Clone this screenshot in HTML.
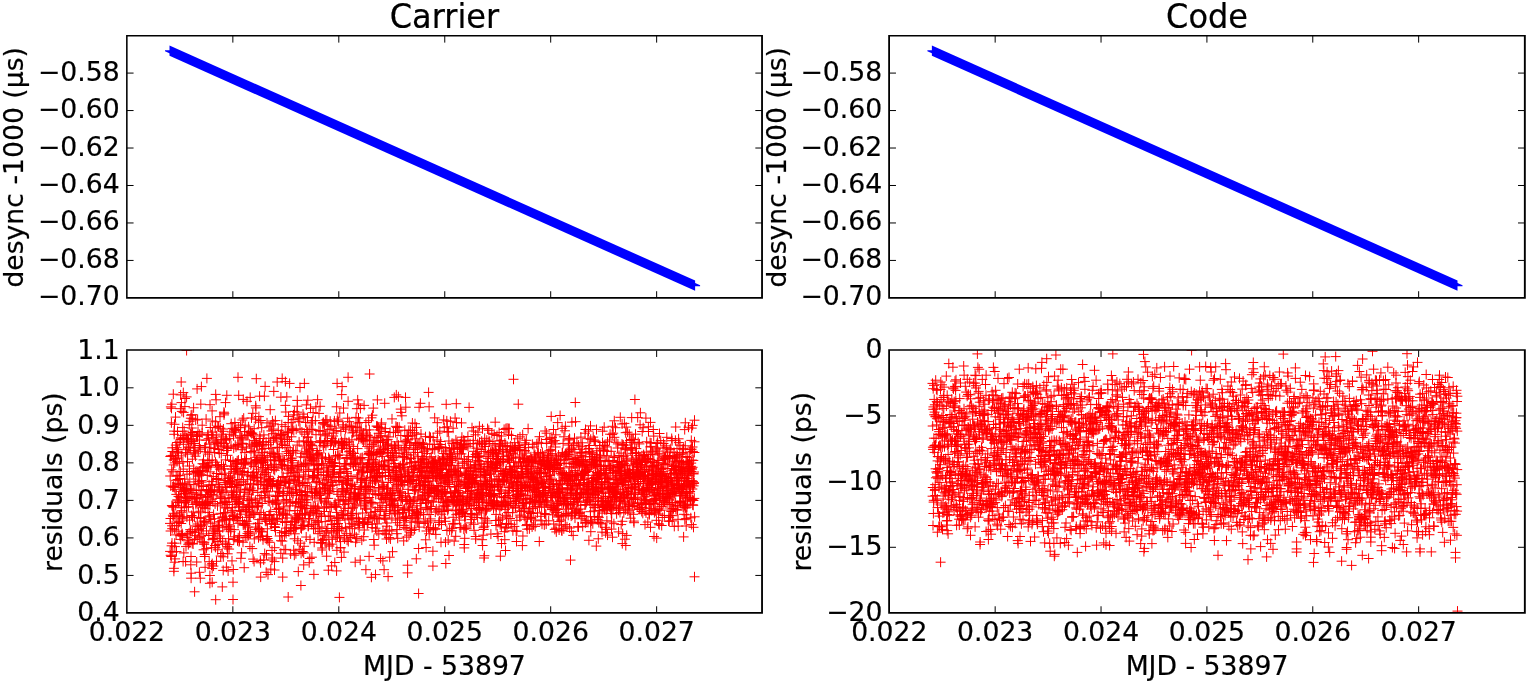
<!DOCTYPE html>
<html lang="en"><head><meta charset="utf-8"><title>Carrier / Code residuals</title>
<style>
html,body{margin:0;padding:0;background:#fff;overflow:hidden}
svg{display:block;font-family:'DejaVu Sans','Liberation Sans',sans-serif;fill:#000}
text{stroke:#000;stroke-width:0.2px;stroke-linejoin:round}
</style></head>
<body>
<svg width="1529" height="684" viewBox="0 0 1529 684">
<rect width="1529" height="684" fill="#fff"/>
<rect x="126.9" y="35.95" width="635.1" height="261.95" fill="#fff"/>
<rect x="889.3" y="35.95" width="635.4" height="261.95" fill="#fff"/>
<rect x="126.9" y="350.3" width="635.1" height="262.65" fill="#fff"/>
<rect x="889.3" y="350.3" width="635.4" height="262.65" fill="#fff"/>
<polygon points="169.5,45.6 695.1,280.55 695.1,290.75 169.5,55.8" fill="#0000ff"/>
<polygon points="165,50.2 170,50.2 170,53.44 165,51.2" fill="#0000ff"/>
<polygon points="700.1,286.15 694.6,286.15 694.6,282.69 700.1,285.15" fill="#0000ff"/>
<polygon points="931.9,45.6 1457.5,280.55 1457.5,290.75 931.9,55.8" fill="#0000ff"/>
<polygon points="927.4,50.2 932.4,50.2 932.4,53.44 927.4,51.2" fill="#0000ff"/>
<polygon points="1462.5,286.15 1457,286.15 1457,282.69 1462.5,285.15" fill="#0000ff"/>
<clipPath id="c10"><rect x="126.9" y="350.3" width="635.1" height="262.65"/></clipPath>
<path clip-path="url(#c10)" d="M165.0 523.4h10m-5 -5v10M165.1 551.4h10m-5 -5v10M165.2 476.0h10m-5 -5v10M165.3 456.4h10m-5 -5v10M165.5 518.5h10m-5 -5v10M165.6 531.0h10m-5 -5v10M165.7 555.3h10m-5 -5v10M165.8 486.0h10m-5 -5v10M165.9 406.9h10m-5 -5v10M166.0 456.1h10m-5 -5v10M166.2 456.0h10m-5 -5v10M166.3 556.5h10m-5 -5v10M166.4 422.9h10m-5 -5v10M166.5 408.3h10m-5 -5v10M166.6 545.8h10m-5 -5v10M166.7 469.9h10m-5 -5v10M166.9 505.6h10m-5 -5v10M167.0 543.1h10m-5 -5v10M167.1 525.8h10m-5 -5v10M167.2 528.7h10m-5 -5v10M167.3 447.8h10m-5 -5v10M167.4 451.5h10m-5 -5v10M167.6 506.4h10m-5 -5v10M167.7 486.9h10m-5 -5v10M167.8 552.2h10m-5 -5v10M167.9 515.2h10m-5 -5v10M168.0 471.8h10m-5 -5v10M168.1 455.4h10m-5 -5v10M168.3 516.6h10m-5 -5v10M168.4 486.5h10m-5 -5v10M168.5 507.3h10m-5 -5v10M168.6 464.9h10m-5 -5v10M168.7 486.4h10m-5 -5v10M168.8 459.9h10m-5 -5v10M169.0 513.3h10m-5 -5v10M169.1 431.1h10m-5 -5v10M169.2 434.3h10m-5 -5v10M169.3 487.4h10m-5 -5v10M169.4 529.3h10m-5 -5v10M169.5 424.3h10m-5 -5v10M169.7 543.2h10m-5 -5v10M169.8 462.9h10m-5 -5v10M169.9 546.6h10m-5 -5v10M170.0 516.6h10m-5 -5v10M170.1 558.9h10m-5 -5v10M170.2 489.3h10m-5 -5v10M170.4 458.9h10m-5 -5v10M170.5 417.1h10m-5 -5v10M170.6 458.2h10m-5 -5v10M170.7 505.5h10m-5 -5v10M170.8 445.1h10m-5 -5v10M170.9 480.3h10m-5 -5v10M171.1 534.9h10m-5 -5v10M171.2 475.9h10m-5 -5v10M171.3 494.4h10m-5 -5v10M171.4 525.6h10m-5 -5v10M171.5 551.6h10m-5 -5v10M171.6 447.7h10m-5 -5v10M171.8 515.9h10m-5 -5v10M171.9 458.1h10m-5 -5v10M172.0 461.6h10m-5 -5v10M172.1 442.5h10m-5 -5v10M172.2 500.9h10m-5 -5v10M172.3 499.8h10m-5 -5v10M172.5 431.5h10m-5 -5v10M172.6 449.4h10m-5 -5v10M172.7 479.5h10m-5 -5v10M172.8 451.2h10m-5 -5v10M172.9 475.3h10m-5 -5v10M173.0 522.8h10m-5 -5v10M173.2 531.1h10m-5 -5v10M173.3 453.0h10m-5 -5v10M173.4 452.7h10m-5 -5v10M173.5 496.4h10m-5 -5v10M173.6 483.4h10m-5 -5v10M173.7 502.4h10m-5 -5v10M173.9 502.4h10m-5 -5v10M174.0 522.2h10m-5 -5v10M174.1 521.8h10m-5 -5v10M174.2 442.1h10m-5 -5v10M174.3 475.7h10m-5 -5v10M174.4 463.3h10m-5 -5v10M174.6 515.1h10m-5 -5v10M174.7 516.8h10m-5 -5v10M174.8 497.0h10m-5 -5v10M174.9 535.7h10m-5 -5v10M175.0 478.5h10m-5 -5v10M175.1 484.5h10m-5 -5v10M175.3 471.5h10m-5 -5v10M175.4 408.7h10m-5 -5v10M175.5 485.7h10m-5 -5v10M175.6 439.5h10m-5 -5v10M175.7 539.4h10m-5 -5v10M175.8 437.9h10m-5 -5v10M176.0 497.9h10m-5 -5v10M176.1 512.2h10m-5 -5v10M176.2 523.5h10m-5 -5v10M176.3 491.4h10m-5 -5v10M176.4 455.9h10m-5 -5v10M176.5 507.8h10m-5 -5v10M176.7 510.7h10m-5 -5v10M176.8 534.4h10m-5 -5v10M176.9 411.4h10m-5 -5v10M177.0 535.5h10m-5 -5v10M177.1 487.7h10m-5 -5v10M177.2 533.6h10m-5 -5v10M177.4 483.7h10m-5 -5v10M177.5 518.3h10m-5 -5v10M177.6 536.1h10m-5 -5v10M177.7 427.6h10m-5 -5v10M177.8 435.7h10m-5 -5v10M177.9 461.9h10m-5 -5v10M178.1 561.5h10m-5 -5v10M178.2 438.5h10m-5 -5v10M178.3 469.1h10m-5 -5v10M178.4 444.3h10m-5 -5v10M178.5 490.7h10m-5 -5v10M178.6 412.4h10m-5 -5v10M178.8 552.9h10m-5 -5v10M178.9 516.9h10m-5 -5v10M179.0 502.9h10m-5 -5v10M179.1 437.9h10m-5 -5v10M179.2 431.2h10m-5 -5v10M179.3 507.0h10m-5 -5v10M179.5 491.6h10m-5 -5v10M179.6 493.6h10m-5 -5v10M179.7 479.2h10m-5 -5v10M179.8 483.1h10m-5 -5v10M179.9 406.6h10m-5 -5v10M180.0 398.5h10m-5 -5v10M180.2 489.3h10m-5 -5v10M180.3 502.3h10m-5 -5v10M180.4 493.8h10m-5 -5v10M180.5 501.8h10m-5 -5v10M180.6 452.6h10m-5 -5v10M180.7 498.0h10m-5 -5v10M180.9 435.3h10m-5 -5v10M181.0 546.6h10m-5 -5v10M181.1 497.7h10m-5 -5v10M181.2 449.7h10m-5 -5v10M181.3 500.5h10m-5 -5v10M181.4 438.3h10m-5 -5v10M181.6 488.7h10m-5 -5v10M181.7 507.3h10m-5 -5v10M181.8 490.3h10m-5 -5v10M181.9 517.1h10m-5 -5v10M182.0 474.2h10m-5 -5v10M182.1 537.6h10m-5 -5v10M182.3 534.0h10m-5 -5v10M182.4 438.8h10m-5 -5v10M182.5 461.6h10m-5 -5v10M182.6 454.1h10m-5 -5v10M182.7 498.8h10m-5 -5v10M182.8 540.8h10m-5 -5v10M183.0 484.7h10m-5 -5v10M183.1 442.1h10m-5 -5v10M183.2 439.6h10m-5 -5v10M183.3 544.7h10m-5 -5v10M183.4 506.7h10m-5 -5v10M183.5 441.1h10m-5 -5v10M183.7 543.1h10m-5 -5v10M183.8 447.0h10m-5 -5v10M183.9 447.9h10m-5 -5v10M184.0 496.5h10m-5 -5v10M184.1 533.1h10m-5 -5v10M184.2 424.7h10m-5 -5v10M184.4 466.0h10m-5 -5v10M184.5 471.5h10m-5 -5v10M184.6 520.1h10m-5 -5v10M184.7 421.3h10m-5 -5v10M184.8 481.9h10m-5 -5v10M184.9 542.9h10m-5 -5v10M185.1 492.2h10m-5 -5v10M185.2 529.7h10m-5 -5v10M185.3 447.9h10m-5 -5v10M185.4 433.9h10m-5 -5v10M185.5 489.0h10m-5 -5v10M185.6 531.5h10m-5 -5v10M185.8 564.8h10m-5 -5v10M185.9 418.2h10m-5 -5v10M186.0 556.5h10m-5 -5v10M186.1 415.2h10m-5 -5v10M186.2 438.8h10m-5 -5v10M186.3 434.7h10m-5 -5v10M186.5 440.9h10m-5 -5v10M186.6 515.5h10m-5 -5v10M186.7 490.3h10m-5 -5v10M186.8 428.0h10m-5 -5v10M186.9 499.0h10m-5 -5v10M187.0 414.7h10m-5 -5v10M187.2 543.4h10m-5 -5v10M187.3 531.4h10m-5 -5v10M187.4 459.2h10m-5 -5v10M187.5 517.6h10m-5 -5v10M187.6 432.5h10m-5 -5v10M187.7 418.9h10m-5 -5v10M187.9 504.3h10m-5 -5v10M188.0 492.8h10m-5 -5v10M188.1 544.0h10m-5 -5v10M188.2 441.4h10m-5 -5v10M188.3 512.0h10m-5 -5v10M188.4 473.9h10m-5 -5v10M188.6 407.8h10m-5 -5v10M188.7 468.7h10m-5 -5v10M188.8 450.6h10m-5 -5v10M188.9 484.4h10m-5 -5v10M189.0 452.3h10m-5 -5v10M189.1 443.4h10m-5 -5v10M189.3 443.6h10m-5 -5v10M189.4 517.2h10m-5 -5v10M189.5 539.5h10m-5 -5v10M189.6 498.7h10m-5 -5v10M189.7 453.8h10m-5 -5v10M189.8 532.6h10m-5 -5v10M190.0 497.6h10m-5 -5v10M190.1 447.6h10m-5 -5v10M190.2 472.0h10m-5 -5v10M190.3 535.7h10m-5 -5v10M190.4 479.1h10m-5 -5v10M190.5 456.2h10m-5 -5v10M190.7 420.0h10m-5 -5v10M190.8 525.9h10m-5 -5v10M190.9 504.4h10m-5 -5v10M191.0 502.9h10m-5 -5v10M191.1 470.9h10m-5 -5v10M191.2 490.0h10m-5 -5v10M191.4 501.8h10m-5 -5v10M191.5 436.3h10m-5 -5v10M191.6 494.2h10m-5 -5v10M191.7 562.0h10m-5 -5v10M191.8 498.6h10m-5 -5v10M191.9 496.9h10m-5 -5v10M192.1 472.5h10m-5 -5v10M192.2 539.0h10m-5 -5v10M192.3 524.0h10m-5 -5v10M192.4 435.7h10m-5 -5v10M192.5 436.3h10m-5 -5v10M192.6 419.3h10m-5 -5v10M192.8 471.5h10m-5 -5v10M192.9 504.3h10m-5 -5v10M193.0 431.5h10m-5 -5v10M193.1 526.6h10m-5 -5v10M193.2 451.3h10m-5 -5v10M193.3 472.8h10m-5 -5v10M193.5 512.8h10m-5 -5v10M193.6 530.8h10m-5 -5v10M193.7 483.4h10m-5 -5v10M193.8 476.0h10m-5 -5v10M193.9 529.6h10m-5 -5v10M194.0 490.5h10m-5 -5v10M194.2 481.4h10m-5 -5v10M194.3 537.7h10m-5 -5v10M194.4 440.0h10m-5 -5v10M194.5 445.5h10m-5 -5v10M194.6 502.1h10m-5 -5v10M194.7 434.3h10m-5 -5v10M194.9 471.4h10m-5 -5v10M195.0 473.1h10m-5 -5v10M195.1 471.1h10m-5 -5v10M195.2 517.6h10m-5 -5v10M195.3 449.1h10m-5 -5v10M195.4 511.2h10m-5 -5v10M195.6 525.8h10m-5 -5v10M195.7 494.6h10m-5 -5v10M195.8 404.2h10m-5 -5v10M195.9 518.4h10m-5 -5v10M196.0 536.3h10m-5 -5v10M196.1 495.4h10m-5 -5v10M196.2 485.8h10m-5 -5v10M196.4 528.3h10m-5 -5v10M196.5 474.7h10m-5 -5v10M196.6 480.6h10m-5 -5v10M196.7 482.1h10m-5 -5v10M196.8 490.3h10m-5 -5v10M196.9 505.5h10m-5 -5v10M197.1 432.9h10m-5 -5v10M197.2 425.2h10m-5 -5v10M197.3 541.8h10m-5 -5v10M197.4 503.3h10m-5 -5v10M197.5 463.7h10m-5 -5v10M197.6 467.2h10m-5 -5v10M197.8 470.6h10m-5 -5v10M197.9 507.3h10m-5 -5v10M198.0 501.8h10m-5 -5v10M198.1 533.9h10m-5 -5v10M198.2 524.9h10m-5 -5v10M198.3 486.5h10m-5 -5v10M198.5 459.9h10m-5 -5v10M198.6 549.8h10m-5 -5v10M198.7 521.1h10m-5 -5v10M198.8 464.2h10m-5 -5v10M198.9 466.8h10m-5 -5v10M199.0 543.0h10m-5 -5v10M199.2 544.3h10m-5 -5v10M199.3 542.2h10m-5 -5v10M199.4 504.6h10m-5 -5v10M199.5 522.3h10m-5 -5v10M199.6 556.5h10m-5 -5v10M199.7 447.6h10m-5 -5v10M199.9 554.4h10m-5 -5v10M200.0 465.8h10m-5 -5v10M200.1 567.3h10m-5 -5v10M200.2 508.6h10m-5 -5v10M200.3 451.9h10m-5 -5v10M200.4 447.0h10m-5 -5v10M200.6 497.4h10m-5 -5v10M200.7 504.2h10m-5 -5v10M200.8 468.1h10m-5 -5v10M200.9 521.4h10m-5 -5v10M201.0 502.8h10m-5 -5v10M201.1 419.1h10m-5 -5v10M201.3 440.2h10m-5 -5v10M201.4 548.4h10m-5 -5v10M201.5 530.9h10m-5 -5v10M201.6 490.0h10m-5 -5v10M201.7 489.5h10m-5 -5v10M201.8 466.5h10m-5 -5v10M202.0 467.1h10m-5 -5v10M202.1 496.4h10m-5 -5v10M202.2 467.0h10m-5 -5v10M202.3 475.4h10m-5 -5v10M202.4 503.4h10m-5 -5v10M202.5 496.9h10m-5 -5v10M202.7 435.2h10m-5 -5v10M202.8 454.1h10m-5 -5v10M202.9 462.9h10m-5 -5v10M203.0 512.4h10m-5 -5v10M203.1 434.4h10m-5 -5v10M203.2 502.7h10m-5 -5v10M203.4 490.2h10m-5 -5v10M203.5 467.0h10m-5 -5v10M203.6 438.7h10m-5 -5v10M203.7 491.7h10m-5 -5v10M203.8 535.5h10m-5 -5v10M203.9 516.9h10m-5 -5v10M204.1 484.8h10m-5 -5v10M204.2 561.7h10m-5 -5v10M204.3 460.5h10m-5 -5v10M204.4 452.3h10m-5 -5v10M204.5 515.9h10m-5 -5v10M204.6 444.1h10m-5 -5v10M204.8 492.6h10m-5 -5v10M204.9 505.5h10m-5 -5v10M205.0 404.7h10m-5 -5v10M205.1 471.9h10m-5 -5v10M205.2 501.2h10m-5 -5v10M205.3 427.5h10m-5 -5v10M205.5 490.7h10m-5 -5v10M205.6 489.8h10m-5 -5v10M205.7 519.6h10m-5 -5v10M205.8 523.2h10m-5 -5v10M205.9 447.8h10m-5 -5v10M206.0 465.4h10m-5 -5v10M206.2 491.9h10m-5 -5v10M206.3 485.3h10m-5 -5v10M206.4 434.7h10m-5 -5v10M206.5 565.0h10m-5 -5v10M206.6 547.8h10m-5 -5v10M206.7 481.6h10m-5 -5v10M206.9 494.4h10m-5 -5v10M207.0 499.1h10m-5 -5v10M207.1 410.9h10m-5 -5v10M207.2 459.9h10m-5 -5v10M207.3 421.0h10m-5 -5v10M207.4 539.6h10m-5 -5v10M207.6 432.1h10m-5 -5v10M207.7 484.8h10m-5 -5v10M207.8 526.4h10m-5 -5v10M207.9 501.5h10m-5 -5v10M208.0 533.3h10m-5 -5v10M208.1 437.7h10m-5 -5v10M208.3 476.6h10m-5 -5v10M208.4 566.1h10m-5 -5v10M208.5 538.4h10m-5 -5v10M208.6 514.4h10m-5 -5v10M208.7 495.2h10m-5 -5v10M208.8 529.9h10m-5 -5v10M209.0 533.7h10m-5 -5v10M209.1 448.5h10m-5 -5v10M209.2 528.2h10m-5 -5v10M209.3 448.4h10m-5 -5v10M209.4 489.9h10m-5 -5v10M209.5 518.7h10m-5 -5v10M209.7 452.5h10m-5 -5v10M209.8 538.3h10m-5 -5v10M209.9 442.2h10m-5 -5v10M210.0 545.5h10m-5 -5v10M210.1 503.9h10m-5 -5v10M210.2 427.7h10m-5 -5v10M210.4 547.4h10m-5 -5v10M210.5 462.2h10m-5 -5v10M210.6 421.8h10m-5 -5v10M210.7 394.4h10m-5 -5v10M210.8 531.8h10m-5 -5v10M210.9 442.1h10m-5 -5v10M211.1 399.8h10m-5 -5v10M211.2 479.5h10m-5 -5v10M211.3 435.9h10m-5 -5v10M211.4 440.1h10m-5 -5v10M211.5 561.3h10m-5 -5v10M211.6 473.5h10m-5 -5v10M211.8 464.8h10m-5 -5v10M211.9 478.5h10m-5 -5v10M212.0 491.7h10m-5 -5v10M212.1 525.9h10m-5 -5v10M212.2 541.5h10m-5 -5v10M212.3 465.7h10m-5 -5v10M212.5 505.9h10m-5 -5v10M212.6 443.9h10m-5 -5v10M212.7 549.8h10m-5 -5v10M212.8 426.1h10m-5 -5v10M212.9 531.1h10m-5 -5v10M213.0 443.5h10m-5 -5v10M213.2 484.4h10m-5 -5v10M213.3 449.5h10m-5 -5v10M213.4 467.2h10m-5 -5v10M213.5 525.7h10m-5 -5v10M213.6 426.5h10m-5 -5v10M213.7 479.3h10m-5 -5v10M213.9 544.6h10m-5 -5v10M214.0 487.1h10m-5 -5v10M214.1 525.1h10m-5 -5v10M214.2 521.8h10m-5 -5v10M214.3 453.2h10m-5 -5v10M214.4 490.3h10m-5 -5v10M214.6 531.0h10m-5 -5v10M214.7 536.0h10m-5 -5v10M214.8 486.9h10m-5 -5v10M214.9 469.1h10m-5 -5v10M215.0 416.7h10m-5 -5v10M215.1 498.4h10m-5 -5v10M215.3 428.2h10m-5 -5v10M215.4 513.3h10m-5 -5v10M215.5 496.8h10m-5 -5v10M215.6 538.4h10m-5 -5v10M215.7 556.0h10m-5 -5v10M215.8 503.7h10m-5 -5v10M216.0 445.8h10m-5 -5v10M216.1 442.2h10m-5 -5v10M216.2 497.9h10m-5 -5v10M216.3 453.5h10m-5 -5v10M216.4 439.6h10m-5 -5v10M216.5 464.6h10m-5 -5v10M216.7 434.2h10m-5 -5v10M216.8 474.5h10m-5 -5v10M216.9 492.6h10m-5 -5v10M217.0 489.2h10m-5 -5v10M217.1 553.5h10m-5 -5v10M217.2 520.6h10m-5 -5v10M217.4 517.0h10m-5 -5v10M217.5 517.3h10m-5 -5v10M217.6 541.2h10m-5 -5v10M217.7 527.7h10m-5 -5v10M217.8 431.3h10m-5 -5v10M217.9 502.7h10m-5 -5v10M218.1 492.0h10m-5 -5v10M218.2 437.0h10m-5 -5v10M218.3 556.8h10m-5 -5v10M218.4 429.0h10m-5 -5v10M218.5 466.3h10m-5 -5v10M218.6 513.8h10m-5 -5v10M218.8 446.8h10m-5 -5v10M218.9 412.2h10m-5 -5v10M219.0 414.9h10m-5 -5v10M219.1 443.6h10m-5 -5v10M219.2 480.4h10m-5 -5v10M219.3 413.3h10m-5 -5v10M219.5 468.8h10m-5 -5v10M219.6 519.3h10m-5 -5v10M219.7 507.8h10m-5 -5v10M219.8 498.6h10m-5 -5v10M219.9 501.4h10m-5 -5v10M220.0 482.4h10m-5 -5v10M220.2 473.2h10m-5 -5v10M220.3 438.8h10m-5 -5v10M220.4 512.6h10m-5 -5v10M220.5 484.4h10m-5 -5v10M220.6 459.9h10m-5 -5v10M220.7 543.2h10m-5 -5v10M220.9 502.5h10m-5 -5v10M221.0 518.9h10m-5 -5v10M221.1 490.9h10m-5 -5v10M221.2 439.4h10m-5 -5v10M221.3 519.8h10m-5 -5v10M221.4 440.2h10m-5 -5v10M221.6 450.5h10m-5 -5v10M221.7 526.6h10m-5 -5v10M221.8 504.5h10m-5 -5v10M221.9 487.5h10m-5 -5v10M222.0 447.2h10m-5 -5v10M222.1 546.6h10m-5 -5v10M222.3 548.0h10m-5 -5v10M222.4 448.2h10m-5 -5v10M222.5 455.3h10m-5 -5v10M222.6 508.1h10m-5 -5v10M222.7 553.8h10m-5 -5v10M222.8 480.8h10m-5 -5v10M223.0 448.0h10m-5 -5v10M223.1 571.0h10m-5 -5v10M223.2 498.2h10m-5 -5v10M223.3 529.7h10m-5 -5v10M223.4 478.5h10m-5 -5v10M223.5 538.7h10m-5 -5v10M223.7 528.1h10m-5 -5v10M223.8 475.8h10m-5 -5v10M223.9 524.8h10m-5 -5v10M224.0 544.6h10m-5 -5v10M224.1 549.1h10m-5 -5v10M224.2 501.9h10m-5 -5v10M224.4 438.6h10m-5 -5v10M224.5 520.0h10m-5 -5v10M224.6 483.3h10m-5 -5v10M224.7 526.2h10m-5 -5v10M224.8 434.3h10m-5 -5v10M224.9 518.7h10m-5 -5v10M225.1 481.7h10m-5 -5v10M225.2 481.5h10m-5 -5v10M225.3 478.2h10m-5 -5v10M225.4 477.2h10m-5 -5v10M225.5 460.4h10m-5 -5v10M225.6 531.7h10m-5 -5v10M225.8 465.9h10m-5 -5v10M225.9 529.5h10m-5 -5v10M226.0 446.0h10m-5 -5v10M226.1 512.1h10m-5 -5v10M226.2 423.7h10m-5 -5v10M226.3 486.5h10m-5 -5v10M226.5 492.2h10m-5 -5v10M226.6 469.2h10m-5 -5v10M226.7 497.6h10m-5 -5v10M226.8 481.0h10m-5 -5v10M226.9 431.9h10m-5 -5v10M227.0 560.9h10m-5 -5v10M227.1 510.3h10m-5 -5v10M227.3 495.2h10m-5 -5v10M227.4 482.9h10m-5 -5v10M227.5 516.3h10m-5 -5v10M227.6 507.6h10m-5 -5v10M227.7 480.2h10m-5 -5v10M227.8 428.4h10m-5 -5v10M228.0 461.5h10m-5 -5v10M228.1 494.3h10m-5 -5v10M228.2 515.7h10m-5 -5v10M228.3 492.2h10m-5 -5v10M228.4 519.1h10m-5 -5v10M228.5 435.8h10m-5 -5v10M228.7 448.2h10m-5 -5v10M228.8 539.5h10m-5 -5v10M228.9 471.4h10m-5 -5v10M229.0 466.7h10m-5 -5v10M229.1 496.9h10m-5 -5v10M229.2 529.7h10m-5 -5v10M229.4 536.8h10m-5 -5v10M229.5 429.8h10m-5 -5v10M229.6 516.5h10m-5 -5v10M229.7 487.3h10m-5 -5v10M229.8 473.0h10m-5 -5v10M229.9 422.5h10m-5 -5v10M230.1 504.4h10m-5 -5v10M230.2 445.1h10m-5 -5v10M230.3 429.5h10m-5 -5v10M230.4 463.0h10m-5 -5v10M230.5 432.2h10m-5 -5v10M230.6 469.3h10m-5 -5v10M230.8 499.7h10m-5 -5v10M230.9 430.4h10m-5 -5v10M231.0 446.8h10m-5 -5v10M231.1 518.3h10m-5 -5v10M231.2 464.1h10m-5 -5v10M231.3 484.5h10m-5 -5v10M231.5 468.4h10m-5 -5v10M231.6 491.1h10m-5 -5v10M231.7 501.3h10m-5 -5v10M231.8 463.2h10m-5 -5v10M231.9 497.8h10m-5 -5v10M232.0 501.6h10m-5 -5v10M232.2 460.9h10m-5 -5v10M232.3 484.4h10m-5 -5v10M232.4 517.5h10m-5 -5v10M232.5 540.8h10m-5 -5v10M232.6 474.1h10m-5 -5v10M232.7 468.5h10m-5 -5v10M232.9 444.5h10m-5 -5v10M233.0 523.3h10m-5 -5v10M233.1 445.2h10m-5 -5v10M233.2 537.8h10m-5 -5v10M233.3 427.3h10m-5 -5v10M233.4 460.1h10m-5 -5v10M233.6 506.8h10m-5 -5v10M233.7 499.0h10m-5 -5v10M233.8 485.5h10m-5 -5v10M233.9 503.4h10m-5 -5v10M234.0 541.8h10m-5 -5v10M234.1 479.5h10m-5 -5v10M234.3 502.7h10m-5 -5v10M234.4 510.7h10m-5 -5v10M234.5 540.8h10m-5 -5v10M234.6 535.6h10m-5 -5v10M234.7 496.9h10m-5 -5v10M234.8 437.9h10m-5 -5v10M235.0 520.5h10m-5 -5v10M235.1 490.0h10m-5 -5v10M235.2 470.8h10m-5 -5v10M235.3 492.1h10m-5 -5v10M235.4 427.7h10m-5 -5v10M235.5 514.2h10m-5 -5v10M235.7 425.1h10m-5 -5v10M235.8 437.9h10m-5 -5v10M235.9 558.3h10m-5 -5v10M236.0 482.8h10m-5 -5v10M236.1 511.3h10m-5 -5v10M236.2 449.7h10m-5 -5v10M236.4 462.2h10m-5 -5v10M236.5 459.6h10m-5 -5v10M236.6 552.8h10m-5 -5v10M236.7 474.7h10m-5 -5v10M236.8 436.0h10m-5 -5v10M236.9 438.0h10m-5 -5v10M237.1 443.2h10m-5 -5v10M237.2 439.9h10m-5 -5v10M237.3 420.0h10m-5 -5v10M237.4 472.9h10m-5 -5v10M237.5 520.8h10m-5 -5v10M237.6 447.1h10m-5 -5v10M237.8 504.6h10m-5 -5v10M237.9 468.2h10m-5 -5v10M238.0 542.2h10m-5 -5v10M238.1 443.7h10m-5 -5v10M238.2 524.8h10m-5 -5v10M238.3 498.8h10m-5 -5v10M238.5 481.3h10m-5 -5v10M238.6 463.9h10m-5 -5v10M238.7 418.2h10m-5 -5v10M238.8 507.2h10m-5 -5v10M238.9 464.0h10m-5 -5v10M239.0 525.0h10m-5 -5v10M239.2 471.5h10m-5 -5v10M239.3 496.2h10m-5 -5v10M239.4 492.3h10m-5 -5v10M239.5 431.6h10m-5 -5v10M239.6 461.1h10m-5 -5v10M239.7 523.7h10m-5 -5v10M239.9 452.6h10m-5 -5v10M240.0 489.1h10m-5 -5v10M240.1 535.9h10m-5 -5v10M240.2 425.2h10m-5 -5v10M240.3 462.4h10m-5 -5v10M240.4 463.7h10m-5 -5v10M240.6 525.4h10m-5 -5v10M240.7 484.5h10m-5 -5v10M240.8 511.9h10m-5 -5v10M240.9 509.3h10m-5 -5v10M241.0 537.5h10m-5 -5v10M241.1 435.4h10m-5 -5v10M241.3 458.9h10m-5 -5v10M241.4 448.0h10m-5 -5v10M241.5 458.8h10m-5 -5v10M241.6 521.3h10m-5 -5v10M241.7 511.3h10m-5 -5v10M241.8 509.8h10m-5 -5v10M242.0 401.3h10m-5 -5v10M242.1 489.5h10m-5 -5v10M242.2 500.4h10m-5 -5v10M242.3 479.7h10m-5 -5v10M242.4 475.1h10m-5 -5v10M242.5 533.4h10m-5 -5v10M242.7 527.0h10m-5 -5v10M242.8 435.6h10m-5 -5v10M242.9 535.8h10m-5 -5v10M243.0 434.9h10m-5 -5v10M243.1 472.5h10m-5 -5v10M243.2 517.4h10m-5 -5v10M243.4 507.4h10m-5 -5v10M243.5 531.4h10m-5 -5v10M243.6 426.8h10m-5 -5v10M243.7 535.3h10m-5 -5v10M243.8 505.2h10m-5 -5v10M243.9 494.2h10m-5 -5v10M244.1 523.8h10m-5 -5v10M244.2 506.7h10m-5 -5v10M244.3 444.1h10m-5 -5v10M244.4 506.3h10m-5 -5v10M244.5 490.1h10m-5 -5v10M244.6 515.3h10m-5 -5v10M244.8 500.8h10m-5 -5v10M244.9 546.6h10m-5 -5v10M245.0 431.7h10m-5 -5v10M245.1 517.1h10m-5 -5v10M245.2 532.1h10m-5 -5v10M245.3 533.8h10m-5 -5v10M245.5 483.3h10m-5 -5v10M245.6 432.4h10m-5 -5v10M245.7 476.3h10m-5 -5v10M245.8 464.9h10m-5 -5v10M245.9 488.1h10m-5 -5v10M246.0 451.5h10m-5 -5v10M246.2 446.2h10m-5 -5v10M246.3 499.6h10m-5 -5v10M246.4 498.1h10m-5 -5v10M246.5 418.0h10m-5 -5v10M246.6 463.2h10m-5 -5v10M246.7 433.6h10m-5 -5v10M246.9 512.2h10m-5 -5v10M247.0 475.8h10m-5 -5v10M247.1 503.1h10m-5 -5v10M247.2 548.6h10m-5 -5v10M247.3 433.1h10m-5 -5v10M247.4 490.3h10m-5 -5v10M247.6 507.7h10m-5 -5v10M247.7 475.4h10m-5 -5v10M247.8 413.3h10m-5 -5v10M247.9 445.1h10m-5 -5v10M248.0 490.8h10m-5 -5v10M248.1 559.1h10m-5 -5v10M248.3 472.6h10m-5 -5v10M248.4 478.1h10m-5 -5v10M248.5 434.7h10m-5 -5v10M248.6 514.5h10m-5 -5v10M248.7 484.8h10m-5 -5v10M248.8 466.4h10m-5 -5v10M249.0 452.8h10m-5 -5v10M249.1 561.5h10m-5 -5v10M249.2 428.7h10m-5 -5v10M249.3 538.9h10m-5 -5v10M249.4 450.8h10m-5 -5v10M249.5 440.4h10m-5 -5v10M249.7 477.3h10m-5 -5v10M249.8 477.1h10m-5 -5v10M249.9 513.3h10m-5 -5v10M250.0 457.3h10m-5 -5v10M250.1 461.7h10m-5 -5v10M250.2 462.7h10m-5 -5v10M250.4 500.2h10m-5 -5v10M250.5 527.1h10m-5 -5v10M250.6 419.2h10m-5 -5v10M250.7 405.8h10m-5 -5v10M250.8 442.9h10m-5 -5v10M250.9 407.9h10m-5 -5v10M251.1 529.3h10m-5 -5v10M251.2 442.2h10m-5 -5v10M251.3 480.7h10m-5 -5v10M251.4 460.4h10m-5 -5v10M251.5 471.9h10m-5 -5v10M251.6 460.7h10m-5 -5v10M251.8 443.4h10m-5 -5v10M251.9 445.0h10m-5 -5v10M252.0 446.3h10m-5 -5v10M252.1 506.6h10m-5 -5v10M252.2 502.4h10m-5 -5v10M252.3 459.5h10m-5 -5v10M252.5 506.8h10m-5 -5v10M252.6 477.4h10m-5 -5v10M252.7 484.1h10m-5 -5v10M252.8 492.4h10m-5 -5v10M252.9 523.2h10m-5 -5v10M253.0 523.7h10m-5 -5v10M253.2 484.5h10m-5 -5v10M253.3 469.2h10m-5 -5v10M253.4 505.3h10m-5 -5v10M253.5 537.7h10m-5 -5v10M253.6 422.2h10m-5 -5v10M253.7 529.7h10m-5 -5v10M253.9 416.6h10m-5 -5v10M254.0 455.2h10m-5 -5v10M254.1 442.4h10m-5 -5v10M254.2 528.5h10m-5 -5v10M254.3 519.6h10m-5 -5v10M254.4 445.1h10m-5 -5v10M254.6 396.2h10m-5 -5v10M254.7 498.8h10m-5 -5v10M254.8 530.0h10m-5 -5v10M254.9 436.0h10m-5 -5v10M255.0 514.6h10m-5 -5v10M255.1 438.5h10m-5 -5v10M255.3 536.5h10m-5 -5v10M255.4 484.5h10m-5 -5v10M255.5 478.0h10m-5 -5v10M255.6 562.8h10m-5 -5v10M255.7 463.7h10m-5 -5v10M255.8 420.5h10m-5 -5v10M256.0 458.2h10m-5 -5v10M256.1 512.4h10m-5 -5v10M256.2 495.5h10m-5 -5v10M256.3 461.9h10m-5 -5v10M256.4 449.2h10m-5 -5v10M256.5 531.3h10m-5 -5v10M256.7 427.7h10m-5 -5v10M256.8 481.9h10m-5 -5v10M256.9 474.9h10m-5 -5v10M257.0 460.4h10m-5 -5v10M257.1 531.9h10m-5 -5v10M257.2 503.5h10m-5 -5v10M257.4 535.9h10m-5 -5v10M257.5 444.3h10m-5 -5v10M257.6 452.6h10m-5 -5v10M257.7 462.2h10m-5 -5v10M257.8 471.0h10m-5 -5v10M257.9 467.6h10m-5 -5v10M258.0 539.8h10m-5 -5v10M258.2 444.8h10m-5 -5v10M258.3 441.7h10m-5 -5v10M258.4 488.8h10m-5 -5v10M258.5 462.5h10m-5 -5v10M258.6 514.5h10m-5 -5v10M258.7 559.9h10m-5 -5v10M258.9 434.9h10m-5 -5v10M259.0 484.5h10m-5 -5v10M259.1 481.9h10m-5 -5v10M259.2 455.8h10m-5 -5v10M259.3 474.4h10m-5 -5v10M259.4 457.7h10m-5 -5v10M259.6 491.7h10m-5 -5v10M259.7 553.6h10m-5 -5v10M259.8 518.0h10m-5 -5v10M259.9 448.5h10m-5 -5v10M260.0 497.2h10m-5 -5v10M260.1 497.8h10m-5 -5v10M260.3 521.2h10m-5 -5v10M260.4 468.0h10m-5 -5v10M260.5 519.4h10m-5 -5v10M260.6 460.9h10m-5 -5v10M260.7 518.0h10m-5 -5v10M260.8 472.6h10m-5 -5v10M261.0 491.1h10m-5 -5v10M261.1 442.1h10m-5 -5v10M261.2 485.0h10m-5 -5v10M261.3 539.3h10m-5 -5v10M261.4 488.2h10m-5 -5v10M261.5 554.9h10m-5 -5v10M261.7 472.7h10m-5 -5v10M261.8 521.2h10m-5 -5v10M261.9 485.2h10m-5 -5v10M262.0 422.9h10m-5 -5v10M262.1 536.5h10m-5 -5v10M262.2 455.8h10m-5 -5v10M262.4 528.8h10m-5 -5v10M262.5 465.3h10m-5 -5v10M262.6 538.5h10m-5 -5v10M262.7 484.4h10m-5 -5v10M262.8 491.8h10m-5 -5v10M262.9 485.0h10m-5 -5v10M263.1 540.8h10m-5 -5v10M263.2 501.1h10m-5 -5v10M263.3 476.3h10m-5 -5v10M263.4 469.5h10m-5 -5v10M263.5 444.8h10m-5 -5v10M263.6 479.5h10m-5 -5v10M263.8 438.3h10m-5 -5v10M263.9 480.5h10m-5 -5v10M264.0 515.5h10m-5 -5v10M264.1 426.8h10m-5 -5v10M264.2 495.2h10m-5 -5v10M264.3 514.5h10m-5 -5v10M264.5 519.7h10m-5 -5v10M264.6 542.3h10m-5 -5v10M264.7 481.4h10m-5 -5v10M264.8 501.7h10m-5 -5v10M264.9 452.1h10m-5 -5v10M265.0 481.3h10m-5 -5v10M265.2 409.7h10m-5 -5v10M265.3 478.4h10m-5 -5v10M265.4 486.3h10m-5 -5v10M265.5 459.7h10m-5 -5v10M265.6 442.2h10m-5 -5v10M265.7 511.6h10m-5 -5v10M265.9 426.0h10m-5 -5v10M266.0 464.3h10m-5 -5v10M266.1 448.2h10m-5 -5v10M266.2 524.1h10m-5 -5v10M266.3 523.6h10m-5 -5v10M266.4 430.9h10m-5 -5v10M266.6 519.4h10m-5 -5v10M266.7 467.4h10m-5 -5v10M266.8 484.2h10m-5 -5v10M266.9 560.0h10m-5 -5v10M267.0 550.4h10m-5 -5v10M267.1 453.3h10m-5 -5v10M267.3 483.2h10m-5 -5v10M267.4 421.0h10m-5 -5v10M267.5 486.4h10m-5 -5v10M267.6 519.7h10m-5 -5v10M267.7 558.0h10m-5 -5v10M267.8 502.6h10m-5 -5v10M268.0 429.1h10m-5 -5v10M268.1 433.7h10m-5 -5v10M268.2 519.8h10m-5 -5v10M268.3 453.5h10m-5 -5v10M268.4 481.4h10m-5 -5v10M268.5 440.2h10m-5 -5v10M268.7 469.3h10m-5 -5v10M268.8 423.9h10m-5 -5v10M268.9 454.3h10m-5 -5v10M269.0 466.1h10m-5 -5v10M269.1 518.1h10m-5 -5v10M269.2 457.1h10m-5 -5v10M269.4 460.6h10m-5 -5v10M269.5 526.6h10m-5 -5v10M269.6 547.7h10m-5 -5v10M269.7 470.3h10m-5 -5v10M269.8 437.3h10m-5 -5v10M269.9 460.7h10m-5 -5v10M270.1 527.5h10m-5 -5v10M270.2 500.3h10m-5 -5v10M270.3 524.3h10m-5 -5v10M270.4 420.6h10m-5 -5v10M270.5 530.5h10m-5 -5v10M270.6 496.5h10m-5 -5v10M270.8 456.8h10m-5 -5v10M270.9 437.1h10m-5 -5v10M271.0 503.3h10m-5 -5v10M271.1 504.3h10m-5 -5v10M271.2 467.3h10m-5 -5v10M271.3 438.6h10m-5 -5v10M271.5 509.6h10m-5 -5v10M271.6 484.5h10m-5 -5v10M271.7 518.5h10m-5 -5v10M271.8 500.1h10m-5 -5v10M271.9 485.6h10m-5 -5v10M272.0 491.2h10m-5 -5v10M272.2 447.6h10m-5 -5v10M272.3 447.3h10m-5 -5v10M272.4 519.8h10m-5 -5v10M272.5 496.0h10m-5 -5v10M272.6 483.7h10m-5 -5v10M272.7 485.6h10m-5 -5v10M272.9 453.9h10m-5 -5v10M273.0 456.1h10m-5 -5v10M273.1 501.9h10m-5 -5v10M273.2 496.0h10m-5 -5v10M273.3 430.4h10m-5 -5v10M273.4 480.3h10m-5 -5v10M273.6 487.9h10m-5 -5v10M273.7 508.0h10m-5 -5v10M273.8 460.1h10m-5 -5v10M273.9 508.7h10m-5 -5v10M274.0 508.7h10m-5 -5v10M274.1 491.8h10m-5 -5v10M274.3 447.7h10m-5 -5v10M274.4 514.7h10m-5 -5v10M274.5 458.1h10m-5 -5v10M274.6 536.0h10m-5 -5v10M274.7 485.5h10m-5 -5v10M274.8 492.2h10m-5 -5v10M275.0 512.1h10m-5 -5v10M275.1 460.8h10m-5 -5v10M275.2 460.2h10m-5 -5v10M275.3 435.6h10m-5 -5v10M275.4 438.9h10m-5 -5v10M275.5 481.2h10m-5 -5v10M275.7 484.2h10m-5 -5v10M275.8 553.3h10m-5 -5v10M275.9 434.3h10m-5 -5v10M276.0 540.7h10m-5 -5v10M276.1 435.7h10m-5 -5v10M276.2 464.4h10m-5 -5v10M276.4 434.0h10m-5 -5v10M276.5 441.8h10m-5 -5v10M276.6 464.6h10m-5 -5v10M276.7 532.7h10m-5 -5v10M276.8 424.7h10m-5 -5v10M276.9 468.2h10m-5 -5v10M277.1 477.6h10m-5 -5v10M277.2 515.2h10m-5 -5v10M277.3 541.1h10m-5 -5v10M277.4 444.3h10m-5 -5v10M277.5 521.4h10m-5 -5v10M277.6 466.1h10m-5 -5v10M277.8 493.6h10m-5 -5v10M277.9 513.2h10m-5 -5v10M278.0 434.5h10m-5 -5v10M278.1 459.5h10m-5 -5v10M278.2 476.6h10m-5 -5v10M278.3 509.1h10m-5 -5v10M278.5 513.8h10m-5 -5v10M278.6 491.6h10m-5 -5v10M278.7 495.5h10m-5 -5v10M278.8 506.9h10m-5 -5v10M278.9 503.1h10m-5 -5v10M279.0 549.8h10m-5 -5v10M279.2 482.4h10m-5 -5v10M279.3 439.1h10m-5 -5v10M279.4 535.5h10m-5 -5v10M279.5 461.2h10m-5 -5v10M279.6 465.6h10m-5 -5v10M279.7 531.7h10m-5 -5v10M279.9 481.5h10m-5 -5v10M280.0 445.5h10m-5 -5v10M280.1 522.5h10m-5 -5v10M280.2 426.6h10m-5 -5v10M280.3 482.0h10m-5 -5v10M280.4 405.4h10m-5 -5v10M280.6 514.2h10m-5 -5v10M280.7 549.4h10m-5 -5v10M280.8 412.0h10m-5 -5v10M280.9 531.7h10m-5 -5v10M281.0 482.7h10m-5 -5v10M281.1 533.6h10m-5 -5v10M281.3 500.9h10m-5 -5v10M281.4 499.5h10m-5 -5v10M281.5 451.7h10m-5 -5v10M281.6 528.1h10m-5 -5v10M281.7 500.0h10m-5 -5v10M281.8 518.0h10m-5 -5v10M282.0 476.6h10m-5 -5v10M282.1 515.0h10m-5 -5v10M282.2 432.4h10m-5 -5v10M282.3 437.1h10m-5 -5v10M282.4 439.4h10m-5 -5v10M282.5 432.9h10m-5 -5v10M282.7 491.2h10m-5 -5v10M282.8 465.9h10m-5 -5v10M282.9 447.7h10m-5 -5v10M283.0 473.2h10m-5 -5v10M283.1 469.2h10m-5 -5v10M283.2 422.5h10m-5 -5v10M283.4 431.8h10m-5 -5v10M283.5 416.4h10m-5 -5v10M283.6 453.5h10m-5 -5v10M283.7 483.0h10m-5 -5v10M283.8 455.6h10m-5 -5v10M283.9 531.7h10m-5 -5v10M284.1 483.3h10m-5 -5v10M284.2 488.7h10m-5 -5v10M284.3 510.8h10m-5 -5v10M284.4 441.4h10m-5 -5v10M284.5 481.2h10m-5 -5v10M284.6 495.1h10m-5 -5v10M284.8 487.3h10m-5 -5v10M284.9 480.0h10m-5 -5v10M285.0 505.8h10m-5 -5v10M285.1 502.2h10m-5 -5v10M285.2 450.6h10m-5 -5v10M285.3 470.7h10m-5 -5v10M285.5 458.1h10m-5 -5v10M285.6 553.9h10m-5 -5v10M285.7 527.9h10m-5 -5v10M285.8 524.8h10m-5 -5v10M285.9 530.5h10m-5 -5v10M286.0 467.3h10m-5 -5v10M286.2 422.7h10m-5 -5v10M286.3 460.1h10m-5 -5v10M286.4 492.6h10m-5 -5v10M286.5 436.8h10m-5 -5v10M286.6 468.4h10m-5 -5v10M286.7 458.3h10m-5 -5v10M286.9 476.2h10m-5 -5v10M287.0 521.4h10m-5 -5v10M287.1 521.2h10m-5 -5v10M287.2 428.3h10m-5 -5v10M287.3 429.5h10m-5 -5v10M287.4 462.9h10m-5 -5v10M287.6 460.5h10m-5 -5v10M287.7 452.9h10m-5 -5v10M287.8 501.8h10m-5 -5v10M287.9 465.4h10m-5 -5v10M288.0 419.6h10m-5 -5v10M288.1 493.5h10m-5 -5v10M288.3 472.3h10m-5 -5v10M288.4 450.4h10m-5 -5v10M288.5 414.9h10m-5 -5v10M288.6 529.1h10m-5 -5v10M288.7 550.2h10m-5 -5v10M288.8 430.5h10m-5 -5v10M288.9 480.7h10m-5 -5v10M289.1 472.3h10m-5 -5v10M289.2 480.0h10m-5 -5v10M289.3 555.2h10m-5 -5v10M289.4 411.4h10m-5 -5v10M289.5 522.2h10m-5 -5v10M289.6 538.8h10m-5 -5v10M289.8 533.8h10m-5 -5v10M289.9 510.6h10m-5 -5v10M290.0 516.0h10m-5 -5v10M290.1 479.2h10m-5 -5v10M290.2 476.0h10m-5 -5v10M290.3 528.3h10m-5 -5v10M290.5 489.4h10m-5 -5v10M290.6 503.6h10m-5 -5v10M290.7 519.0h10m-5 -5v10M290.8 451.0h10m-5 -5v10M290.9 553.7h10m-5 -5v10M291.0 502.4h10m-5 -5v10M291.2 429.3h10m-5 -5v10M291.3 527.4h10m-5 -5v10M291.4 486.0h10m-5 -5v10M291.5 495.7h10m-5 -5v10M291.6 518.0h10m-5 -5v10M291.7 491.2h10m-5 -5v10M291.9 470.0h10m-5 -5v10M292.0 517.8h10m-5 -5v10M292.1 412.2h10m-5 -5v10M292.2 445.1h10m-5 -5v10M292.3 406.2h10m-5 -5v10M292.4 466.3h10m-5 -5v10M292.6 513.7h10m-5 -5v10M292.7 476.3h10m-5 -5v10M292.8 540.8h10m-5 -5v10M292.9 480.9h10m-5 -5v10M293.0 519.7h10m-5 -5v10M293.1 417.9h10m-5 -5v10M293.3 482.2h10m-5 -5v10M293.4 502.3h10m-5 -5v10M293.5 518.3h10m-5 -5v10M293.6 501.4h10m-5 -5v10M293.7 465.0h10m-5 -5v10M293.8 421.3h10m-5 -5v10M294.0 472.1h10m-5 -5v10M294.1 441.9h10m-5 -5v10M294.2 549.3h10m-5 -5v10M294.3 484.8h10m-5 -5v10M294.4 477.7h10m-5 -5v10M294.5 515.3h10m-5 -5v10M294.7 495.3h10m-5 -5v10M294.8 418.8h10m-5 -5v10M294.9 490.7h10m-5 -5v10M295.0 428.9h10m-5 -5v10M295.1 466.6h10m-5 -5v10M295.2 513.3h10m-5 -5v10M295.4 506.5h10m-5 -5v10M295.5 543.2h10m-5 -5v10M295.6 456.9h10m-5 -5v10M295.7 504.8h10m-5 -5v10M295.8 527.9h10m-5 -5v10M295.9 499.1h10m-5 -5v10M296.1 553.3h10m-5 -5v10M296.2 492.5h10m-5 -5v10M296.3 507.7h10m-5 -5v10M296.4 466.5h10m-5 -5v10M296.5 528.7h10m-5 -5v10M296.6 494.7h10m-5 -5v10M296.8 453.3h10m-5 -5v10M296.9 432.0h10m-5 -5v10M297.0 520.1h10m-5 -5v10M297.1 507.9h10m-5 -5v10M297.2 494.5h10m-5 -5v10M297.3 525.7h10m-5 -5v10M297.5 514.1h10m-5 -5v10M297.6 551.5h10m-5 -5v10M297.7 482.5h10m-5 -5v10M297.8 500.1h10m-5 -5v10M297.9 483.5h10m-5 -5v10M298.0 414.1h10m-5 -5v10M298.2 521.9h10m-5 -5v10M298.3 525.5h10m-5 -5v10M298.4 440.9h10m-5 -5v10M298.5 475.0h10m-5 -5v10M298.6 464.7h10m-5 -5v10M298.7 552.9h10m-5 -5v10M298.9 416.7h10m-5 -5v10M299.0 457.2h10m-5 -5v10M299.1 546.3h10m-5 -5v10M299.2 525.1h10m-5 -5v10M299.3 505.4h10m-5 -5v10M299.4 446.1h10m-5 -5v10M299.6 514.1h10m-5 -5v10M299.7 434.2h10m-5 -5v10M299.8 499.7h10m-5 -5v10M299.9 485.5h10m-5 -5v10M300.0 495.3h10m-5 -5v10M300.1 476.8h10m-5 -5v10M300.3 463.6h10m-5 -5v10M300.4 513.9h10m-5 -5v10M300.5 491.7h10m-5 -5v10M300.6 422.5h10m-5 -5v10M300.7 463.0h10m-5 -5v10M300.8 469.8h10m-5 -5v10M301.0 508.5h10m-5 -5v10M301.1 451.8h10m-5 -5v10M301.2 537.0h10m-5 -5v10M301.3 441.3h10m-5 -5v10M301.4 502.4h10m-5 -5v10M301.5 448.0h10m-5 -5v10M301.7 496.9h10m-5 -5v10M301.8 429.5h10m-5 -5v10M301.9 454.1h10m-5 -5v10M302.0 508.8h10m-5 -5v10M302.1 465.8h10m-5 -5v10M302.2 482.8h10m-5 -5v10M302.4 431.8h10m-5 -5v10M302.5 417.5h10m-5 -5v10M302.6 491.5h10m-5 -5v10M302.7 454.0h10m-5 -5v10M302.8 499.8h10m-5 -5v10M302.9 437.3h10m-5 -5v10M303.1 437.0h10m-5 -5v10M303.2 525.9h10m-5 -5v10M303.3 526.4h10m-5 -5v10M303.4 518.5h10m-5 -5v10M303.5 442.5h10m-5 -5v10M303.6 471.5h10m-5 -5v10M303.8 478.9h10m-5 -5v10M303.9 464.0h10m-5 -5v10M304.0 452.1h10m-5 -5v10M304.1 449.7h10m-5 -5v10M304.2 429.6h10m-5 -5v10M304.3 450.8h10m-5 -5v10M304.5 457.0h10m-5 -5v10M304.6 518.9h10m-5 -5v10M304.7 515.1h10m-5 -5v10M304.8 558.5h10m-5 -5v10M304.9 486.9h10m-5 -5v10M305.0 539.4h10m-5 -5v10M305.2 459.9h10m-5 -5v10M305.3 443.2h10m-5 -5v10M305.4 444.6h10m-5 -5v10M305.5 408.3h10m-5 -5v10M305.6 512.4h10m-5 -5v10M305.7 455.9h10m-5 -5v10M305.9 508.2h10m-5 -5v10M306.0 441.7h10m-5 -5v10M306.1 457.3h10m-5 -5v10M306.2 429.2h10m-5 -5v10M306.3 423.0h10m-5 -5v10M306.4 489.0h10m-5 -5v10M306.6 460.7h10m-5 -5v10M306.7 524.4h10m-5 -5v10M306.8 445.3h10m-5 -5v10M306.9 492.8h10m-5 -5v10M307.0 445.8h10m-5 -5v10M307.1 511.1h10m-5 -5v10M307.3 448.4h10m-5 -5v10M307.4 420.8h10m-5 -5v10M307.5 476.2h10m-5 -5v10M307.6 495.8h10m-5 -5v10M307.7 458.4h10m-5 -5v10M307.8 429.7h10m-5 -5v10M308.0 476.9h10m-5 -5v10M308.1 412.6h10m-5 -5v10M308.2 506.0h10m-5 -5v10M308.3 513.0h10m-5 -5v10M308.4 459.9h10m-5 -5v10M308.5 528.8h10m-5 -5v10M308.7 475.4h10m-5 -5v10M308.8 477.5h10m-5 -5v10M308.9 463.9h10m-5 -5v10M309.0 524.3h10m-5 -5v10M309.1 469.3h10m-5 -5v10M309.2 542.3h10m-5 -5v10M309.4 475.5h10m-5 -5v10M309.5 470.8h10m-5 -5v10M309.6 493.1h10m-5 -5v10M309.7 492.9h10m-5 -5v10M309.8 461.0h10m-5 -5v10M309.9 498.0h10m-5 -5v10M310.1 510.7h10m-5 -5v10M310.2 506.2h10m-5 -5v10M310.3 528.5h10m-5 -5v10M310.4 420.6h10m-5 -5v10M310.5 491.1h10m-5 -5v10M310.6 508.0h10m-5 -5v10M310.8 520.4h10m-5 -5v10M310.9 406.9h10m-5 -5v10M311.0 434.7h10m-5 -5v10M311.1 481.4h10m-5 -5v10M311.2 464.6h10m-5 -5v10M311.3 454.7h10m-5 -5v10M311.5 513.8h10m-5 -5v10M311.6 488.9h10m-5 -5v10M311.7 492.5h10m-5 -5v10M311.8 454.9h10m-5 -5v10M311.9 482.7h10m-5 -5v10M312.0 450.6h10m-5 -5v10M312.2 465.6h10m-5 -5v10M312.3 522.3h10m-5 -5v10M312.4 474.8h10m-5 -5v10M312.5 472.2h10m-5 -5v10M312.6 453.4h10m-5 -5v10M312.7 508.3h10m-5 -5v10M312.9 493.1h10m-5 -5v10M313.0 533.7h10m-5 -5v10M313.1 507.0h10m-5 -5v10M313.2 468.7h10m-5 -5v10M313.3 455.1h10m-5 -5v10M313.4 469.7h10m-5 -5v10M313.6 521.8h10m-5 -5v10M313.7 478.1h10m-5 -5v10M313.8 464.2h10m-5 -5v10M313.9 430.5h10m-5 -5v10M314.0 413.4h10m-5 -5v10M314.1 513.7h10m-5 -5v10M314.3 528.2h10m-5 -5v10M314.4 493.7h10m-5 -5v10M314.5 482.9h10m-5 -5v10M314.6 495.5h10m-5 -5v10M314.7 441.7h10m-5 -5v10M314.8 452.9h10m-5 -5v10M315.0 531.3h10m-5 -5v10M315.1 442.6h10m-5 -5v10M315.2 431.2h10m-5 -5v10M315.3 491.3h10m-5 -5v10M315.4 498.9h10m-5 -5v10M315.5 494.8h10m-5 -5v10M315.7 440.7h10m-5 -5v10M315.8 542.5h10m-5 -5v10M315.9 542.9h10m-5 -5v10M316.0 472.3h10m-5 -5v10M316.1 515.1h10m-5 -5v10M316.2 543.0h10m-5 -5v10M316.4 501.0h10m-5 -5v10M316.5 516.5h10m-5 -5v10M316.6 463.7h10m-5 -5v10M316.7 456.9h10m-5 -5v10M316.8 463.9h10m-5 -5v10M316.9 527.0h10m-5 -5v10M317.1 550.0h10m-5 -5v10M317.2 548.0h10m-5 -5v10M317.3 540.1h10m-5 -5v10M317.4 484.7h10m-5 -5v10M317.5 539.9h10m-5 -5v10M317.6 458.7h10m-5 -5v10M317.8 487.9h10m-5 -5v10M317.9 423.7h10m-5 -5v10M318.0 431.0h10m-5 -5v10M318.1 422.6h10m-5 -5v10M318.2 445.4h10m-5 -5v10M318.3 539.3h10m-5 -5v10M318.5 474.8h10m-5 -5v10M318.6 422.5h10m-5 -5v10M318.7 446.9h10m-5 -5v10M318.8 465.3h10m-5 -5v10M318.9 508.0h10m-5 -5v10M319.0 483.8h10m-5 -5v10M319.2 489.9h10m-5 -5v10M319.3 535.7h10m-5 -5v10M319.4 443.0h10m-5 -5v10M319.5 511.5h10m-5 -5v10M319.6 424.8h10m-5 -5v10M319.7 488.3h10m-5 -5v10M319.8 502.8h10m-5 -5v10M320.0 434.3h10m-5 -5v10M320.1 480.1h10m-5 -5v10M320.2 521.6h10m-5 -5v10M320.3 435.8h10m-5 -5v10M320.4 488.0h10m-5 -5v10M320.5 457.8h10m-5 -5v10M320.7 420.0h10m-5 -5v10M320.8 533.0h10m-5 -5v10M320.9 445.6h10m-5 -5v10M321.0 498.4h10m-5 -5v10M321.1 543.0h10m-5 -5v10M321.2 501.2h10m-5 -5v10M321.4 475.6h10m-5 -5v10M321.5 506.8h10m-5 -5v10M321.6 530.7h10m-5 -5v10M321.7 468.0h10m-5 -5v10M321.8 479.3h10m-5 -5v10M321.9 419.8h10m-5 -5v10M322.1 433.2h10m-5 -5v10M322.2 441.5h10m-5 -5v10M322.3 485.4h10m-5 -5v10M322.4 440.5h10m-5 -5v10M322.5 471.7h10m-5 -5v10M322.6 493.6h10m-5 -5v10M322.8 528.5h10m-5 -5v10M322.9 425.2h10m-5 -5v10M323.0 467.1h10m-5 -5v10M323.1 504.1h10m-5 -5v10M323.2 498.4h10m-5 -5v10M323.3 516.5h10m-5 -5v10M323.5 477.7h10m-5 -5v10M323.6 470.1h10m-5 -5v10M323.7 457.7h10m-5 -5v10M323.8 490.6h10m-5 -5v10M323.9 537.1h10m-5 -5v10M324.0 544.9h10m-5 -5v10M324.2 429.4h10m-5 -5v10M324.3 546.1h10m-5 -5v10M324.4 459.4h10m-5 -5v10M324.5 459.8h10m-5 -5v10M324.6 492.9h10m-5 -5v10M324.7 491.2h10m-5 -5v10M324.9 507.3h10m-5 -5v10M325.0 516.1h10m-5 -5v10M325.1 486.2h10m-5 -5v10M325.2 421.2h10m-5 -5v10M325.3 461.4h10m-5 -5v10M325.4 516.1h10m-5 -5v10M325.6 443.9h10m-5 -5v10M325.7 488.9h10m-5 -5v10M325.8 426.4h10m-5 -5v10M325.9 476.6h10m-5 -5v10M326.0 482.2h10m-5 -5v10M326.1 520.6h10m-5 -5v10M326.3 506.9h10m-5 -5v10M326.4 531.2h10m-5 -5v10M326.5 441.8h10m-5 -5v10M326.6 463.2h10m-5 -5v10M326.7 524.5h10m-5 -5v10M326.8 438.4h10m-5 -5v10M327.0 482.3h10m-5 -5v10M327.1 524.2h10m-5 -5v10M327.2 544.1h10m-5 -5v10M327.3 539.3h10m-5 -5v10M327.4 462.8h10m-5 -5v10M327.5 485.3h10m-5 -5v10M327.7 440.8h10m-5 -5v10M327.8 473.1h10m-5 -5v10M327.9 474.6h10m-5 -5v10M328.0 485.0h10m-5 -5v10M328.1 436.0h10m-5 -5v10M328.2 466.4h10m-5 -5v10M328.4 472.0h10m-5 -5v10M328.5 449.5h10m-5 -5v10M328.6 433.1h10m-5 -5v10M328.7 465.5h10m-5 -5v10M328.8 532.9h10m-5 -5v10M328.9 528.4h10m-5 -5v10M329.1 504.9h10m-5 -5v10M329.2 477.1h10m-5 -5v10M329.3 524.4h10m-5 -5v10M329.4 420.9h10m-5 -5v10M329.5 469.6h10m-5 -5v10M329.6 463.4h10m-5 -5v10M329.8 442.3h10m-5 -5v10M329.9 428.1h10m-5 -5v10M330.0 502.9h10m-5 -5v10M330.1 505.0h10m-5 -5v10M330.2 462.9h10m-5 -5v10M330.3 442.3h10m-5 -5v10M330.5 456.2h10m-5 -5v10M330.6 455.8h10m-5 -5v10M330.7 506.4h10m-5 -5v10M330.8 441.3h10m-5 -5v10M330.9 538.0h10m-5 -5v10M331.0 480.5h10m-5 -5v10M331.2 430.6h10m-5 -5v10M331.3 530.7h10m-5 -5v10M331.4 518.4h10m-5 -5v10M331.5 512.4h10m-5 -5v10M331.6 507.2h10m-5 -5v10M331.7 506.9h10m-5 -5v10M331.9 550.3h10m-5 -5v10M332.0 491.5h10m-5 -5v10M332.1 530.3h10m-5 -5v10M332.2 420.9h10m-5 -5v10M332.3 517.2h10m-5 -5v10M332.4 536.0h10m-5 -5v10M332.6 526.5h10m-5 -5v10M332.7 455.4h10m-5 -5v10M332.8 419.1h10m-5 -5v10M332.9 494.3h10m-5 -5v10M333.0 523.5h10m-5 -5v10M333.1 455.3h10m-5 -5v10M333.3 517.9h10m-5 -5v10M333.4 421.7h10m-5 -5v10M333.5 476.6h10m-5 -5v10M333.6 443.9h10m-5 -5v10M333.7 500.8h10m-5 -5v10M333.8 443.1h10m-5 -5v10M334.0 530.8h10m-5 -5v10M334.1 481.2h10m-5 -5v10M334.2 457.9h10m-5 -5v10M334.3 472.7h10m-5 -5v10M334.4 528.9h10m-5 -5v10M334.5 537.4h10m-5 -5v10M334.7 466.6h10m-5 -5v10M334.8 413.0h10m-5 -5v10M334.9 520.2h10m-5 -5v10M335.0 455.0h10m-5 -5v10M335.1 499.8h10m-5 -5v10M335.2 477.4h10m-5 -5v10M335.4 547.8h10m-5 -5v10M335.5 541.6h10m-5 -5v10M335.6 547.7h10m-5 -5v10M335.7 471.9h10m-5 -5v10M335.8 473.2h10m-5 -5v10M335.9 431.4h10m-5 -5v10M336.1 496.4h10m-5 -5v10M336.2 442.6h10m-5 -5v10M336.3 514.1h10m-5 -5v10M336.4 557.4h10m-5 -5v10M336.5 441.5h10m-5 -5v10M336.6 448.1h10m-5 -5v10M336.8 528.6h10m-5 -5v10M336.9 481.9h10m-5 -5v10M337.0 489.9h10m-5 -5v10M337.1 484.3h10m-5 -5v10M337.2 445.8h10m-5 -5v10M337.3 442.8h10m-5 -5v10M337.5 448.4h10m-5 -5v10M337.6 515.4h10m-5 -5v10M337.7 492.0h10m-5 -5v10M337.8 424.9h10m-5 -5v10M337.9 501.1h10m-5 -5v10M338.0 488.6h10m-5 -5v10M338.2 482.3h10m-5 -5v10M338.3 445.0h10m-5 -5v10M338.4 427.0h10m-5 -5v10M338.5 514.3h10m-5 -5v10M338.6 499.8h10m-5 -5v10M338.7 510.7h10m-5 -5v10M338.9 491.2h10m-5 -5v10M339.0 469.7h10m-5 -5v10M339.1 442.8h10m-5 -5v10M339.2 535.6h10m-5 -5v10M339.3 463.8h10m-5 -5v10M339.4 444.9h10m-5 -5v10M339.6 538.9h10m-5 -5v10M339.7 504.6h10m-5 -5v10M339.8 463.5h10m-5 -5v10M339.9 438.9h10m-5 -5v10M340.0 518.3h10m-5 -5v10M340.1 508.3h10m-5 -5v10M340.3 480.5h10m-5 -5v10M340.4 429.2h10m-5 -5v10M340.5 494.2h10m-5 -5v10M340.6 527.6h10m-5 -5v10M340.7 465.1h10m-5 -5v10M340.8 500.2h10m-5 -5v10M341.0 427.8h10m-5 -5v10M341.1 468.7h10m-5 -5v10M341.2 458.6h10m-5 -5v10M341.3 442.7h10m-5 -5v10M341.4 490.3h10m-5 -5v10M341.5 483.7h10m-5 -5v10M341.7 533.7h10m-5 -5v10M341.8 471.6h10m-5 -5v10M341.9 448.4h10m-5 -5v10M342.0 473.4h10m-5 -5v10M342.1 540.1h10m-5 -5v10M342.2 457.5h10m-5 -5v10M342.4 480.5h10m-5 -5v10M342.5 488.3h10m-5 -5v10M342.6 418.2h10m-5 -5v10M342.7 515.4h10m-5 -5v10M342.8 476.0h10m-5 -5v10M342.9 478.4h10m-5 -5v10M343.1 480.5h10m-5 -5v10M343.2 508.4h10m-5 -5v10M343.3 541.5h10m-5 -5v10M343.4 479.9h10m-5 -5v10M343.5 501.8h10m-5 -5v10M343.6 503.4h10m-5 -5v10M343.8 519.8h10m-5 -5v10M343.9 492.2h10m-5 -5v10M344.0 441.8h10m-5 -5v10M344.1 451.8h10m-5 -5v10M344.2 421.7h10m-5 -5v10M344.3 497.2h10m-5 -5v10M344.5 451.1h10m-5 -5v10M344.6 444.9h10m-5 -5v10M344.7 526.4h10m-5 -5v10M344.8 425.2h10m-5 -5v10M344.9 535.5h10m-5 -5v10M345.0 485.6h10m-5 -5v10M345.2 515.6h10m-5 -5v10M345.3 455.4h10m-5 -5v10M345.4 494.1h10m-5 -5v10M345.5 451.3h10m-5 -5v10M345.6 464.5h10m-5 -5v10M345.7 537.5h10m-5 -5v10M345.9 499.2h10m-5 -5v10M346.0 476.4h10m-5 -5v10M346.1 484.9h10m-5 -5v10M346.2 513.4h10m-5 -5v10M346.3 523.7h10m-5 -5v10M346.4 426.5h10m-5 -5v10M346.6 488.4h10m-5 -5v10M346.7 459.0h10m-5 -5v10M346.8 513.4h10m-5 -5v10M346.9 439.9h10m-5 -5v10M347.0 518.0h10m-5 -5v10M347.1 463.3h10m-5 -5v10M347.3 528.7h10m-5 -5v10M347.4 432.9h10m-5 -5v10M347.5 453.4h10m-5 -5v10M347.6 508.2h10m-5 -5v10M347.7 484.2h10m-5 -5v10M347.8 430.8h10m-5 -5v10M348.0 518.8h10m-5 -5v10M348.1 507.3h10m-5 -5v10M348.2 463.6h10m-5 -5v10M348.3 446.4h10m-5 -5v10M348.4 453.2h10m-5 -5v10M348.5 466.2h10m-5 -5v10M348.7 432.3h10m-5 -5v10M348.8 498.8h10m-5 -5v10M348.9 453.5h10m-5 -5v10M349.0 495.0h10m-5 -5v10M349.1 458.9h10m-5 -5v10M349.2 492.9h10m-5 -5v10M349.4 506.0h10m-5 -5v10M349.5 534.2h10m-5 -5v10M349.6 486.6h10m-5 -5v10M349.7 462.1h10m-5 -5v10M349.8 500.2h10m-5 -5v10M349.9 524.7h10m-5 -5v10M350.1 493.1h10m-5 -5v10M350.2 488.9h10m-5 -5v10M350.3 496.7h10m-5 -5v10M350.4 457.0h10m-5 -5v10M350.5 463.8h10m-5 -5v10M350.6 542.2h10m-5 -5v10M350.7 427.3h10m-5 -5v10M350.9 504.1h10m-5 -5v10M351.0 417.4h10m-5 -5v10M351.1 464.5h10m-5 -5v10M351.2 536.9h10m-5 -5v10M351.3 513.9h10m-5 -5v10M351.4 498.3h10m-5 -5v10M351.6 517.9h10m-5 -5v10M351.7 435.9h10m-5 -5v10M351.8 538.6h10m-5 -5v10M351.9 408.7h10m-5 -5v10M352.0 477.0h10m-5 -5v10M352.1 427.2h10m-5 -5v10M352.3 460.0h10m-5 -5v10M352.4 478.3h10m-5 -5v10M352.5 499.0h10m-5 -5v10M352.6 448.6h10m-5 -5v10M352.7 475.0h10m-5 -5v10M352.8 423.1h10m-5 -5v10M353.0 493.5h10m-5 -5v10M353.1 525.2h10m-5 -5v10M353.2 469.9h10m-5 -5v10M353.3 521.7h10m-5 -5v10M353.4 518.7h10m-5 -5v10M353.5 418.0h10m-5 -5v10M353.7 439.1h10m-5 -5v10M353.8 494.8h10m-5 -5v10M353.9 495.8h10m-5 -5v10M354.0 470.1h10m-5 -5v10M354.1 527.7h10m-5 -5v10M354.2 489.3h10m-5 -5v10M354.4 498.3h10m-5 -5v10M354.5 523.7h10m-5 -5v10M354.6 521.7h10m-5 -5v10M354.7 422.5h10m-5 -5v10M354.8 435.0h10m-5 -5v10M354.9 430.8h10m-5 -5v10M355.1 458.4h10m-5 -5v10M355.2 560.2h10m-5 -5v10M355.3 464.0h10m-5 -5v10M355.4 408.4h10m-5 -5v10M355.5 482.3h10m-5 -5v10M355.6 488.9h10m-5 -5v10M355.8 505.1h10m-5 -5v10M355.9 498.1h10m-5 -5v10M356.0 438.5h10m-5 -5v10M356.1 457.8h10m-5 -5v10M356.2 429.0h10m-5 -5v10M356.3 473.0h10m-5 -5v10M356.5 487.2h10m-5 -5v10M356.6 437.8h10m-5 -5v10M356.7 480.0h10m-5 -5v10M356.8 540.1h10m-5 -5v10M356.9 479.9h10m-5 -5v10M357.0 462.9h10m-5 -5v10M357.2 471.8h10m-5 -5v10M357.3 439.8h10m-5 -5v10M357.4 435.9h10m-5 -5v10M357.5 470.1h10m-5 -5v10M357.6 513.0h10m-5 -5v10M357.7 457.6h10m-5 -5v10M357.9 523.2h10m-5 -5v10M358.0 522.4h10m-5 -5v10M358.1 478.5h10m-5 -5v10M358.2 523.4h10m-5 -5v10M358.3 467.2h10m-5 -5v10M358.4 433.1h10m-5 -5v10M358.6 441.2h10m-5 -5v10M358.7 536.7h10m-5 -5v10M358.8 493.9h10m-5 -5v10M358.9 471.9h10m-5 -5v10M359.0 440.0h10m-5 -5v10M359.1 503.1h10m-5 -5v10M359.3 530.0h10m-5 -5v10M359.4 522.8h10m-5 -5v10M359.5 506.0h10m-5 -5v10M359.6 500.8h10m-5 -5v10M359.7 498.3h10m-5 -5v10M359.8 480.7h10m-5 -5v10M360.0 485.9h10m-5 -5v10M360.1 519.2h10m-5 -5v10M360.2 487.5h10m-5 -5v10M360.3 500.8h10m-5 -5v10M360.4 493.1h10m-5 -5v10M360.5 508.2h10m-5 -5v10M360.7 487.1h10m-5 -5v10M360.8 440.8h10m-5 -5v10M360.9 422.5h10m-5 -5v10M361.0 430.1h10m-5 -5v10M361.1 486.4h10m-5 -5v10M361.2 491.2h10m-5 -5v10M361.4 480.0h10m-5 -5v10M361.5 467.0h10m-5 -5v10M361.6 435.1h10m-5 -5v10M361.7 509.2h10m-5 -5v10M361.8 468.1h10m-5 -5v10M361.9 500.6h10m-5 -5v10M362.1 446.4h10m-5 -5v10M362.2 466.8h10m-5 -5v10M362.3 524.5h10m-5 -5v10M362.4 522.7h10m-5 -5v10M362.5 472.5h10m-5 -5v10M362.6 464.4h10m-5 -5v10M362.8 435.4h10m-5 -5v10M362.9 489.5h10m-5 -5v10M363.0 521.9h10m-5 -5v10M363.1 463.7h10m-5 -5v10M363.2 459.9h10m-5 -5v10M363.3 486.4h10m-5 -5v10M363.5 454.7h10m-5 -5v10M363.6 517.8h10m-5 -5v10M363.7 420.7h10m-5 -5v10M363.8 465.1h10m-5 -5v10M363.9 451.8h10m-5 -5v10M364.0 453.5h10m-5 -5v10M364.2 497.5h10m-5 -5v10M364.3 448.1h10m-5 -5v10M364.4 429.9h10m-5 -5v10M364.5 440.2h10m-5 -5v10M364.6 462.8h10m-5 -5v10M364.7 452.9h10m-5 -5v10M364.9 486.5h10m-5 -5v10M365.0 517.6h10m-5 -5v10M365.1 478.0h10m-5 -5v10M365.2 436.9h10m-5 -5v10M365.3 471.4h10m-5 -5v10M365.4 477.8h10m-5 -5v10M365.6 487.8h10m-5 -5v10M365.7 502.1h10m-5 -5v10M365.8 454.7h10m-5 -5v10M365.9 512.3h10m-5 -5v10M366.0 515.2h10m-5 -5v10M366.1 502.6h10m-5 -5v10M366.3 455.4h10m-5 -5v10M366.4 470.3h10m-5 -5v10M366.5 417.8h10m-5 -5v10M366.6 451.8h10m-5 -5v10M366.7 454.1h10m-5 -5v10M366.8 502.7h10m-5 -5v10M367.0 444.4h10m-5 -5v10M367.1 527.6h10m-5 -5v10M367.2 524.1h10m-5 -5v10M367.3 469.4h10m-5 -5v10M367.4 415.2h10m-5 -5v10M367.5 483.0h10m-5 -5v10M367.7 493.7h10m-5 -5v10M367.8 466.7h10m-5 -5v10M367.9 503.9h10m-5 -5v10M368.0 459.6h10m-5 -5v10M368.1 477.2h10m-5 -5v10M368.2 516.3h10m-5 -5v10M368.4 464.2h10m-5 -5v10M368.5 454.5h10m-5 -5v10M368.6 466.6h10m-5 -5v10M368.7 443.0h10m-5 -5v10M368.8 539.5h10m-5 -5v10M368.9 446.2h10m-5 -5v10M369.1 491.0h10m-5 -5v10M369.2 545.2h10m-5 -5v10M369.3 470.7h10m-5 -5v10M369.4 480.2h10m-5 -5v10M369.5 476.5h10m-5 -5v10M369.6 518.5h10m-5 -5v10M369.8 437.8h10m-5 -5v10M369.9 475.7h10m-5 -5v10M370.0 511.4h10m-5 -5v10M370.1 461.1h10m-5 -5v10M370.2 511.5h10m-5 -5v10M370.3 481.2h10m-5 -5v10M370.5 528.2h10m-5 -5v10M370.6 462.8h10m-5 -5v10M370.7 494.5h10m-5 -5v10M370.8 480.7h10m-5 -5v10M370.9 477.7h10m-5 -5v10M371.0 442.1h10m-5 -5v10M371.2 469.1h10m-5 -5v10M371.3 517.8h10m-5 -5v10M371.4 453.8h10m-5 -5v10M371.5 475.6h10m-5 -5v10M371.6 426.1h10m-5 -5v10M371.7 466.5h10m-5 -5v10M371.9 531.1h10m-5 -5v10M372.0 437.6h10m-5 -5v10M372.1 523.9h10m-5 -5v10M372.2 476.8h10m-5 -5v10M372.3 452.5h10m-5 -5v10M372.4 476.6h10m-5 -5v10M372.6 426.3h10m-5 -5v10M372.7 472.9h10m-5 -5v10M372.8 507.6h10m-5 -5v10M372.9 476.8h10m-5 -5v10M373.0 518.7h10m-5 -5v10M373.1 441.0h10m-5 -5v10M373.3 427.5h10m-5 -5v10M373.4 467.1h10m-5 -5v10M373.5 487.5h10m-5 -5v10M373.6 494.2h10m-5 -5v10M373.7 433.3h10m-5 -5v10M373.8 533.9h10m-5 -5v10M374.0 449.9h10m-5 -5v10M374.1 453.2h10m-5 -5v10M374.2 464.1h10m-5 -5v10M374.3 518.8h10m-5 -5v10M374.4 469.2h10m-5 -5v10M374.5 473.6h10m-5 -5v10M374.7 429.9h10m-5 -5v10M374.8 488.9h10m-5 -5v10M374.9 509.4h10m-5 -5v10M375.0 502.8h10m-5 -5v10M375.1 477.0h10m-5 -5v10M375.2 451.4h10m-5 -5v10M375.4 440.6h10m-5 -5v10M375.5 442.4h10m-5 -5v10M375.6 511.1h10m-5 -5v10M375.7 435.7h10m-5 -5v10M375.8 451.9h10m-5 -5v10M375.9 495.8h10m-5 -5v10M376.1 436.2h10m-5 -5v10M376.2 424.2h10m-5 -5v10M376.3 427.9h10m-5 -5v10M376.4 498.2h10m-5 -5v10M376.5 464.8h10m-5 -5v10M376.6 422.9h10m-5 -5v10M376.8 453.9h10m-5 -5v10M376.9 482.2h10m-5 -5v10M377.0 495.5h10m-5 -5v10M377.1 505.7h10m-5 -5v10M377.2 472.5h10m-5 -5v10M377.3 493.5h10m-5 -5v10M377.5 476.2h10m-5 -5v10M377.6 441.0h10m-5 -5v10M377.7 456.4h10m-5 -5v10M377.8 485.0h10m-5 -5v10M377.9 560.9h10m-5 -5v10M378.0 530.7h10m-5 -5v10M378.2 486.6h10m-5 -5v10M378.3 499.5h10m-5 -5v10M378.4 450.0h10m-5 -5v10M378.5 465.6h10m-5 -5v10M378.6 447.9h10m-5 -5v10M378.7 442.5h10m-5 -5v10M378.9 487.2h10m-5 -5v10M379.0 515.4h10m-5 -5v10M379.1 449.5h10m-5 -5v10M379.2 489.1h10m-5 -5v10M379.3 515.7h10m-5 -5v10M379.4 461.8h10m-5 -5v10M379.6 465.8h10m-5 -5v10M379.7 518.0h10m-5 -5v10M379.8 497.9h10m-5 -5v10M379.9 533.3h10m-5 -5v10M380.0 466.5h10m-5 -5v10M380.1 431.5h10m-5 -5v10M380.3 428.6h10m-5 -5v10M380.4 475.4h10m-5 -5v10M380.5 497.6h10m-5 -5v10M380.6 446.2h10m-5 -5v10M380.7 519.2h10m-5 -5v10M380.8 511.4h10m-5 -5v10M381.0 530.9h10m-5 -5v10M381.1 534.2h10m-5 -5v10M381.2 499.0h10m-5 -5v10M381.3 439.9h10m-5 -5v10M381.4 507.3h10m-5 -5v10M381.5 539.0h10m-5 -5v10M381.6 488.8h10m-5 -5v10M381.8 523.0h10m-5 -5v10M381.9 526.2h10m-5 -5v10M382.0 493.2h10m-5 -5v10M382.1 448.4h10m-5 -5v10M382.2 466.8h10m-5 -5v10M382.3 443.9h10m-5 -5v10M382.5 488.2h10m-5 -5v10M382.6 493.8h10m-5 -5v10M382.7 439.4h10m-5 -5v10M382.8 452.9h10m-5 -5v10M382.9 452.7h10m-5 -5v10M383.0 452.7h10m-5 -5v10M383.2 482.5h10m-5 -5v10M383.3 460.4h10m-5 -5v10M383.4 444.9h10m-5 -5v10M383.5 470.0h10m-5 -5v10M383.6 476.3h10m-5 -5v10M383.7 436.9h10m-5 -5v10M383.9 537.6h10m-5 -5v10M384.0 495.6h10m-5 -5v10M384.1 459.9h10m-5 -5v10M384.2 469.2h10m-5 -5v10M384.3 530.0h10m-5 -5v10M384.4 472.5h10m-5 -5v10M384.6 502.9h10m-5 -5v10M384.7 513.6h10m-5 -5v10M384.8 505.6h10m-5 -5v10M384.9 494.3h10m-5 -5v10M385.0 432.4h10m-5 -5v10M385.1 509.9h10m-5 -5v10M385.3 492.2h10m-5 -5v10M385.4 539.0h10m-5 -5v10M385.5 478.7h10m-5 -5v10M385.6 455.4h10m-5 -5v10M385.7 493.5h10m-5 -5v10M385.8 493.2h10m-5 -5v10M386.0 476.1h10m-5 -5v10M386.1 504.3h10m-5 -5v10M386.2 460.5h10m-5 -5v10M386.3 445.3h10m-5 -5v10M386.4 501.3h10m-5 -5v10M386.5 500.0h10m-5 -5v10M386.7 499.1h10m-5 -5v10M386.8 531.0h10m-5 -5v10M386.9 518.1h10m-5 -5v10M387.0 418.9h10m-5 -5v10M387.1 499.6h10m-5 -5v10M387.2 450.7h10m-5 -5v10M387.4 490.3h10m-5 -5v10M387.5 505.4h10m-5 -5v10M387.6 452.9h10m-5 -5v10M387.7 495.5h10m-5 -5v10M387.8 457.9h10m-5 -5v10M387.9 472.7h10m-5 -5v10M388.1 503.9h10m-5 -5v10M388.2 480.8h10m-5 -5v10M388.3 470.5h10m-5 -5v10M388.4 432.4h10m-5 -5v10M388.5 460.1h10m-5 -5v10M388.6 457.4h10m-5 -5v10M388.8 466.7h10m-5 -5v10M388.9 488.2h10m-5 -5v10M389.0 500.4h10m-5 -5v10M389.1 448.6h10m-5 -5v10M389.2 510.6h10m-5 -5v10M389.3 506.8h10m-5 -5v10M389.5 446.0h10m-5 -5v10M389.6 512.1h10m-5 -5v10M389.7 463.5h10m-5 -5v10M389.8 478.2h10m-5 -5v10M389.9 498.3h10m-5 -5v10M390.0 452.9h10m-5 -5v10M390.2 466.8h10m-5 -5v10M390.3 510.8h10m-5 -5v10M390.4 476.4h10m-5 -5v10M390.5 432.6h10m-5 -5v10M390.6 447.3h10m-5 -5v10M390.7 520.0h10m-5 -5v10M390.9 426.3h10m-5 -5v10M391.0 477.0h10m-5 -5v10M391.1 484.7h10m-5 -5v10M391.2 468.0h10m-5 -5v10M391.3 456.0h10m-5 -5v10M391.4 471.9h10m-5 -5v10M391.6 486.1h10m-5 -5v10M391.7 479.7h10m-5 -5v10M391.8 533.7h10m-5 -5v10M391.9 427.3h10m-5 -5v10M392.0 529.6h10m-5 -5v10M392.1 441.8h10m-5 -5v10M392.3 505.5h10m-5 -5v10M392.4 427.1h10m-5 -5v10M392.5 522.7h10m-5 -5v10M392.6 513.9h10m-5 -5v10M392.7 538.3h10m-5 -5v10M392.8 490.3h10m-5 -5v10M393.0 474.6h10m-5 -5v10M393.1 430.9h10m-5 -5v10M393.2 507.4h10m-5 -5v10M393.3 479.1h10m-5 -5v10M393.4 481.0h10m-5 -5v10M393.5 445.2h10m-5 -5v10M393.7 484.0h10m-5 -5v10M393.8 467.4h10m-5 -5v10M393.9 492.9h10m-5 -5v10M394.0 453.4h10m-5 -5v10M394.1 513.8h10m-5 -5v10M394.2 427.1h10m-5 -5v10M394.4 495.5h10m-5 -5v10M394.5 495.2h10m-5 -5v10M394.6 467.8h10m-5 -5v10M394.7 525.2h10m-5 -5v10M394.8 492.9h10m-5 -5v10M394.9 518.8h10m-5 -5v10M395.1 476.8h10m-5 -5v10M395.2 477.0h10m-5 -5v10M395.3 465.8h10m-5 -5v10M395.4 491.7h10m-5 -5v10M395.5 480.6h10m-5 -5v10M395.6 468.1h10m-5 -5v10M395.8 435.6h10m-5 -5v10M395.9 500.9h10m-5 -5v10M396.0 481.4h10m-5 -5v10M396.1 412.4h10m-5 -5v10M396.2 450.1h10m-5 -5v10M396.3 474.2h10m-5 -5v10M396.5 481.9h10m-5 -5v10M396.6 476.1h10m-5 -5v10M396.7 477.6h10m-5 -5v10M396.8 497.8h10m-5 -5v10M396.9 415.8h10m-5 -5v10M397.0 497.3h10m-5 -5v10M397.2 480.2h10m-5 -5v10M397.3 485.0h10m-5 -5v10M397.4 464.9h10m-5 -5v10M397.5 499.6h10m-5 -5v10M397.6 512.5h10m-5 -5v10M397.7 456.3h10m-5 -5v10M397.9 464.4h10m-5 -5v10M398.0 510.2h10m-5 -5v10M398.1 484.8h10m-5 -5v10M398.2 456.6h10m-5 -5v10M398.3 517.3h10m-5 -5v10M398.4 467.3h10m-5 -5v10M398.6 463.9h10m-5 -5v10M398.7 540.9h10m-5 -5v10M398.8 525.6h10m-5 -5v10M398.9 509.7h10m-5 -5v10M399.0 469.2h10m-5 -5v10M399.1 447.9h10m-5 -5v10M399.3 520.4h10m-5 -5v10M399.4 508.7h10m-5 -5v10M399.5 457.6h10m-5 -5v10M399.6 449.1h10m-5 -5v10M399.7 482.5h10m-5 -5v10M399.8 430.2h10m-5 -5v10M400.0 470.9h10m-5 -5v10M400.1 527.6h10m-5 -5v10M400.2 475.2h10m-5 -5v10M400.3 441.6h10m-5 -5v10M400.4 440.8h10m-5 -5v10M400.5 496.1h10m-5 -5v10M400.7 516.8h10m-5 -5v10M400.8 407.2h10m-5 -5v10M400.9 447.6h10m-5 -5v10M401.0 500.0h10m-5 -5v10M401.1 518.5h10m-5 -5v10M401.2 501.4h10m-5 -5v10M401.4 517.0h10m-5 -5v10M401.5 454.2h10m-5 -5v10M401.6 442.9h10m-5 -5v10M401.7 537.1h10m-5 -5v10M401.8 528.9h10m-5 -5v10M401.9 459.2h10m-5 -5v10M402.1 435.5h10m-5 -5v10M402.2 436.3h10m-5 -5v10M402.3 499.7h10m-5 -5v10M402.4 473.2h10m-5 -5v10M402.5 480.4h10m-5 -5v10M402.6 439.3h10m-5 -5v10M402.8 481.2h10m-5 -5v10M402.9 476.5h10m-5 -5v10M403.0 489.3h10m-5 -5v10M403.1 452.3h10m-5 -5v10M403.2 507.1h10m-5 -5v10M403.3 493.4h10m-5 -5v10M403.5 436.3h10m-5 -5v10M403.6 471.9h10m-5 -5v10M403.7 510.0h10m-5 -5v10M403.8 430.5h10m-5 -5v10M403.9 475.7h10m-5 -5v10M404.0 535.1h10m-5 -5v10M404.2 482.0h10m-5 -5v10M404.3 478.9h10m-5 -5v10M404.4 510.8h10m-5 -5v10M404.5 499.4h10m-5 -5v10M404.6 445.4h10m-5 -5v10M404.7 463.0h10m-5 -5v10M404.9 501.0h10m-5 -5v10M405.0 501.2h10m-5 -5v10M405.1 522.2h10m-5 -5v10M405.2 503.7h10m-5 -5v10M405.3 458.1h10m-5 -5v10M405.4 430.2h10m-5 -5v10M405.6 532.8h10m-5 -5v10M405.7 481.5h10m-5 -5v10M405.8 501.7h10m-5 -5v10M405.9 442.6h10m-5 -5v10M406.0 480.3h10m-5 -5v10M406.1 462.7h10m-5 -5v10M406.3 458.6h10m-5 -5v10M406.4 467.0h10m-5 -5v10M406.5 530.5h10m-5 -5v10M406.6 528.0h10m-5 -5v10M406.7 518.2h10m-5 -5v10M406.8 466.6h10m-5 -5v10M407.0 479.4h10m-5 -5v10M407.1 507.2h10m-5 -5v10M407.2 435.7h10m-5 -5v10M407.3 509.9h10m-5 -5v10M407.4 423.0h10m-5 -5v10M407.5 430.3h10m-5 -5v10M407.7 515.5h10m-5 -5v10M407.8 472.5h10m-5 -5v10M407.9 487.0h10m-5 -5v10M408.0 483.9h10m-5 -5v10M408.1 501.0h10m-5 -5v10M408.2 475.1h10m-5 -5v10M408.4 447.9h10m-5 -5v10M408.5 455.0h10m-5 -5v10M408.6 469.1h10m-5 -5v10M408.7 477.3h10m-5 -5v10M408.8 500.8h10m-5 -5v10M408.9 449.2h10m-5 -5v10M409.1 513.2h10m-5 -5v10M409.2 490.3h10m-5 -5v10M409.3 432.7h10m-5 -5v10M409.4 529.6h10m-5 -5v10M409.5 490.1h10m-5 -5v10M409.6 469.3h10m-5 -5v10M409.8 498.0h10m-5 -5v10M409.9 461.4h10m-5 -5v10M410.0 423.7h10m-5 -5v10M410.1 438.9h10m-5 -5v10M410.2 517.2h10m-5 -5v10M410.3 449.6h10m-5 -5v10M410.5 444.9h10m-5 -5v10M410.6 489.6h10m-5 -5v10M410.7 466.0h10m-5 -5v10M410.8 465.7h10m-5 -5v10M410.9 443.3h10m-5 -5v10M411.0 521.2h10m-5 -5v10M411.2 483.4h10m-5 -5v10M411.3 511.4h10m-5 -5v10M411.4 483.3h10m-5 -5v10M411.5 427.4h10m-5 -5v10M411.6 434.0h10m-5 -5v10M411.7 513.3h10m-5 -5v10M411.9 505.8h10m-5 -5v10M412.0 512.4h10m-5 -5v10M412.1 445.3h10m-5 -5v10M412.2 509.8h10m-5 -5v10M412.3 476.1h10m-5 -5v10M412.4 514.9h10m-5 -5v10M412.5 452.5h10m-5 -5v10M412.7 522.1h10m-5 -5v10M412.8 496.9h10m-5 -5v10M412.9 518.8h10m-5 -5v10M413.0 456.8h10m-5 -5v10M413.1 443.4h10m-5 -5v10M413.2 467.7h10m-5 -5v10M413.4 480.1h10m-5 -5v10M413.5 514.9h10m-5 -5v10M413.6 462.3h10m-5 -5v10M413.7 480.6h10m-5 -5v10M413.8 491.8h10m-5 -5v10M413.9 523.0h10m-5 -5v10M414.1 407.3h10m-5 -5v10M414.2 527.1h10m-5 -5v10M414.3 485.6h10m-5 -5v10M414.4 476.8h10m-5 -5v10M414.5 470.8h10m-5 -5v10M414.6 485.4h10m-5 -5v10M414.8 468.5h10m-5 -5v10M414.9 442.4h10m-5 -5v10M415.0 475.0h10m-5 -5v10M415.1 499.2h10m-5 -5v10M415.2 503.5h10m-5 -5v10M415.3 512.8h10m-5 -5v10M415.5 462.3h10m-5 -5v10M415.6 485.9h10m-5 -5v10M415.7 472.6h10m-5 -5v10M415.8 485.4h10m-5 -5v10M415.9 508.8h10m-5 -5v10M416.0 434.1h10m-5 -5v10M416.2 499.9h10m-5 -5v10M416.3 447.0h10m-5 -5v10M416.4 464.2h10m-5 -5v10M416.5 476.1h10m-5 -5v10M416.6 468.9h10m-5 -5v10M416.7 447.0h10m-5 -5v10M416.9 447.9h10m-5 -5v10M417.0 460.1h10m-5 -5v10M417.1 458.7h10m-5 -5v10M417.2 456.4h10m-5 -5v10M417.3 442.9h10m-5 -5v10M417.4 495.7h10m-5 -5v10M417.6 485.8h10m-5 -5v10M417.7 498.0h10m-5 -5v10M417.8 471.6h10m-5 -5v10M417.9 470.6h10m-5 -5v10M418.0 499.2h10m-5 -5v10M418.1 462.9h10m-5 -5v10M418.3 459.8h10m-5 -5v10M418.4 444.6h10m-5 -5v10M418.5 514.8h10m-5 -5v10M418.6 443.8h10m-5 -5v10M418.7 485.8h10m-5 -5v10M418.8 481.2h10m-5 -5v10M419.0 523.4h10m-5 -5v10M419.1 448.6h10m-5 -5v10M419.2 451.2h10m-5 -5v10M419.3 459.3h10m-5 -5v10M419.4 494.8h10m-5 -5v10M419.5 489.3h10m-5 -5v10M419.7 482.3h10m-5 -5v10M419.8 466.5h10m-5 -5v10M419.9 492.6h10m-5 -5v10M420.0 476.1h10m-5 -5v10M420.1 478.5h10m-5 -5v10M420.2 521.2h10m-5 -5v10M420.4 484.4h10m-5 -5v10M420.5 436.7h10m-5 -5v10M420.6 500.6h10m-5 -5v10M420.7 539.8h10m-5 -5v10M420.8 477.0h10m-5 -5v10M420.9 507.4h10m-5 -5v10M421.1 547.6h10m-5 -5v10M421.2 502.8h10m-5 -5v10M421.3 453.4h10m-5 -5v10M421.4 467.5h10m-5 -5v10M421.5 531.0h10m-5 -5v10M421.6 464.9h10m-5 -5v10M421.8 503.0h10m-5 -5v10M421.9 462.1h10m-5 -5v10M422.0 477.7h10m-5 -5v10M422.1 478.3h10m-5 -5v10M422.2 509.6h10m-5 -5v10M422.3 466.4h10m-5 -5v10M422.5 449.9h10m-5 -5v10M422.6 522.8h10m-5 -5v10M422.7 490.3h10m-5 -5v10M422.8 496.0h10m-5 -5v10M422.9 493.3h10m-5 -5v10M423.0 487.8h10m-5 -5v10M423.2 475.5h10m-5 -5v10M423.3 481.6h10m-5 -5v10M423.4 500.4h10m-5 -5v10M423.5 463.8h10m-5 -5v10M423.6 527.8h10m-5 -5v10M423.7 492.6h10m-5 -5v10M423.9 491.8h10m-5 -5v10M424.0 473.0h10m-5 -5v10M424.1 514.5h10m-5 -5v10M424.2 533.8h10m-5 -5v10M424.3 493.3h10m-5 -5v10M424.4 436.4h10m-5 -5v10M424.6 486.0h10m-5 -5v10M424.7 444.2h10m-5 -5v10M424.8 471.6h10m-5 -5v10M424.9 458.0h10m-5 -5v10M425.0 478.3h10m-5 -5v10M425.1 529.2h10m-5 -5v10M425.3 492.2h10m-5 -5v10M425.4 468.1h10m-5 -5v10M425.5 437.4h10m-5 -5v10M425.6 520.9h10m-5 -5v10M425.7 518.9h10m-5 -5v10M425.8 506.4h10m-5 -5v10M426.0 485.7h10m-5 -5v10M426.1 508.6h10m-5 -5v10M426.2 508.6h10m-5 -5v10M426.3 456.7h10m-5 -5v10M426.4 489.8h10m-5 -5v10M426.5 487.5h10m-5 -5v10M426.7 472.1h10m-5 -5v10M426.8 488.5h10m-5 -5v10M426.9 468.0h10m-5 -5v10M427.0 501.8h10m-5 -5v10M427.1 467.2h10m-5 -5v10M427.2 470.2h10m-5 -5v10M427.4 448.7h10m-5 -5v10M427.5 472.0h10m-5 -5v10M427.6 463.3h10m-5 -5v10M427.7 462.0h10m-5 -5v10M427.8 449.1h10m-5 -5v10M427.9 480.9h10m-5 -5v10M428.1 529.9h10m-5 -5v10M428.2 437.6h10m-5 -5v10M428.3 475.7h10m-5 -5v10M428.4 502.0h10m-5 -5v10M428.5 527.7h10m-5 -5v10M428.6 463.0h10m-5 -5v10M428.8 488.5h10m-5 -5v10M428.9 470.9h10m-5 -5v10M429.0 466.9h10m-5 -5v10M429.1 461.2h10m-5 -5v10M429.2 489.9h10m-5 -5v10M429.3 444.3h10m-5 -5v10M429.5 464.9h10m-5 -5v10M429.6 495.9h10m-5 -5v10M429.7 417.9h10m-5 -5v10M429.8 449.7h10m-5 -5v10M429.9 462.4h10m-5 -5v10M430.0 490.0h10m-5 -5v10M430.2 473.7h10m-5 -5v10M430.3 512.1h10m-5 -5v10M430.4 529.2h10m-5 -5v10M430.5 528.7h10m-5 -5v10M430.6 477.3h10m-5 -5v10M430.7 460.4h10m-5 -5v10M430.9 534.4h10m-5 -5v10M431.0 464.8h10m-5 -5v10M431.1 496.7h10m-5 -5v10M431.2 490.6h10m-5 -5v10M431.3 509.0h10m-5 -5v10M431.4 493.7h10m-5 -5v10M431.6 479.0h10m-5 -5v10M431.7 466.6h10m-5 -5v10M431.8 468.7h10m-5 -5v10M431.9 491.0h10m-5 -5v10M432.0 486.0h10m-5 -5v10M432.1 440.0h10m-5 -5v10M432.3 422.7h10m-5 -5v10M432.4 466.7h10m-5 -5v10M432.5 433.1h10m-5 -5v10M432.6 470.0h10m-5 -5v10M432.7 491.1h10m-5 -5v10M432.8 476.5h10m-5 -5v10M433.0 510.9h10m-5 -5v10M433.1 448.3h10m-5 -5v10M433.2 459.9h10m-5 -5v10M433.3 485.5h10m-5 -5v10M433.4 491.5h10m-5 -5v10M433.5 498.3h10m-5 -5v10M433.7 494.9h10m-5 -5v10M433.8 522.4h10m-5 -5v10M433.9 447.5h10m-5 -5v10M434.0 470.4h10m-5 -5v10M434.1 509.1h10m-5 -5v10M434.2 472.3h10m-5 -5v10M434.4 520.8h10m-5 -5v10M434.5 461.0h10m-5 -5v10M434.6 475.7h10m-5 -5v10M434.7 446.7h10m-5 -5v10M434.8 431.2h10m-5 -5v10M434.9 478.3h10m-5 -5v10M435.1 486.8h10m-5 -5v10M435.2 498.9h10m-5 -5v10M435.3 444.5h10m-5 -5v10M435.4 472.9h10m-5 -5v10M435.5 462.9h10m-5 -5v10M435.6 441.5h10m-5 -5v10M435.8 469.2h10m-5 -5v10M435.9 478.4h10m-5 -5v10M436.0 542.3h10m-5 -5v10M436.1 483.7h10m-5 -5v10M436.2 514.2h10m-5 -5v10M436.3 467.0h10m-5 -5v10M436.5 524.6h10m-5 -5v10M436.6 496.7h10m-5 -5v10M436.7 492.8h10m-5 -5v10M436.8 448.1h10m-5 -5v10M436.9 474.3h10m-5 -5v10M437.0 511.5h10m-5 -5v10M437.2 475.3h10m-5 -5v10M437.3 457.9h10m-5 -5v10M437.4 468.6h10m-5 -5v10M437.5 458.7h10m-5 -5v10M437.6 494.1h10m-5 -5v10M437.7 489.7h10m-5 -5v10M437.9 459.1h10m-5 -5v10M438.0 502.5h10m-5 -5v10M438.1 492.2h10m-5 -5v10M438.2 459.7h10m-5 -5v10M438.3 502.0h10m-5 -5v10M438.4 453.6h10m-5 -5v10M438.6 506.8h10m-5 -5v10M438.7 480.0h10m-5 -5v10M438.8 464.0h10m-5 -5v10M438.9 464.0h10m-5 -5v10M439.0 456.8h10m-5 -5v10M439.1 511.7h10m-5 -5v10M439.3 427.7h10m-5 -5v10M439.4 491.7h10m-5 -5v10M439.5 492.1h10m-5 -5v10M439.6 518.2h10m-5 -5v10M439.7 505.3h10m-5 -5v10M439.8 482.3h10m-5 -5v10M440.0 477.3h10m-5 -5v10M440.1 462.7h10m-5 -5v10M440.2 477.2h10m-5 -5v10M440.3 491.8h10m-5 -5v10M440.4 447.5h10m-5 -5v10M440.5 521.3h10m-5 -5v10M440.7 499.9h10m-5 -5v10M440.8 465.7h10m-5 -5v10M440.9 481.8h10m-5 -5v10M441.0 451.1h10m-5 -5v10M441.1 493.7h10m-5 -5v10M441.2 502.9h10m-5 -5v10M441.4 506.3h10m-5 -5v10M441.5 464.9h10m-5 -5v10M441.6 469.5h10m-5 -5v10M441.7 476.3h10m-5 -5v10M441.8 420.9h10m-5 -5v10M441.9 530.5h10m-5 -5v10M442.1 480.7h10m-5 -5v10M442.2 432.1h10m-5 -5v10M442.3 501.2h10m-5 -5v10M442.4 486.5h10m-5 -5v10M442.5 474.7h10m-5 -5v10M442.6 458.2h10m-5 -5v10M442.7 510.5h10m-5 -5v10M442.9 459.8h10m-5 -5v10M443.0 500.7h10m-5 -5v10M443.1 509.2h10m-5 -5v10M443.2 540.0h10m-5 -5v10M443.3 475.8h10m-5 -5v10M443.4 469.4h10m-5 -5v10M443.6 431.6h10m-5 -5v10M443.7 474.9h10m-5 -5v10M443.8 482.7h10m-5 -5v10M443.9 441.0h10m-5 -5v10M444.0 501.6h10m-5 -5v10M444.1 484.3h10m-5 -5v10M444.3 465.9h10m-5 -5v10M444.4 450.0h10m-5 -5v10M444.5 458.6h10m-5 -5v10M444.6 530.1h10m-5 -5v10M444.7 484.4h10m-5 -5v10M444.8 474.9h10m-5 -5v10M445.0 472.8h10m-5 -5v10M445.1 454.4h10m-5 -5v10M445.2 453.2h10m-5 -5v10M445.3 462.7h10m-5 -5v10M445.4 421.3h10m-5 -5v10M445.5 492.4h10m-5 -5v10M445.7 456.2h10m-5 -5v10M445.8 493.1h10m-5 -5v10M445.9 471.7h10m-5 -5v10M446.0 458.8h10m-5 -5v10M446.1 499.8h10m-5 -5v10M446.2 456.3h10m-5 -5v10M446.4 497.8h10m-5 -5v10M446.5 465.4h10m-5 -5v10M446.6 448.4h10m-5 -5v10M446.7 530.8h10m-5 -5v10M446.8 474.4h10m-5 -5v10M446.9 477.7h10m-5 -5v10M447.1 443.2h10m-5 -5v10M447.2 528.3h10m-5 -5v10M447.3 496.6h10m-5 -5v10M447.4 479.1h10m-5 -5v10M447.5 460.6h10m-5 -5v10M447.6 457.1h10m-5 -5v10M447.8 523.9h10m-5 -5v10M447.9 500.0h10m-5 -5v10M448.0 504.9h10m-5 -5v10M448.1 428.2h10m-5 -5v10M448.2 517.3h10m-5 -5v10M448.3 502.6h10m-5 -5v10M448.5 496.4h10m-5 -5v10M448.6 523.9h10m-5 -5v10M448.7 448.0h10m-5 -5v10M448.8 471.4h10m-5 -5v10M448.9 443.7h10m-5 -5v10M449.0 469.3h10m-5 -5v10M449.2 449.4h10m-5 -5v10M449.3 496.7h10m-5 -5v10M449.4 501.8h10m-5 -5v10M449.5 490.9h10m-5 -5v10M449.6 486.5h10m-5 -5v10M449.7 491.1h10m-5 -5v10M449.9 523.4h10m-5 -5v10M450.0 492.3h10m-5 -5v10M450.1 475.1h10m-5 -5v10M450.2 471.5h10m-5 -5v10M450.3 470.3h10m-5 -5v10M450.4 492.6h10m-5 -5v10M450.6 510.9h10m-5 -5v10M450.7 536.3h10m-5 -5v10M450.8 458.3h10m-5 -5v10M450.9 440.1h10m-5 -5v10M451.0 487.1h10m-5 -5v10M451.1 501.3h10m-5 -5v10M451.3 514.7h10m-5 -5v10M451.4 503.3h10m-5 -5v10M451.5 486.7h10m-5 -5v10M451.6 501.6h10m-5 -5v10M451.7 474.3h10m-5 -5v10M451.8 510.3h10m-5 -5v10M452.0 442.5h10m-5 -5v10M452.1 502.1h10m-5 -5v10M452.2 468.1h10m-5 -5v10M452.3 445.9h10m-5 -5v10M452.4 493.2h10m-5 -5v10M452.5 451.9h10m-5 -5v10M452.7 500.6h10m-5 -5v10M452.8 481.1h10m-5 -5v10M452.9 459.1h10m-5 -5v10M453.0 476.1h10m-5 -5v10M453.1 495.3h10m-5 -5v10M453.2 481.5h10m-5 -5v10M453.4 490.6h10m-5 -5v10M453.5 473.3h10m-5 -5v10M453.6 485.7h10m-5 -5v10M453.7 465.8h10m-5 -5v10M453.8 514.0h10m-5 -5v10M453.9 505.6h10m-5 -5v10M454.1 502.5h10m-5 -5v10M454.2 496.8h10m-5 -5v10M454.3 480.0h10m-5 -5v10M454.4 520.1h10m-5 -5v10M454.5 509.8h10m-5 -5v10M454.6 447.1h10m-5 -5v10M454.8 453.7h10m-5 -5v10M454.9 492.7h10m-5 -5v10M455.0 527.6h10m-5 -5v10M455.1 504.5h10m-5 -5v10M455.2 447.7h10m-5 -5v10M455.3 448.0h10m-5 -5v10M455.5 472.2h10m-5 -5v10M455.6 496.4h10m-5 -5v10M455.7 444.0h10m-5 -5v10M455.8 527.7h10m-5 -5v10M455.9 484.4h10m-5 -5v10M456.0 513.8h10m-5 -5v10M456.2 475.9h10m-5 -5v10M456.3 440.9h10m-5 -5v10M456.4 453.9h10m-5 -5v10M456.5 509.2h10m-5 -5v10M456.6 444.7h10m-5 -5v10M456.7 447.7h10m-5 -5v10M456.9 437.2h10m-5 -5v10M457.0 501.0h10m-5 -5v10M457.1 498.9h10m-5 -5v10M457.2 512.6h10m-5 -5v10M457.3 513.0h10m-5 -5v10M457.4 463.3h10m-5 -5v10M457.6 449.7h10m-5 -5v10M457.7 499.6h10m-5 -5v10M457.8 509.7h10m-5 -5v10M457.9 495.9h10m-5 -5v10M458.0 510.8h10m-5 -5v10M458.1 511.7h10m-5 -5v10M458.3 448.1h10m-5 -5v10M458.4 447.7h10m-5 -5v10M458.5 501.8h10m-5 -5v10M458.6 502.8h10m-5 -5v10M458.7 440.2h10m-5 -5v10M458.8 529.2h10m-5 -5v10M459.0 483.8h10m-5 -5v10M459.1 467.9h10m-5 -5v10M459.2 459.0h10m-5 -5v10M459.3 444.3h10m-5 -5v10M459.4 462.0h10m-5 -5v10M459.5 516.6h10m-5 -5v10M459.7 440.9h10m-5 -5v10M459.8 482.4h10m-5 -5v10M459.9 481.7h10m-5 -5v10M460.0 526.0h10m-5 -5v10M460.1 475.1h10m-5 -5v10M460.2 527.9h10m-5 -5v10M460.4 473.9h10m-5 -5v10M460.5 488.5h10m-5 -5v10M460.6 516.2h10m-5 -5v10M460.7 475.4h10m-5 -5v10M460.8 486.2h10m-5 -5v10M460.9 501.7h10m-5 -5v10M461.1 445.0h10m-5 -5v10M461.2 484.9h10m-5 -5v10M461.3 505.2h10m-5 -5v10M461.4 474.6h10m-5 -5v10M461.5 473.7h10m-5 -5v10M461.6 528.7h10m-5 -5v10M461.8 461.5h10m-5 -5v10M461.9 503.5h10m-5 -5v10M462.0 499.7h10m-5 -5v10M462.1 477.7h10m-5 -5v10M462.2 468.2h10m-5 -5v10M462.3 487.6h10m-5 -5v10M462.5 498.0h10m-5 -5v10M462.6 484.3h10m-5 -5v10M462.7 491.7h10m-5 -5v10M462.8 493.3h10m-5 -5v10M462.9 436.5h10m-5 -5v10M463.0 446.3h10m-5 -5v10M463.2 459.7h10m-5 -5v10M463.3 486.3h10m-5 -5v10M463.4 468.1h10m-5 -5v10M463.5 456.6h10m-5 -5v10M463.6 478.8h10m-5 -5v10M463.7 483.0h10m-5 -5v10M463.9 506.1h10m-5 -5v10M464.0 504.1h10m-5 -5v10M464.1 476.4h10m-5 -5v10M464.2 497.7h10m-5 -5v10M464.3 478.2h10m-5 -5v10M464.4 501.0h10m-5 -5v10M464.6 483.5h10m-5 -5v10M464.7 503.9h10m-5 -5v10M464.8 479.5h10m-5 -5v10M464.9 491.6h10m-5 -5v10M465.0 471.7h10m-5 -5v10M465.1 443.7h10m-5 -5v10M465.3 465.0h10m-5 -5v10M465.4 467.9h10m-5 -5v10M465.5 496.8h10m-5 -5v10M465.6 471.4h10m-5 -5v10M465.7 513.5h10m-5 -5v10M465.8 522.9h10m-5 -5v10M466.0 513.9h10m-5 -5v10M466.1 470.4h10m-5 -5v10M466.2 490.5h10m-5 -5v10M466.3 508.5h10m-5 -5v10M466.4 495.1h10m-5 -5v10M466.5 519.6h10m-5 -5v10M466.7 487.4h10m-5 -5v10M466.8 481.3h10m-5 -5v10M466.9 484.7h10m-5 -5v10M467.0 497.8h10m-5 -5v10M467.1 514.7h10m-5 -5v10M467.2 477.6h10m-5 -5v10M467.4 482.4h10m-5 -5v10M467.5 481.4h10m-5 -5v10M467.6 456.9h10m-5 -5v10M467.7 478.7h10m-5 -5v10M467.8 480.4h10m-5 -5v10M467.9 474.4h10m-5 -5v10M468.1 471.5h10m-5 -5v10M468.2 443.6h10m-5 -5v10M468.3 440.4h10m-5 -5v10M468.4 475.6h10m-5 -5v10M468.5 431.0h10m-5 -5v10M468.6 524.3h10m-5 -5v10M468.8 451.3h10m-5 -5v10M468.9 505.5h10m-5 -5v10M469.0 466.8h10m-5 -5v10M469.1 530.3h10m-5 -5v10M469.2 517.4h10m-5 -5v10M469.3 502.1h10m-5 -5v10M469.5 483.6h10m-5 -5v10M469.6 482.7h10m-5 -5v10M469.7 468.1h10m-5 -5v10M469.8 497.9h10m-5 -5v10M469.9 499.7h10m-5 -5v10M470.0 477.6h10m-5 -5v10M470.2 464.7h10m-5 -5v10M470.3 465.7h10m-5 -5v10M470.4 462.1h10m-5 -5v10M470.5 434.8h10m-5 -5v10M470.6 454.4h10m-5 -5v10M470.7 536.5h10m-5 -5v10M470.9 475.0h10m-5 -5v10M471.0 493.3h10m-5 -5v10M471.1 480.4h10m-5 -5v10M471.2 499.9h10m-5 -5v10M471.3 514.9h10m-5 -5v10M471.4 448.2h10m-5 -5v10M471.6 508.3h10m-5 -5v10M471.7 497.6h10m-5 -5v10M471.8 494.3h10m-5 -5v10M471.9 471.8h10m-5 -5v10M472.0 499.3h10m-5 -5v10M472.1 456.1h10m-5 -5v10M472.3 457.7h10m-5 -5v10M472.4 453.4h10m-5 -5v10M472.5 492.6h10m-5 -5v10M472.6 517.5h10m-5 -5v10M472.7 443.6h10m-5 -5v10M472.8 485.1h10m-5 -5v10M473.0 432.2h10m-5 -5v10M473.1 489.9h10m-5 -5v10M473.2 509.3h10m-5 -5v10M473.3 460.6h10m-5 -5v10M473.4 486.7h10m-5 -5v10M473.5 502.3h10m-5 -5v10M473.6 456.6h10m-5 -5v10M473.8 471.2h10m-5 -5v10M473.9 456.9h10m-5 -5v10M474.0 494.1h10m-5 -5v10M474.1 499.1h10m-5 -5v10M474.2 510.3h10m-5 -5v10M474.3 496.0h10m-5 -5v10M474.5 442.2h10m-5 -5v10M474.6 507.5h10m-5 -5v10M474.7 461.3h10m-5 -5v10M474.8 455.9h10m-5 -5v10M474.9 489.4h10m-5 -5v10M475.0 464.0h10m-5 -5v10M475.2 468.4h10m-5 -5v10M475.3 476.7h10m-5 -5v10M475.4 495.1h10m-5 -5v10M475.5 469.7h10m-5 -5v10M475.6 472.0h10m-5 -5v10M475.7 483.3h10m-5 -5v10M475.9 509.2h10m-5 -5v10M476.0 469.2h10m-5 -5v10M476.1 484.4h10m-5 -5v10M476.2 464.3h10m-5 -5v10M476.3 449.5h10m-5 -5v10M476.4 489.4h10m-5 -5v10M476.6 512.9h10m-5 -5v10M476.7 441.2h10m-5 -5v10M476.8 497.7h10m-5 -5v10M476.9 523.1h10m-5 -5v10M477.0 501.2h10m-5 -5v10M477.1 494.0h10m-5 -5v10M477.3 496.1h10m-5 -5v10M477.4 444.7h10m-5 -5v10M477.5 428.8h10m-5 -5v10M477.6 502.5h10m-5 -5v10M477.7 488.0h10m-5 -5v10M477.8 499.2h10m-5 -5v10M478.0 492.4h10m-5 -5v10M478.1 481.3h10m-5 -5v10M478.2 535.2h10m-5 -5v10M478.3 471.7h10m-5 -5v10M478.4 485.9h10m-5 -5v10M478.5 527.7h10m-5 -5v10M478.7 529.5h10m-5 -5v10M478.8 495.4h10m-5 -5v10M478.9 502.6h10m-5 -5v10M479.0 451.4h10m-5 -5v10M479.1 518.1h10m-5 -5v10M479.2 466.2h10m-5 -5v10M479.4 526.2h10m-5 -5v10M479.5 443.6h10m-5 -5v10M479.6 474.1h10m-5 -5v10M479.7 438.3h10m-5 -5v10M479.8 483.4h10m-5 -5v10M479.9 481.4h10m-5 -5v10M480.1 474.5h10m-5 -5v10M480.2 518.8h10m-5 -5v10M480.3 475.5h10m-5 -5v10M480.4 446.5h10m-5 -5v10M480.5 477.7h10m-5 -5v10M480.6 509.7h10m-5 -5v10M480.8 511.2h10m-5 -5v10M480.9 489.0h10m-5 -5v10M481.0 456.4h10m-5 -5v10M481.1 484.5h10m-5 -5v10M481.2 481.4h10m-5 -5v10M481.3 510.1h10m-5 -5v10M481.5 492.6h10m-5 -5v10M481.6 502.8h10m-5 -5v10M481.7 484.4h10m-5 -5v10M481.8 440.2h10m-5 -5v10M481.9 472.3h10m-5 -5v10M482.0 508.5h10m-5 -5v10M482.2 467.2h10m-5 -5v10M482.3 520.9h10m-5 -5v10M482.4 523.1h10m-5 -5v10M482.5 483.1h10m-5 -5v10M482.6 486.1h10m-5 -5v10M482.7 463.2h10m-5 -5v10M482.9 458.3h10m-5 -5v10M483.0 466.6h10m-5 -5v10M483.1 470.4h10m-5 -5v10M483.2 461.5h10m-5 -5v10M483.3 505.7h10m-5 -5v10M483.4 452.2h10m-5 -5v10M483.6 495.2h10m-5 -5v10M483.7 454.0h10m-5 -5v10M483.8 430.3h10m-5 -5v10M483.9 441.4h10m-5 -5v10M484.0 500.8h10m-5 -5v10M484.1 493.8h10m-5 -5v10M484.3 493.6h10m-5 -5v10M484.4 486.8h10m-5 -5v10M484.5 485.0h10m-5 -5v10M484.6 480.8h10m-5 -5v10M484.7 441.4h10m-5 -5v10M484.8 469.1h10m-5 -5v10M485.0 503.3h10m-5 -5v10M485.1 496.5h10m-5 -5v10M485.2 487.6h10m-5 -5v10M485.3 490.3h10m-5 -5v10M485.4 452.3h10m-5 -5v10M485.5 462.7h10m-5 -5v10M485.7 473.8h10m-5 -5v10M485.8 474.2h10m-5 -5v10M485.9 534.1h10m-5 -5v10M486.0 502.1h10m-5 -5v10M486.1 496.6h10m-5 -5v10M486.2 505.7h10m-5 -5v10M486.4 464.6h10m-5 -5v10M486.5 479.8h10m-5 -5v10M486.6 494.6h10m-5 -5v10M486.7 484.3h10m-5 -5v10M486.8 433.3h10m-5 -5v10M486.9 450.4h10m-5 -5v10M487.1 505.2h10m-5 -5v10M487.2 486.5h10m-5 -5v10M487.3 466.1h10m-5 -5v10M487.4 503.9h10m-5 -5v10M487.5 452.1h10m-5 -5v10M487.6 452.7h10m-5 -5v10M487.8 490.0h10m-5 -5v10M487.9 443.5h10m-5 -5v10M488.0 458.5h10m-5 -5v10M488.1 467.9h10m-5 -5v10M488.2 456.7h10m-5 -5v10M488.3 455.0h10m-5 -5v10M488.5 508.6h10m-5 -5v10M488.6 495.5h10m-5 -5v10M488.7 452.5h10m-5 -5v10M488.8 471.8h10m-5 -5v10M488.9 500.7h10m-5 -5v10M489.0 497.1h10m-5 -5v10M489.2 434.4h10m-5 -5v10M489.3 485.7h10m-5 -5v10M489.4 503.9h10m-5 -5v10M489.5 486.6h10m-5 -5v10M489.6 494.3h10m-5 -5v10M489.7 467.4h10m-5 -5v10M489.9 481.2h10m-5 -5v10M490.0 445.0h10m-5 -5v10M490.1 505.7h10m-5 -5v10M490.2 468.5h10m-5 -5v10M490.3 449.8h10m-5 -5v10M490.4 463.7h10m-5 -5v10M490.6 468.7h10m-5 -5v10M490.7 452.7h10m-5 -5v10M490.8 520.5h10m-5 -5v10M490.9 450.2h10m-5 -5v10M491.0 525.5h10m-5 -5v10M491.1 514.4h10m-5 -5v10M491.3 506.8h10m-5 -5v10M491.4 462.9h10m-5 -5v10M491.5 453.5h10m-5 -5v10M491.6 502.0h10m-5 -5v10M491.7 465.4h10m-5 -5v10M491.8 478.9h10m-5 -5v10M492.0 435.5h10m-5 -5v10M492.1 502.2h10m-5 -5v10M492.2 533.8h10m-5 -5v10M492.3 504.7h10m-5 -5v10M492.4 459.4h10m-5 -5v10M492.5 464.8h10m-5 -5v10M492.7 486.4h10m-5 -5v10M492.8 484.6h10m-5 -5v10M492.9 461.3h10m-5 -5v10M493.0 459.2h10m-5 -5v10M493.1 459.0h10m-5 -5v10M493.2 479.3h10m-5 -5v10M493.4 487.7h10m-5 -5v10M493.5 520.4h10m-5 -5v10M493.6 454.1h10m-5 -5v10M493.7 451.0h10m-5 -5v10M493.8 505.5h10m-5 -5v10M493.9 476.3h10m-5 -5v10M494.1 432.6h10m-5 -5v10M494.2 443.8h10m-5 -5v10M494.3 481.0h10m-5 -5v10M494.4 462.9h10m-5 -5v10M494.5 446.7h10m-5 -5v10M494.6 493.5h10m-5 -5v10M494.8 509.1h10m-5 -5v10M494.9 441.0h10m-5 -5v10M495.0 449.4h10m-5 -5v10M495.1 519.2h10m-5 -5v10M495.2 524.6h10m-5 -5v10M495.3 484.5h10m-5 -5v10M495.5 461.7h10m-5 -5v10M495.6 444.0h10m-5 -5v10M495.7 489.9h10m-5 -5v10M495.8 470.6h10m-5 -5v10M495.9 506.4h10m-5 -5v10M496.0 471.5h10m-5 -5v10M496.2 440.4h10m-5 -5v10M496.3 496.7h10m-5 -5v10M496.4 526.8h10m-5 -5v10M496.5 436.0h10m-5 -5v10M496.6 491.1h10m-5 -5v10M496.7 506.0h10m-5 -5v10M496.9 503.0h10m-5 -5v10M497.0 480.7h10m-5 -5v10M497.1 459.4h10m-5 -5v10M497.2 505.1h10m-5 -5v10M497.3 482.0h10m-5 -5v10M497.4 517.9h10m-5 -5v10M497.6 445.9h10m-5 -5v10M497.7 449.3h10m-5 -5v10M497.8 474.0h10m-5 -5v10M497.9 462.0h10m-5 -5v10M498.0 451.3h10m-5 -5v10M498.1 471.4h10m-5 -5v10M498.3 473.5h10m-5 -5v10M498.4 501.2h10m-5 -5v10M498.5 456.4h10m-5 -5v10M498.6 461.4h10m-5 -5v10M498.7 479.8h10m-5 -5v10M498.8 481.5h10m-5 -5v10M499.0 502.9h10m-5 -5v10M499.1 429.4h10m-5 -5v10M499.2 473.8h10m-5 -5v10M499.3 481.8h10m-5 -5v10M499.4 531.7h10m-5 -5v10M499.5 475.0h10m-5 -5v10M499.7 497.5h10m-5 -5v10M499.8 539.7h10m-5 -5v10M499.9 443.1h10m-5 -5v10M500.0 509.4h10m-5 -5v10M500.1 473.7h10m-5 -5v10M500.2 497.2h10m-5 -5v10M500.4 504.3h10m-5 -5v10M500.5 472.0h10m-5 -5v10M500.6 527.7h10m-5 -5v10M500.7 504.9h10m-5 -5v10M500.8 445.7h10m-5 -5v10M500.9 493.3h10m-5 -5v10M501.1 515.3h10m-5 -5v10M501.2 468.8h10m-5 -5v10M501.3 480.3h10m-5 -5v10M501.4 452.7h10m-5 -5v10M501.5 523.5h10m-5 -5v10M501.6 479.8h10m-5 -5v10M501.8 516.8h10m-5 -5v10M501.9 502.8h10m-5 -5v10M502.0 527.9h10m-5 -5v10M502.1 428.2h10m-5 -5v10M502.2 449.8h10m-5 -5v10M502.3 446.3h10m-5 -5v10M502.5 477.2h10m-5 -5v10M502.6 459.4h10m-5 -5v10M502.7 475.7h10m-5 -5v10M502.8 506.9h10m-5 -5v10M502.9 495.5h10m-5 -5v10M503.0 492.8h10m-5 -5v10M503.2 512.5h10m-5 -5v10M503.3 505.5h10m-5 -5v10M503.4 523.8h10m-5 -5v10M503.5 434.3h10m-5 -5v10M503.6 459.0h10m-5 -5v10M503.7 487.4h10m-5 -5v10M503.9 455.2h10m-5 -5v10M504.0 495.7h10m-5 -5v10M504.1 490.7h10m-5 -5v10M504.2 428.6h10m-5 -5v10M504.3 462.2h10m-5 -5v10M504.4 487.4h10m-5 -5v10M504.5 460.6h10m-5 -5v10M504.7 471.5h10m-5 -5v10M504.8 486.0h10m-5 -5v10M504.9 449.8h10m-5 -5v10M505.0 518.5h10m-5 -5v10M505.1 466.7h10m-5 -5v10M505.2 478.8h10m-5 -5v10M505.4 501.4h10m-5 -5v10M505.5 451.6h10m-5 -5v10M505.6 469.5h10m-5 -5v10M505.7 445.9h10m-5 -5v10M505.8 503.2h10m-5 -5v10M505.9 474.5h10m-5 -5v10M506.1 482.2h10m-5 -5v10M506.2 524.3h10m-5 -5v10M506.3 476.0h10m-5 -5v10M506.4 472.5h10m-5 -5v10M506.5 435.5h10m-5 -5v10M506.6 458.1h10m-5 -5v10M506.8 470.7h10m-5 -5v10M506.9 477.5h10m-5 -5v10M507.0 483.3h10m-5 -5v10M507.1 471.2h10m-5 -5v10M507.2 487.0h10m-5 -5v10M507.3 447.0h10m-5 -5v10M507.5 471.5h10m-5 -5v10M507.6 512.7h10m-5 -5v10M507.7 471.8h10m-5 -5v10M507.8 453.3h10m-5 -5v10M507.9 530.8h10m-5 -5v10M508.0 508.1h10m-5 -5v10M508.2 498.5h10m-5 -5v10M508.3 490.5h10m-5 -5v10M508.4 488.6h10m-5 -5v10M508.5 462.3h10m-5 -5v10M508.6 458.1h10m-5 -5v10M508.7 484.7h10m-5 -5v10M508.9 503.7h10m-5 -5v10M509.0 450.6h10m-5 -5v10M509.1 468.0h10m-5 -5v10M509.2 448.4h10m-5 -5v10M509.3 477.5h10m-5 -5v10M509.4 526.4h10m-5 -5v10M509.6 476.8h10m-5 -5v10M509.7 442.7h10m-5 -5v10M509.8 466.5h10m-5 -5v10M509.9 466.0h10m-5 -5v10M510.0 497.9h10m-5 -5v10M510.1 450.1h10m-5 -5v10M510.3 447.6h10m-5 -5v10M510.4 507.1h10m-5 -5v10M510.5 501.5h10m-5 -5v10M510.6 507.2h10m-5 -5v10M510.7 457.1h10m-5 -5v10M510.8 474.9h10m-5 -5v10M511.0 491.3h10m-5 -5v10M511.1 486.0h10m-5 -5v10M511.2 531.3h10m-5 -5v10M511.3 481.6h10m-5 -5v10M511.4 494.6h10m-5 -5v10M511.5 500.3h10m-5 -5v10M511.7 482.6h10m-5 -5v10M511.8 466.9h10m-5 -5v10M511.9 520.3h10m-5 -5v10M512.0 496.4h10m-5 -5v10M512.1 473.0h10m-5 -5v10M512.2 449.9h10m-5 -5v10M512.4 485.1h10m-5 -5v10M512.5 494.9h10m-5 -5v10M512.6 494.7h10m-5 -5v10M512.7 438.8h10m-5 -5v10M512.8 478.3h10m-5 -5v10M512.9 477.7h10m-5 -5v10M513.1 475.3h10m-5 -5v10M513.2 445.4h10m-5 -5v10M513.3 488.6h10m-5 -5v10M513.4 490.9h10m-5 -5v10M513.5 494.4h10m-5 -5v10M513.6 463.9h10m-5 -5v10M513.8 505.4h10m-5 -5v10M513.9 477.1h10m-5 -5v10M514.0 445.8h10m-5 -5v10M514.1 478.5h10m-5 -5v10M514.2 496.4h10m-5 -5v10M514.3 447.5h10m-5 -5v10M514.5 450.1h10m-5 -5v10M514.6 457.1h10m-5 -5v10M514.7 510.9h10m-5 -5v10M514.8 515.1h10m-5 -5v10M514.9 517.1h10m-5 -5v10M515.0 436.9h10m-5 -5v10M515.2 449.3h10m-5 -5v10M515.3 494.3h10m-5 -5v10M515.4 488.8h10m-5 -5v10M515.5 461.8h10m-5 -5v10M515.6 483.0h10m-5 -5v10M515.7 490.7h10m-5 -5v10M515.9 493.3h10m-5 -5v10M516.0 472.1h10m-5 -5v10M516.1 499.8h10m-5 -5v10M516.2 477.3h10m-5 -5v10M516.3 486.0h10m-5 -5v10M516.4 466.0h10m-5 -5v10M516.6 488.5h10m-5 -5v10M516.7 511.4h10m-5 -5v10M516.8 468.6h10m-5 -5v10M516.9 474.6h10m-5 -5v10M517.0 484.6h10m-5 -5v10M517.1 455.0h10m-5 -5v10M517.3 487.8h10m-5 -5v10M517.4 474.1h10m-5 -5v10M517.5 471.5h10m-5 -5v10M517.6 503.0h10m-5 -5v10M517.7 434.7h10m-5 -5v10M517.8 458.1h10m-5 -5v10M518.0 503.0h10m-5 -5v10M518.1 495.1h10m-5 -5v10M518.2 459.2h10m-5 -5v10M518.3 476.3h10m-5 -5v10M518.4 503.2h10m-5 -5v10M518.5 462.4h10m-5 -5v10M518.7 498.7h10m-5 -5v10M518.8 502.6h10m-5 -5v10M518.9 510.0h10m-5 -5v10M519.0 482.2h10m-5 -5v10M519.1 461.5h10m-5 -5v10M519.2 516.2h10m-5 -5v10M519.4 508.5h10m-5 -5v10M519.5 458.6h10m-5 -5v10M519.6 485.6h10m-5 -5v10M519.7 450.5h10m-5 -5v10M519.8 442.8h10m-5 -5v10M519.9 451.0h10m-5 -5v10M520.1 485.4h10m-5 -5v10M520.2 519.2h10m-5 -5v10M520.3 495.7h10m-5 -5v10M520.4 466.1h10m-5 -5v10M520.5 444.3h10m-5 -5v10M520.6 502.6h10m-5 -5v10M520.8 486.3h10m-5 -5v10M520.9 476.3h10m-5 -5v10M521.0 453.1h10m-5 -5v10M521.1 487.1h10m-5 -5v10M521.2 461.2h10m-5 -5v10M521.3 440.3h10m-5 -5v10M521.5 525.6h10m-5 -5v10M521.6 503.7h10m-5 -5v10M521.7 466.2h10m-5 -5v10M521.8 469.9h10m-5 -5v10M521.9 477.0h10m-5 -5v10M522.0 498.5h10m-5 -5v10M522.2 529.2h10m-5 -5v10M522.3 469.1h10m-5 -5v10M522.4 460.3h10m-5 -5v10M522.5 487.5h10m-5 -5v10M522.6 517.4h10m-5 -5v10M522.7 491.0h10m-5 -5v10M522.9 490.7h10m-5 -5v10M523.0 473.3h10m-5 -5v10M523.1 473.6h10m-5 -5v10M523.2 478.0h10m-5 -5v10M523.3 460.3h10m-5 -5v10M523.4 447.6h10m-5 -5v10M523.6 462.0h10m-5 -5v10M523.7 511.4h10m-5 -5v10M523.8 466.8h10m-5 -5v10M523.9 474.8h10m-5 -5v10M524.0 485.1h10m-5 -5v10M524.1 460.4h10m-5 -5v10M524.3 486.7h10m-5 -5v10M524.4 528.8h10m-5 -5v10M524.5 487.6h10m-5 -5v10M524.6 502.7h10m-5 -5v10M524.7 508.1h10m-5 -5v10M524.8 460.0h10m-5 -5v10M525.0 512.7h10m-5 -5v10M525.1 497.9h10m-5 -5v10M525.2 461.7h10m-5 -5v10M525.3 485.2h10m-5 -5v10M525.4 499.6h10m-5 -5v10M525.5 517.3h10m-5 -5v10M525.7 471.4h10m-5 -5v10M525.8 476.9h10m-5 -5v10M525.9 481.9h10m-5 -5v10M526.0 456.8h10m-5 -5v10M526.1 513.5h10m-5 -5v10M526.2 518.7h10m-5 -5v10M526.4 517.8h10m-5 -5v10M526.5 468.8h10m-5 -5v10M526.6 459.7h10m-5 -5v10M526.7 472.6h10m-5 -5v10M526.8 461.8h10m-5 -5v10M526.9 476.1h10m-5 -5v10M527.1 527.0h10m-5 -5v10M527.2 480.0h10m-5 -5v10M527.3 501.3h10m-5 -5v10M527.4 444.3h10m-5 -5v10M527.5 495.9h10m-5 -5v10M527.6 508.6h10m-5 -5v10M527.8 461.8h10m-5 -5v10M527.9 478.2h10m-5 -5v10M528.0 462.0h10m-5 -5v10M528.1 466.3h10m-5 -5v10M528.2 513.6h10m-5 -5v10M528.3 488.1h10m-5 -5v10M528.5 524.9h10m-5 -5v10M528.6 479.5h10m-5 -5v10M528.7 478.1h10m-5 -5v10M528.8 504.0h10m-5 -5v10M528.9 486.2h10m-5 -5v10M529.0 447.0h10m-5 -5v10M529.2 489.4h10m-5 -5v10M529.3 489.7h10m-5 -5v10M529.4 501.5h10m-5 -5v10M529.5 456.0h10m-5 -5v10M529.6 492.7h10m-5 -5v10M529.7 473.9h10m-5 -5v10M529.9 482.2h10m-5 -5v10M530.0 454.8h10m-5 -5v10M530.1 462.8h10m-5 -5v10M530.2 520.0h10m-5 -5v10M530.3 502.3h10m-5 -5v10M530.4 506.6h10m-5 -5v10M530.6 480.1h10m-5 -5v10M530.7 458.7h10m-5 -5v10M530.8 491.2h10m-5 -5v10M530.9 457.3h10m-5 -5v10M531.0 500.4h10m-5 -5v10M531.1 491.0h10m-5 -5v10M531.3 473.8h10m-5 -5v10M531.4 488.4h10m-5 -5v10M531.5 494.4h10m-5 -5v10M531.6 496.2h10m-5 -5v10M531.7 482.2h10m-5 -5v10M531.8 443.8h10m-5 -5v10M532.0 485.1h10m-5 -5v10M532.1 484.6h10m-5 -5v10M532.2 492.6h10m-5 -5v10M532.3 477.8h10m-5 -5v10M532.4 452.8h10m-5 -5v10M532.5 512.8h10m-5 -5v10M532.7 478.2h10m-5 -5v10M532.8 467.9h10m-5 -5v10M532.9 470.7h10m-5 -5v10M533.0 502.5h10m-5 -5v10M533.1 497.7h10m-5 -5v10M533.2 442.3h10m-5 -5v10M533.4 453.1h10m-5 -5v10M533.5 484.9h10m-5 -5v10M533.6 487.2h10m-5 -5v10M533.7 492.0h10m-5 -5v10M533.8 463.6h10m-5 -5v10M533.9 502.0h10m-5 -5v10M534.1 487.9h10m-5 -5v10M534.2 472.4h10m-5 -5v10M534.3 495.1h10m-5 -5v10M534.4 507.2h10m-5 -5v10M534.5 436.7h10m-5 -5v10M534.6 473.1h10m-5 -5v10M534.8 496.5h10m-5 -5v10M534.9 461.1h10m-5 -5v10M535.0 472.1h10m-5 -5v10M535.1 459.9h10m-5 -5v10M535.2 480.1h10m-5 -5v10M535.3 468.4h10m-5 -5v10M535.4 501.6h10m-5 -5v10M535.6 454.0h10m-5 -5v10M535.7 460.8h10m-5 -5v10M535.8 494.7h10m-5 -5v10M535.9 516.3h10m-5 -5v10M536.0 520.8h10m-5 -5v10M536.1 473.6h10m-5 -5v10M536.3 473.7h10m-5 -5v10M536.4 443.1h10m-5 -5v10M536.5 464.3h10m-5 -5v10M536.6 506.9h10m-5 -5v10M536.7 482.1h10m-5 -5v10M536.8 483.4h10m-5 -5v10M537.0 524.2h10m-5 -5v10M537.1 500.8h10m-5 -5v10M537.2 461.6h10m-5 -5v10M537.3 461.9h10m-5 -5v10M537.4 452.4h10m-5 -5v10M537.5 495.0h10m-5 -5v10M537.7 483.6h10m-5 -5v10M537.8 490.5h10m-5 -5v10M537.9 493.3h10m-5 -5v10M538.0 493.3h10m-5 -5v10M538.1 481.2h10m-5 -5v10M538.2 456.0h10m-5 -5v10M538.4 495.1h10m-5 -5v10M538.5 487.5h10m-5 -5v10M538.6 457.5h10m-5 -5v10M538.7 464.0h10m-5 -5v10M538.8 473.4h10m-5 -5v10M538.9 499.2h10m-5 -5v10M539.1 459.7h10m-5 -5v10M539.2 482.9h10m-5 -5v10M539.3 524.9h10m-5 -5v10M539.4 504.2h10m-5 -5v10M539.5 513.6h10m-5 -5v10M539.6 466.0h10m-5 -5v10M539.8 492.5h10m-5 -5v10M539.9 486.8h10m-5 -5v10M540.0 472.7h10m-5 -5v10M540.1 431.0h10m-5 -5v10M540.2 513.9h10m-5 -5v10M540.3 486.3h10m-5 -5v10M540.5 468.2h10m-5 -5v10M540.6 497.1h10m-5 -5v10M540.7 487.5h10m-5 -5v10M540.8 502.0h10m-5 -5v10M540.9 514.6h10m-5 -5v10M541.0 465.6h10m-5 -5v10M541.2 524.1h10m-5 -5v10M541.3 439.5h10m-5 -5v10M541.4 502.0h10m-5 -5v10M541.5 476.5h10m-5 -5v10M541.6 433.2h10m-5 -5v10M541.7 443.5h10m-5 -5v10M541.9 460.7h10m-5 -5v10M542.0 500.7h10m-5 -5v10M542.1 495.2h10m-5 -5v10M542.2 465.1h10m-5 -5v10M542.3 466.3h10m-5 -5v10M542.4 462.9h10m-5 -5v10M542.6 458.3h10m-5 -5v10M542.7 469.0h10m-5 -5v10M542.8 469.5h10m-5 -5v10M542.9 505.2h10m-5 -5v10M543.0 455.4h10m-5 -5v10M543.1 479.7h10m-5 -5v10M543.3 457.2h10m-5 -5v10M543.4 490.7h10m-5 -5v10M543.5 454.0h10m-5 -5v10M543.6 463.0h10m-5 -5v10M543.7 520.8h10m-5 -5v10M543.8 466.0h10m-5 -5v10M544.0 451.0h10m-5 -5v10M544.1 467.2h10m-5 -5v10M544.2 488.6h10m-5 -5v10M544.3 481.1h10m-5 -5v10M544.4 475.0h10m-5 -5v10M544.5 466.1h10m-5 -5v10M544.7 486.8h10m-5 -5v10M544.8 467.8h10m-5 -5v10M544.9 438.3h10m-5 -5v10M545.0 460.7h10m-5 -5v10M545.1 475.3h10m-5 -5v10M545.2 507.6h10m-5 -5v10M545.4 450.7h10m-5 -5v10M545.5 467.9h10m-5 -5v10M545.6 495.8h10m-5 -5v10M545.7 478.1h10m-5 -5v10M545.8 486.4h10m-5 -5v10M545.9 449.4h10m-5 -5v10M546.1 459.9h10m-5 -5v10M546.2 462.4h10m-5 -5v10M546.3 506.2h10m-5 -5v10M546.4 464.1h10m-5 -5v10M546.5 442.1h10m-5 -5v10M546.6 495.6h10m-5 -5v10M546.8 479.7h10m-5 -5v10M546.9 509.4h10m-5 -5v10M547.0 437.3h10m-5 -5v10M547.1 453.7h10m-5 -5v10M547.2 484.5h10m-5 -5v10M547.3 497.6h10m-5 -5v10M547.5 469.3h10m-5 -5v10M547.6 514.8h10m-5 -5v10M547.7 497.6h10m-5 -5v10M547.8 492.7h10m-5 -5v10M547.9 493.1h10m-5 -5v10M548.0 441.9h10m-5 -5v10M548.2 471.2h10m-5 -5v10M548.3 505.1h10m-5 -5v10M548.4 484.1h10m-5 -5v10M548.5 484.2h10m-5 -5v10M548.6 509.1h10m-5 -5v10M548.7 524.0h10m-5 -5v10M548.9 460.3h10m-5 -5v10M549.0 462.1h10m-5 -5v10M549.1 467.2h10m-5 -5v10M549.2 489.7h10m-5 -5v10M549.3 507.2h10m-5 -5v10M549.4 471.6h10m-5 -5v10M549.6 462.3h10m-5 -5v10M549.7 440.6h10m-5 -5v10M549.8 529.4h10m-5 -5v10M549.9 462.6h10m-5 -5v10M550.0 494.3h10m-5 -5v10M550.1 464.1h10m-5 -5v10M550.3 510.4h10m-5 -5v10M550.4 496.2h10m-5 -5v10M550.5 443.9h10m-5 -5v10M550.6 447.0h10m-5 -5v10M550.7 455.9h10m-5 -5v10M550.8 434.8h10m-5 -5v10M551.0 528.2h10m-5 -5v10M551.1 508.7h10m-5 -5v10M551.2 469.5h10m-5 -5v10M551.3 512.5h10m-5 -5v10M551.4 483.3h10m-5 -5v10M551.5 459.0h10m-5 -5v10M551.7 493.6h10m-5 -5v10M551.8 503.6h10m-5 -5v10M551.9 484.9h10m-5 -5v10M552.0 464.5h10m-5 -5v10M552.1 489.7h10m-5 -5v10M552.2 505.6h10m-5 -5v10M552.4 465.5h10m-5 -5v10M552.5 497.4h10m-5 -5v10M552.6 492.4h10m-5 -5v10M552.7 509.4h10m-5 -5v10M552.8 491.4h10m-5 -5v10M552.9 517.0h10m-5 -5v10M553.1 460.7h10m-5 -5v10M553.2 503.0h10m-5 -5v10M553.3 516.0h10m-5 -5v10M553.4 497.0h10m-5 -5v10M553.5 489.4h10m-5 -5v10M553.6 455.0h10m-5 -5v10M553.8 467.8h10m-5 -5v10M553.9 515.2h10m-5 -5v10M554.0 481.0h10m-5 -5v10M554.1 530.0h10m-5 -5v10M554.2 501.7h10m-5 -5v10M554.3 521.6h10m-5 -5v10M554.5 492.1h10m-5 -5v10M554.6 493.0h10m-5 -5v10M554.7 489.0h10m-5 -5v10M554.8 468.8h10m-5 -5v10M554.9 484.8h10m-5 -5v10M555.0 480.6h10m-5 -5v10M555.2 492.5h10m-5 -5v10M555.3 459.2h10m-5 -5v10M555.4 468.1h10m-5 -5v10M555.5 463.6h10m-5 -5v10M555.6 497.3h10m-5 -5v10M555.7 500.3h10m-5 -5v10M555.9 483.2h10m-5 -5v10M556.0 456.9h10m-5 -5v10M556.1 520.1h10m-5 -5v10M556.2 473.4h10m-5 -5v10M556.3 516.2h10m-5 -5v10M556.4 525.1h10m-5 -5v10M556.6 530.4h10m-5 -5v10M556.7 488.9h10m-5 -5v10M556.8 475.0h10m-5 -5v10M556.9 504.8h10m-5 -5v10M557.0 530.9h10m-5 -5v10M557.1 428.3h10m-5 -5v10M557.3 453.1h10m-5 -5v10M557.4 452.7h10m-5 -5v10M557.5 491.0h10m-5 -5v10M557.6 480.8h10m-5 -5v10M557.7 474.9h10m-5 -5v10M557.8 495.0h10m-5 -5v10M558.0 472.6h10m-5 -5v10M558.1 443.4h10m-5 -5v10M558.2 473.9h10m-5 -5v10M558.3 515.4h10m-5 -5v10M558.4 498.6h10m-5 -5v10M558.5 503.9h10m-5 -5v10M558.7 501.6h10m-5 -5v10M558.8 528.8h10m-5 -5v10M558.9 436.8h10m-5 -5v10M559.0 463.1h10m-5 -5v10M559.1 456.1h10m-5 -5v10M559.2 459.9h10m-5 -5v10M559.4 477.7h10m-5 -5v10M559.5 499.0h10m-5 -5v10M559.6 479.8h10m-5 -5v10M559.7 475.0h10m-5 -5v10M559.8 474.3h10m-5 -5v10M559.9 430.8h10m-5 -5v10M560.1 492.8h10m-5 -5v10M560.2 514.8h10m-5 -5v10M560.3 524.7h10m-5 -5v10M560.4 504.3h10m-5 -5v10M560.5 456.1h10m-5 -5v10M560.6 454.2h10m-5 -5v10M560.8 478.6h10m-5 -5v10M560.9 497.5h10m-5 -5v10M561.0 453.0h10m-5 -5v10M561.1 463.6h10m-5 -5v10M561.2 513.5h10m-5 -5v10M561.3 509.2h10m-5 -5v10M561.5 475.4h10m-5 -5v10M561.6 454.6h10m-5 -5v10M561.7 503.7h10m-5 -5v10M561.8 497.4h10m-5 -5v10M561.9 480.2h10m-5 -5v10M562.0 526.8h10m-5 -5v10M562.2 487.7h10m-5 -5v10M562.3 456.3h10m-5 -5v10M562.4 484.2h10m-5 -5v10M562.5 489.2h10m-5 -5v10M562.6 503.7h10m-5 -5v10M562.7 488.4h10m-5 -5v10M562.9 499.0h10m-5 -5v10M563.0 478.0h10m-5 -5v10M563.1 483.4h10m-5 -5v10M563.2 515.3h10m-5 -5v10M563.3 445.0h10m-5 -5v10M563.4 505.8h10m-5 -5v10M563.6 454.6h10m-5 -5v10M563.7 440.0h10m-5 -5v10M563.8 472.8h10m-5 -5v10M563.9 451.4h10m-5 -5v10M564.0 480.4h10m-5 -5v10M564.1 459.3h10m-5 -5v10M564.3 476.4h10m-5 -5v10M564.4 438.4h10m-5 -5v10M564.5 450.1h10m-5 -5v10M564.6 528.0h10m-5 -5v10M564.7 439.1h10m-5 -5v10M564.8 466.7h10m-5 -5v10M565.0 481.6h10m-5 -5v10M565.1 495.1h10m-5 -5v10M565.2 475.1h10m-5 -5v10M565.3 489.4h10m-5 -5v10M565.4 504.5h10m-5 -5v10M565.5 485.5h10m-5 -5v10M565.7 493.4h10m-5 -5v10M565.8 504.7h10m-5 -5v10M565.9 475.9h10m-5 -5v10M566.0 480.4h10m-5 -5v10M566.1 459.4h10m-5 -5v10M566.2 516.1h10m-5 -5v10M566.3 448.1h10m-5 -5v10M566.5 490.8h10m-5 -5v10M566.6 512.2h10m-5 -5v10M566.7 467.9h10m-5 -5v10M566.8 492.9h10m-5 -5v10M566.9 449.4h10m-5 -5v10M567.0 495.0h10m-5 -5v10M567.2 515.2h10m-5 -5v10M567.3 474.7h10m-5 -5v10M567.4 508.2h10m-5 -5v10M567.5 476.1h10m-5 -5v10M567.6 485.3h10m-5 -5v10M567.7 485.9h10m-5 -5v10M567.9 483.4h10m-5 -5v10M568.0 458.4h10m-5 -5v10M568.1 463.9h10m-5 -5v10M568.2 463.1h10m-5 -5v10M568.3 501.5h10m-5 -5v10M568.4 445.7h10m-5 -5v10M568.6 504.1h10m-5 -5v10M568.7 498.0h10m-5 -5v10M568.8 443.1h10m-5 -5v10M568.9 493.3h10m-5 -5v10M569.0 464.1h10m-5 -5v10M569.1 485.2h10m-5 -5v10M569.3 478.1h10m-5 -5v10M569.4 502.7h10m-5 -5v10M569.5 438.2h10m-5 -5v10M569.6 513.3h10m-5 -5v10M569.7 479.8h10m-5 -5v10M569.8 452.1h10m-5 -5v10M570.0 518.1h10m-5 -5v10M570.1 470.6h10m-5 -5v10M570.2 461.7h10m-5 -5v10M570.3 512.7h10m-5 -5v10M570.4 474.2h10m-5 -5v10M570.5 495.2h10m-5 -5v10M570.7 459.5h10m-5 -5v10M570.8 463.6h10m-5 -5v10M570.9 486.9h10m-5 -5v10M571.0 511.1h10m-5 -5v10M571.1 499.6h10m-5 -5v10M571.2 483.5h10m-5 -5v10M571.4 477.0h10m-5 -5v10M571.5 493.5h10m-5 -5v10M571.6 463.4h10m-5 -5v10M571.7 498.3h10m-5 -5v10M571.8 510.9h10m-5 -5v10M571.9 443.0h10m-5 -5v10M572.1 457.6h10m-5 -5v10M572.2 474.8h10m-5 -5v10M572.3 463.4h10m-5 -5v10M572.4 501.9h10m-5 -5v10M572.5 488.8h10m-5 -5v10M572.6 498.6h10m-5 -5v10M572.8 526.8h10m-5 -5v10M572.9 472.2h10m-5 -5v10M573.0 461.2h10m-5 -5v10M573.1 509.7h10m-5 -5v10M573.2 501.1h10m-5 -5v10M573.3 480.2h10m-5 -5v10M573.5 527.0h10m-5 -5v10M573.6 445.1h10m-5 -5v10M573.7 462.6h10m-5 -5v10M573.8 485.5h10m-5 -5v10M573.9 513.8h10m-5 -5v10M574.0 461.4h10m-5 -5v10M574.2 465.1h10m-5 -5v10M574.3 513.3h10m-5 -5v10M574.4 484.7h10m-5 -5v10M574.5 497.7h10m-5 -5v10M574.6 464.6h10m-5 -5v10M574.7 463.7h10m-5 -5v10M574.9 449.3h10m-5 -5v10M575.0 494.5h10m-5 -5v10M575.1 512.3h10m-5 -5v10M575.2 453.2h10m-5 -5v10M575.3 509.0h10m-5 -5v10M575.4 493.3h10m-5 -5v10M575.6 479.9h10m-5 -5v10M575.7 483.2h10m-5 -5v10M575.8 505.3h10m-5 -5v10M575.9 437.1h10m-5 -5v10M576.0 459.5h10m-5 -5v10M576.1 518.8h10m-5 -5v10M576.3 455.4h10m-5 -5v10M576.4 475.5h10m-5 -5v10M576.5 493.1h10m-5 -5v10M576.6 452.5h10m-5 -5v10M576.7 473.6h10m-5 -5v10M576.8 475.0h10m-5 -5v10M577.0 465.5h10m-5 -5v10M577.1 515.7h10m-5 -5v10M577.2 442.8h10m-5 -5v10M577.3 446.7h10m-5 -5v10M577.4 475.4h10m-5 -5v10M577.5 473.8h10m-5 -5v10M577.7 473.5h10m-5 -5v10M577.8 466.3h10m-5 -5v10M577.9 456.8h10m-5 -5v10M578.0 460.9h10m-5 -5v10M578.1 492.3h10m-5 -5v10M578.2 492.7h10m-5 -5v10M578.4 482.7h10m-5 -5v10M578.5 475.6h10m-5 -5v10M578.6 497.3h10m-5 -5v10M578.7 479.8h10m-5 -5v10M578.8 459.9h10m-5 -5v10M578.9 484.5h10m-5 -5v10M579.1 465.6h10m-5 -5v10M579.2 516.4h10m-5 -5v10M579.3 467.2h10m-5 -5v10M579.4 479.7h10m-5 -5v10M579.5 471.5h10m-5 -5v10M579.6 475.0h10m-5 -5v10M579.8 487.9h10m-5 -5v10M579.9 504.9h10m-5 -5v10M580.0 433.2h10m-5 -5v10M580.1 472.5h10m-5 -5v10M580.2 523.1h10m-5 -5v10M580.3 494.9h10m-5 -5v10M580.5 470.7h10m-5 -5v10M580.6 461.6h10m-5 -5v10M580.7 504.6h10m-5 -5v10M580.8 522.6h10m-5 -5v10M580.9 451.9h10m-5 -5v10M581.0 471.1h10m-5 -5v10M581.2 489.7h10m-5 -5v10M581.3 520.3h10m-5 -5v10M581.4 502.4h10m-5 -5v10M581.5 489.9h10m-5 -5v10M581.6 488.8h10m-5 -5v10M581.7 464.4h10m-5 -5v10M581.9 482.5h10m-5 -5v10M582.0 491.9h10m-5 -5v10M582.1 464.7h10m-5 -5v10M582.2 497.1h10m-5 -5v10M582.3 486.5h10m-5 -5v10M582.4 494.6h10m-5 -5v10M582.6 469.4h10m-5 -5v10M582.7 499.8h10m-5 -5v10M582.8 500.8h10m-5 -5v10M582.9 438.7h10m-5 -5v10M583.0 522.4h10m-5 -5v10M583.1 478.1h10m-5 -5v10M583.3 471.4h10m-5 -5v10M583.4 494.0h10m-5 -5v10M583.5 431.1h10m-5 -5v10M583.6 490.1h10m-5 -5v10M583.7 485.8h10m-5 -5v10M583.8 448.9h10m-5 -5v10M584.0 483.2h10m-5 -5v10M584.1 464.6h10m-5 -5v10M584.2 448.5h10m-5 -5v10M584.3 445.5h10m-5 -5v10M584.4 451.6h10m-5 -5v10M584.5 453.9h10m-5 -5v10M584.7 501.4h10m-5 -5v10M584.8 456.7h10m-5 -5v10M584.9 467.9h10m-5 -5v10M585.0 494.5h10m-5 -5v10M585.1 499.9h10m-5 -5v10M585.2 492.9h10m-5 -5v10M585.4 511.7h10m-5 -5v10M585.5 516.9h10m-5 -5v10M585.6 522.3h10m-5 -5v10M585.7 439.3h10m-5 -5v10M585.8 531.7h10m-5 -5v10M585.9 504.3h10m-5 -5v10M586.1 452.7h10m-5 -5v10M586.2 465.8h10m-5 -5v10M586.3 462.8h10m-5 -5v10M586.4 484.1h10m-5 -5v10M586.5 481.3h10m-5 -5v10M586.6 521.1h10m-5 -5v10M586.8 464.9h10m-5 -5v10M586.9 489.5h10m-5 -5v10M587.0 459.4h10m-5 -5v10M587.1 493.9h10m-5 -5v10M587.2 478.5h10m-5 -5v10M587.3 454.1h10m-5 -5v10M587.5 456.8h10m-5 -5v10M587.6 493.2h10m-5 -5v10M587.7 486.9h10m-5 -5v10M587.8 484.3h10m-5 -5v10M587.9 504.4h10m-5 -5v10M588.0 462.0h10m-5 -5v10M588.2 437.1h10m-5 -5v10M588.3 497.3h10m-5 -5v10M588.4 464.3h10m-5 -5v10M588.5 486.9h10m-5 -5v10M588.6 475.3h10m-5 -5v10M588.7 480.7h10m-5 -5v10M588.9 488.9h10m-5 -5v10M589.0 510.9h10m-5 -5v10M589.1 440.0h10m-5 -5v10M589.2 459.8h10m-5 -5v10M589.3 507.5h10m-5 -5v10M589.4 463.1h10m-5 -5v10M589.6 441.0h10m-5 -5v10M589.7 516.6h10m-5 -5v10M589.8 458.9h10m-5 -5v10M589.9 477.6h10m-5 -5v10M590.0 494.5h10m-5 -5v10M590.1 466.2h10m-5 -5v10M590.3 497.9h10m-5 -5v10M590.4 441.7h10m-5 -5v10M590.5 467.9h10m-5 -5v10M590.6 505.7h10m-5 -5v10M590.7 481.6h10m-5 -5v10M590.8 495.3h10m-5 -5v10M591.0 488.4h10m-5 -5v10M591.1 464.3h10m-5 -5v10M591.2 487.5h10m-5 -5v10M591.3 479.5h10m-5 -5v10M591.4 454.4h10m-5 -5v10M591.5 460.6h10m-5 -5v10M591.7 484.8h10m-5 -5v10M591.8 475.9h10m-5 -5v10M591.9 457.3h10m-5 -5v10M592.0 450.8h10m-5 -5v10M592.1 472.5h10m-5 -5v10M592.2 464.7h10m-5 -5v10M592.4 519.4h10m-5 -5v10M592.5 473.0h10m-5 -5v10M592.6 478.2h10m-5 -5v10M592.7 492.2h10m-5 -5v10M592.8 504.3h10m-5 -5v10M592.9 516.7h10m-5 -5v10M593.1 501.5h10m-5 -5v10M593.2 479.6h10m-5 -5v10M593.3 490.4h10m-5 -5v10M593.4 474.1h10m-5 -5v10M593.5 497.9h10m-5 -5v10M593.6 491.5h10m-5 -5v10M593.8 522.5h10m-5 -5v10M593.9 517.3h10m-5 -5v10M594.0 475.6h10m-5 -5v10M594.1 482.1h10m-5 -5v10M594.2 510.7h10m-5 -5v10M594.3 510.9h10m-5 -5v10M594.5 474.8h10m-5 -5v10M594.6 448.3h10m-5 -5v10M594.7 458.1h10m-5 -5v10M594.8 461.7h10m-5 -5v10M594.9 445.5h10m-5 -5v10M595.0 457.0h10m-5 -5v10M595.2 460.4h10m-5 -5v10M595.3 473.4h10m-5 -5v10M595.4 523.2h10m-5 -5v10M595.5 455.7h10m-5 -5v10M595.6 474.3h10m-5 -5v10M595.7 466.5h10m-5 -5v10M595.9 488.6h10m-5 -5v10M596.0 500.2h10m-5 -5v10M596.1 487.1h10m-5 -5v10M596.2 465.4h10m-5 -5v10M596.3 472.8h10m-5 -5v10M596.4 482.8h10m-5 -5v10M596.6 484.1h10m-5 -5v10M596.7 500.8h10m-5 -5v10M596.8 523.9h10m-5 -5v10M596.9 484.3h10m-5 -5v10M597.0 492.9h10m-5 -5v10M597.1 513.1h10m-5 -5v10M597.2 489.3h10m-5 -5v10M597.4 503.0h10m-5 -5v10M597.5 442.5h10m-5 -5v10M597.6 431.2h10m-5 -5v10M597.7 488.0h10m-5 -5v10M597.8 505.3h10m-5 -5v10M597.9 507.5h10m-5 -5v10M598.1 450.9h10m-5 -5v10M598.2 505.0h10m-5 -5v10M598.3 506.6h10m-5 -5v10M598.4 498.3h10m-5 -5v10M598.5 449.9h10m-5 -5v10M598.6 468.8h10m-5 -5v10M598.8 493.3h10m-5 -5v10M598.9 466.6h10m-5 -5v10M599.0 450.6h10m-5 -5v10M599.1 445.4h10m-5 -5v10M599.2 427.2h10m-5 -5v10M599.3 509.3h10m-5 -5v10M599.5 485.0h10m-5 -5v10M599.6 476.1h10m-5 -5v10M599.7 509.6h10m-5 -5v10M599.8 481.6h10m-5 -5v10M599.9 445.3h10m-5 -5v10M600.0 506.6h10m-5 -5v10M600.2 460.3h10m-5 -5v10M600.3 504.5h10m-5 -5v10M600.4 527.3h10m-5 -5v10M600.5 496.6h10m-5 -5v10M600.6 477.9h10m-5 -5v10M600.7 473.0h10m-5 -5v10M600.9 504.3h10m-5 -5v10M601.0 446.9h10m-5 -5v10M601.1 470.6h10m-5 -5v10M601.2 510.1h10m-5 -5v10M601.3 470.0h10m-5 -5v10M601.4 529.4h10m-5 -5v10M601.6 506.0h10m-5 -5v10M601.7 455.8h10m-5 -5v10M601.8 478.6h10m-5 -5v10M601.9 520.8h10m-5 -5v10M602.0 509.4h10m-5 -5v10M602.1 500.4h10m-5 -5v10M602.3 451.2h10m-5 -5v10M602.4 478.3h10m-5 -5v10M602.5 441.8h10m-5 -5v10M602.6 505.4h10m-5 -5v10M602.7 507.8h10m-5 -5v10M602.8 488.1h10m-5 -5v10M603.0 482.6h10m-5 -5v10M603.1 461.6h10m-5 -5v10M603.2 501.7h10m-5 -5v10M603.3 478.2h10m-5 -5v10M603.4 501.9h10m-5 -5v10M603.5 502.0h10m-5 -5v10M603.7 496.5h10m-5 -5v10M603.8 486.7h10m-5 -5v10M603.9 488.9h10m-5 -5v10M604.0 460.7h10m-5 -5v10M604.1 490.0h10m-5 -5v10M604.2 468.3h10m-5 -5v10M604.4 506.8h10m-5 -5v10M604.5 440.0h10m-5 -5v10M604.6 491.9h10m-5 -5v10M604.7 504.8h10m-5 -5v10M604.8 465.4h10m-5 -5v10M604.9 479.7h10m-5 -5v10M605.1 434.2h10m-5 -5v10M605.2 472.7h10m-5 -5v10M605.3 488.4h10m-5 -5v10M605.4 487.5h10m-5 -5v10M605.5 467.8h10m-5 -5v10M605.6 498.8h10m-5 -5v10M605.8 509.9h10m-5 -5v10M605.9 507.7h10m-5 -5v10M606.0 504.2h10m-5 -5v10M606.1 466.0h10m-5 -5v10M606.2 451.3h10m-5 -5v10M606.3 513.4h10m-5 -5v10M606.5 529.1h10m-5 -5v10M606.6 522.0h10m-5 -5v10M606.7 513.4h10m-5 -5v10M606.8 507.4h10m-5 -5v10M606.9 489.7h10m-5 -5v10M607.0 497.5h10m-5 -5v10M607.2 434.6h10m-5 -5v10M607.3 486.6h10m-5 -5v10M607.4 496.8h10m-5 -5v10M607.5 497.2h10m-5 -5v10M607.6 487.4h10m-5 -5v10M607.7 470.5h10m-5 -5v10M607.9 460.5h10m-5 -5v10M608.0 508.2h10m-5 -5v10M608.1 473.7h10m-5 -5v10M608.2 433.2h10m-5 -5v10M608.3 505.2h10m-5 -5v10M608.4 469.1h10m-5 -5v10M608.6 493.0h10m-5 -5v10M608.7 491.4h10m-5 -5v10M608.8 483.7h10m-5 -5v10M608.9 456.8h10m-5 -5v10M609.0 479.8h10m-5 -5v10M609.1 492.4h10m-5 -5v10M609.3 492.9h10m-5 -5v10M609.4 437.3h10m-5 -5v10M609.5 496.9h10m-5 -5v10M609.6 499.1h10m-5 -5v10M609.7 457.5h10m-5 -5v10M609.8 490.8h10m-5 -5v10M610.0 484.6h10m-5 -5v10M610.1 499.8h10m-5 -5v10M610.2 491.8h10m-5 -5v10M610.3 479.1h10m-5 -5v10M610.4 494.6h10m-5 -5v10M610.5 427.7h10m-5 -5v10M610.7 472.1h10m-5 -5v10M610.8 475.8h10m-5 -5v10M610.9 494.0h10m-5 -5v10M611.0 489.0h10m-5 -5v10M611.1 442.3h10m-5 -5v10M611.2 484.2h10m-5 -5v10M611.4 506.1h10m-5 -5v10M611.5 496.4h10m-5 -5v10M611.6 513.8h10m-5 -5v10M611.7 477.2h10m-5 -5v10M611.8 493.9h10m-5 -5v10M611.9 466.4h10m-5 -5v10M612.1 483.3h10m-5 -5v10M612.2 493.3h10m-5 -5v10M612.3 461.9h10m-5 -5v10M612.4 483.0h10m-5 -5v10M612.5 462.6h10m-5 -5v10M612.6 448.0h10m-5 -5v10M612.8 471.4h10m-5 -5v10M612.9 443.9h10m-5 -5v10M613.0 486.2h10m-5 -5v10M613.1 484.1h10m-5 -5v10M613.2 467.6h10m-5 -5v10M613.3 508.6h10m-5 -5v10M613.5 510.2h10m-5 -5v10M613.6 531.9h10m-5 -5v10M613.7 471.0h10m-5 -5v10M613.8 466.4h10m-5 -5v10M613.9 483.2h10m-5 -5v10M614.0 455.5h10m-5 -5v10M614.2 464.6h10m-5 -5v10M614.3 461.5h10m-5 -5v10M614.4 475.7h10m-5 -5v10M614.5 466.0h10m-5 -5v10M614.6 501.6h10m-5 -5v10M614.7 507.3h10m-5 -5v10M614.9 467.6h10m-5 -5v10M615.0 512.5h10m-5 -5v10M615.1 501.9h10m-5 -5v10M615.2 478.2h10m-5 -5v10M615.3 498.6h10m-5 -5v10M615.4 500.6h10m-5 -5v10M615.6 470.9h10m-5 -5v10M615.7 491.9h10m-5 -5v10M615.8 472.0h10m-5 -5v10M615.9 479.6h10m-5 -5v10M616.0 471.7h10m-5 -5v10M616.1 453.1h10m-5 -5v10M616.3 462.9h10m-5 -5v10M616.4 497.5h10m-5 -5v10M616.5 468.0h10m-5 -5v10M616.6 473.5h10m-5 -5v10M616.7 478.2h10m-5 -5v10M616.8 461.7h10m-5 -5v10M617.0 444.1h10m-5 -5v10M617.1 480.0h10m-5 -5v10M617.2 464.6h10m-5 -5v10M617.3 484.4h10m-5 -5v10M617.4 521.3h10m-5 -5v10M617.5 484.4h10m-5 -5v10M617.7 489.7h10m-5 -5v10M617.8 503.9h10m-5 -5v10M617.9 480.3h10m-5 -5v10M618.0 445.1h10m-5 -5v10M618.1 444.9h10m-5 -5v10M618.2 496.9h10m-5 -5v10M618.4 497.2h10m-5 -5v10M618.5 492.8h10m-5 -5v10M618.6 456.6h10m-5 -5v10M618.7 482.0h10m-5 -5v10M618.8 512.9h10m-5 -5v10M618.9 482.3h10m-5 -5v10M619.1 495.8h10m-5 -5v10M619.2 463.7h10m-5 -5v10M619.3 481.2h10m-5 -5v10M619.4 423.4h10m-5 -5v10M619.5 471.2h10m-5 -5v10M619.6 495.8h10m-5 -5v10M619.8 501.2h10m-5 -5v10M619.9 448.2h10m-5 -5v10M620.0 503.0h10m-5 -5v10M620.1 465.6h10m-5 -5v10M620.2 474.4h10m-5 -5v10M620.3 509.9h10m-5 -5v10M620.5 449.7h10m-5 -5v10M620.6 485.1h10m-5 -5v10M620.7 432.7h10m-5 -5v10M620.8 506.8h10m-5 -5v10M620.9 475.5h10m-5 -5v10M621.0 458.2h10m-5 -5v10M621.2 427.1h10m-5 -5v10M621.3 445.1h10m-5 -5v10M621.4 494.5h10m-5 -5v10M621.5 442.4h10m-5 -5v10M621.6 492.9h10m-5 -5v10M621.7 460.2h10m-5 -5v10M621.9 488.8h10m-5 -5v10M622.0 476.8h10m-5 -5v10M622.1 455.2h10m-5 -5v10M622.2 469.8h10m-5 -5v10M622.3 497.9h10m-5 -5v10M622.4 471.1h10m-5 -5v10M622.6 432.2h10m-5 -5v10M622.7 465.9h10m-5 -5v10M622.8 510.9h10m-5 -5v10M622.9 498.0h10m-5 -5v10M623.0 509.0h10m-5 -5v10M623.1 490.8h10m-5 -5v10M623.3 481.0h10m-5 -5v10M623.4 491.5h10m-5 -5v10M623.5 504.9h10m-5 -5v10M623.6 474.4h10m-5 -5v10M623.7 487.5h10m-5 -5v10M623.8 472.7h10m-5 -5v10M624.0 472.6h10m-5 -5v10M624.1 506.3h10m-5 -5v10M624.2 473.2h10m-5 -5v10M624.3 434.2h10m-5 -5v10M624.4 504.8h10m-5 -5v10M624.5 477.7h10m-5 -5v10M624.7 472.5h10m-5 -5v10M624.8 469.9h10m-5 -5v10M624.9 512.9h10m-5 -5v10M625.0 440.4h10m-5 -5v10M625.1 498.0h10m-5 -5v10M625.2 476.3h10m-5 -5v10M625.4 477.5h10m-5 -5v10M625.5 478.5h10m-5 -5v10M625.6 473.5h10m-5 -5v10M625.7 518.2h10m-5 -5v10M625.8 450.2h10m-5 -5v10M625.9 478.7h10m-5 -5v10M626.1 493.4h10m-5 -5v10M626.2 447.4h10m-5 -5v10M626.3 439.5h10m-5 -5v10M626.4 459.9h10m-5 -5v10M626.5 488.6h10m-5 -5v10M626.6 497.9h10m-5 -5v10M626.8 448.1h10m-5 -5v10M626.9 484.9h10m-5 -5v10M627.0 448.9h10m-5 -5v10M627.1 506.5h10m-5 -5v10M627.2 439.7h10m-5 -5v10M627.3 487.3h10m-5 -5v10M627.5 474.4h10m-5 -5v10M627.6 453.3h10m-5 -5v10M627.7 473.2h10m-5 -5v10M627.8 503.3h10m-5 -5v10M627.9 469.8h10m-5 -5v10M628.0 470.1h10m-5 -5v10M628.1 461.3h10m-5 -5v10M628.3 439.4h10m-5 -5v10M628.4 514.3h10m-5 -5v10M628.5 477.3h10m-5 -5v10M628.6 499.4h10m-5 -5v10M628.7 464.9h10m-5 -5v10M628.8 521.1h10m-5 -5v10M629.0 476.7h10m-5 -5v10M629.1 475.9h10m-5 -5v10M629.2 486.3h10m-5 -5v10M629.3 505.6h10m-5 -5v10M629.4 484.3h10m-5 -5v10M629.5 494.6h10m-5 -5v10M629.7 442.3h10m-5 -5v10M629.8 479.2h10m-5 -5v10M629.9 487.2h10m-5 -5v10M630.0 463.1h10m-5 -5v10M630.1 489.3h10m-5 -5v10M630.2 492.7h10m-5 -5v10M630.4 499.4h10m-5 -5v10M630.5 434.2h10m-5 -5v10M630.6 497.3h10m-5 -5v10M630.7 483.9h10m-5 -5v10M630.8 474.1h10m-5 -5v10M630.9 453.4h10m-5 -5v10M631.1 452.4h10m-5 -5v10M631.2 477.2h10m-5 -5v10M631.3 448.6h10m-5 -5v10M631.4 464.3h10m-5 -5v10M631.5 458.0h10m-5 -5v10M631.6 467.8h10m-5 -5v10M631.8 459.2h10m-5 -5v10M631.9 474.0h10m-5 -5v10M632.0 462.0h10m-5 -5v10M632.1 463.6h10m-5 -5v10M632.2 507.0h10m-5 -5v10M632.3 466.4h10m-5 -5v10M632.5 471.4h10m-5 -5v10M632.6 503.2h10m-5 -5v10M632.7 479.5h10m-5 -5v10M632.8 498.8h10m-5 -5v10M632.9 477.4h10m-5 -5v10M633.0 483.7h10m-5 -5v10M633.2 442.4h10m-5 -5v10M633.3 472.5h10m-5 -5v10M633.4 483.6h10m-5 -5v10M633.5 473.3h10m-5 -5v10M633.6 455.6h10m-5 -5v10M633.7 490.0h10m-5 -5v10M633.9 462.4h10m-5 -5v10M634.0 474.8h10m-5 -5v10M634.1 509.0h10m-5 -5v10M634.2 473.7h10m-5 -5v10M634.3 489.2h10m-5 -5v10M634.4 443.9h10m-5 -5v10M634.6 460.4h10m-5 -5v10M634.7 509.0h10m-5 -5v10M634.8 475.0h10m-5 -5v10M634.9 509.5h10m-5 -5v10M635.0 474.1h10m-5 -5v10M635.1 424.8h10m-5 -5v10M635.3 467.2h10m-5 -5v10M635.4 465.8h10m-5 -5v10M635.5 474.7h10m-5 -5v10M635.6 481.5h10m-5 -5v10M635.7 475.5h10m-5 -5v10M635.8 472.2h10m-5 -5v10M636.0 503.1h10m-5 -5v10M636.1 462.3h10m-5 -5v10M636.2 493.1h10m-5 -5v10M636.3 490.9h10m-5 -5v10M636.4 464.6h10m-5 -5v10M636.5 503.1h10m-5 -5v10M636.7 511.5h10m-5 -5v10M636.8 504.5h10m-5 -5v10M636.9 455.8h10m-5 -5v10M637.0 472.1h10m-5 -5v10M637.1 471.9h10m-5 -5v10M637.2 431.5h10m-5 -5v10M637.4 492.1h10m-5 -5v10M637.5 460.8h10m-5 -5v10M637.6 490.4h10m-5 -5v10M637.7 507.5h10m-5 -5v10M637.8 513.3h10m-5 -5v10M637.9 476.4h10m-5 -5v10M638.1 469.3h10m-5 -5v10M638.2 488.9h10m-5 -5v10M638.3 494.3h10m-5 -5v10M638.4 478.8h10m-5 -5v10M638.5 483.1h10m-5 -5v10M638.6 454.6h10m-5 -5v10M638.8 500.9h10m-5 -5v10M638.9 455.6h10m-5 -5v10M639.0 494.3h10m-5 -5v10M639.1 490.7h10m-5 -5v10M639.2 476.5h10m-5 -5v10M639.3 471.3h10m-5 -5v10M639.5 456.9h10m-5 -5v10M639.6 497.0h10m-5 -5v10M639.7 469.5h10m-5 -5v10M639.8 478.4h10m-5 -5v10M639.9 459.1h10m-5 -5v10M640.0 511.0h10m-5 -5v10M640.2 502.7h10m-5 -5v10M640.3 462.4h10m-5 -5v10M640.4 500.4h10m-5 -5v10M640.5 475.5h10m-5 -5v10M640.6 460.2h10m-5 -5v10M640.7 503.9h10m-5 -5v10M640.9 488.3h10m-5 -5v10M641.0 513.0h10m-5 -5v10M641.1 499.4h10m-5 -5v10M641.2 503.7h10m-5 -5v10M641.3 452.1h10m-5 -5v10M641.4 489.5h10m-5 -5v10M641.6 467.1h10m-5 -5v10M641.7 441.8h10m-5 -5v10M641.8 496.2h10m-5 -5v10M641.9 491.7h10m-5 -5v10M642.0 461.5h10m-5 -5v10M642.1 480.4h10m-5 -5v10M642.3 487.5h10m-5 -5v10M642.4 477.3h10m-5 -5v10M642.5 485.1h10m-5 -5v10M642.6 475.6h10m-5 -5v10M642.7 458.6h10m-5 -5v10M642.8 522.0h10m-5 -5v10M643.0 459.1h10m-5 -5v10M643.1 483.7h10m-5 -5v10M643.2 458.3h10m-5 -5v10M643.3 479.2h10m-5 -5v10M643.4 426.8h10m-5 -5v10M643.5 431.5h10m-5 -5v10M643.7 489.9h10m-5 -5v10M643.8 475.5h10m-5 -5v10M643.9 504.5h10m-5 -5v10M644.0 470.9h10m-5 -5v10M644.1 513.6h10m-5 -5v10M644.2 469.3h10m-5 -5v10M644.4 514.6h10m-5 -5v10M644.5 513.0h10m-5 -5v10M644.6 490.8h10m-5 -5v10M644.7 482.8h10m-5 -5v10M644.8 508.4h10m-5 -5v10M644.9 504.3h10m-5 -5v10M645.1 442.7h10m-5 -5v10M645.2 481.4h10m-5 -5v10M645.3 454.5h10m-5 -5v10M645.4 459.4h10m-5 -5v10M645.5 447.0h10m-5 -5v10M645.6 446.4h10m-5 -5v10M645.8 503.4h10m-5 -5v10M645.9 484.7h10m-5 -5v10M646.0 465.9h10m-5 -5v10M646.1 443.0h10m-5 -5v10M646.2 487.5h10m-5 -5v10M646.3 474.6h10m-5 -5v10M646.5 483.5h10m-5 -5v10M646.6 484.8h10m-5 -5v10M646.7 510.4h10m-5 -5v10M646.8 466.4h10m-5 -5v10M646.9 451.1h10m-5 -5v10M647.0 501.4h10m-5 -5v10M647.2 489.6h10m-5 -5v10M647.3 452.0h10m-5 -5v10M647.4 473.6h10m-5 -5v10M647.5 482.2h10m-5 -5v10M647.6 467.9h10m-5 -5v10M647.7 462.7h10m-5 -5v10M647.9 454.1h10m-5 -5v10M648.0 470.8h10m-5 -5v10M648.1 492.0h10m-5 -5v10M648.2 481.4h10m-5 -5v10M648.3 466.1h10m-5 -5v10M648.4 475.1h10m-5 -5v10M648.6 503.0h10m-5 -5v10M648.7 436.1h10m-5 -5v10M648.8 503.6h10m-5 -5v10M648.9 461.1h10m-5 -5v10M649.0 499.1h10m-5 -5v10M649.1 493.1h10m-5 -5v10M649.3 478.3h10m-5 -5v10M649.4 512.7h10m-5 -5v10M649.5 495.6h10m-5 -5v10M649.6 492.7h10m-5 -5v10M649.7 495.0h10m-5 -5v10M649.8 465.5h10m-5 -5v10M650.0 509.7h10m-5 -5v10M650.1 511.2h10m-5 -5v10M650.2 500.6h10m-5 -5v10M650.3 498.7h10m-5 -5v10M650.4 472.2h10m-5 -5v10M650.5 484.2h10m-5 -5v10M650.7 481.4h10m-5 -5v10M650.8 479.7h10m-5 -5v10M650.9 499.0h10m-5 -5v10M651.0 449.1h10m-5 -5v10M651.1 510.9h10m-5 -5v10M651.2 448.0h10m-5 -5v10M651.4 520.3h10m-5 -5v10M651.5 476.2h10m-5 -5v10M651.6 464.9h10m-5 -5v10M651.7 473.5h10m-5 -5v10M651.8 500.1h10m-5 -5v10M651.9 494.5h10m-5 -5v10M652.1 443.5h10m-5 -5v10M652.2 471.7h10m-5 -5v10M652.3 462.4h10m-5 -5v10M652.4 490.6h10m-5 -5v10M652.5 488.9h10m-5 -5v10M652.6 442.3h10m-5 -5v10M652.8 451.1h10m-5 -5v10M652.9 509.1h10m-5 -5v10M653.0 454.9h10m-5 -5v10M653.1 477.0h10m-5 -5v10M653.2 493.2h10m-5 -5v10M653.3 483.3h10m-5 -5v10M653.5 467.0h10m-5 -5v10M653.6 514.1h10m-5 -5v10M653.7 484.3h10m-5 -5v10M653.8 460.5h10m-5 -5v10M653.9 489.0h10m-5 -5v10M654.0 476.8h10m-5 -5v10M654.2 524.8h10m-5 -5v10M654.3 453.3h10m-5 -5v10M654.4 500.5h10m-5 -5v10M654.5 433.5h10m-5 -5v10M654.6 508.9h10m-5 -5v10M654.7 473.7h10m-5 -5v10M654.9 496.1h10m-5 -5v10M655.0 510.3h10m-5 -5v10M655.1 487.0h10m-5 -5v10M655.2 480.3h10m-5 -5v10M655.3 488.3h10m-5 -5v10M655.4 474.7h10m-5 -5v10M655.6 476.0h10m-5 -5v10M655.7 440.6h10m-5 -5v10M655.8 498.2h10m-5 -5v10M655.9 482.4h10m-5 -5v10M656.0 469.1h10m-5 -5v10M656.1 469.2h10m-5 -5v10M656.3 481.6h10m-5 -5v10M656.4 479.1h10m-5 -5v10M656.5 482.1h10m-5 -5v10M656.6 506.6h10m-5 -5v10M656.7 525.5h10m-5 -5v10M656.8 468.2h10m-5 -5v10M657.0 504.5h10m-5 -5v10M657.1 475.2h10m-5 -5v10M657.2 482.4h10m-5 -5v10M657.3 517.5h10m-5 -5v10M657.4 496.1h10m-5 -5v10M657.5 493.5h10m-5 -5v10M657.7 476.2h10m-5 -5v10M657.8 463.7h10m-5 -5v10M657.9 486.9h10m-5 -5v10M658.0 497.1h10m-5 -5v10M658.1 448.1h10m-5 -5v10M658.2 468.4h10m-5 -5v10M658.4 471.3h10m-5 -5v10M658.5 443.5h10m-5 -5v10M658.6 459.2h10m-5 -5v10M658.7 502.8h10m-5 -5v10M658.8 491.9h10m-5 -5v10M658.9 500.9h10m-5 -5v10M659.0 486.8h10m-5 -5v10M659.2 481.0h10m-5 -5v10M659.3 476.0h10m-5 -5v10M659.4 515.5h10m-5 -5v10M659.5 502.0h10m-5 -5v10M659.6 458.3h10m-5 -5v10M659.7 456.8h10m-5 -5v10M659.9 445.9h10m-5 -5v10M660.0 464.6h10m-5 -5v10M660.1 458.2h10m-5 -5v10M660.2 476.4h10m-5 -5v10M660.3 456.1h10m-5 -5v10M660.4 459.3h10m-5 -5v10M660.6 498.1h10m-5 -5v10M660.7 457.3h10m-5 -5v10M660.8 487.0h10m-5 -5v10M660.9 478.4h10m-5 -5v10M661.0 504.1h10m-5 -5v10M661.1 481.9h10m-5 -5v10M661.3 488.0h10m-5 -5v10M661.4 485.9h10m-5 -5v10M661.5 478.1h10m-5 -5v10M661.6 447.7h10m-5 -5v10M661.7 498.4h10m-5 -5v10M661.8 437.3h10m-5 -5v10M662.0 497.1h10m-5 -5v10M662.1 474.0h10m-5 -5v10M662.2 463.1h10m-5 -5v10M662.3 455.5h10m-5 -5v10M662.4 486.3h10m-5 -5v10M662.5 494.5h10m-5 -5v10M662.7 482.5h10m-5 -5v10M662.8 452.1h10m-5 -5v10M662.9 504.5h10m-5 -5v10M663.0 464.8h10m-5 -5v10M663.1 496.2h10m-5 -5v10M663.2 490.5h10m-5 -5v10M663.4 482.1h10m-5 -5v10M663.5 478.4h10m-5 -5v10M663.6 521.0h10m-5 -5v10M663.7 479.8h10m-5 -5v10M663.8 492.9h10m-5 -5v10M663.9 515.9h10m-5 -5v10M664.1 517.4h10m-5 -5v10M664.2 521.3h10m-5 -5v10M664.3 493.4h10m-5 -5v10M664.4 499.9h10m-5 -5v10M664.5 458.4h10m-5 -5v10M664.6 497.0h10m-5 -5v10M664.8 504.3h10m-5 -5v10M664.9 456.7h10m-5 -5v10M665.0 449.7h10m-5 -5v10M665.1 510.1h10m-5 -5v10M665.2 473.8h10m-5 -5v10M665.3 473.4h10m-5 -5v10M665.5 515.4h10m-5 -5v10M665.6 493.7h10m-5 -5v10M665.7 480.5h10m-5 -5v10M665.8 448.7h10m-5 -5v10M665.9 494.5h10m-5 -5v10M666.0 478.1h10m-5 -5v10M666.2 477.4h10m-5 -5v10M666.3 511.5h10m-5 -5v10M666.4 485.0h10m-5 -5v10M666.5 468.5h10m-5 -5v10M666.6 483.7h10m-5 -5v10M666.7 438.5h10m-5 -5v10M666.9 502.6h10m-5 -5v10M667.0 481.9h10m-5 -5v10M667.1 440.7h10m-5 -5v10M667.2 520.9h10m-5 -5v10M667.3 502.4h10m-5 -5v10M667.4 461.1h10m-5 -5v10M667.6 492.5h10m-5 -5v10M667.7 484.1h10m-5 -5v10M667.8 515.7h10m-5 -5v10M667.9 456.4h10m-5 -5v10M668.0 508.7h10m-5 -5v10M668.1 484.8h10m-5 -5v10M668.3 470.6h10m-5 -5v10M668.4 508.5h10m-5 -5v10M668.5 465.9h10m-5 -5v10M668.6 489.0h10m-5 -5v10M668.7 466.5h10m-5 -5v10M668.8 495.8h10m-5 -5v10M669.0 452.4h10m-5 -5v10M669.1 472.8h10m-5 -5v10M669.2 465.9h10m-5 -5v10M669.3 457.7h10m-5 -5v10M669.4 469.7h10m-5 -5v10M669.5 488.7h10m-5 -5v10M669.7 493.6h10m-5 -5v10M669.8 480.7h10m-5 -5v10M669.9 458.8h10m-5 -5v10M670.0 506.0h10m-5 -5v10M670.1 456.0h10m-5 -5v10M670.2 473.4h10m-5 -5v10M670.4 440.3h10m-5 -5v10M670.5 469.3h10m-5 -5v10M670.6 502.5h10m-5 -5v10M670.7 491.6h10m-5 -5v10M670.8 461.9h10m-5 -5v10M670.9 509.4h10m-5 -5v10M671.1 466.3h10m-5 -5v10M671.2 491.1h10m-5 -5v10M671.3 475.0h10m-5 -5v10M671.4 474.0h10m-5 -5v10M671.5 480.5h10m-5 -5v10M671.6 457.1h10m-5 -5v10M671.8 485.6h10m-5 -5v10M671.9 467.4h10m-5 -5v10M672.0 448.6h10m-5 -5v10M672.1 487.2h10m-5 -5v10M672.2 510.0h10m-5 -5v10M672.3 455.8h10m-5 -5v10M672.5 477.7h10m-5 -5v10M672.6 509.9h10m-5 -5v10M672.7 505.6h10m-5 -5v10M672.8 487.3h10m-5 -5v10M672.9 478.0h10m-5 -5v10M673.0 519.3h10m-5 -5v10M673.2 526.1h10m-5 -5v10M673.3 485.4h10m-5 -5v10M673.4 488.2h10m-5 -5v10M673.5 467.3h10m-5 -5v10M673.6 438.8h10m-5 -5v10M673.7 480.0h10m-5 -5v10M673.9 442.6h10m-5 -5v10M674.0 484.1h10m-5 -5v10M674.1 478.0h10m-5 -5v10M674.2 460.6h10m-5 -5v10M674.3 466.8h10m-5 -5v10M674.4 488.1h10m-5 -5v10M674.6 501.1h10m-5 -5v10M674.7 491.7h10m-5 -5v10M674.8 454.6h10m-5 -5v10M674.9 477.6h10m-5 -5v10M675.0 445.2h10m-5 -5v10M675.1 469.6h10m-5 -5v10M675.3 502.6h10m-5 -5v10M675.4 495.8h10m-5 -5v10M675.5 470.9h10m-5 -5v10M675.6 503.1h10m-5 -5v10M675.7 473.7h10m-5 -5v10M675.8 501.5h10m-5 -5v10M676.0 493.8h10m-5 -5v10M676.1 461.5h10m-5 -5v10M676.2 489.5h10m-5 -5v10M676.3 473.9h10m-5 -5v10M676.4 483.9h10m-5 -5v10M676.5 463.8h10m-5 -5v10M676.7 491.8h10m-5 -5v10M676.8 489.2h10m-5 -5v10M676.9 467.9h10m-5 -5v10M677.0 472.8h10m-5 -5v10M677.1 462.4h10m-5 -5v10M677.2 453.8h10m-5 -5v10M677.4 488.0h10m-5 -5v10M677.5 472.0h10m-5 -5v10M677.6 471.5h10m-5 -5v10M677.7 495.3h10m-5 -5v10M677.8 449.3h10m-5 -5v10M677.9 452.6h10m-5 -5v10M678.1 504.2h10m-5 -5v10M678.2 507.2h10m-5 -5v10M678.3 486.8h10m-5 -5v10M678.4 464.2h10m-5 -5v10M678.5 448.3h10m-5 -5v10M678.6 486.4h10m-5 -5v10M678.8 485.5h10m-5 -5v10M678.9 495.8h10m-5 -5v10M679.0 514.3h10m-5 -5v10M679.1 470.3h10m-5 -5v10M679.2 477.4h10m-5 -5v10M679.3 481.0h10m-5 -5v10M679.5 505.6h10m-5 -5v10M679.6 484.1h10m-5 -5v10M679.7 429.6h10m-5 -5v10M679.8 519.7h10m-5 -5v10M679.9 478.4h10m-5 -5v10M680.0 468.9h10m-5 -5v10M680.2 492.2h10m-5 -5v10M680.3 445.8h10m-5 -5v10M680.4 498.1h10m-5 -5v10M680.5 501.1h10m-5 -5v10M680.6 507.0h10m-5 -5v10M680.7 508.0h10m-5 -5v10M680.9 478.8h10m-5 -5v10M681.0 456.5h10m-5 -5v10M681.1 467.9h10m-5 -5v10M681.2 518.6h10m-5 -5v10M681.3 485.2h10m-5 -5v10M681.4 481.1h10m-5 -5v10M681.6 493.6h10m-5 -5v10M681.7 514.8h10m-5 -5v10M681.8 462.0h10m-5 -5v10M681.9 507.1h10m-5 -5v10M682.0 478.4h10m-5 -5v10M682.1 492.0h10m-5 -5v10M682.3 461.8h10m-5 -5v10M682.4 480.7h10m-5 -5v10M682.5 497.9h10m-5 -5v10M682.6 504.2h10m-5 -5v10M682.7 474.0h10m-5 -5v10M682.8 457.6h10m-5 -5v10M683.0 475.6h10m-5 -5v10M683.1 483.0h10m-5 -5v10M683.2 467.8h10m-5 -5v10M683.3 469.8h10m-5 -5v10M683.4 464.1h10m-5 -5v10M683.5 427.2h10m-5 -5v10M683.7 471.3h10m-5 -5v10M683.8 481.8h10m-5 -5v10M683.9 473.8h10m-5 -5v10M684.0 497.4h10m-5 -5v10M684.1 486.6h10m-5 -5v10M684.2 484.8h10m-5 -5v10M684.4 468.4h10m-5 -5v10M684.5 461.0h10m-5 -5v10M684.6 493.0h10m-5 -5v10M684.7 452.0h10m-5 -5v10M684.8 468.5h10m-5 -5v10M684.9 466.4h10m-5 -5v10M685.1 491.5h10m-5 -5v10M685.2 471.4h10m-5 -5v10M685.3 501.0h10m-5 -5v10M685.4 500.0h10m-5 -5v10M685.5 487.7h10m-5 -5v10M685.6 449.6h10m-5 -5v10M685.8 517.8h10m-5 -5v10M685.9 499.2h10m-5 -5v10M686.0 471.4h10m-5 -5v10M686.1 466.3h10m-5 -5v10M686.2 463.1h10m-5 -5v10M686.3 440.4h10m-5 -5v10M686.5 468.9h10m-5 -5v10M686.6 449.2h10m-5 -5v10M686.7 524.6h10m-5 -5v10M686.8 480.7h10m-5 -5v10M686.9 460.1h10m-5 -5v10M687.0 469.0h10m-5 -5v10M687.2 484.9h10m-5 -5v10M687.3 489.0h10m-5 -5v10M687.4 499.6h10m-5 -5v10M687.5 447.0h10m-5 -5v10M687.6 467.3h10m-5 -5v10M687.7 504.8h10m-5 -5v10M687.9 451.4h10m-5 -5v10M688.0 481.4h10m-5 -5v10M688.1 473.7h10m-5 -5v10M688.2 505.3h10m-5 -5v10M688.3 460.4h10m-5 -5v10M688.4 500.5h10m-5 -5v10M688.6 485.9h10m-5 -5v10M688.7 483.0h10m-5 -5v10M688.8 473.8h10m-5 -5v10M688.9 483.4h10m-5 -5v10M689.0 472.0h10m-5 -5v10M689.1 483.0h10m-5 -5v10M689.3 498.4h10m-5 -5v10M689.4 452.5h10m-5 -5v10M689.5 441.8h10m-5 -5v10M689.6 516.8h10m-5 -5v10M181.6 350.5h10m-5 -5v10M176.2 382.0h10m-5 -5v10M201.9 378.4h10m-5 -5v10M196.4 386.6h10m-5 -5v10M192.1 388.9h10m-5 -5v10M233.0 377.3h10m-5 -5v10M251.3 378.7h10m-5 -5v10M260.1 386.4h10m-5 -5v10M277.2 378.4h10m-5 -5v10M272.2 382.0h10m-5 -5v10M280.4 381.6h10m-5 -5v10M284.6 383.4h10m-5 -5v10M268.8 391.4h10m-5 -5v10M221.8 395.3h10m-5 -5v10M233.7 395.3h10m-5 -5v10M245.2 397.4h10m-5 -5v10M259.4 396.2h10m-5 -5v10M275.9 397.2h10m-5 -5v10M281.8 396.9h10m-5 -5v10M168.3 394.2h10m-5 -5v10M178.3 392.6h10m-5 -5v10M175.6 394.9h10m-5 -5v10M181.6 396.9h10m-5 -5v10M238.3 399.4h10m-5 -5v10M220.5 402.6h10m-5 -5v10M166.9 404.2h10m-5 -5v10M176.5 402.6h10m-5 -5v10M292.3 400.4h10m-5 -5v10M299.4 383.4h10m-5 -5v10M295.0 387.5h10m-5 -5v10M343.1 377.3h10m-5 -5v10M364.6 374.0h10m-5 -5v10M332.1 383.4h10m-5 -5v10M337.1 386.6h10m-5 -5v10M336.7 394.6h10m-5 -5v10M302.8 400.2h10m-5 -5v10M312.6 399.7h10m-5 -5v10M343.1 401.3h10m-5 -5v10M352.7 399.9h10m-5 -5v10M372.4 399.9h10m-5 -5v10M379.7 403.3h10m-5 -5v10M391.3 394.9h10m-5 -5v10M393.4 396.7h10m-5 -5v10M389.3 397.4h10m-5 -5v10M400.5 397.4h10m-5 -5v10M423.6 392.4h10m-5 -5v10M415.4 403.3h10m-5 -5v10M395.7 409.1h10m-5 -5v10M424.1 406.8h10m-5 -5v10M315.1 406.3h10m-5 -5v10M301.4 404.9h10m-5 -5v10M359.1 405.4h10m-5 -5v10M353.6 404.0h10m-5 -5v10M368.3 408.1h10m-5 -5v10M338.5 408.1h10m-5 -5v10M331.6 406.8h10m-5 -5v10M508.5 379.3h10m-5 -5v10M513.3 404.2h10m-5 -5v10M441.2 404.3h10m-5 -5v10M451.3 403.7h10m-5 -5v10M464.1 407.4h10m-5 -5v10M570.3 402.5h10m-5 -5v10M546.2 416.4h10m-5 -5v10M555.1 415.5h10m-5 -5v10M490.2 422.2h10m-5 -5v10M552.7 422.6h10m-5 -5v10M566.9 422.2h10m-5 -5v10M570.5 421.7h10m-5 -5v10M450.1 418.1h10m-5 -5v10M456.5 422.9h10m-5 -5v10M451.5 422.6h10m-5 -5v10M438.7 419.9h10m-5 -5v10M500.9 428.6h10m-5 -5v10M503.7 428.6h10m-5 -5v10M523.1 428.6h10m-5 -5v10M474.4 426.3h10m-5 -5v10M560.4 426.3h10m-5 -5v10M548.5 429.5h10m-5 -5v10M467.0 427.7h10m-5 -5v10M482.6 428.6h10m-5 -5v10M442.3 426.8h10m-5 -5v10M629.9 399.5h10m-5 -5v10M635.4 412.8h10m-5 -5v10M615.3 417.3h10m-5 -5v10M626.7 417.6h10m-5 -5v10M632.7 417.6h10m-5 -5v10M640.9 418.1h10m-5 -5v10M645.5 422.4h10m-5 -5v10M609.3 420.8h10m-5 -5v10M607.5 426.3h10m-5 -5v10M585.5 425.9h10m-5 -5v10M591.5 429.5h10m-5 -5v10M638.2 427.7h10m-5 -5v10M648.3 429.5h10m-5 -5v10M689.5 420.2h10m-5 -5v10M680.3 422.8h10m-5 -5v10M687.6 425.4h10m-5 -5v10M670.7 427.0h10m-5 -5v10M686.7 428.1h10m-5 -5v10M617.1 424.0h10m-5 -5v10M580.5 429.5h10m-5 -5v10M189.6 591.8h10m-5 -5v10M210.7 599.7h10m-5 -5v10M228.0 599.5h10m-5 -5v10M217.3 586.9h10m-5 -5v10M228.0 582.2h10m-5 -5v10M283.2 597.0h10m-5 -5v10M277.7 577.1h10m-5 -5v10M255.7 577.1h10m-5 -5v10M293.3 571.6h10m-5 -5v10M168.9 571.3h10m-5 -5v10M168.9 568.3h10m-5 -5v10M186.1 578.2h10m-5 -5v10M186.1 573.2h10m-5 -5v10M195.3 578.2h10m-5 -5v10M204.9 575.5h10m-5 -5v10M207.2 582.3h10m-5 -5v10M204.9 583.3h10m-5 -5v10M239.2 567.7h10m-5 -5v10M218.2 570.4h10m-5 -5v10M228.3 569.5h10m-5 -5v10M221.4 567.2h10m-5 -5v10M263.0 574.6h10m-5 -5v10M261.2 572.3h10m-5 -5v10M269.5 570.0h10m-5 -5v10M265.8 569.1h10m-5 -5v10M207.2 563.6h10m-5 -5v10M207.2 568.6h10m-5 -5v10M194.4 572.3h10m-5 -5v10M255.3 560.4h10m-5 -5v10M269.5 561.6h10m-5 -5v10M277.7 558.1h10m-5 -5v10M169.7 562.2h10m-5 -5v10M180.6 561.7h10m-5 -5v10M295.9 585.5h10m-5 -5v10M334.4 597.4h10m-5 -5v10M413.6 593.5h10m-5 -5v10M308.9 574.4h10m-5 -5v10M323.4 570.2h10m-5 -5v10M331.6 570.9h10m-5 -5v10M329.8 562.5h10m-5 -5v10M326.6 565.9h10m-5 -5v10M350.2 562.2h10m-5 -5v10M360.9 569.7h10m-5 -5v10M366.4 577.3h10m-5 -5v10M370.5 574.6h10m-5 -5v10M379.1 569.7h10m-5 -5v10M383.1 576.6h10m-5 -5v10M402.6 565.2h10m-5 -5v10M402.6 572.9h10m-5 -5v10M411.3 558.8h10m-5 -5v10M427.9 566.1h10m-5 -5v10M427.9 551.2h10m-5 -5v10M413.6 548.5h10m-5 -5v10M375.6 558.5h10m-5 -5v10M384.7 557.2h10m-5 -5v10M387.5 551.7h10m-5 -5v10M364.1 556.4h10m-5 -5v10M304.2 562.7h10m-5 -5v10M298.7 564.9h10m-5 -5v10M339.0 552.1h10m-5 -5v10M321.6 556.2h10m-5 -5v10M306.9 557.2h10m-5 -5v10M440.8 563.5h10m-5 -5v10M444.0 555.5h10m-5 -5v10M479.4 555.7h10m-5 -5v10M479.0 558.0h10m-5 -5v10M495.4 556.2h10m-5 -5v10M500.5 550.5h10m-5 -5v10M565.5 560.1h10m-5 -5v10M459.3 547.9h10m-5 -5v10M459.3 544.5h10m-5 -5v10M477.6 545.5h10m-5 -5v10M496.5 543.5h10m-5 -5v10M517.4 545.6h10m-5 -5v10M511.5 541.5h10m-5 -5v10M534.3 541.5h10m-5 -5v10M517.9 536.0h10m-5 -5v10M493.1 536.5h10m-5 -5v10M568.2 535.4h10m-5 -5v10M566.4 531.4h10m-5 -5v10M551.3 531.9h10m-5 -5v10M440.5 542.2h10m-5 -5v10M449.2 541.1h10m-5 -5v10M459.7 538.3h10m-5 -5v10M470.7 539.0h10m-5 -5v10M477.1 539.7h10m-5 -5v10M530.2 526.4h10m-5 -5v10M522.0 524.6h10m-5 -5v10M511.9 531.0h10m-5 -5v10M689.5 576.8h10m-5 -5v10M583.9 540.3h10m-5 -5v10M591.3 546.1h10m-5 -5v10M593.3 538.8h10m-5 -5v10M607.5 537.2h10m-5 -5v10M617.3 543.6h10m-5 -5v10M620.8 545.5h10m-5 -5v10M621.7 535.4h10m-5 -5v10M617.6 533.6h10m-5 -5v10M619.9 539.2h10m-5 -5v10M649.0 536.5h10m-5 -5v10M651.7 538.1h10m-5 -5v10M678.6 536.9h10m-5 -5v10M688.5 527.3h10m-5 -5v10M597.0 532.1h10m-5 -5v10M600.6 532.8h10m-5 -5v10M602.5 535.1h10m-5 -5v10M681.2 526.0h10m-5 -5v10M669.3 526.4h10m-5 -5v10M645.5 527.3h10m-5 -5v10M577.7 526.4h10m-5 -5v10M587.8 523.7h10m-5 -5v10M629.0 522.7h10m-5 -5v10M640.0 524.6h10m-5 -5v10M653.7 523.7h10m-5 -5v10M616.2 524.6h10m-5 -5v10M608.9 523.7h10m-5 -5v10" stroke="#ff0000" stroke-width="1.0" fill="none"/>
<clipPath id="c12"><rect x="889.3" y="350.3" width="635.4" height="262.65"/></clipPath>
<path clip-path="url(#c12)" d="M927.6 496.2h10m-5 -5v10M927.7 426.0h10m-5 -5v10M927.8 487.5h10m-5 -5v10M927.9 447.2h10m-5 -5v10M928.1 449.4h10m-5 -5v10M928.2 388.7h10m-5 -5v10M928.3 409.3h10m-5 -5v10M928.4 513.5h10m-5 -5v10M928.5 406.9h10m-5 -5v10M928.6 502.1h10m-5 -5v10M928.8 500.3h10m-5 -5v10M928.9 438.2h10m-5 -5v10M929.0 385.3h10m-5 -5v10M929.1 414.8h10m-5 -5v10M929.2 399.4h10m-5 -5v10M929.3 447.1h10m-5 -5v10M929.5 445.5h10m-5 -5v10M929.6 452.4h10m-5 -5v10M929.7 412.1h10m-5 -5v10M929.8 490.4h10m-5 -5v10M929.9 404.8h10m-5 -5v10M930.0 489.4h10m-5 -5v10M930.2 484.6h10m-5 -5v10M930.3 416.7h10m-5 -5v10M930.4 495.5h10m-5 -5v10M930.5 445.0h10m-5 -5v10M930.6 468.8h10m-5 -5v10M930.7 414.9h10m-5 -5v10M930.9 477.8h10m-5 -5v10M931.0 416.7h10m-5 -5v10M931.1 438.3h10m-5 -5v10M931.2 500.4h10m-5 -5v10M931.3 472.0h10m-5 -5v10M931.4 389.3h10m-5 -5v10M931.6 424.9h10m-5 -5v10M931.7 408.9h10m-5 -5v10M931.8 401.6h10m-5 -5v10M931.9 418.7h10m-5 -5v10M932.0 473.1h10m-5 -5v10M932.1 476.8h10m-5 -5v10M932.3 499.0h10m-5 -5v10M932.4 402.7h10m-5 -5v10M932.5 507.6h10m-5 -5v10M932.6 460.9h10m-5 -5v10M932.7 471.6h10m-5 -5v10M932.8 456.5h10m-5 -5v10M933.0 456.7h10m-5 -5v10M933.1 478.7h10m-5 -5v10M933.2 469.3h10m-5 -5v10M933.3 417.1h10m-5 -5v10M933.4 513.3h10m-5 -5v10M933.5 446.5h10m-5 -5v10M933.7 429.5h10m-5 -5v10M933.8 434.5h10m-5 -5v10M933.9 487.8h10m-5 -5v10M934.0 526.5h10m-5 -5v10M934.1 526.7h10m-5 -5v10M934.2 431.7h10m-5 -5v10M934.4 468.4h10m-5 -5v10M934.5 516.1h10m-5 -5v10M934.6 445.7h10m-5 -5v10M934.7 405.1h10m-5 -5v10M934.8 526.3h10m-5 -5v10M934.9 482.4h10m-5 -5v10M935.1 421.8h10m-5 -5v10M935.2 461.9h10m-5 -5v10M935.3 434.0h10m-5 -5v10M935.4 464.7h10m-5 -5v10M935.5 389.5h10m-5 -5v10M935.6 446.4h10m-5 -5v10M935.8 447.8h10m-5 -5v10M935.9 458.8h10m-5 -5v10M936.0 475.4h10m-5 -5v10M936.1 399.6h10m-5 -5v10M936.2 505.0h10m-5 -5v10M936.3 456.9h10m-5 -5v10M936.5 526.7h10m-5 -5v10M936.6 457.0h10m-5 -5v10M936.7 487.0h10m-5 -5v10M936.8 417.5h10m-5 -5v10M936.9 435.7h10m-5 -5v10M937.0 384.8h10m-5 -5v10M937.2 406.1h10m-5 -5v10M937.3 447.0h10m-5 -5v10M937.4 428.3h10m-5 -5v10M937.5 529.4h10m-5 -5v10M937.6 436.8h10m-5 -5v10M937.7 476.0h10m-5 -5v10M937.9 513.1h10m-5 -5v10M938.0 503.0h10m-5 -5v10M938.1 415.5h10m-5 -5v10M938.2 496.0h10m-5 -5v10M938.3 421.9h10m-5 -5v10M938.4 397.5h10m-5 -5v10M938.6 459.1h10m-5 -5v10M938.7 421.2h10m-5 -5v10M938.8 408.6h10m-5 -5v10M938.9 395.7h10m-5 -5v10M939.0 512.3h10m-5 -5v10M939.1 427.4h10m-5 -5v10M939.3 488.7h10m-5 -5v10M939.4 441.0h10m-5 -5v10M939.5 446.7h10m-5 -5v10M939.6 435.1h10m-5 -5v10M939.7 492.3h10m-5 -5v10M939.8 506.9h10m-5 -5v10M940.0 433.9h10m-5 -5v10M940.1 422.0h10m-5 -5v10M940.2 489.2h10m-5 -5v10M940.3 493.9h10m-5 -5v10M940.4 460.4h10m-5 -5v10M940.5 477.8h10m-5 -5v10M940.7 458.7h10m-5 -5v10M940.8 505.9h10m-5 -5v10M940.9 491.2h10m-5 -5v10M941.0 435.0h10m-5 -5v10M941.1 437.0h10m-5 -5v10M941.2 478.6h10m-5 -5v10M941.4 406.1h10m-5 -5v10M941.5 508.0h10m-5 -5v10M941.6 520.9h10m-5 -5v10M941.7 485.8h10m-5 -5v10M941.8 419.6h10m-5 -5v10M941.9 467.4h10m-5 -5v10M942.1 514.5h10m-5 -5v10M942.2 395.3h10m-5 -5v10M942.3 520.6h10m-5 -5v10M942.4 445.1h10m-5 -5v10M942.5 470.7h10m-5 -5v10M942.6 434.1h10m-5 -5v10M942.8 401.1h10m-5 -5v10M942.9 509.3h10m-5 -5v10M943.0 463.1h10m-5 -5v10M943.1 454.5h10m-5 -5v10M943.2 495.3h10m-5 -5v10M943.3 511.8h10m-5 -5v10M943.5 491.9h10m-5 -5v10M943.6 444.2h10m-5 -5v10M943.7 499.2h10m-5 -5v10M943.8 490.1h10m-5 -5v10M943.9 402.0h10m-5 -5v10M944.0 422.0h10m-5 -5v10M944.2 421.2h10m-5 -5v10M944.3 515.3h10m-5 -5v10M944.4 490.5h10m-5 -5v10M944.5 475.5h10m-5 -5v10M944.6 478.6h10m-5 -5v10M944.7 461.2h10m-5 -5v10M944.9 472.7h10m-5 -5v10M945.0 414.5h10m-5 -5v10M945.1 423.6h10m-5 -5v10M945.2 422.8h10m-5 -5v10M945.3 486.7h10m-5 -5v10M945.4 402.9h10m-5 -5v10M945.6 438.9h10m-5 -5v10M945.7 472.6h10m-5 -5v10M945.8 471.5h10m-5 -5v10M945.9 482.8h10m-5 -5v10M946.0 505.9h10m-5 -5v10M946.1 474.1h10m-5 -5v10M946.3 427.1h10m-5 -5v10M946.4 446.3h10m-5 -5v10M946.5 499.8h10m-5 -5v10M946.6 441.2h10m-5 -5v10M946.7 417.4h10m-5 -5v10M946.8 399.1h10m-5 -5v10M947.0 414.7h10m-5 -5v10M947.1 492.2h10m-5 -5v10M947.2 485.5h10m-5 -5v10M947.3 481.8h10m-5 -5v10M947.4 440.0h10m-5 -5v10M947.5 497.2h10m-5 -5v10M947.7 461.8h10m-5 -5v10M947.8 495.1h10m-5 -5v10M947.9 403.7h10m-5 -5v10M948.0 388.0h10m-5 -5v10M948.1 423.5h10m-5 -5v10M948.2 466.3h10m-5 -5v10M948.4 489.5h10m-5 -5v10M948.5 388.9h10m-5 -5v10M948.6 407.1h10m-5 -5v10M948.7 426.8h10m-5 -5v10M948.8 506.0h10m-5 -5v10M948.9 429.4h10m-5 -5v10M949.1 510.0h10m-5 -5v10M949.2 401.7h10m-5 -5v10M949.3 464.5h10m-5 -5v10M949.4 407.7h10m-5 -5v10M949.5 440.9h10m-5 -5v10M949.6 452.9h10m-5 -5v10M949.8 386.4h10m-5 -5v10M949.9 494.1h10m-5 -5v10M950.0 416.4h10m-5 -5v10M950.1 405.9h10m-5 -5v10M950.2 451.5h10m-5 -5v10M950.3 474.3h10m-5 -5v10M950.5 441.1h10m-5 -5v10M950.6 390.4h10m-5 -5v10M950.7 386.8h10m-5 -5v10M950.8 400.7h10m-5 -5v10M950.9 438.2h10m-5 -5v10M951.0 379.8h10m-5 -5v10M951.2 507.5h10m-5 -5v10M951.3 504.4h10m-5 -5v10M951.4 418.3h10m-5 -5v10M951.5 431.3h10m-5 -5v10M951.6 525.3h10m-5 -5v10M951.7 446.5h10m-5 -5v10M951.9 444.7h10m-5 -5v10M952.0 466.6h10m-5 -5v10M952.1 507.6h10m-5 -5v10M952.2 483.6h10m-5 -5v10M952.3 453.2h10m-5 -5v10M952.4 514.8h10m-5 -5v10M952.6 433.9h10m-5 -5v10M952.7 421.2h10m-5 -5v10M952.8 441.3h10m-5 -5v10M952.9 461.8h10m-5 -5v10M953.0 462.0h10m-5 -5v10M953.1 445.1h10m-5 -5v10M953.3 478.3h10m-5 -5v10M953.4 457.8h10m-5 -5v10M953.5 430.5h10m-5 -5v10M953.6 475.3h10m-5 -5v10M953.7 492.8h10m-5 -5v10M953.8 410.9h10m-5 -5v10M954.0 434.7h10m-5 -5v10M954.1 519.2h10m-5 -5v10M954.2 421.3h10m-5 -5v10M954.3 525.0h10m-5 -5v10M954.4 466.9h10m-5 -5v10M954.5 500.6h10m-5 -5v10M954.7 398.6h10m-5 -5v10M954.8 510.1h10m-5 -5v10M954.9 410.5h10m-5 -5v10M955.0 496.4h10m-5 -5v10M955.1 511.3h10m-5 -5v10M955.2 455.2h10m-5 -5v10M955.4 516.0h10m-5 -5v10M955.5 436.6h10m-5 -5v10M955.6 486.1h10m-5 -5v10M955.7 473.3h10m-5 -5v10M955.8 480.5h10m-5 -5v10M955.9 516.2h10m-5 -5v10M956.1 488.3h10m-5 -5v10M956.2 484.6h10m-5 -5v10M956.3 450.5h10m-5 -5v10M956.4 413.3h10m-5 -5v10M956.5 475.7h10m-5 -5v10M956.6 519.9h10m-5 -5v10M956.8 412.7h10m-5 -5v10M956.9 434.3h10m-5 -5v10M957.0 425.0h10m-5 -5v10M957.1 514.6h10m-5 -5v10M957.2 485.7h10m-5 -5v10M957.3 468.7h10m-5 -5v10M957.5 474.4h10m-5 -5v10M957.6 471.6h10m-5 -5v10M957.7 508.1h10m-5 -5v10M957.8 508.0h10m-5 -5v10M957.9 418.5h10m-5 -5v10M958.0 507.0h10m-5 -5v10M958.2 497.6h10m-5 -5v10M958.3 465.1h10m-5 -5v10M958.4 519.6h10m-5 -5v10M958.5 501.4h10m-5 -5v10M958.6 499.2h10m-5 -5v10M958.7 438.3h10m-5 -5v10M958.9 473.3h10m-5 -5v10M959.0 408.8h10m-5 -5v10M959.1 480.8h10m-5 -5v10M959.2 425.5h10m-5 -5v10M959.3 417.2h10m-5 -5v10M959.4 487.3h10m-5 -5v10M959.6 490.7h10m-5 -5v10M959.7 444.1h10m-5 -5v10M959.8 420.2h10m-5 -5v10M959.9 447.6h10m-5 -5v10M960.0 519.9h10m-5 -5v10M960.1 476.4h10m-5 -5v10M960.3 386.3h10m-5 -5v10M960.4 510.3h10m-5 -5v10M960.5 474.3h10m-5 -5v10M960.6 416.3h10m-5 -5v10M960.7 448.7h10m-5 -5v10M960.8 466.5h10m-5 -5v10M961.0 429.0h10m-5 -5v10M961.1 480.6h10m-5 -5v10M961.2 392.1h10m-5 -5v10M961.3 514.1h10m-5 -5v10M961.4 457.4h10m-5 -5v10M961.5 474.3h10m-5 -5v10M961.7 489.0h10m-5 -5v10M961.8 413.9h10m-5 -5v10M961.9 444.6h10m-5 -5v10M962.0 430.7h10m-5 -5v10M962.1 453.7h10m-5 -5v10M962.2 396.2h10m-5 -5v10M962.4 497.6h10m-5 -5v10M962.5 515.0h10m-5 -5v10M962.6 457.3h10m-5 -5v10M962.7 480.0h10m-5 -5v10M962.8 468.9h10m-5 -5v10M962.9 526.9h10m-5 -5v10M963.1 427.0h10m-5 -5v10M963.2 394.4h10m-5 -5v10M963.3 394.5h10m-5 -5v10M963.4 428.1h10m-5 -5v10M963.5 444.2h10m-5 -5v10M963.6 479.0h10m-5 -5v10M963.8 435.8h10m-5 -5v10M963.9 429.2h10m-5 -5v10M964.0 513.3h10m-5 -5v10M964.1 447.9h10m-5 -5v10M964.2 485.3h10m-5 -5v10M964.3 441.3h10m-5 -5v10M964.5 451.3h10m-5 -5v10M964.6 475.5h10m-5 -5v10M964.7 382.1h10m-5 -5v10M964.8 406.7h10m-5 -5v10M964.9 498.8h10m-5 -5v10M965.0 434.2h10m-5 -5v10M965.2 475.0h10m-5 -5v10M965.3 424.9h10m-5 -5v10M965.4 394.8h10m-5 -5v10M965.5 398.8h10m-5 -5v10M965.6 517.3h10m-5 -5v10M965.7 431.9h10m-5 -5v10M965.9 512.4h10m-5 -5v10M966.0 481.1h10m-5 -5v10M966.1 485.5h10m-5 -5v10M966.2 429.6h10m-5 -5v10M966.3 497.6h10m-5 -5v10M966.4 485.9h10m-5 -5v10M966.6 405.3h10m-5 -5v10M966.7 515.2h10m-5 -5v10M966.8 481.7h10m-5 -5v10M966.9 510.3h10m-5 -5v10M967.0 498.8h10m-5 -5v10M967.1 508.2h10m-5 -5v10M967.3 486.9h10m-5 -5v10M967.4 412.2h10m-5 -5v10M967.5 504.3h10m-5 -5v10M967.6 419.2h10m-5 -5v10M967.7 470.7h10m-5 -5v10M967.8 479.9h10m-5 -5v10M968.0 489.7h10m-5 -5v10M968.1 408.3h10m-5 -5v10M968.2 493.4h10m-5 -5v10M968.3 495.5h10m-5 -5v10M968.4 383.1h10m-5 -5v10M968.5 436.7h10m-5 -5v10M968.7 456.3h10m-5 -5v10M968.8 425.1h10m-5 -5v10M968.9 411.7h10m-5 -5v10M969.0 425.8h10m-5 -5v10M969.1 502.7h10m-5 -5v10M969.2 463.9h10m-5 -5v10M969.4 484.7h10m-5 -5v10M969.5 427.1h10m-5 -5v10M969.6 460.2h10m-5 -5v10M969.7 476.2h10m-5 -5v10M969.8 439.4h10m-5 -5v10M969.9 439.5h10m-5 -5v10M970.1 383.1h10m-5 -5v10M970.2 428.9h10m-5 -5v10M970.3 478.0h10m-5 -5v10M970.4 411.7h10m-5 -5v10M970.5 441.6h10m-5 -5v10M970.6 467.2h10m-5 -5v10M970.8 451.8h10m-5 -5v10M970.9 375.6h10m-5 -5v10M971.0 388.0h10m-5 -5v10M971.1 509.3h10m-5 -5v10M971.2 411.7h10m-5 -5v10M971.3 472.8h10m-5 -5v10M971.5 438.4h10m-5 -5v10M971.6 495.7h10m-5 -5v10M971.7 437.8h10m-5 -5v10M971.8 486.7h10m-5 -5v10M971.9 490.1h10m-5 -5v10M972.0 492.0h10m-5 -5v10M972.2 453.4h10m-5 -5v10M972.3 507.4h10m-5 -5v10M972.4 480.6h10m-5 -5v10M972.5 422.0h10m-5 -5v10M972.6 482.9h10m-5 -5v10M972.7 472.2h10m-5 -5v10M972.9 423.2h10m-5 -5v10M973.0 511.3h10m-5 -5v10M973.1 464.3h10m-5 -5v10M973.2 463.8h10m-5 -5v10M973.3 398.3h10m-5 -5v10M973.4 393.2h10m-5 -5v10M973.6 517.2h10m-5 -5v10M973.7 391.4h10m-5 -5v10M973.8 431.7h10m-5 -5v10M973.9 468.8h10m-5 -5v10M974.0 406.3h10m-5 -5v10M974.1 504.3h10m-5 -5v10M974.3 450.0h10m-5 -5v10M974.4 413.5h10m-5 -5v10M974.5 434.9h10m-5 -5v10M974.6 469.7h10m-5 -5v10M974.7 450.5h10m-5 -5v10M974.8 402.2h10m-5 -5v10M975.0 500.3h10m-5 -5v10M975.1 426.2h10m-5 -5v10M975.2 415.5h10m-5 -5v10M975.3 500.7h10m-5 -5v10M975.4 397.3h10m-5 -5v10M975.5 500.8h10m-5 -5v10M975.6 512.6h10m-5 -5v10M975.8 474.2h10m-5 -5v10M975.9 498.1h10m-5 -5v10M976.0 424.0h10m-5 -5v10M976.1 459.3h10m-5 -5v10M976.2 424.5h10m-5 -5v10M976.3 493.9h10m-5 -5v10M976.5 447.4h10m-5 -5v10M976.6 509.6h10m-5 -5v10M976.7 483.9h10m-5 -5v10M976.8 425.9h10m-5 -5v10M976.9 411.8h10m-5 -5v10M977.0 429.5h10m-5 -5v10M977.2 439.2h10m-5 -5v10M977.3 379.4h10m-5 -5v10M977.4 487.6h10m-5 -5v10M977.5 482.5h10m-5 -5v10M977.6 450.9h10m-5 -5v10M977.7 504.1h10m-5 -5v10M977.9 415.2h10m-5 -5v10M978.0 483.9h10m-5 -5v10M978.1 413.9h10m-5 -5v10M978.2 420.4h10m-5 -5v10M978.3 438.0h10m-5 -5v10M978.4 400.7h10m-5 -5v10M978.6 505.6h10m-5 -5v10M978.7 490.1h10m-5 -5v10M978.8 475.1h10m-5 -5v10M978.9 484.1h10m-5 -5v10M979.0 410.0h10m-5 -5v10M979.1 415.2h10m-5 -5v10M979.3 413.2h10m-5 -5v10M979.4 429.1h10m-5 -5v10M979.5 421.5h10m-5 -5v10M979.6 466.3h10m-5 -5v10M979.7 414.1h10m-5 -5v10M979.8 404.2h10m-5 -5v10M980.0 477.2h10m-5 -5v10M980.1 427.0h10m-5 -5v10M980.2 432.6h10m-5 -5v10M980.3 457.5h10m-5 -5v10M980.4 460.7h10m-5 -5v10M980.5 384.5h10m-5 -5v10M980.7 481.9h10m-5 -5v10M980.8 481.9h10m-5 -5v10M980.9 503.8h10m-5 -5v10M981.0 395.3h10m-5 -5v10M981.1 476.9h10m-5 -5v10M981.2 508.0h10m-5 -5v10M981.4 466.7h10m-5 -5v10M981.5 431.0h10m-5 -5v10M981.6 433.3h10m-5 -5v10M981.7 500.9h10m-5 -5v10M981.8 462.8h10m-5 -5v10M981.9 430.3h10m-5 -5v10M982.1 434.0h10m-5 -5v10M982.2 479.4h10m-5 -5v10M982.3 505.8h10m-5 -5v10M982.4 429.3h10m-5 -5v10M982.5 457.6h10m-5 -5v10M982.6 504.4h10m-5 -5v10M982.8 453.9h10m-5 -5v10M982.9 414.6h10m-5 -5v10M983.0 485.9h10m-5 -5v10M983.1 520.3h10m-5 -5v10M983.2 421.6h10m-5 -5v10M983.3 531.1h10m-5 -5v10M983.5 491.6h10m-5 -5v10M983.6 518.9h10m-5 -5v10M983.7 400.1h10m-5 -5v10M983.8 467.6h10m-5 -5v10M983.9 501.7h10m-5 -5v10M984.0 521.1h10m-5 -5v10M984.2 511.2h10m-5 -5v10M984.3 494.6h10m-5 -5v10M984.4 398.9h10m-5 -5v10M984.5 506.6h10m-5 -5v10M984.6 428.7h10m-5 -5v10M984.7 466.0h10m-5 -5v10M984.9 503.8h10m-5 -5v10M985.0 506.4h10m-5 -5v10M985.1 486.1h10m-5 -5v10M985.2 482.0h10m-5 -5v10M985.3 465.3h10m-5 -5v10M985.4 439.0h10m-5 -5v10M985.6 529.4h10m-5 -5v10M985.7 500.2h10m-5 -5v10M985.8 470.1h10m-5 -5v10M985.9 507.2h10m-5 -5v10M986.0 434.0h10m-5 -5v10M986.1 448.6h10m-5 -5v10M986.3 436.4h10m-5 -5v10M986.4 410.5h10m-5 -5v10M986.5 498.3h10m-5 -5v10M986.6 493.6h10m-5 -5v10M986.7 440.3h10m-5 -5v10M986.8 504.5h10m-5 -5v10M987.0 439.8h10m-5 -5v10M987.1 391.8h10m-5 -5v10M987.2 511.1h10m-5 -5v10M987.3 433.9h10m-5 -5v10M987.4 507.2h10m-5 -5v10M987.5 402.1h10m-5 -5v10M987.7 437.0h10m-5 -5v10M987.8 515.6h10m-5 -5v10M987.9 407.2h10m-5 -5v10M988.0 486.0h10m-5 -5v10M988.1 394.9h10m-5 -5v10M988.2 460.4h10m-5 -5v10M988.4 498.3h10m-5 -5v10M988.5 424.5h10m-5 -5v10M988.6 439.8h10m-5 -5v10M988.7 502.8h10m-5 -5v10M988.8 400.5h10m-5 -5v10M988.9 465.2h10m-5 -5v10M989.1 455.7h10m-5 -5v10M989.2 455.0h10m-5 -5v10M989.3 442.9h10m-5 -5v10M989.4 465.1h10m-5 -5v10M989.5 408.3h10m-5 -5v10M989.6 443.2h10m-5 -5v10M989.8 452.8h10m-5 -5v10M989.9 519.5h10m-5 -5v10M990.0 494.3h10m-5 -5v10M990.1 502.6h10m-5 -5v10M990.2 436.0h10m-5 -5v10M990.3 416.8h10m-5 -5v10M990.5 489.2h10m-5 -5v10M990.6 390.3h10m-5 -5v10M990.7 424.4h10m-5 -5v10M990.8 427.5h10m-5 -5v10M990.9 395.7h10m-5 -5v10M991.0 463.2h10m-5 -5v10M991.2 500.0h10m-5 -5v10M991.3 407.8h10m-5 -5v10M991.4 469.8h10m-5 -5v10M991.5 441.0h10m-5 -5v10M991.6 471.6h10m-5 -5v10M991.7 483.4h10m-5 -5v10M991.9 456.3h10m-5 -5v10M992.0 524.2h10m-5 -5v10M992.1 399.9h10m-5 -5v10M992.2 456.6h10m-5 -5v10M992.3 507.7h10m-5 -5v10M992.4 452.8h10m-5 -5v10M992.6 525.8h10m-5 -5v10M992.7 450.7h10m-5 -5v10M992.8 413.3h10m-5 -5v10M992.9 447.2h10m-5 -5v10M993.0 458.2h10m-5 -5v10M993.1 408.4h10m-5 -5v10M993.3 399.9h10m-5 -5v10M993.4 483.6h10m-5 -5v10M993.5 410.3h10m-5 -5v10M993.6 493.6h10m-5 -5v10M993.7 439.8h10m-5 -5v10M993.8 514.1h10m-5 -5v10M994.0 468.5h10m-5 -5v10M994.1 417.2h10m-5 -5v10M994.2 459.8h10m-5 -5v10M994.3 423.8h10m-5 -5v10M994.4 434.0h10m-5 -5v10M994.5 518.3h10m-5 -5v10M994.7 464.0h10m-5 -5v10M994.8 494.8h10m-5 -5v10M994.9 400.1h10m-5 -5v10M995.0 429.9h10m-5 -5v10M995.1 410.9h10m-5 -5v10M995.2 429.2h10m-5 -5v10M995.4 419.3h10m-5 -5v10M995.5 403.4h10m-5 -5v10M995.6 471.1h10m-5 -5v10M995.7 440.1h10m-5 -5v10M995.8 469.0h10m-5 -5v10M995.9 454.4h10m-5 -5v10M996.1 520.3h10m-5 -5v10M996.2 436.4h10m-5 -5v10M996.3 441.9h10m-5 -5v10M996.4 492.4h10m-5 -5v10M996.5 465.3h10m-5 -5v10M996.6 398.3h10m-5 -5v10M996.8 496.6h10m-5 -5v10M996.9 448.4h10m-5 -5v10M997.0 491.8h10m-5 -5v10M997.1 495.2h10m-5 -5v10M997.2 409.8h10m-5 -5v10M997.3 463.7h10m-5 -5v10M997.5 464.0h10m-5 -5v10M997.6 475.8h10m-5 -5v10M997.7 475.9h10m-5 -5v10M997.8 517.2h10m-5 -5v10M997.9 397.9h10m-5 -5v10M998.0 442.6h10m-5 -5v10M998.2 431.6h10m-5 -5v10M998.3 450.0h10m-5 -5v10M998.4 517.2h10m-5 -5v10M998.5 422.7h10m-5 -5v10M998.6 507.6h10m-5 -5v10M998.7 414.6h10m-5 -5v10M998.9 406.8h10m-5 -5v10M999.0 383.7h10m-5 -5v10M999.1 441.3h10m-5 -5v10M999.2 422.6h10m-5 -5v10M999.3 469.7h10m-5 -5v10M999.4 406.0h10m-5 -5v10M999.6 422.1h10m-5 -5v10M999.7 491.8h10m-5 -5v10M999.8 422.5h10m-5 -5v10M999.9 482.1h10m-5 -5v10M1000.0 433.5h10m-5 -5v10M1000.1 404.3h10m-5 -5v10M1000.3 487.2h10m-5 -5v10M1000.4 505.6h10m-5 -5v10M1000.5 488.4h10m-5 -5v10M1000.6 469.6h10m-5 -5v10M1000.7 414.7h10m-5 -5v10M1000.8 465.7h10m-5 -5v10M1001.0 459.8h10m-5 -5v10M1001.1 452.5h10m-5 -5v10M1001.2 430.0h10m-5 -5v10M1001.3 414.9h10m-5 -5v10M1001.4 435.3h10m-5 -5v10M1001.5 430.6h10m-5 -5v10M1001.7 444.1h10m-5 -5v10M1001.8 485.7h10m-5 -5v10M1001.9 469.6h10m-5 -5v10M1002.0 476.6h10m-5 -5v10M1002.1 474.1h10m-5 -5v10M1002.2 436.8h10m-5 -5v10M1002.4 378.4h10m-5 -5v10M1002.5 422.7h10m-5 -5v10M1002.6 490.7h10m-5 -5v10M1002.7 411.3h10m-5 -5v10M1002.8 469.9h10m-5 -5v10M1002.9 511.1h10m-5 -5v10M1003.1 437.1h10m-5 -5v10M1003.2 417.3h10m-5 -5v10M1003.3 473.1h10m-5 -5v10M1003.4 426.9h10m-5 -5v10M1003.5 414.0h10m-5 -5v10M1003.6 408.2h10m-5 -5v10M1003.8 511.4h10m-5 -5v10M1003.9 482.9h10m-5 -5v10M1004.0 524.6h10m-5 -5v10M1004.1 401.7h10m-5 -5v10M1004.2 435.0h10m-5 -5v10M1004.3 398.0h10m-5 -5v10M1004.5 438.2h10m-5 -5v10M1004.6 459.6h10m-5 -5v10M1004.7 493.1h10m-5 -5v10M1004.8 457.0h10m-5 -5v10M1004.9 440.1h10m-5 -5v10M1005.0 424.1h10m-5 -5v10M1005.2 397.1h10m-5 -5v10M1005.3 505.3h10m-5 -5v10M1005.4 474.9h10m-5 -5v10M1005.5 405.1h10m-5 -5v10M1005.6 440.0h10m-5 -5v10M1005.7 425.4h10m-5 -5v10M1005.9 426.3h10m-5 -5v10M1006.0 446.8h10m-5 -5v10M1006.1 422.5h10m-5 -5v10M1006.2 470.4h10m-5 -5v10M1006.3 435.3h10m-5 -5v10M1006.4 482.4h10m-5 -5v10M1006.6 427.7h10m-5 -5v10M1006.7 476.9h10m-5 -5v10M1006.8 439.4h10m-5 -5v10M1006.9 398.6h10m-5 -5v10M1007.0 419.5h10m-5 -5v10M1007.1 499.9h10m-5 -5v10M1007.3 392.3h10m-5 -5v10M1007.4 527.2h10m-5 -5v10M1007.5 462.5h10m-5 -5v10M1007.6 481.1h10m-5 -5v10M1007.7 418.0h10m-5 -5v10M1007.8 449.4h10m-5 -5v10M1008.0 408.6h10m-5 -5v10M1008.1 492.8h10m-5 -5v10M1008.2 491.3h10m-5 -5v10M1008.3 433.6h10m-5 -5v10M1008.4 517.0h10m-5 -5v10M1008.5 492.1h10m-5 -5v10M1008.7 422.4h10m-5 -5v10M1008.8 468.7h10m-5 -5v10M1008.9 421.3h10m-5 -5v10M1009.0 460.1h10m-5 -5v10M1009.1 488.5h10m-5 -5v10M1009.2 450.2h10m-5 -5v10M1009.4 465.8h10m-5 -5v10M1009.5 505.0h10m-5 -5v10M1009.6 482.5h10m-5 -5v10M1009.7 398.7h10m-5 -5v10M1009.8 432.8h10m-5 -5v10M1009.9 407.9h10m-5 -5v10M1010.1 392.9h10m-5 -5v10M1010.2 523.4h10m-5 -5v10M1010.3 429.8h10m-5 -5v10M1010.4 483.0h10m-5 -5v10M1010.5 397.8h10m-5 -5v10M1010.6 454.0h10m-5 -5v10M1010.8 456.6h10m-5 -5v10M1010.9 502.3h10m-5 -5v10M1011.0 448.1h10m-5 -5v10M1011.1 436.6h10m-5 -5v10M1011.2 393.6h10m-5 -5v10M1011.3 453.0h10m-5 -5v10M1011.5 503.1h10m-5 -5v10M1011.6 509.2h10m-5 -5v10M1011.7 429.3h10m-5 -5v10M1011.8 476.9h10m-5 -5v10M1011.9 461.0h10m-5 -5v10M1012.0 471.9h10m-5 -5v10M1012.2 498.5h10m-5 -5v10M1012.3 413.7h10m-5 -5v10M1012.4 466.0h10m-5 -5v10M1012.5 478.6h10m-5 -5v10M1012.6 403.6h10m-5 -5v10M1012.7 384.0h10m-5 -5v10M1012.9 437.0h10m-5 -5v10M1013.0 471.7h10m-5 -5v10M1013.1 407.9h10m-5 -5v10M1013.2 448.7h10m-5 -5v10M1013.3 437.6h10m-5 -5v10M1013.4 408.8h10m-5 -5v10M1013.6 421.9h10m-5 -5v10M1013.7 498.9h10m-5 -5v10M1013.8 464.7h10m-5 -5v10M1013.9 433.8h10m-5 -5v10M1014.0 506.5h10m-5 -5v10M1014.1 419.5h10m-5 -5v10M1014.3 423.5h10m-5 -5v10M1014.4 497.7h10m-5 -5v10M1014.5 421.9h10m-5 -5v10M1014.6 512.4h10m-5 -5v10M1014.7 469.6h10m-5 -5v10M1014.8 505.7h10m-5 -5v10M1015.0 508.4h10m-5 -5v10M1015.1 519.2h10m-5 -5v10M1015.2 491.1h10m-5 -5v10M1015.3 415.3h10m-5 -5v10M1015.4 456.9h10m-5 -5v10M1015.5 490.7h10m-5 -5v10M1015.7 428.6h10m-5 -5v10M1015.8 470.5h10m-5 -5v10M1015.9 463.9h10m-5 -5v10M1016.0 414.2h10m-5 -5v10M1016.1 508.6h10m-5 -5v10M1016.2 452.3h10m-5 -5v10M1016.4 523.8h10m-5 -5v10M1016.5 491.3h10m-5 -5v10M1016.6 482.9h10m-5 -5v10M1016.7 482.4h10m-5 -5v10M1016.8 501.4h10m-5 -5v10M1016.9 493.1h10m-5 -5v10M1017.1 449.7h10m-5 -5v10M1017.2 446.8h10m-5 -5v10M1017.3 477.5h10m-5 -5v10M1017.4 461.7h10m-5 -5v10M1017.5 497.1h10m-5 -5v10M1017.6 416.3h10m-5 -5v10M1017.8 450.1h10m-5 -5v10M1017.9 508.9h10m-5 -5v10M1018.0 519.9h10m-5 -5v10M1018.1 386.5h10m-5 -5v10M1018.2 414.5h10m-5 -5v10M1018.3 481.4h10m-5 -5v10M1018.5 421.6h10m-5 -5v10M1018.6 410.5h10m-5 -5v10M1018.7 441.5h10m-5 -5v10M1018.8 397.5h10m-5 -5v10M1018.9 408.9h10m-5 -5v10M1019.0 499.8h10m-5 -5v10M1019.2 434.9h10m-5 -5v10M1019.3 464.2h10m-5 -5v10M1019.4 469.2h10m-5 -5v10M1019.5 453.1h10m-5 -5v10M1019.6 501.6h10m-5 -5v10M1019.7 396.0h10m-5 -5v10M1019.9 494.0h10m-5 -5v10M1020.0 480.5h10m-5 -5v10M1020.1 451.2h10m-5 -5v10M1020.2 458.7h10m-5 -5v10M1020.3 451.5h10m-5 -5v10M1020.4 396.1h10m-5 -5v10M1020.6 432.9h10m-5 -5v10M1020.7 418.7h10m-5 -5v10M1020.8 487.1h10m-5 -5v10M1020.9 489.5h10m-5 -5v10M1021.0 425.0h10m-5 -5v10M1021.1 512.0h10m-5 -5v10M1021.3 434.9h10m-5 -5v10M1021.4 416.9h10m-5 -5v10M1021.5 440.2h10m-5 -5v10M1021.6 505.8h10m-5 -5v10M1021.7 434.2h10m-5 -5v10M1021.8 384.3h10m-5 -5v10M1022.0 431.1h10m-5 -5v10M1022.1 420.0h10m-5 -5v10M1022.2 450.1h10m-5 -5v10M1022.3 468.1h10m-5 -5v10M1022.4 473.0h10m-5 -5v10M1022.5 469.8h10m-5 -5v10M1022.7 417.5h10m-5 -5v10M1022.8 394.7h10m-5 -5v10M1022.9 430.9h10m-5 -5v10M1023.0 509.5h10m-5 -5v10M1023.1 460.4h10m-5 -5v10M1023.2 413.3h10m-5 -5v10M1023.3 400.4h10m-5 -5v10M1023.5 411.6h10m-5 -5v10M1023.6 522.8h10m-5 -5v10M1023.7 478.4h10m-5 -5v10M1023.8 437.8h10m-5 -5v10M1023.9 502.5h10m-5 -5v10M1024.0 419.8h10m-5 -5v10M1024.2 515.3h10m-5 -5v10M1024.3 495.6h10m-5 -5v10M1024.4 427.5h10m-5 -5v10M1024.5 509.2h10m-5 -5v10M1024.6 452.3h10m-5 -5v10M1024.7 520.7h10m-5 -5v10M1024.9 445.1h10m-5 -5v10M1025.0 461.3h10m-5 -5v10M1025.1 400.3h10m-5 -5v10M1025.2 410.9h10m-5 -5v10M1025.3 388.2h10m-5 -5v10M1025.4 434.4h10m-5 -5v10M1025.6 401.9h10m-5 -5v10M1025.7 428.0h10m-5 -5v10M1025.8 440.3h10m-5 -5v10M1025.9 477.9h10m-5 -5v10M1026.0 457.5h10m-5 -5v10M1026.1 475.3h10m-5 -5v10M1026.3 416.3h10m-5 -5v10M1026.4 407.1h10m-5 -5v10M1026.5 413.9h10m-5 -5v10M1026.6 407.9h10m-5 -5v10M1026.7 478.0h10m-5 -5v10M1026.8 449.4h10m-5 -5v10M1027.0 524.4h10m-5 -5v10M1027.1 506.9h10m-5 -5v10M1027.2 436.9h10m-5 -5v10M1027.3 478.8h10m-5 -5v10M1027.4 409.4h10m-5 -5v10M1027.5 474.5h10m-5 -5v10M1027.7 521.0h10m-5 -5v10M1027.8 405.5h10m-5 -5v10M1027.9 492.1h10m-5 -5v10M1028.0 392.7h10m-5 -5v10M1028.1 500.5h10m-5 -5v10M1028.2 484.0h10m-5 -5v10M1028.4 428.1h10m-5 -5v10M1028.5 391.9h10m-5 -5v10M1028.6 420.2h10m-5 -5v10M1028.7 415.8h10m-5 -5v10M1028.8 408.9h10m-5 -5v10M1028.9 438.7h10m-5 -5v10M1029.1 446.1h10m-5 -5v10M1029.2 432.7h10m-5 -5v10M1029.3 403.8h10m-5 -5v10M1029.4 484.9h10m-5 -5v10M1029.5 426.3h10m-5 -5v10M1029.6 481.7h10m-5 -5v10M1029.8 423.5h10m-5 -5v10M1029.9 500.2h10m-5 -5v10M1030.0 428.7h10m-5 -5v10M1030.1 402.0h10m-5 -5v10M1030.2 444.9h10m-5 -5v10M1030.3 393.5h10m-5 -5v10M1030.5 464.2h10m-5 -5v10M1030.6 489.1h10m-5 -5v10M1030.7 433.3h10m-5 -5v10M1030.8 414.8h10m-5 -5v10M1030.9 433.1h10m-5 -5v10M1031.0 500.6h10m-5 -5v10M1031.2 480.7h10m-5 -5v10M1031.3 391.2h10m-5 -5v10M1031.4 385.6h10m-5 -5v10M1031.5 519.0h10m-5 -5v10M1031.6 495.1h10m-5 -5v10M1031.7 482.8h10m-5 -5v10M1031.9 515.6h10m-5 -5v10M1032.0 442.2h10m-5 -5v10M1032.1 438.5h10m-5 -5v10M1032.2 521.9h10m-5 -5v10M1032.3 394.3h10m-5 -5v10M1032.4 522.4h10m-5 -5v10M1032.6 437.4h10m-5 -5v10M1032.7 481.9h10m-5 -5v10M1032.8 427.0h10m-5 -5v10M1032.9 444.6h10m-5 -5v10M1033.0 475.9h10m-5 -5v10M1033.1 398.6h10m-5 -5v10M1033.3 476.9h10m-5 -5v10M1033.4 459.3h10m-5 -5v10M1033.5 429.5h10m-5 -5v10M1033.6 483.1h10m-5 -5v10M1033.7 448.8h10m-5 -5v10M1033.8 504.5h10m-5 -5v10M1034.0 416.8h10m-5 -5v10M1034.1 449.3h10m-5 -5v10M1034.2 426.3h10m-5 -5v10M1034.3 490.7h10m-5 -5v10M1034.4 440.3h10m-5 -5v10M1034.5 449.4h10m-5 -5v10M1034.7 434.5h10m-5 -5v10M1034.8 437.6h10m-5 -5v10M1034.9 387.9h10m-5 -5v10M1035.0 413.4h10m-5 -5v10M1035.1 433.0h10m-5 -5v10M1035.2 462.8h10m-5 -5v10M1035.4 424.1h10m-5 -5v10M1035.5 441.9h10m-5 -5v10M1035.6 462.1h10m-5 -5v10M1035.7 414.5h10m-5 -5v10M1035.8 397.4h10m-5 -5v10M1035.9 455.4h10m-5 -5v10M1036.1 450.5h10m-5 -5v10M1036.2 424.6h10m-5 -5v10M1036.3 438.6h10m-5 -5v10M1036.4 467.8h10m-5 -5v10M1036.5 411.3h10m-5 -5v10M1036.6 492.5h10m-5 -5v10M1036.8 456.5h10m-5 -5v10M1036.9 428.3h10m-5 -5v10M1037.0 413.4h10m-5 -5v10M1037.1 488.6h10m-5 -5v10M1037.2 443.1h10m-5 -5v10M1037.3 526.7h10m-5 -5v10M1037.5 520.6h10m-5 -5v10M1037.6 507.7h10m-5 -5v10M1037.7 403.6h10m-5 -5v10M1037.8 492.1h10m-5 -5v10M1037.9 451.5h10m-5 -5v10M1038.0 464.7h10m-5 -5v10M1038.2 499.0h10m-5 -5v10M1038.3 479.3h10m-5 -5v10M1038.4 436.4h10m-5 -5v10M1038.5 531.7h10m-5 -5v10M1038.6 447.7h10m-5 -5v10M1038.7 495.5h10m-5 -5v10M1038.9 461.6h10m-5 -5v10M1039.0 485.8h10m-5 -5v10M1039.1 475.5h10m-5 -5v10M1039.2 412.1h10m-5 -5v10M1039.3 462.3h10m-5 -5v10M1039.4 507.8h10m-5 -5v10M1039.6 460.8h10m-5 -5v10M1039.7 503.1h10m-5 -5v10M1039.8 490.1h10m-5 -5v10M1039.9 404.3h10m-5 -5v10M1040.0 458.6h10m-5 -5v10M1040.1 509.1h10m-5 -5v10M1040.3 479.2h10m-5 -5v10M1040.4 420.0h10m-5 -5v10M1040.5 502.6h10m-5 -5v10M1040.6 431.0h10m-5 -5v10M1040.7 452.5h10m-5 -5v10M1040.8 466.2h10m-5 -5v10M1041.0 512.8h10m-5 -5v10M1041.1 391.0h10m-5 -5v10M1041.2 471.4h10m-5 -5v10M1041.3 410.5h10m-5 -5v10M1041.4 389.8h10m-5 -5v10M1041.5 416.9h10m-5 -5v10M1041.7 423.2h10m-5 -5v10M1041.8 382.4h10m-5 -5v10M1041.9 452.1h10m-5 -5v10M1042.0 410.1h10m-5 -5v10M1042.1 496.8h10m-5 -5v10M1042.2 426.0h10m-5 -5v10M1042.4 518.2h10m-5 -5v10M1042.5 411.3h10m-5 -5v10M1042.6 531.0h10m-5 -5v10M1042.7 407.0h10m-5 -5v10M1042.8 397.7h10m-5 -5v10M1042.9 490.9h10m-5 -5v10M1043.1 513.0h10m-5 -5v10M1043.2 420.8h10m-5 -5v10M1043.3 454.4h10m-5 -5v10M1043.4 474.6h10m-5 -5v10M1043.5 470.1h10m-5 -5v10M1043.6 430.2h10m-5 -5v10M1043.8 526.4h10m-5 -5v10M1043.9 429.9h10m-5 -5v10M1044.0 406.3h10m-5 -5v10M1044.1 505.6h10m-5 -5v10M1044.2 407.0h10m-5 -5v10M1044.3 456.2h10m-5 -5v10M1044.5 445.6h10m-5 -5v10M1044.6 455.6h10m-5 -5v10M1044.7 441.6h10m-5 -5v10M1044.8 509.0h10m-5 -5v10M1044.9 460.0h10m-5 -5v10M1045.0 428.4h10m-5 -5v10M1045.2 405.6h10m-5 -5v10M1045.3 447.6h10m-5 -5v10M1045.4 490.0h10m-5 -5v10M1045.5 460.1h10m-5 -5v10M1045.6 426.3h10m-5 -5v10M1045.7 473.8h10m-5 -5v10M1045.9 445.6h10m-5 -5v10M1046.0 414.5h10m-5 -5v10M1046.1 396.2h10m-5 -5v10M1046.2 401.7h10m-5 -5v10M1046.3 517.2h10m-5 -5v10M1046.4 501.0h10m-5 -5v10M1046.6 418.6h10m-5 -5v10M1046.7 523.0h10m-5 -5v10M1046.8 440.6h10m-5 -5v10M1046.9 451.0h10m-5 -5v10M1047.0 420.1h10m-5 -5v10M1047.1 429.0h10m-5 -5v10M1047.3 470.0h10m-5 -5v10M1047.4 468.1h10m-5 -5v10M1047.5 416.4h10m-5 -5v10M1047.6 408.7h10m-5 -5v10M1047.7 505.4h10m-5 -5v10M1047.8 484.2h10m-5 -5v10M1048.0 519.4h10m-5 -5v10M1048.1 497.3h10m-5 -5v10M1048.2 479.1h10m-5 -5v10M1048.3 450.4h10m-5 -5v10M1048.4 471.3h10m-5 -5v10M1048.5 468.1h10m-5 -5v10M1048.7 522.9h10m-5 -5v10M1048.8 528.6h10m-5 -5v10M1048.9 471.5h10m-5 -5v10M1049.0 395.3h10m-5 -5v10M1049.1 440.3h10m-5 -5v10M1049.2 450.7h10m-5 -5v10M1049.4 463.6h10m-5 -5v10M1049.5 474.2h10m-5 -5v10M1049.6 376.1h10m-5 -5v10M1049.7 454.6h10m-5 -5v10M1049.8 421.9h10m-5 -5v10M1049.9 441.9h10m-5 -5v10M1050.1 481.1h10m-5 -5v10M1050.2 498.9h10m-5 -5v10M1050.3 510.2h10m-5 -5v10M1050.4 499.9h10m-5 -5v10M1050.5 485.3h10m-5 -5v10M1050.6 475.4h10m-5 -5v10M1050.8 463.2h10m-5 -5v10M1050.9 462.4h10m-5 -5v10M1051.0 486.5h10m-5 -5v10M1051.1 455.0h10m-5 -5v10M1051.2 472.8h10m-5 -5v10M1051.3 405.1h10m-5 -5v10M1051.5 406.4h10m-5 -5v10M1051.6 456.0h10m-5 -5v10M1051.7 440.4h10m-5 -5v10M1051.8 423.1h10m-5 -5v10M1051.9 537.9h10m-5 -5v10M1052.0 512.0h10m-5 -5v10M1052.2 491.8h10m-5 -5v10M1052.3 386.1h10m-5 -5v10M1052.4 471.4h10m-5 -5v10M1052.5 510.5h10m-5 -5v10M1052.6 419.9h10m-5 -5v10M1052.7 514.2h10m-5 -5v10M1052.9 454.1h10m-5 -5v10M1053.0 504.1h10m-5 -5v10M1053.1 380.2h10m-5 -5v10M1053.2 472.7h10m-5 -5v10M1053.3 459.7h10m-5 -5v10M1053.4 411.5h10m-5 -5v10M1053.6 511.7h10m-5 -5v10M1053.7 389.1h10m-5 -5v10M1053.8 390.9h10m-5 -5v10M1053.9 486.0h10m-5 -5v10M1054.0 457.6h10m-5 -5v10M1054.1 421.8h10m-5 -5v10M1054.3 440.7h10m-5 -5v10M1054.4 499.0h10m-5 -5v10M1054.5 454.5h10m-5 -5v10M1054.6 482.9h10m-5 -5v10M1054.7 416.9h10m-5 -5v10M1054.8 511.0h10m-5 -5v10M1055.0 468.8h10m-5 -5v10M1055.1 468.4h10m-5 -5v10M1055.2 414.4h10m-5 -5v10M1055.3 455.4h10m-5 -5v10M1055.4 443.1h10m-5 -5v10M1055.5 462.5h10m-5 -5v10M1055.7 473.7h10m-5 -5v10M1055.8 416.9h10m-5 -5v10M1055.9 464.5h10m-5 -5v10M1056.0 475.0h10m-5 -5v10M1056.1 464.5h10m-5 -5v10M1056.2 450.2h10m-5 -5v10M1056.4 387.8h10m-5 -5v10M1056.5 427.6h10m-5 -5v10M1056.6 465.3h10m-5 -5v10M1056.7 395.2h10m-5 -5v10M1056.8 417.4h10m-5 -5v10M1056.9 495.9h10m-5 -5v10M1057.1 507.1h10m-5 -5v10M1057.2 444.5h10m-5 -5v10M1057.3 509.7h10m-5 -5v10M1057.4 502.9h10m-5 -5v10M1057.5 417.0h10m-5 -5v10M1057.6 505.8h10m-5 -5v10M1057.8 497.6h10m-5 -5v10M1057.9 455.1h10m-5 -5v10M1058.0 461.6h10m-5 -5v10M1058.1 417.3h10m-5 -5v10M1058.2 438.0h10m-5 -5v10M1058.3 406.6h10m-5 -5v10M1058.5 422.0h10m-5 -5v10M1058.6 453.7h10m-5 -5v10M1058.7 404.7h10m-5 -5v10M1058.8 432.4h10m-5 -5v10M1058.9 395.4h10m-5 -5v10M1059.0 443.6h10m-5 -5v10M1059.2 487.2h10m-5 -5v10M1059.3 388.9h10m-5 -5v10M1059.4 416.3h10m-5 -5v10M1059.5 506.2h10m-5 -5v10M1059.6 468.1h10m-5 -5v10M1059.7 411.8h10m-5 -5v10M1059.9 415.3h10m-5 -5v10M1060.0 527.3h10m-5 -5v10M1060.1 410.9h10m-5 -5v10M1060.2 481.9h10m-5 -5v10M1060.3 463.1h10m-5 -5v10M1060.4 503.1h10m-5 -5v10M1060.6 481.0h10m-5 -5v10M1060.7 444.2h10m-5 -5v10M1060.8 398.9h10m-5 -5v10M1060.9 458.0h10m-5 -5v10M1061.0 523.0h10m-5 -5v10M1061.1 446.2h10m-5 -5v10M1061.3 475.3h10m-5 -5v10M1061.4 394.6h10m-5 -5v10M1061.5 467.7h10m-5 -5v10M1061.6 408.5h10m-5 -5v10M1061.7 387.9h10m-5 -5v10M1061.8 431.4h10m-5 -5v10M1062.0 449.2h10m-5 -5v10M1062.1 404.6h10m-5 -5v10M1062.2 461.6h10m-5 -5v10M1062.3 397.4h10m-5 -5v10M1062.4 433.8h10m-5 -5v10M1062.5 489.8h10m-5 -5v10M1062.7 480.5h10m-5 -5v10M1062.8 446.1h10m-5 -5v10M1062.9 501.8h10m-5 -5v10M1063.0 497.3h10m-5 -5v10M1063.1 488.7h10m-5 -5v10M1063.2 476.3h10m-5 -5v10M1063.4 403.7h10m-5 -5v10M1063.5 483.6h10m-5 -5v10M1063.6 454.8h10m-5 -5v10M1063.7 397.6h10m-5 -5v10M1063.8 421.6h10m-5 -5v10M1063.9 477.4h10m-5 -5v10M1064.1 481.4h10m-5 -5v10M1064.2 494.3h10m-5 -5v10M1064.3 502.9h10m-5 -5v10M1064.4 453.2h10m-5 -5v10M1064.5 447.8h10m-5 -5v10M1064.6 494.8h10m-5 -5v10M1064.8 450.7h10m-5 -5v10M1064.9 404.7h10m-5 -5v10M1065.0 420.7h10m-5 -5v10M1065.1 436.3h10m-5 -5v10M1065.2 529.4h10m-5 -5v10M1065.3 434.6h10m-5 -5v10M1065.5 390.1h10m-5 -5v10M1065.6 421.8h10m-5 -5v10M1065.7 465.3h10m-5 -5v10M1065.8 405.1h10m-5 -5v10M1065.9 483.8h10m-5 -5v10M1066.0 486.7h10m-5 -5v10M1066.2 418.9h10m-5 -5v10M1066.3 403.7h10m-5 -5v10M1066.4 392.7h10m-5 -5v10M1066.5 485.7h10m-5 -5v10M1066.6 449.7h10m-5 -5v10M1066.7 424.1h10m-5 -5v10M1066.9 479.8h10m-5 -5v10M1067.0 517.2h10m-5 -5v10M1067.1 516.8h10m-5 -5v10M1067.2 422.6h10m-5 -5v10M1067.3 459.2h10m-5 -5v10M1067.4 442.3h10m-5 -5v10M1067.6 474.6h10m-5 -5v10M1067.7 472.1h10m-5 -5v10M1067.8 460.4h10m-5 -5v10M1067.9 412.0h10m-5 -5v10M1068.0 435.7h10m-5 -5v10M1068.1 463.8h10m-5 -5v10M1068.3 438.5h10m-5 -5v10M1068.4 403.7h10m-5 -5v10M1068.5 453.1h10m-5 -5v10M1068.6 516.6h10m-5 -5v10M1068.7 398.9h10m-5 -5v10M1068.8 390.3h10m-5 -5v10M1069.0 465.6h10m-5 -5v10M1069.1 503.8h10m-5 -5v10M1069.2 388.1h10m-5 -5v10M1069.3 439.0h10m-5 -5v10M1069.4 409.0h10m-5 -5v10M1069.5 492.2h10m-5 -5v10M1069.7 393.9h10m-5 -5v10M1069.8 422.3h10m-5 -5v10M1069.9 461.3h10m-5 -5v10M1070.0 468.3h10m-5 -5v10M1070.1 491.4h10m-5 -5v10M1070.2 459.7h10m-5 -5v10M1070.4 448.6h10m-5 -5v10M1070.5 496.8h10m-5 -5v10M1070.6 434.9h10m-5 -5v10M1070.7 433.6h10m-5 -5v10M1070.8 421.9h10m-5 -5v10M1070.9 429.2h10m-5 -5v10M1071.0 528.9h10m-5 -5v10M1071.2 507.9h10m-5 -5v10M1071.3 526.5h10m-5 -5v10M1071.4 488.8h10m-5 -5v10M1071.5 439.6h10m-5 -5v10M1071.6 497.5h10m-5 -5v10M1071.7 509.1h10m-5 -5v10M1071.9 405.2h10m-5 -5v10M1072.0 461.2h10m-5 -5v10M1072.1 430.8h10m-5 -5v10M1072.2 445.4h10m-5 -5v10M1072.3 504.0h10m-5 -5v10M1072.4 479.8h10m-5 -5v10M1072.6 456.8h10m-5 -5v10M1072.7 503.0h10m-5 -5v10M1072.8 471.4h10m-5 -5v10M1072.9 463.2h10m-5 -5v10M1073.0 461.4h10m-5 -5v10M1073.1 496.1h10m-5 -5v10M1073.3 423.5h10m-5 -5v10M1073.4 445.1h10m-5 -5v10M1073.5 382.6h10m-5 -5v10M1073.6 428.1h10m-5 -5v10M1073.7 491.5h10m-5 -5v10M1073.8 411.2h10m-5 -5v10M1074.0 475.8h10m-5 -5v10M1074.1 423.1h10m-5 -5v10M1074.2 483.5h10m-5 -5v10M1074.3 427.4h10m-5 -5v10M1074.4 509.2h10m-5 -5v10M1074.5 423.2h10m-5 -5v10M1074.7 441.8h10m-5 -5v10M1074.8 464.5h10m-5 -5v10M1074.9 431.2h10m-5 -5v10M1075.0 398.5h10m-5 -5v10M1075.1 527.4h10m-5 -5v10M1075.2 431.9h10m-5 -5v10M1075.4 439.1h10m-5 -5v10M1075.5 401.7h10m-5 -5v10M1075.6 479.3h10m-5 -5v10M1075.7 506.1h10m-5 -5v10M1075.8 407.8h10m-5 -5v10M1075.9 502.0h10m-5 -5v10M1076.1 427.4h10m-5 -5v10M1076.2 396.5h10m-5 -5v10M1076.3 465.3h10m-5 -5v10M1076.4 414.7h10m-5 -5v10M1076.5 414.7h10m-5 -5v10M1076.6 396.6h10m-5 -5v10M1076.8 492.1h10m-5 -5v10M1076.9 423.4h10m-5 -5v10M1077.0 486.1h10m-5 -5v10M1077.1 455.1h10m-5 -5v10M1077.2 405.0h10m-5 -5v10M1077.3 478.9h10m-5 -5v10M1077.5 513.9h10m-5 -5v10M1077.6 487.3h10m-5 -5v10M1077.7 501.9h10m-5 -5v10M1077.8 498.9h10m-5 -5v10M1077.9 498.8h10m-5 -5v10M1078.0 445.8h10m-5 -5v10M1078.2 515.2h10m-5 -5v10M1078.3 418.7h10m-5 -5v10M1078.4 425.9h10m-5 -5v10M1078.5 451.0h10m-5 -5v10M1078.6 464.2h10m-5 -5v10M1078.7 483.5h10m-5 -5v10M1078.9 454.5h10m-5 -5v10M1079.0 488.5h10m-5 -5v10M1079.1 526.5h10m-5 -5v10M1079.2 470.4h10m-5 -5v10M1079.3 478.3h10m-5 -5v10M1079.4 484.4h10m-5 -5v10M1079.6 448.0h10m-5 -5v10M1079.7 477.1h10m-5 -5v10M1079.8 499.2h10m-5 -5v10M1079.9 389.3h10m-5 -5v10M1080.0 457.3h10m-5 -5v10M1080.1 503.0h10m-5 -5v10M1080.3 468.9h10m-5 -5v10M1080.4 495.9h10m-5 -5v10M1080.5 418.2h10m-5 -5v10M1080.6 475.5h10m-5 -5v10M1080.7 496.7h10m-5 -5v10M1080.8 521.1h10m-5 -5v10M1081.0 468.2h10m-5 -5v10M1081.1 517.7h10m-5 -5v10M1081.2 437.1h10m-5 -5v10M1081.3 528.8h10m-5 -5v10M1081.4 499.2h10m-5 -5v10M1081.5 430.6h10m-5 -5v10M1081.7 424.7h10m-5 -5v10M1081.8 450.6h10m-5 -5v10M1081.9 462.2h10m-5 -5v10M1082.0 441.2h10m-5 -5v10M1082.1 399.8h10m-5 -5v10M1082.2 417.0h10m-5 -5v10M1082.4 495.1h10m-5 -5v10M1082.5 504.5h10m-5 -5v10M1082.6 520.9h10m-5 -5v10M1082.7 471.7h10m-5 -5v10M1082.8 481.9h10m-5 -5v10M1082.9 444.4h10m-5 -5v10M1083.1 442.5h10m-5 -5v10M1083.2 503.4h10m-5 -5v10M1083.3 485.2h10m-5 -5v10M1083.4 431.5h10m-5 -5v10M1083.5 441.2h10m-5 -5v10M1083.6 461.3h10m-5 -5v10M1083.8 397.8h10m-5 -5v10M1083.9 415.9h10m-5 -5v10M1084.0 459.6h10m-5 -5v10M1084.1 496.2h10m-5 -5v10M1084.2 479.2h10m-5 -5v10M1084.3 516.2h10m-5 -5v10M1084.5 397.1h10m-5 -5v10M1084.6 445.9h10m-5 -5v10M1084.7 451.7h10m-5 -5v10M1084.8 421.4h10m-5 -5v10M1084.9 430.4h10m-5 -5v10M1085.0 428.3h10m-5 -5v10M1085.2 413.9h10m-5 -5v10M1085.3 430.2h10m-5 -5v10M1085.4 477.3h10m-5 -5v10M1085.5 420.0h10m-5 -5v10M1085.6 506.1h10m-5 -5v10M1085.7 404.4h10m-5 -5v10M1085.9 463.6h10m-5 -5v10M1086.0 429.1h10m-5 -5v10M1086.1 521.8h10m-5 -5v10M1086.2 509.0h10m-5 -5v10M1086.3 464.6h10m-5 -5v10M1086.4 476.2h10m-5 -5v10M1086.6 494.1h10m-5 -5v10M1086.7 417.6h10m-5 -5v10M1086.8 433.6h10m-5 -5v10M1086.9 525.4h10m-5 -5v10M1087.0 476.0h10m-5 -5v10M1087.1 430.1h10m-5 -5v10M1087.3 390.3h10m-5 -5v10M1087.4 477.2h10m-5 -5v10M1087.5 490.6h10m-5 -5v10M1087.6 431.8h10m-5 -5v10M1087.7 414.0h10m-5 -5v10M1087.8 423.5h10m-5 -5v10M1088.0 445.3h10m-5 -5v10M1088.1 422.4h10m-5 -5v10M1088.2 486.8h10m-5 -5v10M1088.3 434.0h10m-5 -5v10M1088.4 496.7h10m-5 -5v10M1088.5 503.2h10m-5 -5v10M1088.7 432.0h10m-5 -5v10M1088.8 502.4h10m-5 -5v10M1088.9 430.0h10m-5 -5v10M1089.0 466.6h10m-5 -5v10M1089.1 495.4h10m-5 -5v10M1089.2 472.5h10m-5 -5v10M1089.4 507.9h10m-5 -5v10M1089.5 506.8h10m-5 -5v10M1089.6 464.7h10m-5 -5v10M1089.7 463.8h10m-5 -5v10M1089.8 418.7h10m-5 -5v10M1089.9 417.5h10m-5 -5v10M1090.1 466.2h10m-5 -5v10M1090.2 463.0h10m-5 -5v10M1090.3 503.4h10m-5 -5v10M1090.4 416.2h10m-5 -5v10M1090.5 473.5h10m-5 -5v10M1090.6 471.7h10m-5 -5v10M1090.8 468.5h10m-5 -5v10M1090.9 430.4h10m-5 -5v10M1091.0 467.0h10m-5 -5v10M1091.1 380.2h10m-5 -5v10M1091.2 527.7h10m-5 -5v10M1091.3 424.3h10m-5 -5v10M1091.5 404.7h10m-5 -5v10M1091.6 421.9h10m-5 -5v10M1091.7 479.1h10m-5 -5v10M1091.8 500.1h10m-5 -5v10M1091.9 422.6h10m-5 -5v10M1092.0 453.4h10m-5 -5v10M1092.2 515.2h10m-5 -5v10M1092.3 521.9h10m-5 -5v10M1092.4 443.4h10m-5 -5v10M1092.5 484.0h10m-5 -5v10M1092.6 492.9h10m-5 -5v10M1092.7 493.4h10m-5 -5v10M1092.9 492.9h10m-5 -5v10M1093.0 453.7h10m-5 -5v10M1093.1 408.2h10m-5 -5v10M1093.2 515.6h10m-5 -5v10M1093.3 429.3h10m-5 -5v10M1093.4 481.4h10m-5 -5v10M1093.6 393.8h10m-5 -5v10M1093.7 398.5h10m-5 -5v10M1093.8 407.5h10m-5 -5v10M1093.9 491.8h10m-5 -5v10M1094.0 495.6h10m-5 -5v10M1094.1 495.2h10m-5 -5v10M1094.3 471.4h10m-5 -5v10M1094.4 454.3h10m-5 -5v10M1094.5 412.2h10m-5 -5v10M1094.6 474.5h10m-5 -5v10M1094.7 428.8h10m-5 -5v10M1094.8 409.0h10m-5 -5v10M1095.0 481.8h10m-5 -5v10M1095.1 470.1h10m-5 -5v10M1095.2 392.8h10m-5 -5v10M1095.3 408.7h10m-5 -5v10M1095.4 411.8h10m-5 -5v10M1095.5 466.0h10m-5 -5v10M1095.7 489.7h10m-5 -5v10M1095.8 420.5h10m-5 -5v10M1095.9 455.6h10m-5 -5v10M1096.0 508.9h10m-5 -5v10M1096.1 390.1h10m-5 -5v10M1096.2 393.1h10m-5 -5v10M1096.4 499.6h10m-5 -5v10M1096.5 393.1h10m-5 -5v10M1096.6 412.3h10m-5 -5v10M1096.7 467.2h10m-5 -5v10M1096.8 496.7h10m-5 -5v10M1096.9 463.1h10m-5 -5v10M1097.1 453.5h10m-5 -5v10M1097.2 492.9h10m-5 -5v10M1097.3 411.7h10m-5 -5v10M1097.4 426.9h10m-5 -5v10M1097.5 483.5h10m-5 -5v10M1097.6 526.0h10m-5 -5v10M1097.8 495.1h10m-5 -5v10M1097.9 410.4h10m-5 -5v10M1098.0 512.3h10m-5 -5v10M1098.1 512.6h10m-5 -5v10M1098.2 470.1h10m-5 -5v10M1098.3 447.3h10m-5 -5v10M1098.5 499.0h10m-5 -5v10M1098.6 441.4h10m-5 -5v10M1098.7 504.2h10m-5 -5v10M1098.8 490.7h10m-5 -5v10M1098.9 471.9h10m-5 -5v10M1099.0 482.5h10m-5 -5v10M1099.2 414.6h10m-5 -5v10M1099.3 480.7h10m-5 -5v10M1099.4 440.5h10m-5 -5v10M1099.5 468.5h10m-5 -5v10M1099.6 494.6h10m-5 -5v10M1099.7 494.6h10m-5 -5v10M1099.9 491.1h10m-5 -5v10M1100.0 481.6h10m-5 -5v10M1100.1 415.7h10m-5 -5v10M1100.2 484.3h10m-5 -5v10M1100.3 501.7h10m-5 -5v10M1100.4 526.9h10m-5 -5v10M1100.6 439.4h10m-5 -5v10M1100.7 458.2h10m-5 -5v10M1100.8 410.6h10m-5 -5v10M1100.9 484.8h10m-5 -5v10M1101.0 411.2h10m-5 -5v10M1101.1 463.3h10m-5 -5v10M1101.3 407.5h10m-5 -5v10M1101.4 491.4h10m-5 -5v10M1101.5 476.2h10m-5 -5v10M1101.6 417.4h10m-5 -5v10M1101.7 439.9h10m-5 -5v10M1101.8 480.2h10m-5 -5v10M1102.0 504.2h10m-5 -5v10M1102.1 469.2h10m-5 -5v10M1102.2 411.8h10m-5 -5v10M1102.3 498.4h10m-5 -5v10M1102.4 405.8h10m-5 -5v10M1102.5 502.2h10m-5 -5v10M1102.7 384.1h10m-5 -5v10M1102.8 516.1h10m-5 -5v10M1102.9 389.7h10m-5 -5v10M1103.0 406.5h10m-5 -5v10M1103.1 469.7h10m-5 -5v10M1103.2 517.7h10m-5 -5v10M1103.4 510.7h10m-5 -5v10M1103.5 414.2h10m-5 -5v10M1103.6 417.7h10m-5 -5v10M1103.7 428.7h10m-5 -5v10M1103.8 419.3h10m-5 -5v10M1103.9 483.0h10m-5 -5v10M1104.1 523.1h10m-5 -5v10M1104.2 476.8h10m-5 -5v10M1104.3 407.9h10m-5 -5v10M1104.4 419.3h10m-5 -5v10M1104.5 425.4h10m-5 -5v10M1104.6 453.5h10m-5 -5v10M1104.8 423.3h10m-5 -5v10M1104.9 502.3h10m-5 -5v10M1105.0 438.6h10m-5 -5v10M1105.1 521.7h10m-5 -5v10M1105.2 454.5h10m-5 -5v10M1105.3 482.7h10m-5 -5v10M1105.5 473.2h10m-5 -5v10M1105.6 459.9h10m-5 -5v10M1105.7 515.1h10m-5 -5v10M1105.8 402.1h10m-5 -5v10M1105.9 447.5h10m-5 -5v10M1106.0 426.7h10m-5 -5v10M1106.2 427.8h10m-5 -5v10M1106.3 480.6h10m-5 -5v10M1106.4 427.1h10m-5 -5v10M1106.5 420.1h10m-5 -5v10M1106.6 531.2h10m-5 -5v10M1106.7 526.5h10m-5 -5v10M1106.9 429.8h10m-5 -5v10M1107.0 486.8h10m-5 -5v10M1107.1 451.0h10m-5 -5v10M1107.2 425.9h10m-5 -5v10M1107.3 399.5h10m-5 -5v10M1107.4 389.8h10m-5 -5v10M1107.6 516.1h10m-5 -5v10M1107.7 449.6h10m-5 -5v10M1107.8 502.0h10m-5 -5v10M1107.9 469.6h10m-5 -5v10M1108.0 446.3h10m-5 -5v10M1108.1 480.3h10m-5 -5v10M1108.3 504.7h10m-5 -5v10M1108.4 465.0h10m-5 -5v10M1108.5 489.2h10m-5 -5v10M1108.6 464.2h10m-5 -5v10M1108.7 406.7h10m-5 -5v10M1108.8 441.3h10m-5 -5v10M1109.0 485.0h10m-5 -5v10M1109.1 511.3h10m-5 -5v10M1109.2 454.5h10m-5 -5v10M1109.3 485.0h10m-5 -5v10M1109.4 514.2h10m-5 -5v10M1109.5 506.8h10m-5 -5v10M1109.7 416.1h10m-5 -5v10M1109.8 482.8h10m-5 -5v10M1109.9 503.1h10m-5 -5v10M1110.0 384.6h10m-5 -5v10M1110.1 431.1h10m-5 -5v10M1110.2 436.0h10m-5 -5v10M1110.4 431.8h10m-5 -5v10M1110.5 437.5h10m-5 -5v10M1110.6 466.9h10m-5 -5v10M1110.7 468.6h10m-5 -5v10M1110.8 492.6h10m-5 -5v10M1110.9 400.9h10m-5 -5v10M1111.1 394.8h10m-5 -5v10M1111.2 415.9h10m-5 -5v10M1111.3 492.1h10m-5 -5v10M1111.4 431.9h10m-5 -5v10M1111.5 513.1h10m-5 -5v10M1111.6 469.3h10m-5 -5v10M1111.8 414.0h10m-5 -5v10M1111.9 465.7h10m-5 -5v10M1112.0 466.8h10m-5 -5v10M1112.1 499.5h10m-5 -5v10M1112.2 507.7h10m-5 -5v10M1112.3 408.1h10m-5 -5v10M1112.5 396.2h10m-5 -5v10M1112.6 390.9h10m-5 -5v10M1112.7 413.7h10m-5 -5v10M1112.8 473.9h10m-5 -5v10M1112.9 473.7h10m-5 -5v10M1113.0 516.9h10m-5 -5v10M1113.2 419.9h10m-5 -5v10M1113.3 406.4h10m-5 -5v10M1113.4 439.0h10m-5 -5v10M1113.5 478.3h10m-5 -5v10M1113.6 483.4h10m-5 -5v10M1113.7 432.6h10m-5 -5v10M1113.9 505.0h10m-5 -5v10M1114.0 510.6h10m-5 -5v10M1114.1 508.7h10m-5 -5v10M1114.2 476.6h10m-5 -5v10M1114.3 469.2h10m-5 -5v10M1114.4 485.8h10m-5 -5v10M1114.6 456.0h10m-5 -5v10M1114.7 491.3h10m-5 -5v10M1114.8 383.7h10m-5 -5v10M1114.9 461.2h10m-5 -5v10M1115.0 483.0h10m-5 -5v10M1115.1 469.0h10m-5 -5v10M1115.3 500.8h10m-5 -5v10M1115.4 489.3h10m-5 -5v10M1115.5 457.4h10m-5 -5v10M1115.6 479.6h10m-5 -5v10M1115.7 466.0h10m-5 -5v10M1115.8 479.0h10m-5 -5v10M1116.0 461.3h10m-5 -5v10M1116.1 503.8h10m-5 -5v10M1116.2 482.5h10m-5 -5v10M1116.3 456.7h10m-5 -5v10M1116.4 457.5h10m-5 -5v10M1116.5 478.7h10m-5 -5v10M1116.7 509.4h10m-5 -5v10M1116.8 389.2h10m-5 -5v10M1116.9 443.6h10m-5 -5v10M1117.0 438.8h10m-5 -5v10M1117.1 509.9h10m-5 -5v10M1117.2 438.8h10m-5 -5v10M1117.4 478.3h10m-5 -5v10M1117.5 397.4h10m-5 -5v10M1117.6 456.1h10m-5 -5v10M1117.7 474.3h10m-5 -5v10M1117.8 489.1h10m-5 -5v10M1117.9 425.0h10m-5 -5v10M1118.1 435.8h10m-5 -5v10M1118.2 475.2h10m-5 -5v10M1118.3 410.7h10m-5 -5v10M1118.4 416.7h10m-5 -5v10M1118.5 519.1h10m-5 -5v10M1118.6 404.2h10m-5 -5v10M1118.7 452.1h10m-5 -5v10M1118.9 496.9h10m-5 -5v10M1119.0 498.4h10m-5 -5v10M1119.1 432.9h10m-5 -5v10M1119.2 531.9h10m-5 -5v10M1119.3 387.1h10m-5 -5v10M1119.4 518.1h10m-5 -5v10M1119.6 445.4h10m-5 -5v10M1119.7 469.2h10m-5 -5v10M1119.8 440.5h10m-5 -5v10M1119.9 490.1h10m-5 -5v10M1120.0 523.1h10m-5 -5v10M1120.1 505.3h10m-5 -5v10M1120.3 471.4h10m-5 -5v10M1120.4 453.3h10m-5 -5v10M1120.5 495.7h10m-5 -5v10M1120.6 445.8h10m-5 -5v10M1120.7 424.9h10m-5 -5v10M1120.8 514.9h10m-5 -5v10M1121.0 434.5h10m-5 -5v10M1121.1 460.8h10m-5 -5v10M1121.2 454.6h10m-5 -5v10M1121.3 444.3h10m-5 -5v10M1121.4 421.4h10m-5 -5v10M1121.5 386.5h10m-5 -5v10M1121.7 475.5h10m-5 -5v10M1121.8 488.9h10m-5 -5v10M1121.9 416.7h10m-5 -5v10M1122.0 505.4h10m-5 -5v10M1122.1 468.6h10m-5 -5v10M1122.2 428.3h10m-5 -5v10M1122.4 489.3h10m-5 -5v10M1122.5 494.8h10m-5 -5v10M1122.6 515.9h10m-5 -5v10M1122.7 495.3h10m-5 -5v10M1122.8 432.3h10m-5 -5v10M1122.9 407.0h10m-5 -5v10M1123.1 511.6h10m-5 -5v10M1123.2 491.4h10m-5 -5v10M1123.3 431.4h10m-5 -5v10M1123.4 381.9h10m-5 -5v10M1123.5 444.9h10m-5 -5v10M1123.6 437.1h10m-5 -5v10M1123.8 448.2h10m-5 -5v10M1123.9 502.5h10m-5 -5v10M1124.0 517.8h10m-5 -5v10M1124.1 481.9h10m-5 -5v10M1124.2 399.5h10m-5 -5v10M1124.3 484.4h10m-5 -5v10M1124.5 505.5h10m-5 -5v10M1124.6 403.1h10m-5 -5v10M1124.7 422.8h10m-5 -5v10M1124.8 443.2h10m-5 -5v10M1124.9 499.4h10m-5 -5v10M1125.0 425.7h10m-5 -5v10M1125.2 458.7h10m-5 -5v10M1125.3 434.4h10m-5 -5v10M1125.4 468.4h10m-5 -5v10M1125.5 503.6h10m-5 -5v10M1125.6 474.5h10m-5 -5v10M1125.7 513.4h10m-5 -5v10M1125.9 403.0h10m-5 -5v10M1126.0 423.8h10m-5 -5v10M1126.1 426.7h10m-5 -5v10M1126.2 461.0h10m-5 -5v10M1126.3 415.8h10m-5 -5v10M1126.4 462.4h10m-5 -5v10M1126.6 431.4h10m-5 -5v10M1126.7 477.6h10m-5 -5v10M1126.8 452.4h10m-5 -5v10M1126.9 492.1h10m-5 -5v10M1127.0 502.3h10m-5 -5v10M1127.1 491.7h10m-5 -5v10M1127.3 511.6h10m-5 -5v10M1127.4 482.6h10m-5 -5v10M1127.5 452.1h10m-5 -5v10M1127.6 521.0h10m-5 -5v10M1127.7 461.6h10m-5 -5v10M1127.8 480.8h10m-5 -5v10M1128.0 473.0h10m-5 -5v10M1128.1 492.2h10m-5 -5v10M1128.2 496.5h10m-5 -5v10M1128.3 487.5h10m-5 -5v10M1128.4 382.0h10m-5 -5v10M1128.5 411.3h10m-5 -5v10M1128.7 472.2h10m-5 -5v10M1128.8 495.1h10m-5 -5v10M1128.9 496.5h10m-5 -5v10M1129.0 451.2h10m-5 -5v10M1129.1 509.8h10m-5 -5v10M1129.2 390.6h10m-5 -5v10M1129.4 426.9h10m-5 -5v10M1129.5 489.2h10m-5 -5v10M1129.6 506.4h10m-5 -5v10M1129.7 440.7h10m-5 -5v10M1129.8 504.8h10m-5 -5v10M1129.9 406.3h10m-5 -5v10M1130.1 476.7h10m-5 -5v10M1130.2 407.1h10m-5 -5v10M1130.3 526.3h10m-5 -5v10M1130.4 487.5h10m-5 -5v10M1130.5 484.0h10m-5 -5v10M1130.6 488.6h10m-5 -5v10M1130.8 426.5h10m-5 -5v10M1130.9 474.3h10m-5 -5v10M1131.0 510.5h10m-5 -5v10M1131.1 453.0h10m-5 -5v10M1131.2 482.0h10m-5 -5v10M1131.3 426.9h10m-5 -5v10M1131.5 481.1h10m-5 -5v10M1131.6 501.8h10m-5 -5v10M1131.7 508.0h10m-5 -5v10M1131.8 418.5h10m-5 -5v10M1131.9 471.6h10m-5 -5v10M1132.0 403.6h10m-5 -5v10M1132.2 494.9h10m-5 -5v10M1132.3 440.8h10m-5 -5v10M1132.4 488.2h10m-5 -5v10M1132.5 487.0h10m-5 -5v10M1132.6 443.7h10m-5 -5v10M1132.7 509.4h10m-5 -5v10M1132.9 463.1h10m-5 -5v10M1133.0 434.1h10m-5 -5v10M1133.1 432.4h10m-5 -5v10M1133.2 406.2h10m-5 -5v10M1133.3 457.5h10m-5 -5v10M1133.4 519.0h10m-5 -5v10M1133.6 519.1h10m-5 -5v10M1133.7 409.3h10m-5 -5v10M1133.8 480.3h10m-5 -5v10M1133.9 485.3h10m-5 -5v10M1134.0 428.4h10m-5 -5v10M1134.1 407.5h10m-5 -5v10M1134.3 499.1h10m-5 -5v10M1134.4 492.0h10m-5 -5v10M1134.5 411.5h10m-5 -5v10M1134.6 421.4h10m-5 -5v10M1134.7 392.0h10m-5 -5v10M1134.8 479.3h10m-5 -5v10M1135.0 495.4h10m-5 -5v10M1135.1 497.8h10m-5 -5v10M1135.2 506.3h10m-5 -5v10M1135.3 506.1h10m-5 -5v10M1135.4 450.0h10m-5 -5v10M1135.5 422.0h10m-5 -5v10M1135.7 433.9h10m-5 -5v10M1135.8 382.8h10m-5 -5v10M1135.9 436.2h10m-5 -5v10M1136.0 496.9h10m-5 -5v10M1136.1 497.4h10m-5 -5v10M1136.2 438.3h10m-5 -5v10M1136.4 471.2h10m-5 -5v10M1136.5 424.9h10m-5 -5v10M1136.6 414.7h10m-5 -5v10M1136.7 478.4h10m-5 -5v10M1136.8 528.9h10m-5 -5v10M1136.9 394.5h10m-5 -5v10M1137.1 504.7h10m-5 -5v10M1137.2 490.7h10m-5 -5v10M1137.3 452.0h10m-5 -5v10M1137.4 509.7h10m-5 -5v10M1137.5 452.1h10m-5 -5v10M1137.6 471.5h10m-5 -5v10M1137.8 509.7h10m-5 -5v10M1137.9 417.5h10m-5 -5v10M1138.0 411.0h10m-5 -5v10M1138.1 380.5h10m-5 -5v10M1138.2 520.8h10m-5 -5v10M1138.3 447.9h10m-5 -5v10M1138.5 507.4h10m-5 -5v10M1138.6 416.9h10m-5 -5v10M1138.7 398.1h10m-5 -5v10M1138.8 493.4h10m-5 -5v10M1138.9 390.7h10m-5 -5v10M1139.0 483.4h10m-5 -5v10M1139.2 467.4h10m-5 -5v10M1139.3 386.8h10m-5 -5v10M1139.4 478.6h10m-5 -5v10M1139.5 517.6h10m-5 -5v10M1139.6 413.2h10m-5 -5v10M1139.7 475.5h10m-5 -5v10M1139.9 505.9h10m-5 -5v10M1140.0 437.3h10m-5 -5v10M1140.1 423.0h10m-5 -5v10M1140.2 508.7h10m-5 -5v10M1140.3 464.8h10m-5 -5v10M1140.4 421.1h10m-5 -5v10M1140.6 426.2h10m-5 -5v10M1140.7 444.5h10m-5 -5v10M1140.8 451.5h10m-5 -5v10M1140.9 419.7h10m-5 -5v10M1141.0 411.5h10m-5 -5v10M1141.1 487.0h10m-5 -5v10M1141.3 411.0h10m-5 -5v10M1141.4 519.9h10m-5 -5v10M1141.5 476.9h10m-5 -5v10M1141.6 482.1h10m-5 -5v10M1141.7 450.9h10m-5 -5v10M1141.8 501.4h10m-5 -5v10M1142.0 486.7h10m-5 -5v10M1142.1 469.6h10m-5 -5v10M1142.2 501.4h10m-5 -5v10M1142.3 503.7h10m-5 -5v10M1142.4 459.2h10m-5 -5v10M1142.5 451.9h10m-5 -5v10M1142.7 430.8h10m-5 -5v10M1142.8 442.8h10m-5 -5v10M1142.9 515.7h10m-5 -5v10M1143.0 458.8h10m-5 -5v10M1143.1 455.3h10m-5 -5v10M1143.2 408.7h10m-5 -5v10M1143.4 408.1h10m-5 -5v10M1143.5 418.3h10m-5 -5v10M1143.6 459.8h10m-5 -5v10M1143.7 481.3h10m-5 -5v10M1143.8 478.7h10m-5 -5v10M1143.9 399.3h10m-5 -5v10M1144.1 437.0h10m-5 -5v10M1144.2 434.0h10m-5 -5v10M1144.3 533.9h10m-5 -5v10M1144.4 452.2h10m-5 -5v10M1144.5 435.2h10m-5 -5v10M1144.6 398.1h10m-5 -5v10M1144.8 470.6h10m-5 -5v10M1144.9 398.3h10m-5 -5v10M1145.0 484.6h10m-5 -5v10M1145.1 444.2h10m-5 -5v10M1145.2 487.9h10m-5 -5v10M1145.3 497.4h10m-5 -5v10M1145.5 455.5h10m-5 -5v10M1145.6 437.2h10m-5 -5v10M1145.7 525.1h10m-5 -5v10M1145.8 399.1h10m-5 -5v10M1145.9 406.5h10m-5 -5v10M1146.0 456.0h10m-5 -5v10M1146.2 422.8h10m-5 -5v10M1146.3 510.2h10m-5 -5v10M1146.4 399.1h10m-5 -5v10M1146.5 467.7h10m-5 -5v10M1146.6 397.9h10m-5 -5v10M1146.7 501.6h10m-5 -5v10M1146.9 399.6h10m-5 -5v10M1147.0 521.5h10m-5 -5v10M1147.1 411.2h10m-5 -5v10M1147.2 420.6h10m-5 -5v10M1147.3 491.6h10m-5 -5v10M1147.4 376.3h10m-5 -5v10M1147.6 483.8h10m-5 -5v10M1147.7 402.6h10m-5 -5v10M1147.8 512.7h10m-5 -5v10M1147.9 388.3h10m-5 -5v10M1148.0 530.6h10m-5 -5v10M1148.1 468.9h10m-5 -5v10M1148.3 471.4h10m-5 -5v10M1148.4 488.1h10m-5 -5v10M1148.5 489.6h10m-5 -5v10M1148.6 527.7h10m-5 -5v10M1148.7 386.4h10m-5 -5v10M1148.8 506.9h10m-5 -5v10M1149.0 442.1h10m-5 -5v10M1149.1 448.2h10m-5 -5v10M1149.2 530.1h10m-5 -5v10M1149.3 508.4h10m-5 -5v10M1149.4 447.2h10m-5 -5v10M1149.5 454.3h10m-5 -5v10M1149.7 451.7h10m-5 -5v10M1149.8 374.3h10m-5 -5v10M1149.9 409.3h10m-5 -5v10M1150.0 514.6h10m-5 -5v10M1150.1 505.5h10m-5 -5v10M1150.2 460.5h10m-5 -5v10M1150.4 486.7h10m-5 -5v10M1150.5 406.4h10m-5 -5v10M1150.6 481.3h10m-5 -5v10M1150.7 420.1h10m-5 -5v10M1150.8 528.9h10m-5 -5v10M1150.9 479.8h10m-5 -5v10M1151.1 410.5h10m-5 -5v10M1151.2 461.2h10m-5 -5v10M1151.3 483.4h10m-5 -5v10M1151.4 444.3h10m-5 -5v10M1151.5 428.5h10m-5 -5v10M1151.6 477.7h10m-5 -5v10M1151.8 404.9h10m-5 -5v10M1151.9 444.2h10m-5 -5v10M1152.0 478.9h10m-5 -5v10M1152.1 467.9h10m-5 -5v10M1152.2 451.7h10m-5 -5v10M1152.3 483.2h10m-5 -5v10M1152.5 497.0h10m-5 -5v10M1152.6 481.8h10m-5 -5v10M1152.7 428.5h10m-5 -5v10M1152.8 407.8h10m-5 -5v10M1152.9 407.0h10m-5 -5v10M1153.0 445.9h10m-5 -5v10M1153.2 512.6h10m-5 -5v10M1153.3 405.6h10m-5 -5v10M1153.4 507.9h10m-5 -5v10M1153.5 441.2h10m-5 -5v10M1153.6 433.1h10m-5 -5v10M1153.7 419.8h10m-5 -5v10M1153.9 407.2h10m-5 -5v10M1154.0 461.5h10m-5 -5v10M1154.1 403.4h10m-5 -5v10M1154.2 391.1h10m-5 -5v10M1154.3 495.7h10m-5 -5v10M1154.4 504.4h10m-5 -5v10M1154.6 518.7h10m-5 -5v10M1154.7 417.7h10m-5 -5v10M1154.8 480.5h10m-5 -5v10M1154.9 516.4h10m-5 -5v10M1155.0 434.0h10m-5 -5v10M1155.1 484.6h10m-5 -5v10M1155.3 462.1h10m-5 -5v10M1155.4 497.1h10m-5 -5v10M1155.5 464.0h10m-5 -5v10M1155.6 504.8h10m-5 -5v10M1155.7 511.1h10m-5 -5v10M1155.8 430.5h10m-5 -5v10M1156.0 421.1h10m-5 -5v10M1156.1 504.7h10m-5 -5v10M1156.2 463.0h10m-5 -5v10M1156.3 461.5h10m-5 -5v10M1156.4 513.2h10m-5 -5v10M1156.5 511.1h10m-5 -5v10M1156.7 484.6h10m-5 -5v10M1156.8 399.9h10m-5 -5v10M1156.9 420.3h10m-5 -5v10M1157.0 500.1h10m-5 -5v10M1157.1 500.1h10m-5 -5v10M1157.2 463.1h10m-5 -5v10M1157.4 436.0h10m-5 -5v10M1157.5 489.3h10m-5 -5v10M1157.6 508.5h10m-5 -5v10M1157.7 415.5h10m-5 -5v10M1157.8 508.1h10m-5 -5v10M1157.9 402.9h10m-5 -5v10M1158.1 430.5h10m-5 -5v10M1158.2 399.1h10m-5 -5v10M1158.3 492.9h10m-5 -5v10M1158.4 461.4h10m-5 -5v10M1158.5 431.9h10m-5 -5v10M1158.6 513.0h10m-5 -5v10M1158.8 422.9h10m-5 -5v10M1158.9 482.7h10m-5 -5v10M1159.0 434.7h10m-5 -5v10M1159.1 484.8h10m-5 -5v10M1159.2 417.0h10m-5 -5v10M1159.3 403.8h10m-5 -5v10M1159.5 479.9h10m-5 -5v10M1159.6 407.8h10m-5 -5v10M1159.7 469.6h10m-5 -5v10M1159.8 530.1h10m-5 -5v10M1159.9 458.4h10m-5 -5v10M1160.0 528.7h10m-5 -5v10M1160.2 514.3h10m-5 -5v10M1160.3 408.1h10m-5 -5v10M1160.4 431.7h10m-5 -5v10M1160.5 506.1h10m-5 -5v10M1160.6 462.4h10m-5 -5v10M1160.7 451.5h10m-5 -5v10M1160.9 502.7h10m-5 -5v10M1161.0 410.3h10m-5 -5v10M1161.1 420.0h10m-5 -5v10M1161.2 482.0h10m-5 -5v10M1161.3 471.3h10m-5 -5v10M1161.4 432.3h10m-5 -5v10M1161.6 461.8h10m-5 -5v10M1161.7 414.7h10m-5 -5v10M1161.8 421.1h10m-5 -5v10M1161.9 493.4h10m-5 -5v10M1162.0 463.6h10m-5 -5v10M1162.1 501.6h10m-5 -5v10M1162.3 482.3h10m-5 -5v10M1162.4 530.7h10m-5 -5v10M1162.5 397.3h10m-5 -5v10M1162.6 460.3h10m-5 -5v10M1162.7 466.5h10m-5 -5v10M1162.8 438.4h10m-5 -5v10M1163.0 494.2h10m-5 -5v10M1163.1 407.4h10m-5 -5v10M1163.2 456.1h10m-5 -5v10M1163.3 445.2h10m-5 -5v10M1163.4 518.9h10m-5 -5v10M1163.5 428.4h10m-5 -5v10M1163.7 465.3h10m-5 -5v10M1163.8 499.3h10m-5 -5v10M1163.9 492.7h10m-5 -5v10M1164.0 404.8h10m-5 -5v10M1164.1 454.1h10m-5 -5v10M1164.2 512.3h10m-5 -5v10M1164.4 489.5h10m-5 -5v10M1164.5 416.4h10m-5 -5v10M1164.6 459.9h10m-5 -5v10M1164.7 526.0h10m-5 -5v10M1164.8 387.5h10m-5 -5v10M1164.9 393.7h10m-5 -5v10M1165.1 481.9h10m-5 -5v10M1165.2 505.8h10m-5 -5v10M1165.3 498.0h10m-5 -5v10M1165.4 412.1h10m-5 -5v10M1165.5 426.9h10m-5 -5v10M1165.6 507.8h10m-5 -5v10M1165.8 396.6h10m-5 -5v10M1165.9 413.1h10m-5 -5v10M1166.0 507.0h10m-5 -5v10M1166.1 449.4h10m-5 -5v10M1166.2 423.5h10m-5 -5v10M1166.3 443.5h10m-5 -5v10M1166.4 457.0h10m-5 -5v10M1166.6 506.8h10m-5 -5v10M1166.7 505.1h10m-5 -5v10M1166.8 453.2h10m-5 -5v10M1166.9 488.8h10m-5 -5v10M1167.0 485.4h10m-5 -5v10M1167.1 496.6h10m-5 -5v10M1167.3 405.0h10m-5 -5v10M1167.4 471.8h10m-5 -5v10M1167.5 389.3h10m-5 -5v10M1167.6 493.7h10m-5 -5v10M1167.7 391.8h10m-5 -5v10M1167.8 469.8h10m-5 -5v10M1168.0 506.3h10m-5 -5v10M1168.1 524.0h10m-5 -5v10M1168.2 444.7h10m-5 -5v10M1168.3 424.6h10m-5 -5v10M1168.4 485.0h10m-5 -5v10M1168.5 454.4h10m-5 -5v10M1168.7 473.9h10m-5 -5v10M1168.8 425.7h10m-5 -5v10M1168.9 487.2h10m-5 -5v10M1169.0 440.1h10m-5 -5v10M1169.1 422.1h10m-5 -5v10M1169.2 464.9h10m-5 -5v10M1169.4 485.1h10m-5 -5v10M1169.5 425.0h10m-5 -5v10M1169.6 489.0h10m-5 -5v10M1169.7 438.4h10m-5 -5v10M1169.8 430.8h10m-5 -5v10M1169.9 468.7h10m-5 -5v10M1170.1 425.5h10m-5 -5v10M1170.2 417.4h10m-5 -5v10M1170.3 453.6h10m-5 -5v10M1170.4 486.8h10m-5 -5v10M1170.5 510.2h10m-5 -5v10M1170.6 501.8h10m-5 -5v10M1170.8 422.5h10m-5 -5v10M1170.9 409.1h10m-5 -5v10M1171.0 455.8h10m-5 -5v10M1171.1 513.0h10m-5 -5v10M1171.2 500.2h10m-5 -5v10M1171.3 435.7h10m-5 -5v10M1171.5 503.2h10m-5 -5v10M1171.6 483.0h10m-5 -5v10M1171.7 419.2h10m-5 -5v10M1171.8 426.7h10m-5 -5v10M1171.9 414.1h10m-5 -5v10M1172.0 442.5h10m-5 -5v10M1172.2 403.9h10m-5 -5v10M1172.3 440.5h10m-5 -5v10M1172.4 452.4h10m-5 -5v10M1172.5 435.4h10m-5 -5v10M1172.6 415.1h10m-5 -5v10M1172.7 515.8h10m-5 -5v10M1172.9 484.6h10m-5 -5v10M1173.0 479.4h10m-5 -5v10M1173.1 507.3h10m-5 -5v10M1173.2 397.9h10m-5 -5v10M1173.3 503.9h10m-5 -5v10M1173.4 404.5h10m-5 -5v10M1173.6 450.3h10m-5 -5v10M1173.7 519.3h10m-5 -5v10M1173.8 435.4h10m-5 -5v10M1173.9 456.7h10m-5 -5v10M1174.0 429.8h10m-5 -5v10M1174.1 478.6h10m-5 -5v10M1174.3 423.5h10m-5 -5v10M1174.4 431.1h10m-5 -5v10M1174.5 514.7h10m-5 -5v10M1174.6 479.3h10m-5 -5v10M1174.7 495.6h10m-5 -5v10M1174.8 483.7h10m-5 -5v10M1175.0 459.4h10m-5 -5v10M1175.1 503.5h10m-5 -5v10M1175.2 389.2h10m-5 -5v10M1175.3 458.8h10m-5 -5v10M1175.4 514.8h10m-5 -5v10M1175.5 472.9h10m-5 -5v10M1175.7 476.4h10m-5 -5v10M1175.8 453.5h10m-5 -5v10M1175.9 458.9h10m-5 -5v10M1176.0 447.8h10m-5 -5v10M1176.1 490.0h10m-5 -5v10M1176.2 448.7h10m-5 -5v10M1176.4 509.5h10m-5 -5v10M1176.5 448.0h10m-5 -5v10M1176.6 504.1h10m-5 -5v10M1176.7 461.7h10m-5 -5v10M1176.8 513.2h10m-5 -5v10M1176.9 467.3h10m-5 -5v10M1177.1 472.3h10m-5 -5v10M1177.2 423.0h10m-5 -5v10M1177.3 508.0h10m-5 -5v10M1177.4 396.6h10m-5 -5v10M1177.5 497.2h10m-5 -5v10M1177.6 510.5h10m-5 -5v10M1177.8 512.7h10m-5 -5v10M1177.9 494.6h10m-5 -5v10M1178.0 465.1h10m-5 -5v10M1178.1 389.6h10m-5 -5v10M1178.2 405.4h10m-5 -5v10M1178.3 402.6h10m-5 -5v10M1178.5 401.0h10m-5 -5v10M1178.6 434.8h10m-5 -5v10M1178.7 508.5h10m-5 -5v10M1178.8 454.5h10m-5 -5v10M1178.9 429.0h10m-5 -5v10M1179.0 530.0h10m-5 -5v10M1179.2 445.4h10m-5 -5v10M1179.3 485.9h10m-5 -5v10M1179.4 459.7h10m-5 -5v10M1179.5 484.6h10m-5 -5v10M1179.6 482.7h10m-5 -5v10M1179.7 378.4h10m-5 -5v10M1179.9 494.6h10m-5 -5v10M1180.0 421.9h10m-5 -5v10M1180.1 454.1h10m-5 -5v10M1180.2 440.1h10m-5 -5v10M1180.3 489.4h10m-5 -5v10M1180.4 428.8h10m-5 -5v10M1180.6 481.1h10m-5 -5v10M1180.7 405.5h10m-5 -5v10M1180.8 379.5h10m-5 -5v10M1180.9 471.4h10m-5 -5v10M1181.0 487.5h10m-5 -5v10M1181.1 443.6h10m-5 -5v10M1181.3 472.6h10m-5 -5v10M1181.4 431.2h10m-5 -5v10M1181.5 491.5h10m-5 -5v10M1181.6 479.1h10m-5 -5v10M1181.7 429.3h10m-5 -5v10M1181.8 397.3h10m-5 -5v10M1182.0 510.0h10m-5 -5v10M1182.1 425.2h10m-5 -5v10M1182.2 475.6h10m-5 -5v10M1182.3 437.9h10m-5 -5v10M1182.4 482.1h10m-5 -5v10M1182.5 486.9h10m-5 -5v10M1182.7 393.4h10m-5 -5v10M1182.8 438.6h10m-5 -5v10M1182.9 495.7h10m-5 -5v10M1183.0 433.7h10m-5 -5v10M1183.1 447.0h10m-5 -5v10M1183.2 491.2h10m-5 -5v10M1183.4 515.2h10m-5 -5v10M1183.5 523.6h10m-5 -5v10M1183.6 517.0h10m-5 -5v10M1183.7 476.1h10m-5 -5v10M1183.8 473.3h10m-5 -5v10M1183.9 414.9h10m-5 -5v10M1184.1 519.4h10m-5 -5v10M1184.2 474.1h10m-5 -5v10M1184.3 482.1h10m-5 -5v10M1184.4 454.5h10m-5 -5v10M1184.5 510.9h10m-5 -5v10M1184.6 491.1h10m-5 -5v10M1184.8 519.7h10m-5 -5v10M1184.9 468.9h10m-5 -5v10M1185.0 439.9h10m-5 -5v10M1185.1 500.5h10m-5 -5v10M1185.2 436.5h10m-5 -5v10M1185.3 450.7h10m-5 -5v10M1185.5 444.4h10m-5 -5v10M1185.6 519.6h10m-5 -5v10M1185.7 495.7h10m-5 -5v10M1185.8 508.0h10m-5 -5v10M1185.9 513.5h10m-5 -5v10M1186.0 454.1h10m-5 -5v10M1186.2 511.3h10m-5 -5v10M1186.3 391.6h10m-5 -5v10M1186.4 483.4h10m-5 -5v10M1186.5 511.9h10m-5 -5v10M1186.6 426.0h10m-5 -5v10M1186.7 478.6h10m-5 -5v10M1186.9 512.3h10m-5 -5v10M1187.0 446.7h10m-5 -5v10M1187.1 446.2h10m-5 -5v10M1187.2 517.8h10m-5 -5v10M1187.3 474.8h10m-5 -5v10M1187.4 424.8h10m-5 -5v10M1187.6 500.2h10m-5 -5v10M1187.7 478.9h10m-5 -5v10M1187.8 435.1h10m-5 -5v10M1187.9 482.1h10m-5 -5v10M1188.0 448.5h10m-5 -5v10M1188.1 425.4h10m-5 -5v10M1188.3 394.9h10m-5 -5v10M1188.4 523.7h10m-5 -5v10M1188.5 428.7h10m-5 -5v10M1188.6 484.4h10m-5 -5v10M1188.7 422.0h10m-5 -5v10M1188.8 512.9h10m-5 -5v10M1189.0 453.3h10m-5 -5v10M1189.1 471.2h10m-5 -5v10M1189.2 429.3h10m-5 -5v10M1189.3 393.0h10m-5 -5v10M1189.4 467.5h10m-5 -5v10M1189.5 481.0h10m-5 -5v10M1189.7 455.4h10m-5 -5v10M1189.8 515.7h10m-5 -5v10M1189.9 471.2h10m-5 -5v10M1190.0 523.7h10m-5 -5v10M1190.1 457.4h10m-5 -5v10M1190.2 496.6h10m-5 -5v10M1190.4 474.7h10m-5 -5v10M1190.5 420.0h10m-5 -5v10M1190.6 405.4h10m-5 -5v10M1190.7 430.5h10m-5 -5v10M1190.8 411.0h10m-5 -5v10M1190.9 445.5h10m-5 -5v10M1191.1 402.8h10m-5 -5v10M1191.2 394.3h10m-5 -5v10M1191.3 415.4h10m-5 -5v10M1191.4 437.0h10m-5 -5v10M1191.5 514.4h10m-5 -5v10M1191.6 464.7h10m-5 -5v10M1191.8 475.6h10m-5 -5v10M1191.9 407.8h10m-5 -5v10M1192.0 484.8h10m-5 -5v10M1192.1 460.5h10m-5 -5v10M1192.2 405.8h10m-5 -5v10M1192.3 503.7h10m-5 -5v10M1192.5 448.9h10m-5 -5v10M1192.6 441.0h10m-5 -5v10M1192.7 472.5h10m-5 -5v10M1192.8 399.8h10m-5 -5v10M1192.9 455.9h10m-5 -5v10M1193.0 518.5h10m-5 -5v10M1193.2 461.7h10m-5 -5v10M1193.3 400.1h10m-5 -5v10M1193.4 517.2h10m-5 -5v10M1193.5 506.3h10m-5 -5v10M1193.6 442.3h10m-5 -5v10M1193.7 474.2h10m-5 -5v10M1193.9 439.3h10m-5 -5v10M1194.0 464.8h10m-5 -5v10M1194.1 448.4h10m-5 -5v10M1194.2 469.9h10m-5 -5v10M1194.3 473.4h10m-5 -5v10M1194.4 514.4h10m-5 -5v10M1194.6 391.4h10m-5 -5v10M1194.7 484.3h10m-5 -5v10M1194.8 477.9h10m-5 -5v10M1194.9 423.8h10m-5 -5v10M1195.0 472.0h10m-5 -5v10M1195.1 469.3h10m-5 -5v10M1195.3 397.1h10m-5 -5v10M1195.4 461.9h10m-5 -5v10M1195.5 430.6h10m-5 -5v10M1195.6 409.8h10m-5 -5v10M1195.7 481.2h10m-5 -5v10M1195.8 452.9h10m-5 -5v10M1196.0 451.5h10m-5 -5v10M1196.1 463.6h10m-5 -5v10M1196.2 398.8h10m-5 -5v10M1196.3 472.8h10m-5 -5v10M1196.4 411.6h10m-5 -5v10M1196.5 428.7h10m-5 -5v10M1196.7 423.7h10m-5 -5v10M1196.8 488.7h10m-5 -5v10M1196.9 454.4h10m-5 -5v10M1197.0 523.3h10m-5 -5v10M1197.1 392.8h10m-5 -5v10M1197.2 391.0h10m-5 -5v10M1197.4 475.3h10m-5 -5v10M1197.5 466.3h10m-5 -5v10M1197.6 524.2h10m-5 -5v10M1197.7 488.4h10m-5 -5v10M1197.8 415.3h10m-5 -5v10M1197.9 479.5h10m-5 -5v10M1198.1 511.3h10m-5 -5v10M1198.2 469.1h10m-5 -5v10M1198.3 454.9h10m-5 -5v10M1198.4 527.2h10m-5 -5v10M1198.5 397.2h10m-5 -5v10M1198.6 482.7h10m-5 -5v10M1198.8 440.4h10m-5 -5v10M1198.9 497.4h10m-5 -5v10M1199.0 433.4h10m-5 -5v10M1199.1 477.7h10m-5 -5v10M1199.2 438.1h10m-5 -5v10M1199.3 425.6h10m-5 -5v10M1199.5 498.4h10m-5 -5v10M1199.6 466.6h10m-5 -5v10M1199.7 467.2h10m-5 -5v10M1199.8 467.0h10m-5 -5v10M1199.9 412.2h10m-5 -5v10M1200.0 452.8h10m-5 -5v10M1200.2 476.7h10m-5 -5v10M1200.3 404.9h10m-5 -5v10M1200.4 502.0h10m-5 -5v10M1200.5 490.2h10m-5 -5v10M1200.6 454.0h10m-5 -5v10M1200.7 491.1h10m-5 -5v10M1200.9 502.5h10m-5 -5v10M1201.0 459.2h10m-5 -5v10M1201.1 388.5h10m-5 -5v10M1201.2 508.9h10m-5 -5v10M1201.3 456.6h10m-5 -5v10M1201.4 519.9h10m-5 -5v10M1201.6 482.9h10m-5 -5v10M1201.7 465.3h10m-5 -5v10M1201.8 426.3h10m-5 -5v10M1201.9 497.5h10m-5 -5v10M1202.0 434.6h10m-5 -5v10M1202.1 465.0h10m-5 -5v10M1202.3 388.7h10m-5 -5v10M1202.4 485.9h10m-5 -5v10M1202.5 423.7h10m-5 -5v10M1202.6 437.6h10m-5 -5v10M1202.7 468.7h10m-5 -5v10M1202.8 491.5h10m-5 -5v10M1203.0 455.9h10m-5 -5v10M1203.1 395.9h10m-5 -5v10M1203.2 463.3h10m-5 -5v10M1203.3 481.6h10m-5 -5v10M1203.4 497.5h10m-5 -5v10M1203.5 461.4h10m-5 -5v10M1203.7 509.9h10m-5 -5v10M1203.8 526.9h10m-5 -5v10M1203.9 439.5h10m-5 -5v10M1204.0 480.7h10m-5 -5v10M1204.1 489.1h10m-5 -5v10M1204.2 451.0h10m-5 -5v10M1204.4 397.1h10m-5 -5v10M1204.5 480.0h10m-5 -5v10M1204.6 434.3h10m-5 -5v10M1204.7 467.0h10m-5 -5v10M1204.8 494.5h10m-5 -5v10M1204.9 511.9h10m-5 -5v10M1205.1 474.6h10m-5 -5v10M1205.2 514.6h10m-5 -5v10M1205.3 403.0h10m-5 -5v10M1205.4 457.6h10m-5 -5v10M1205.5 507.8h10m-5 -5v10M1205.6 502.1h10m-5 -5v10M1205.8 473.5h10m-5 -5v10M1205.9 407.3h10m-5 -5v10M1206.0 428.0h10m-5 -5v10M1206.1 464.0h10m-5 -5v10M1206.2 405.9h10m-5 -5v10M1206.3 516.3h10m-5 -5v10M1206.5 436.7h10m-5 -5v10M1206.6 477.6h10m-5 -5v10M1206.7 501.5h10m-5 -5v10M1206.8 430.6h10m-5 -5v10M1206.9 477.3h10m-5 -5v10M1207.0 424.8h10m-5 -5v10M1207.2 451.8h10m-5 -5v10M1207.3 444.7h10m-5 -5v10M1207.4 474.0h10m-5 -5v10M1207.5 404.1h10m-5 -5v10M1207.6 427.5h10m-5 -5v10M1207.7 497.1h10m-5 -5v10M1207.9 488.8h10m-5 -5v10M1208.0 442.7h10m-5 -5v10M1208.1 411.4h10m-5 -5v10M1208.2 394.2h10m-5 -5v10M1208.3 476.1h10m-5 -5v10M1208.4 433.1h10m-5 -5v10M1208.6 500.0h10m-5 -5v10M1208.7 484.7h10m-5 -5v10M1208.8 503.5h10m-5 -5v10M1208.9 491.1h10m-5 -5v10M1209.0 441.3h10m-5 -5v10M1209.1 441.4h10m-5 -5v10M1209.3 481.7h10m-5 -5v10M1209.4 461.6h10m-5 -5v10M1209.5 378.5h10m-5 -5v10M1209.6 462.8h10m-5 -5v10M1209.7 428.2h10m-5 -5v10M1209.8 527.8h10m-5 -5v10M1210.0 502.6h10m-5 -5v10M1210.1 476.9h10m-5 -5v10M1210.2 416.4h10m-5 -5v10M1210.3 400.6h10m-5 -5v10M1210.4 476.7h10m-5 -5v10M1210.5 495.4h10m-5 -5v10M1210.7 503.7h10m-5 -5v10M1210.8 506.1h10m-5 -5v10M1210.9 524.6h10m-5 -5v10M1211.0 458.7h10m-5 -5v10M1211.1 453.5h10m-5 -5v10M1211.2 487.8h10m-5 -5v10M1211.4 411.7h10m-5 -5v10M1211.5 408.9h10m-5 -5v10M1211.6 408.4h10m-5 -5v10M1211.7 493.2h10m-5 -5v10M1211.8 457.3h10m-5 -5v10M1211.9 520.7h10m-5 -5v10M1212.1 428.8h10m-5 -5v10M1212.2 433.8h10m-5 -5v10M1212.3 414.8h10m-5 -5v10M1212.4 483.4h10m-5 -5v10M1212.5 472.9h10m-5 -5v10M1212.6 426.6h10m-5 -5v10M1212.8 437.6h10m-5 -5v10M1212.9 461.7h10m-5 -5v10M1213.0 479.6h10m-5 -5v10M1213.1 514.5h10m-5 -5v10M1213.2 496.2h10m-5 -5v10M1213.3 498.3h10m-5 -5v10M1213.5 493.4h10m-5 -5v10M1213.6 465.7h10m-5 -5v10M1213.7 463.3h10m-5 -5v10M1213.8 420.8h10m-5 -5v10M1213.9 490.7h10m-5 -5v10M1214.0 434.9h10m-5 -5v10M1214.1 464.7h10m-5 -5v10M1214.3 466.3h10m-5 -5v10M1214.4 398.3h10m-5 -5v10M1214.5 447.4h10m-5 -5v10M1214.6 406.3h10m-5 -5v10M1214.7 423.2h10m-5 -5v10M1214.8 426.3h10m-5 -5v10M1215.0 400.0h10m-5 -5v10M1215.1 425.8h10m-5 -5v10M1215.2 426.4h10m-5 -5v10M1215.3 418.0h10m-5 -5v10M1215.4 508.2h10m-5 -5v10M1215.5 516.3h10m-5 -5v10M1215.7 516.9h10m-5 -5v10M1215.8 436.2h10m-5 -5v10M1215.9 457.4h10m-5 -5v10M1216.0 478.4h10m-5 -5v10M1216.1 436.9h10m-5 -5v10M1216.2 523.8h10m-5 -5v10M1216.4 454.8h10m-5 -5v10M1216.5 493.3h10m-5 -5v10M1216.6 473.0h10m-5 -5v10M1216.7 407.2h10m-5 -5v10M1216.8 389.4h10m-5 -5v10M1216.9 496.8h10m-5 -5v10M1217.1 514.1h10m-5 -5v10M1217.2 464.6h10m-5 -5v10M1217.3 399.2h10m-5 -5v10M1217.4 410.3h10m-5 -5v10M1217.5 392.7h10m-5 -5v10M1217.6 416.9h10m-5 -5v10M1217.8 509.0h10m-5 -5v10M1217.9 417.7h10m-5 -5v10M1218.0 407.7h10m-5 -5v10M1218.1 484.0h10m-5 -5v10M1218.2 478.2h10m-5 -5v10M1218.3 504.3h10m-5 -5v10M1218.5 522.9h10m-5 -5v10M1218.6 524.1h10m-5 -5v10M1218.7 448.2h10m-5 -5v10M1218.8 432.6h10m-5 -5v10M1218.9 507.5h10m-5 -5v10M1219.0 447.8h10m-5 -5v10M1219.2 403.5h10m-5 -5v10M1219.3 485.3h10m-5 -5v10M1219.4 438.9h10m-5 -5v10M1219.5 406.1h10m-5 -5v10M1219.6 512.0h10m-5 -5v10M1219.7 427.5h10m-5 -5v10M1219.9 490.5h10m-5 -5v10M1220.0 423.6h10m-5 -5v10M1220.1 515.5h10m-5 -5v10M1220.2 502.8h10m-5 -5v10M1220.3 448.8h10m-5 -5v10M1220.4 493.7h10m-5 -5v10M1220.6 481.6h10m-5 -5v10M1220.7 447.4h10m-5 -5v10M1220.8 467.1h10m-5 -5v10M1220.9 430.1h10m-5 -5v10M1221.0 509.7h10m-5 -5v10M1221.1 426.4h10m-5 -5v10M1221.3 442.6h10m-5 -5v10M1221.4 427.1h10m-5 -5v10M1221.5 467.0h10m-5 -5v10M1221.6 472.5h10m-5 -5v10M1221.7 495.9h10m-5 -5v10M1221.8 507.9h10m-5 -5v10M1222.0 464.9h10m-5 -5v10M1222.1 510.3h10m-5 -5v10M1222.2 422.7h10m-5 -5v10M1222.3 424.9h10m-5 -5v10M1222.4 432.8h10m-5 -5v10M1222.5 406.6h10m-5 -5v10M1222.7 454.5h10m-5 -5v10M1222.8 403.4h10m-5 -5v10M1222.9 386.1h10m-5 -5v10M1223.0 410.0h10m-5 -5v10M1223.1 415.9h10m-5 -5v10M1223.2 449.0h10m-5 -5v10M1223.4 465.4h10m-5 -5v10M1223.5 485.2h10m-5 -5v10M1223.6 482.8h10m-5 -5v10M1223.7 512.8h10m-5 -5v10M1223.8 427.3h10m-5 -5v10M1223.9 526.3h10m-5 -5v10M1224.1 439.3h10m-5 -5v10M1224.2 431.1h10m-5 -5v10M1224.3 430.3h10m-5 -5v10M1224.4 485.9h10m-5 -5v10M1224.5 496.4h10m-5 -5v10M1224.6 406.6h10m-5 -5v10M1224.8 499.9h10m-5 -5v10M1224.9 491.8h10m-5 -5v10M1225.0 437.8h10m-5 -5v10M1225.1 453.0h10m-5 -5v10M1225.2 389.5h10m-5 -5v10M1225.3 391.3h10m-5 -5v10M1225.5 411.2h10m-5 -5v10M1225.6 511.7h10m-5 -5v10M1225.7 501.3h10m-5 -5v10M1225.8 517.1h10m-5 -5v10M1225.9 508.4h10m-5 -5v10M1226.0 440.3h10m-5 -5v10M1226.2 480.4h10m-5 -5v10M1226.3 511.6h10m-5 -5v10M1226.4 497.2h10m-5 -5v10M1226.5 416.3h10m-5 -5v10M1226.6 505.7h10m-5 -5v10M1226.7 408.5h10m-5 -5v10M1226.9 489.7h10m-5 -5v10M1227.0 474.3h10m-5 -5v10M1227.1 419.2h10m-5 -5v10M1227.2 429.5h10m-5 -5v10M1227.3 455.4h10m-5 -5v10M1227.4 392.6h10m-5 -5v10M1227.6 437.7h10m-5 -5v10M1227.7 486.7h10m-5 -5v10M1227.8 432.7h10m-5 -5v10M1227.9 434.0h10m-5 -5v10M1228.0 404.0h10m-5 -5v10M1228.1 516.3h10m-5 -5v10M1228.3 445.1h10m-5 -5v10M1228.4 396.2h10m-5 -5v10M1228.5 485.0h10m-5 -5v10M1228.6 485.3h10m-5 -5v10M1228.7 508.8h10m-5 -5v10M1228.8 475.6h10m-5 -5v10M1229.0 481.9h10m-5 -5v10M1229.1 495.6h10m-5 -5v10M1229.2 461.9h10m-5 -5v10M1229.3 461.5h10m-5 -5v10M1229.4 477.5h10m-5 -5v10M1229.5 462.0h10m-5 -5v10M1229.7 408.5h10m-5 -5v10M1229.8 509.4h10m-5 -5v10M1229.9 475.3h10m-5 -5v10M1230.0 444.1h10m-5 -5v10M1230.1 511.5h10m-5 -5v10M1230.2 434.0h10m-5 -5v10M1230.4 490.5h10m-5 -5v10M1230.5 473.1h10m-5 -5v10M1230.6 469.0h10m-5 -5v10M1230.7 400.5h10m-5 -5v10M1230.8 441.6h10m-5 -5v10M1230.9 486.8h10m-5 -5v10M1231.1 430.9h10m-5 -5v10M1231.2 434.1h10m-5 -5v10M1231.3 458.6h10m-5 -5v10M1231.4 474.2h10m-5 -5v10M1231.5 400.3h10m-5 -5v10M1231.6 522.3h10m-5 -5v10M1231.8 410.1h10m-5 -5v10M1231.9 477.6h10m-5 -5v10M1232.0 467.7h10m-5 -5v10M1232.1 467.1h10m-5 -5v10M1232.2 513.6h10m-5 -5v10M1232.3 410.8h10m-5 -5v10M1232.5 463.8h10m-5 -5v10M1232.6 467.9h10m-5 -5v10M1232.7 525.7h10m-5 -5v10M1232.8 436.1h10m-5 -5v10M1232.9 483.1h10m-5 -5v10M1233.0 510.5h10m-5 -5v10M1233.2 434.5h10m-5 -5v10M1233.3 485.7h10m-5 -5v10M1233.4 419.0h10m-5 -5v10M1233.5 402.6h10m-5 -5v10M1233.6 416.7h10m-5 -5v10M1233.7 506.1h10m-5 -5v10M1233.9 438.9h10m-5 -5v10M1234.0 418.4h10m-5 -5v10M1234.1 482.0h10m-5 -5v10M1234.2 489.7h10m-5 -5v10M1234.3 430.1h10m-5 -5v10M1234.4 418.9h10m-5 -5v10M1234.6 479.5h10m-5 -5v10M1234.7 524.8h10m-5 -5v10M1234.8 499.2h10m-5 -5v10M1234.9 460.1h10m-5 -5v10M1235.0 522.6h10m-5 -5v10M1235.1 462.4h10m-5 -5v10M1235.3 497.5h10m-5 -5v10M1235.4 395.0h10m-5 -5v10M1235.5 470.4h10m-5 -5v10M1235.6 438.2h10m-5 -5v10M1235.7 469.1h10m-5 -5v10M1235.8 441.7h10m-5 -5v10M1236.0 503.4h10m-5 -5v10M1236.1 425.8h10m-5 -5v10M1236.2 493.7h10m-5 -5v10M1236.3 497.5h10m-5 -5v10M1236.4 429.2h10m-5 -5v10M1236.5 462.5h10m-5 -5v10M1236.7 483.5h10m-5 -5v10M1236.8 405.7h10m-5 -5v10M1236.9 505.6h10m-5 -5v10M1237.0 512.7h10m-5 -5v10M1237.1 492.4h10m-5 -5v10M1237.2 389.1h10m-5 -5v10M1237.4 426.8h10m-5 -5v10M1237.5 462.8h10m-5 -5v10M1237.6 431.1h10m-5 -5v10M1237.7 407.8h10m-5 -5v10M1237.8 478.4h10m-5 -5v10M1237.9 402.5h10m-5 -5v10M1238.1 381.1h10m-5 -5v10M1238.2 420.3h10m-5 -5v10M1238.3 427.5h10m-5 -5v10M1238.4 416.6h10m-5 -5v10M1238.5 504.7h10m-5 -5v10M1238.6 501.2h10m-5 -5v10M1238.8 519.5h10m-5 -5v10M1238.9 494.8h10m-5 -5v10M1239.0 469.8h10m-5 -5v10M1239.1 499.9h10m-5 -5v10M1239.2 461.3h10m-5 -5v10M1239.3 436.0h10m-5 -5v10M1239.5 406.6h10m-5 -5v10M1239.6 471.3h10m-5 -5v10M1239.7 465.0h10m-5 -5v10M1239.8 401.3h10m-5 -5v10M1239.9 516.2h10m-5 -5v10M1240.0 402.2h10m-5 -5v10M1240.2 464.0h10m-5 -5v10M1240.3 516.2h10m-5 -5v10M1240.4 452.3h10m-5 -5v10M1240.5 421.4h10m-5 -5v10M1240.6 385.4h10m-5 -5v10M1240.7 455.8h10m-5 -5v10M1240.9 384.6h10m-5 -5v10M1241.0 413.5h10m-5 -5v10M1241.1 457.4h10m-5 -5v10M1241.2 502.5h10m-5 -5v10M1241.3 414.1h10m-5 -5v10M1241.4 429.0h10m-5 -5v10M1241.6 473.9h10m-5 -5v10M1241.7 467.5h10m-5 -5v10M1241.8 397.5h10m-5 -5v10M1241.9 451.5h10m-5 -5v10M1242.0 456.3h10m-5 -5v10M1242.1 500.3h10m-5 -5v10M1242.3 403.4h10m-5 -5v10M1242.4 435.2h10m-5 -5v10M1242.5 475.4h10m-5 -5v10M1242.6 478.2h10m-5 -5v10M1242.7 419.2h10m-5 -5v10M1242.8 439.7h10m-5 -5v10M1243.0 519.2h10m-5 -5v10M1243.1 526.0h10m-5 -5v10M1243.2 497.1h10m-5 -5v10M1243.3 410.5h10m-5 -5v10M1243.4 400.0h10m-5 -5v10M1243.5 504.7h10m-5 -5v10M1243.7 479.6h10m-5 -5v10M1243.8 478.7h10m-5 -5v10M1243.9 481.9h10m-5 -5v10M1244.0 502.6h10m-5 -5v10M1244.1 432.5h10m-5 -5v10M1244.2 506.7h10m-5 -5v10M1244.4 415.5h10m-5 -5v10M1244.5 477.4h10m-5 -5v10M1244.6 518.0h10m-5 -5v10M1244.7 498.6h10m-5 -5v10M1244.8 429.0h10m-5 -5v10M1244.9 454.2h10m-5 -5v10M1245.1 434.6h10m-5 -5v10M1245.2 448.8h10m-5 -5v10M1245.3 459.3h10m-5 -5v10M1245.4 490.3h10m-5 -5v10M1245.5 535.3h10m-5 -5v10M1245.6 527.6h10m-5 -5v10M1245.8 461.7h10m-5 -5v10M1245.9 486.5h10m-5 -5v10M1246.0 491.5h10m-5 -5v10M1246.1 472.1h10m-5 -5v10M1246.2 412.3h10m-5 -5v10M1246.3 388.6h10m-5 -5v10M1246.5 464.9h10m-5 -5v10M1246.6 511.6h10m-5 -5v10M1246.7 495.1h10m-5 -5v10M1246.8 477.4h10m-5 -5v10M1246.9 472.7h10m-5 -5v10M1247.0 414.6h10m-5 -5v10M1247.2 518.8h10m-5 -5v10M1247.3 442.9h10m-5 -5v10M1247.4 421.0h10m-5 -5v10M1247.5 465.8h10m-5 -5v10M1247.6 460.3h10m-5 -5v10M1247.7 392.4h10m-5 -5v10M1247.9 448.0h10m-5 -5v10M1248.0 454.8h10m-5 -5v10M1248.1 416.2h10m-5 -5v10M1248.2 535.9h10m-5 -5v10M1248.3 478.0h10m-5 -5v10M1248.4 432.7h10m-5 -5v10M1248.6 474.9h10m-5 -5v10M1248.7 441.4h10m-5 -5v10M1248.8 445.0h10m-5 -5v10M1248.9 457.8h10m-5 -5v10M1249.0 423.7h10m-5 -5v10M1249.1 488.2h10m-5 -5v10M1249.3 408.5h10m-5 -5v10M1249.4 461.1h10m-5 -5v10M1249.5 429.7h10m-5 -5v10M1249.6 507.1h10m-5 -5v10M1249.7 430.2h10m-5 -5v10M1249.8 479.6h10m-5 -5v10M1250.0 506.7h10m-5 -5v10M1250.1 427.6h10m-5 -5v10M1250.2 487.7h10m-5 -5v10M1250.3 469.4h10m-5 -5v10M1250.4 451.8h10m-5 -5v10M1250.5 483.4h10m-5 -5v10M1250.7 503.1h10m-5 -5v10M1250.8 420.6h10m-5 -5v10M1250.9 469.6h10m-5 -5v10M1251.0 506.5h10m-5 -5v10M1251.1 407.1h10m-5 -5v10M1251.2 447.6h10m-5 -5v10M1251.4 413.3h10m-5 -5v10M1251.5 497.8h10m-5 -5v10M1251.6 476.2h10m-5 -5v10M1251.7 461.2h10m-5 -5v10M1251.8 508.0h10m-5 -5v10M1251.9 492.5h10m-5 -5v10M1252.1 456.7h10m-5 -5v10M1252.2 419.5h10m-5 -5v10M1252.3 461.5h10m-5 -5v10M1252.4 525.7h10m-5 -5v10M1252.5 502.3h10m-5 -5v10M1252.6 407.1h10m-5 -5v10M1252.8 481.6h10m-5 -5v10M1252.9 418.0h10m-5 -5v10M1253.0 456.2h10m-5 -5v10M1253.1 471.8h10m-5 -5v10M1253.2 434.7h10m-5 -5v10M1253.3 419.4h10m-5 -5v10M1253.5 497.7h10m-5 -5v10M1253.6 526.8h10m-5 -5v10M1253.7 480.0h10m-5 -5v10M1253.8 387.1h10m-5 -5v10M1253.9 391.9h10m-5 -5v10M1254.0 518.6h10m-5 -5v10M1254.2 445.9h10m-5 -5v10M1254.3 436.9h10m-5 -5v10M1254.4 390.0h10m-5 -5v10M1254.5 467.4h10m-5 -5v10M1254.6 434.0h10m-5 -5v10M1254.7 512.6h10m-5 -5v10M1254.9 483.6h10m-5 -5v10M1255.0 455.6h10m-5 -5v10M1255.1 447.3h10m-5 -5v10M1255.2 461.4h10m-5 -5v10M1255.3 471.9h10m-5 -5v10M1255.4 378.9h10m-5 -5v10M1255.6 499.9h10m-5 -5v10M1255.7 395.1h10m-5 -5v10M1255.8 482.0h10m-5 -5v10M1255.9 492.0h10m-5 -5v10M1256.0 403.4h10m-5 -5v10M1256.1 488.8h10m-5 -5v10M1256.3 412.0h10m-5 -5v10M1256.4 466.5h10m-5 -5v10M1256.5 386.2h10m-5 -5v10M1256.6 412.4h10m-5 -5v10M1256.7 483.1h10m-5 -5v10M1256.8 391.2h10m-5 -5v10M1257.0 494.6h10m-5 -5v10M1257.1 395.0h10m-5 -5v10M1257.2 417.8h10m-5 -5v10M1257.3 450.5h10m-5 -5v10M1257.4 524.0h10m-5 -5v10M1257.5 481.1h10m-5 -5v10M1257.7 400.1h10m-5 -5v10M1257.8 517.1h10m-5 -5v10M1257.9 476.5h10m-5 -5v10M1258.0 453.3h10m-5 -5v10M1258.1 441.1h10m-5 -5v10M1258.2 411.5h10m-5 -5v10M1258.4 497.9h10m-5 -5v10M1258.5 496.9h10m-5 -5v10M1258.6 376.8h10m-5 -5v10M1258.7 479.0h10m-5 -5v10M1258.8 515.0h10m-5 -5v10M1258.9 522.9h10m-5 -5v10M1259.1 405.6h10m-5 -5v10M1259.2 520.4h10m-5 -5v10M1259.3 499.2h10m-5 -5v10M1259.4 467.8h10m-5 -5v10M1259.5 440.0h10m-5 -5v10M1259.6 437.7h10m-5 -5v10M1259.8 415.7h10m-5 -5v10M1259.9 482.3h10m-5 -5v10M1260.0 408.6h10m-5 -5v10M1260.1 520.2h10m-5 -5v10M1260.2 447.8h10m-5 -5v10M1260.3 460.1h10m-5 -5v10M1260.5 473.3h10m-5 -5v10M1260.6 496.1h10m-5 -5v10M1260.7 491.5h10m-5 -5v10M1260.8 409.5h10m-5 -5v10M1260.9 489.3h10m-5 -5v10M1261.0 508.8h10m-5 -5v10M1261.2 411.6h10m-5 -5v10M1261.3 413.1h10m-5 -5v10M1261.4 431.9h10m-5 -5v10M1261.5 468.7h10m-5 -5v10M1261.6 482.3h10m-5 -5v10M1261.7 418.4h10m-5 -5v10M1261.8 419.5h10m-5 -5v10M1262.0 505.5h10m-5 -5v10M1262.1 389.3h10m-5 -5v10M1262.2 423.2h10m-5 -5v10M1262.3 445.8h10m-5 -5v10M1262.4 384.1h10m-5 -5v10M1262.5 437.6h10m-5 -5v10M1262.7 488.2h10m-5 -5v10M1262.8 464.5h10m-5 -5v10M1262.9 386.9h10m-5 -5v10M1263.0 477.9h10m-5 -5v10M1263.1 394.5h10m-5 -5v10M1263.2 518.1h10m-5 -5v10M1263.4 398.5h10m-5 -5v10M1263.5 492.6h10m-5 -5v10M1263.6 489.7h10m-5 -5v10M1263.7 416.2h10m-5 -5v10M1263.8 434.9h10m-5 -5v10M1263.9 470.2h10m-5 -5v10M1264.1 409.8h10m-5 -5v10M1264.2 482.2h10m-5 -5v10M1264.3 509.8h10m-5 -5v10M1264.4 419.6h10m-5 -5v10M1264.5 505.2h10m-5 -5v10M1264.6 463.3h10m-5 -5v10M1264.8 468.3h10m-5 -5v10M1264.9 465.2h10m-5 -5v10M1265.0 502.9h10m-5 -5v10M1265.1 429.7h10m-5 -5v10M1265.2 395.8h10m-5 -5v10M1265.3 435.2h10m-5 -5v10M1265.5 442.2h10m-5 -5v10M1265.6 439.7h10m-5 -5v10M1265.7 448.2h10m-5 -5v10M1265.8 520.0h10m-5 -5v10M1265.9 437.4h10m-5 -5v10M1266.0 517.8h10m-5 -5v10M1266.2 496.5h10m-5 -5v10M1266.3 444.1h10m-5 -5v10M1266.4 504.4h10m-5 -5v10M1266.5 385.7h10m-5 -5v10M1266.6 488.5h10m-5 -5v10M1266.7 469.7h10m-5 -5v10M1266.9 504.1h10m-5 -5v10M1267.0 512.9h10m-5 -5v10M1267.1 507.1h10m-5 -5v10M1267.2 395.9h10m-5 -5v10M1267.3 465.9h10m-5 -5v10M1267.4 509.9h10m-5 -5v10M1267.6 420.4h10m-5 -5v10M1267.7 491.4h10m-5 -5v10M1267.8 414.7h10m-5 -5v10M1267.9 377.5h10m-5 -5v10M1268.0 508.5h10m-5 -5v10M1268.1 487.8h10m-5 -5v10M1268.3 496.9h10m-5 -5v10M1268.4 465.6h10m-5 -5v10M1268.5 507.6h10m-5 -5v10M1268.6 474.9h10m-5 -5v10M1268.7 391.2h10m-5 -5v10M1268.8 459.2h10m-5 -5v10M1269.0 437.7h10m-5 -5v10M1269.1 484.9h10m-5 -5v10M1269.2 511.5h10m-5 -5v10M1269.3 502.7h10m-5 -5v10M1269.4 423.3h10m-5 -5v10M1269.5 520.7h10m-5 -5v10M1269.7 428.5h10m-5 -5v10M1269.8 379.3h10m-5 -5v10M1269.9 449.8h10m-5 -5v10M1270.0 447.0h10m-5 -5v10M1270.1 451.9h10m-5 -5v10M1270.2 461.4h10m-5 -5v10M1270.4 458.7h10m-5 -5v10M1270.5 412.9h10m-5 -5v10M1270.6 501.7h10m-5 -5v10M1270.7 395.4h10m-5 -5v10M1270.8 411.7h10m-5 -5v10M1270.9 506.6h10m-5 -5v10M1271.1 476.5h10m-5 -5v10M1271.2 388.5h10m-5 -5v10M1271.3 427.6h10m-5 -5v10M1271.4 439.9h10m-5 -5v10M1271.5 487.4h10m-5 -5v10M1271.6 410.9h10m-5 -5v10M1271.8 422.7h10m-5 -5v10M1271.9 495.8h10m-5 -5v10M1272.0 480.7h10m-5 -5v10M1272.1 452.4h10m-5 -5v10M1272.2 495.4h10m-5 -5v10M1272.3 469.7h10m-5 -5v10M1272.5 460.7h10m-5 -5v10M1272.6 468.4h10m-5 -5v10M1272.7 485.7h10m-5 -5v10M1272.8 499.5h10m-5 -5v10M1272.9 464.6h10m-5 -5v10M1273.0 464.2h10m-5 -5v10M1273.2 385.9h10m-5 -5v10M1273.3 516.4h10m-5 -5v10M1273.4 426.7h10m-5 -5v10M1273.5 501.3h10m-5 -5v10M1273.6 430.1h10m-5 -5v10M1273.7 452.9h10m-5 -5v10M1273.9 471.0h10m-5 -5v10M1274.0 449.1h10m-5 -5v10M1274.1 463.7h10m-5 -5v10M1274.2 480.6h10m-5 -5v10M1274.3 469.0h10m-5 -5v10M1274.4 463.4h10m-5 -5v10M1274.6 474.8h10m-5 -5v10M1274.7 495.2h10m-5 -5v10M1274.8 396.1h10m-5 -5v10M1274.9 480.3h10m-5 -5v10M1275.0 488.6h10m-5 -5v10M1275.1 443.1h10m-5 -5v10M1275.3 520.6h10m-5 -5v10M1275.4 383.9h10m-5 -5v10M1275.5 416.5h10m-5 -5v10M1275.6 500.5h10m-5 -5v10M1275.7 491.8h10m-5 -5v10M1275.8 509.5h10m-5 -5v10M1276.0 488.8h10m-5 -5v10M1276.1 454.3h10m-5 -5v10M1276.2 431.4h10m-5 -5v10M1276.3 448.2h10m-5 -5v10M1276.4 383.7h10m-5 -5v10M1276.5 437.8h10m-5 -5v10M1276.7 504.7h10m-5 -5v10M1276.8 477.0h10m-5 -5v10M1276.9 424.8h10m-5 -5v10M1277.0 509.0h10m-5 -5v10M1277.1 451.5h10m-5 -5v10M1277.2 412.3h10m-5 -5v10M1277.4 476.2h10m-5 -5v10M1277.5 516.4h10m-5 -5v10M1277.6 472.5h10m-5 -5v10M1277.7 479.8h10m-5 -5v10M1277.8 460.0h10m-5 -5v10M1277.9 433.9h10m-5 -5v10M1278.1 502.1h10m-5 -5v10M1278.2 418.7h10m-5 -5v10M1278.3 412.2h10m-5 -5v10M1278.4 418.4h10m-5 -5v10M1278.5 455.4h10m-5 -5v10M1278.6 476.6h10m-5 -5v10M1278.8 466.7h10m-5 -5v10M1278.9 497.2h10m-5 -5v10M1279.0 502.8h10m-5 -5v10M1279.1 466.6h10m-5 -5v10M1279.2 422.6h10m-5 -5v10M1279.3 454.0h10m-5 -5v10M1279.5 412.0h10m-5 -5v10M1279.6 458.6h10m-5 -5v10M1279.7 518.7h10m-5 -5v10M1279.8 477.7h10m-5 -5v10M1279.9 414.9h10m-5 -5v10M1280.0 446.0h10m-5 -5v10M1280.2 502.8h10m-5 -5v10M1280.3 446.5h10m-5 -5v10M1280.4 425.1h10m-5 -5v10M1280.5 459.5h10m-5 -5v10M1280.6 451.7h10m-5 -5v10M1280.7 446.8h10m-5 -5v10M1280.9 386.0h10m-5 -5v10M1281.0 502.1h10m-5 -5v10M1281.1 431.2h10m-5 -5v10M1281.2 435.8h10m-5 -5v10M1281.3 390.2h10m-5 -5v10M1281.4 503.7h10m-5 -5v10M1281.6 456.1h10m-5 -5v10M1281.7 461.9h10m-5 -5v10M1281.8 479.2h10m-5 -5v10M1281.9 452.9h10m-5 -5v10M1282.0 466.1h10m-5 -5v10M1282.1 520.1h10m-5 -5v10M1282.3 511.5h10m-5 -5v10M1282.4 403.2h10m-5 -5v10M1282.5 452.0h10m-5 -5v10M1282.6 424.5h10m-5 -5v10M1282.7 491.4h10m-5 -5v10M1282.8 392.1h10m-5 -5v10M1283.0 452.7h10m-5 -5v10M1283.1 437.4h10m-5 -5v10M1283.2 486.0h10m-5 -5v10M1283.3 429.3h10m-5 -5v10M1283.4 483.7h10m-5 -5v10M1283.5 484.2h10m-5 -5v10M1283.7 446.7h10m-5 -5v10M1283.8 429.5h10m-5 -5v10M1283.9 474.1h10m-5 -5v10M1284.0 485.5h10m-5 -5v10M1284.1 464.5h10m-5 -5v10M1284.2 412.4h10m-5 -5v10M1284.4 421.5h10m-5 -5v10M1284.5 401.3h10m-5 -5v10M1284.6 439.2h10m-5 -5v10M1284.7 483.6h10m-5 -5v10M1284.8 499.7h10m-5 -5v10M1284.9 425.8h10m-5 -5v10M1285.1 440.9h10m-5 -5v10M1285.2 501.0h10m-5 -5v10M1285.3 388.3h10m-5 -5v10M1285.4 471.7h10m-5 -5v10M1285.5 412.2h10m-5 -5v10M1285.6 515.3h10m-5 -5v10M1285.8 490.3h10m-5 -5v10M1285.9 457.3h10m-5 -5v10M1286.0 420.7h10m-5 -5v10M1286.1 481.3h10m-5 -5v10M1286.2 478.4h10m-5 -5v10M1286.3 460.1h10m-5 -5v10M1286.5 415.4h10m-5 -5v10M1286.6 403.0h10m-5 -5v10M1286.7 492.5h10m-5 -5v10M1286.8 414.4h10m-5 -5v10M1286.9 482.4h10m-5 -5v10M1287.0 435.5h10m-5 -5v10M1287.2 411.3h10m-5 -5v10M1287.3 454.9h10m-5 -5v10M1287.4 526.5h10m-5 -5v10M1287.5 459.5h10m-5 -5v10M1287.6 501.2h10m-5 -5v10M1287.7 460.4h10m-5 -5v10M1287.9 412.2h10m-5 -5v10M1288.0 428.8h10m-5 -5v10M1288.1 439.3h10m-5 -5v10M1288.2 472.6h10m-5 -5v10M1288.3 407.9h10m-5 -5v10M1288.4 406.8h10m-5 -5v10M1288.6 456.6h10m-5 -5v10M1288.7 509.2h10m-5 -5v10M1288.8 470.8h10m-5 -5v10M1288.9 398.6h10m-5 -5v10M1289.0 413.0h10m-5 -5v10M1289.1 396.5h10m-5 -5v10M1289.3 487.2h10m-5 -5v10M1289.4 431.7h10m-5 -5v10M1289.5 474.3h10m-5 -5v10M1289.6 517.8h10m-5 -5v10M1289.7 453.6h10m-5 -5v10M1289.8 498.5h10m-5 -5v10M1290.0 503.1h10m-5 -5v10M1290.1 477.1h10m-5 -5v10M1290.2 447.0h10m-5 -5v10M1290.3 484.1h10m-5 -5v10M1290.4 431.1h10m-5 -5v10M1290.5 403.5h10m-5 -5v10M1290.7 492.6h10m-5 -5v10M1290.8 510.1h10m-5 -5v10M1290.9 461.0h10m-5 -5v10M1291.0 462.9h10m-5 -5v10M1291.1 474.1h10m-5 -5v10M1291.2 488.3h10m-5 -5v10M1291.4 463.1h10m-5 -5v10M1291.5 448.6h10m-5 -5v10M1291.6 512.3h10m-5 -5v10M1291.7 500.1h10m-5 -5v10M1291.8 439.3h10m-5 -5v10M1291.9 504.1h10m-5 -5v10M1292.1 511.0h10m-5 -5v10M1292.2 462.8h10m-5 -5v10M1292.3 460.5h10m-5 -5v10M1292.4 445.6h10m-5 -5v10M1292.5 492.4h10m-5 -5v10M1292.6 478.3h10m-5 -5v10M1292.8 479.0h10m-5 -5v10M1292.9 488.4h10m-5 -5v10M1293.0 403.7h10m-5 -5v10M1293.1 496.7h10m-5 -5v10M1293.2 511.1h10m-5 -5v10M1293.3 491.8h10m-5 -5v10M1293.5 505.4h10m-5 -5v10M1293.6 512.1h10m-5 -5v10M1293.7 446.4h10m-5 -5v10M1293.8 425.9h10m-5 -5v10M1293.9 504.0h10m-5 -5v10M1294.0 454.4h10m-5 -5v10M1294.2 440.8h10m-5 -5v10M1294.3 430.8h10m-5 -5v10M1294.4 459.8h10m-5 -5v10M1294.5 482.6h10m-5 -5v10M1294.6 402.3h10m-5 -5v10M1294.7 454.9h10m-5 -5v10M1294.9 504.8h10m-5 -5v10M1295.0 452.0h10m-5 -5v10M1295.1 397.3h10m-5 -5v10M1295.2 428.4h10m-5 -5v10M1295.3 382.2h10m-5 -5v10M1295.4 423.3h10m-5 -5v10M1295.6 503.8h10m-5 -5v10M1295.7 518.3h10m-5 -5v10M1295.8 512.3h10m-5 -5v10M1295.9 487.2h10m-5 -5v10M1296.0 440.4h10m-5 -5v10M1296.1 451.5h10m-5 -5v10M1296.3 467.9h10m-5 -5v10M1296.4 496.2h10m-5 -5v10M1296.5 516.9h10m-5 -5v10M1296.6 489.0h10m-5 -5v10M1296.7 438.9h10m-5 -5v10M1296.8 487.3h10m-5 -5v10M1297.0 484.2h10m-5 -5v10M1297.1 457.2h10m-5 -5v10M1297.2 413.0h10m-5 -5v10M1297.3 428.4h10m-5 -5v10M1297.4 463.2h10m-5 -5v10M1297.5 444.6h10m-5 -5v10M1297.7 465.3h10m-5 -5v10M1297.8 458.2h10m-5 -5v10M1297.9 461.6h10m-5 -5v10M1298.0 500.1h10m-5 -5v10M1298.1 410.9h10m-5 -5v10M1298.2 534.3h10m-5 -5v10M1298.4 427.1h10m-5 -5v10M1298.5 463.6h10m-5 -5v10M1298.6 431.4h10m-5 -5v10M1298.7 507.7h10m-5 -5v10M1298.8 498.0h10m-5 -5v10M1298.9 398.0h10m-5 -5v10M1299.1 435.1h10m-5 -5v10M1299.2 493.5h10m-5 -5v10M1299.3 464.8h10m-5 -5v10M1299.4 504.9h10m-5 -5v10M1299.5 477.8h10m-5 -5v10M1299.6 470.7h10m-5 -5v10M1299.8 532.4h10m-5 -5v10M1299.9 520.7h10m-5 -5v10M1300.0 465.0h10m-5 -5v10M1300.1 505.0h10m-5 -5v10M1300.2 433.9h10m-5 -5v10M1300.3 527.2h10m-5 -5v10M1300.5 432.3h10m-5 -5v10M1300.6 479.5h10m-5 -5v10M1300.7 411.6h10m-5 -5v10M1300.8 424.8h10m-5 -5v10M1300.9 511.0h10m-5 -5v10M1301.0 395.7h10m-5 -5v10M1301.2 408.9h10m-5 -5v10M1301.3 473.9h10m-5 -5v10M1301.4 417.5h10m-5 -5v10M1301.5 532.7h10m-5 -5v10M1301.6 452.8h10m-5 -5v10M1301.7 515.7h10m-5 -5v10M1301.9 485.7h10m-5 -5v10M1302.0 431.8h10m-5 -5v10M1302.1 405.9h10m-5 -5v10M1302.2 416.1h10m-5 -5v10M1302.3 397.2h10m-5 -5v10M1302.4 468.2h10m-5 -5v10M1302.6 484.2h10m-5 -5v10M1302.7 424.7h10m-5 -5v10M1302.8 480.8h10m-5 -5v10M1302.9 486.0h10m-5 -5v10M1303.0 424.5h10m-5 -5v10M1303.1 440.5h10m-5 -5v10M1303.3 464.3h10m-5 -5v10M1303.4 454.0h10m-5 -5v10M1303.5 454.3h10m-5 -5v10M1303.6 455.6h10m-5 -5v10M1303.7 476.9h10m-5 -5v10M1303.8 416.5h10m-5 -5v10M1304.0 430.9h10m-5 -5v10M1304.1 447.5h10m-5 -5v10M1304.2 402.7h10m-5 -5v10M1304.3 483.6h10m-5 -5v10M1304.4 428.1h10m-5 -5v10M1304.5 490.0h10m-5 -5v10M1304.7 506.2h10m-5 -5v10M1304.8 479.2h10m-5 -5v10M1304.9 426.3h10m-5 -5v10M1305.0 421.2h10m-5 -5v10M1305.1 503.3h10m-5 -5v10M1305.2 450.5h10m-5 -5v10M1305.4 484.8h10m-5 -5v10M1305.5 418.7h10m-5 -5v10M1305.6 500.5h10m-5 -5v10M1305.7 509.4h10m-5 -5v10M1305.8 422.1h10m-5 -5v10M1305.9 461.6h10m-5 -5v10M1306.1 437.1h10m-5 -5v10M1306.2 435.8h10m-5 -5v10M1306.3 463.1h10m-5 -5v10M1306.4 448.0h10m-5 -5v10M1306.5 496.5h10m-5 -5v10M1306.6 494.3h10m-5 -5v10M1306.8 424.8h10m-5 -5v10M1306.9 495.2h10m-5 -5v10M1307.0 487.8h10m-5 -5v10M1307.1 418.9h10m-5 -5v10M1307.2 451.8h10m-5 -5v10M1307.3 452.7h10m-5 -5v10M1307.5 471.0h10m-5 -5v10M1307.6 428.8h10m-5 -5v10M1307.7 422.1h10m-5 -5v10M1307.8 471.9h10m-5 -5v10M1307.9 397.9h10m-5 -5v10M1308.0 515.9h10m-5 -5v10M1308.2 466.1h10m-5 -5v10M1308.3 491.5h10m-5 -5v10M1308.4 408.1h10m-5 -5v10M1308.5 441.9h10m-5 -5v10M1308.6 421.1h10m-5 -5v10M1308.7 390.6h10m-5 -5v10M1308.9 506.2h10m-5 -5v10M1309.0 390.0h10m-5 -5v10M1309.1 437.6h10m-5 -5v10M1309.2 468.3h10m-5 -5v10M1309.3 476.4h10m-5 -5v10M1309.4 501.7h10m-5 -5v10M1309.5 510.4h10m-5 -5v10M1309.7 404.3h10m-5 -5v10M1309.8 493.7h10m-5 -5v10M1309.9 494.5h10m-5 -5v10M1310.0 485.3h10m-5 -5v10M1310.1 466.0h10m-5 -5v10M1310.2 508.1h10m-5 -5v10M1310.4 445.0h10m-5 -5v10M1310.5 471.2h10m-5 -5v10M1310.6 415.1h10m-5 -5v10M1310.7 444.8h10m-5 -5v10M1310.8 480.4h10m-5 -5v10M1310.9 401.0h10m-5 -5v10M1311.1 481.4h10m-5 -5v10M1311.2 428.6h10m-5 -5v10M1311.3 484.3h10m-5 -5v10M1311.4 495.2h10m-5 -5v10M1311.5 539.6h10m-5 -5v10M1311.6 494.7h10m-5 -5v10M1311.8 444.2h10m-5 -5v10M1311.9 483.3h10m-5 -5v10M1312.0 472.7h10m-5 -5v10M1312.1 526.2h10m-5 -5v10M1312.2 476.1h10m-5 -5v10M1312.3 437.2h10m-5 -5v10M1312.5 478.1h10m-5 -5v10M1312.6 434.8h10m-5 -5v10M1312.7 519.1h10m-5 -5v10M1312.8 446.1h10m-5 -5v10M1312.9 440.2h10m-5 -5v10M1313.0 496.8h10m-5 -5v10M1313.2 398.7h10m-5 -5v10M1313.3 454.1h10m-5 -5v10M1313.4 468.0h10m-5 -5v10M1313.5 429.6h10m-5 -5v10M1313.6 522.1h10m-5 -5v10M1313.7 468.4h10m-5 -5v10M1313.9 508.1h10m-5 -5v10M1314.0 422.1h10m-5 -5v10M1314.1 513.9h10m-5 -5v10M1314.2 481.7h10m-5 -5v10M1314.3 401.6h10m-5 -5v10M1314.4 526.6h10m-5 -5v10M1314.6 515.1h10m-5 -5v10M1314.7 531.7h10m-5 -5v10M1314.8 450.0h10m-5 -5v10M1314.9 428.7h10m-5 -5v10M1315.0 406.2h10m-5 -5v10M1315.1 492.2h10m-5 -5v10M1315.3 391.3h10m-5 -5v10M1315.4 499.7h10m-5 -5v10M1315.5 487.4h10m-5 -5v10M1315.6 467.9h10m-5 -5v10M1315.7 409.2h10m-5 -5v10M1315.8 449.5h10m-5 -5v10M1316.0 414.8h10m-5 -5v10M1316.1 507.8h10m-5 -5v10M1316.2 510.6h10m-5 -5v10M1316.3 475.1h10m-5 -5v10M1316.4 475.8h10m-5 -5v10M1316.5 511.9h10m-5 -5v10M1316.7 422.5h10m-5 -5v10M1316.8 449.1h10m-5 -5v10M1316.9 414.3h10m-5 -5v10M1317.0 478.4h10m-5 -5v10M1317.1 450.2h10m-5 -5v10M1317.2 525.4h10m-5 -5v10M1317.4 487.6h10m-5 -5v10M1317.5 434.8h10m-5 -5v10M1317.6 407.2h10m-5 -5v10M1317.7 471.0h10m-5 -5v10M1317.8 406.6h10m-5 -5v10M1317.9 501.2h10m-5 -5v10M1318.1 471.5h10m-5 -5v10M1318.2 447.2h10m-5 -5v10M1318.3 477.1h10m-5 -5v10M1318.4 494.2h10m-5 -5v10M1318.5 436.1h10m-5 -5v10M1318.6 471.3h10m-5 -5v10M1318.8 440.5h10m-5 -5v10M1318.9 426.5h10m-5 -5v10M1319.0 394.0h10m-5 -5v10M1319.1 457.7h10m-5 -5v10M1319.2 448.5h10m-5 -5v10M1319.3 498.9h10m-5 -5v10M1319.5 479.0h10m-5 -5v10M1319.6 497.1h10m-5 -5v10M1319.7 492.4h10m-5 -5v10M1319.8 470.7h10m-5 -5v10M1319.9 434.4h10m-5 -5v10M1320.0 449.7h10m-5 -5v10M1320.2 431.6h10m-5 -5v10M1320.3 444.9h10m-5 -5v10M1320.4 405.9h10m-5 -5v10M1320.5 418.6h10m-5 -5v10M1320.6 526.3h10m-5 -5v10M1320.7 413.3h10m-5 -5v10M1320.9 424.1h10m-5 -5v10M1321.0 447.0h10m-5 -5v10M1321.1 450.5h10m-5 -5v10M1321.2 433.1h10m-5 -5v10M1321.3 398.1h10m-5 -5v10M1321.4 454.7h10m-5 -5v10M1321.6 489.5h10m-5 -5v10M1321.7 378.5h10m-5 -5v10M1321.8 466.9h10m-5 -5v10M1321.9 453.4h10m-5 -5v10M1322.0 488.7h10m-5 -5v10M1322.1 371.8h10m-5 -5v10M1322.3 382.8h10m-5 -5v10M1322.4 458.0h10m-5 -5v10M1322.5 506.3h10m-5 -5v10M1322.6 406.0h10m-5 -5v10M1322.7 464.9h10m-5 -5v10M1322.8 397.8h10m-5 -5v10M1323.0 505.7h10m-5 -5v10M1323.1 506.1h10m-5 -5v10M1323.2 454.4h10m-5 -5v10M1323.3 436.8h10m-5 -5v10M1323.4 427.7h10m-5 -5v10M1323.5 532.8h10m-5 -5v10M1323.7 511.0h10m-5 -5v10M1323.8 508.6h10m-5 -5v10M1323.9 496.7h10m-5 -5v10M1324.0 376.3h10m-5 -5v10M1324.1 471.4h10m-5 -5v10M1324.2 452.3h10m-5 -5v10M1324.4 420.4h10m-5 -5v10M1324.5 388.4h10m-5 -5v10M1324.6 435.5h10m-5 -5v10M1324.7 448.9h10m-5 -5v10M1324.8 433.7h10m-5 -5v10M1324.9 440.4h10m-5 -5v10M1325.1 497.3h10m-5 -5v10M1325.2 482.7h10m-5 -5v10M1325.3 498.5h10m-5 -5v10M1325.4 489.1h10m-5 -5v10M1325.5 454.1h10m-5 -5v10M1325.6 384.5h10m-5 -5v10M1325.8 500.1h10m-5 -5v10M1325.9 412.8h10m-5 -5v10M1326.0 442.7h10m-5 -5v10M1326.1 472.9h10m-5 -5v10M1326.2 476.5h10m-5 -5v10M1326.3 444.2h10m-5 -5v10M1326.5 410.0h10m-5 -5v10M1326.6 438.7h10m-5 -5v10M1326.7 497.0h10m-5 -5v10M1326.8 455.0h10m-5 -5v10M1326.9 463.2h10m-5 -5v10M1327.0 460.5h10m-5 -5v10M1327.2 464.1h10m-5 -5v10M1327.3 415.8h10m-5 -5v10M1327.4 435.0h10m-5 -5v10M1327.5 522.7h10m-5 -5v10M1327.6 464.1h10m-5 -5v10M1327.7 431.1h10m-5 -5v10M1327.9 460.4h10m-5 -5v10M1328.0 463.9h10m-5 -5v10M1328.1 415.7h10m-5 -5v10M1328.2 455.7h10m-5 -5v10M1328.3 470.5h10m-5 -5v10M1328.4 406.1h10m-5 -5v10M1328.6 401.5h10m-5 -5v10M1328.7 491.1h10m-5 -5v10M1328.8 422.5h10m-5 -5v10M1328.9 449.4h10m-5 -5v10M1329.0 457.8h10m-5 -5v10M1329.1 437.8h10m-5 -5v10M1329.3 492.9h10m-5 -5v10M1329.4 477.5h10m-5 -5v10M1329.5 427.7h10m-5 -5v10M1329.6 408.3h10m-5 -5v10M1329.7 416.1h10m-5 -5v10M1329.8 494.3h10m-5 -5v10M1330.0 448.8h10m-5 -5v10M1330.1 525.8h10m-5 -5v10M1330.2 445.4h10m-5 -5v10M1330.3 494.0h10m-5 -5v10M1330.4 386.8h10m-5 -5v10M1330.5 439.3h10m-5 -5v10M1330.7 520.0h10m-5 -5v10M1330.8 484.1h10m-5 -5v10M1330.9 501.0h10m-5 -5v10M1331.0 376.3h10m-5 -5v10M1331.1 401.8h10m-5 -5v10M1331.2 478.7h10m-5 -5v10M1331.4 461.5h10m-5 -5v10M1331.5 506.4h10m-5 -5v10M1331.6 373.9h10m-5 -5v10M1331.7 466.9h10m-5 -5v10M1331.8 381.4h10m-5 -5v10M1331.9 505.7h10m-5 -5v10M1332.1 443.8h10m-5 -5v10M1332.2 440.7h10m-5 -5v10M1332.3 459.7h10m-5 -5v10M1332.4 391.0h10m-5 -5v10M1332.5 517.4h10m-5 -5v10M1332.6 462.2h10m-5 -5v10M1332.8 501.1h10m-5 -5v10M1332.9 404.3h10m-5 -5v10M1333.0 507.5h10m-5 -5v10M1333.1 438.6h10m-5 -5v10M1333.2 410.0h10m-5 -5v10M1333.3 425.9h10m-5 -5v10M1333.5 413.2h10m-5 -5v10M1333.6 414.3h10m-5 -5v10M1333.7 415.2h10m-5 -5v10M1333.8 486.9h10m-5 -5v10M1333.9 427.7h10m-5 -5v10M1334.0 453.6h10m-5 -5v10M1334.2 500.8h10m-5 -5v10M1334.3 438.1h10m-5 -5v10M1334.4 448.3h10m-5 -5v10M1334.5 490.6h10m-5 -5v10M1334.6 393.3h10m-5 -5v10M1334.7 477.7h10m-5 -5v10M1334.9 512.0h10m-5 -5v10M1335.0 380.3h10m-5 -5v10M1335.1 511.7h10m-5 -5v10M1335.2 441.8h10m-5 -5v10M1335.3 468.7h10m-5 -5v10M1335.4 457.1h10m-5 -5v10M1335.6 494.0h10m-5 -5v10M1335.7 451.6h10m-5 -5v10M1335.8 477.1h10m-5 -5v10M1335.9 436.6h10m-5 -5v10M1336.0 478.6h10m-5 -5v10M1336.1 468.9h10m-5 -5v10M1336.3 449.1h10m-5 -5v10M1336.4 470.7h10m-5 -5v10M1336.5 446.4h10m-5 -5v10M1336.6 494.5h10m-5 -5v10M1336.7 492.7h10m-5 -5v10M1336.8 528.7h10m-5 -5v10M1337.0 419.5h10m-5 -5v10M1337.1 507.9h10m-5 -5v10M1337.2 433.5h10m-5 -5v10M1337.3 461.6h10m-5 -5v10M1337.4 518.8h10m-5 -5v10M1337.5 517.5h10m-5 -5v10M1337.7 401.4h10m-5 -5v10M1337.8 454.1h10m-5 -5v10M1337.9 396.0h10m-5 -5v10M1338.0 447.9h10m-5 -5v10M1338.1 490.1h10m-5 -5v10M1338.2 446.7h10m-5 -5v10M1338.4 512.5h10m-5 -5v10M1338.5 438.3h10m-5 -5v10M1338.6 509.2h10m-5 -5v10M1338.7 426.7h10m-5 -5v10M1338.8 485.7h10m-5 -5v10M1338.9 430.4h10m-5 -5v10M1339.1 408.2h10m-5 -5v10M1339.2 449.0h10m-5 -5v10M1339.3 452.9h10m-5 -5v10M1339.4 487.0h10m-5 -5v10M1339.5 519.6h10m-5 -5v10M1339.6 466.1h10m-5 -5v10M1339.8 513.6h10m-5 -5v10M1339.9 401.3h10m-5 -5v10M1340.0 474.2h10m-5 -5v10M1340.1 432.9h10m-5 -5v10M1340.2 496.2h10m-5 -5v10M1340.3 411.3h10m-5 -5v10M1340.5 499.6h10m-5 -5v10M1340.6 451.9h10m-5 -5v10M1340.7 405.1h10m-5 -5v10M1340.8 515.0h10m-5 -5v10M1340.9 451.8h10m-5 -5v10M1341.0 473.2h10m-5 -5v10M1341.2 440.3h10m-5 -5v10M1341.3 533.9h10m-5 -5v10M1341.4 421.1h10m-5 -5v10M1341.5 424.8h10m-5 -5v10M1341.6 477.6h10m-5 -5v10M1341.7 497.1h10m-5 -5v10M1341.9 466.2h10m-5 -5v10M1342.0 472.5h10m-5 -5v10M1342.1 448.7h10m-5 -5v10M1342.2 420.6h10m-5 -5v10M1342.3 464.5h10m-5 -5v10M1342.4 411.2h10m-5 -5v10M1342.6 431.5h10m-5 -5v10M1342.7 459.8h10m-5 -5v10M1342.8 481.0h10m-5 -5v10M1342.9 383.9h10m-5 -5v10M1343.0 465.6h10m-5 -5v10M1343.1 478.5h10m-5 -5v10M1343.3 494.1h10m-5 -5v10M1343.4 517.7h10m-5 -5v10M1343.5 414.2h10m-5 -5v10M1343.6 447.6h10m-5 -5v10M1343.7 443.8h10m-5 -5v10M1343.8 511.4h10m-5 -5v10M1344.0 506.5h10m-5 -5v10M1344.1 439.1h10m-5 -5v10M1344.2 505.9h10m-5 -5v10M1344.3 435.4h10m-5 -5v10M1344.4 398.4h10m-5 -5v10M1344.5 506.5h10m-5 -5v10M1344.7 450.3h10m-5 -5v10M1344.8 417.0h10m-5 -5v10M1344.9 503.1h10m-5 -5v10M1345.0 422.8h10m-5 -5v10M1345.1 498.3h10m-5 -5v10M1345.2 406.4h10m-5 -5v10M1345.4 483.3h10m-5 -5v10M1345.5 475.1h10m-5 -5v10M1345.6 459.9h10m-5 -5v10M1345.7 427.2h10m-5 -5v10M1345.8 428.4h10m-5 -5v10M1345.9 492.3h10m-5 -5v10M1346.1 463.7h10m-5 -5v10M1346.2 484.0h10m-5 -5v10M1346.3 431.4h10m-5 -5v10M1346.4 485.7h10m-5 -5v10M1346.5 410.7h10m-5 -5v10M1346.6 487.7h10m-5 -5v10M1346.8 498.3h10m-5 -5v10M1346.9 437.2h10m-5 -5v10M1347.0 423.1h10m-5 -5v10M1347.1 418.5h10m-5 -5v10M1347.2 493.1h10m-5 -5v10M1347.3 409.0h10m-5 -5v10M1347.5 381.3h10m-5 -5v10M1347.6 448.6h10m-5 -5v10M1347.7 469.1h10m-5 -5v10M1347.8 431.9h10m-5 -5v10M1347.9 494.3h10m-5 -5v10M1348.0 439.3h10m-5 -5v10M1348.2 443.0h10m-5 -5v10M1348.3 475.6h10m-5 -5v10M1348.4 508.9h10m-5 -5v10M1348.5 475.6h10m-5 -5v10M1348.6 431.7h10m-5 -5v10M1348.7 404.7h10m-5 -5v10M1348.9 401.5h10m-5 -5v10M1349.0 468.2h10m-5 -5v10M1349.1 503.1h10m-5 -5v10M1349.2 458.6h10m-5 -5v10M1349.3 445.4h10m-5 -5v10M1349.4 419.7h10m-5 -5v10M1349.6 531.8h10m-5 -5v10M1349.7 492.9h10m-5 -5v10M1349.8 522.3h10m-5 -5v10M1349.9 463.2h10m-5 -5v10M1350.0 406.3h10m-5 -5v10M1350.1 500.6h10m-5 -5v10M1350.3 443.8h10m-5 -5v10M1350.4 459.4h10m-5 -5v10M1350.5 405.5h10m-5 -5v10M1350.6 542.7h10m-5 -5v10M1350.7 504.9h10m-5 -5v10M1350.8 442.8h10m-5 -5v10M1351.0 522.0h10m-5 -5v10M1351.1 421.1h10m-5 -5v10M1351.2 489.1h10m-5 -5v10M1351.3 400.7h10m-5 -5v10M1351.4 409.1h10m-5 -5v10M1351.5 483.9h10m-5 -5v10M1351.7 538.6h10m-5 -5v10M1351.8 460.4h10m-5 -5v10M1351.9 446.6h10m-5 -5v10M1352.0 498.2h10m-5 -5v10M1352.1 452.2h10m-5 -5v10M1352.2 497.8h10m-5 -5v10M1352.4 466.5h10m-5 -5v10M1352.5 425.3h10m-5 -5v10M1352.6 500.9h10m-5 -5v10M1352.7 530.7h10m-5 -5v10M1352.8 410.2h10m-5 -5v10M1352.9 429.6h10m-5 -5v10M1353.1 514.9h10m-5 -5v10M1353.2 475.4h10m-5 -5v10M1353.3 456.1h10m-5 -5v10M1353.4 429.1h10m-5 -5v10M1353.5 424.9h10m-5 -5v10M1353.6 493.4h10m-5 -5v10M1353.8 470.2h10m-5 -5v10M1353.9 530.4h10m-5 -5v10M1354.0 516.6h10m-5 -5v10M1354.1 489.2h10m-5 -5v10M1354.2 519.5h10m-5 -5v10M1354.3 472.9h10m-5 -5v10M1354.5 498.0h10m-5 -5v10M1354.6 500.3h10m-5 -5v10M1354.7 524.9h10m-5 -5v10M1354.8 458.5h10m-5 -5v10M1354.9 514.5h10m-5 -5v10M1355.0 528.8h10m-5 -5v10M1355.2 520.0h10m-5 -5v10M1355.3 486.8h10m-5 -5v10M1355.4 537.2h10m-5 -5v10M1355.5 399.8h10m-5 -5v10M1355.6 480.6h10m-5 -5v10M1355.7 446.9h10m-5 -5v10M1355.9 449.4h10m-5 -5v10M1356.0 426.4h10m-5 -5v10M1356.1 377.2h10m-5 -5v10M1356.2 498.0h10m-5 -5v10M1356.3 517.8h10m-5 -5v10M1356.4 518.7h10m-5 -5v10M1356.6 403.7h10m-5 -5v10M1356.7 431.2h10m-5 -5v10M1356.8 389.8h10m-5 -5v10M1356.9 503.2h10m-5 -5v10M1357.0 517.6h10m-5 -5v10M1357.1 387.5h10m-5 -5v10M1357.2 498.9h10m-5 -5v10M1357.4 421.0h10m-5 -5v10M1357.5 457.0h10m-5 -5v10M1357.6 418.5h10m-5 -5v10M1357.7 437.5h10m-5 -5v10M1357.8 447.9h10m-5 -5v10M1357.9 470.6h10m-5 -5v10M1358.1 389.4h10m-5 -5v10M1358.2 419.5h10m-5 -5v10M1358.3 477.6h10m-5 -5v10M1358.4 485.5h10m-5 -5v10M1358.5 477.5h10m-5 -5v10M1358.6 453.4h10m-5 -5v10M1358.8 435.2h10m-5 -5v10M1358.9 429.5h10m-5 -5v10M1359.0 518.4h10m-5 -5v10M1359.1 525.4h10m-5 -5v10M1359.2 457.4h10m-5 -5v10M1359.3 478.9h10m-5 -5v10M1359.5 470.5h10m-5 -5v10M1359.6 509.8h10m-5 -5v10M1359.7 519.5h10m-5 -5v10M1359.8 518.0h10m-5 -5v10M1359.9 485.8h10m-5 -5v10M1360.0 516.4h10m-5 -5v10M1360.2 451.1h10m-5 -5v10M1360.3 433.2h10m-5 -5v10M1360.4 474.6h10m-5 -5v10M1360.5 525.9h10m-5 -5v10M1360.6 421.3h10m-5 -5v10M1360.7 504.8h10m-5 -5v10M1360.9 472.9h10m-5 -5v10M1361.0 410.3h10m-5 -5v10M1361.1 516.1h10m-5 -5v10M1361.2 457.2h10m-5 -5v10M1361.3 387.2h10m-5 -5v10M1361.4 489.7h10m-5 -5v10M1361.6 490.6h10m-5 -5v10M1361.7 426.4h10m-5 -5v10M1361.8 414.7h10m-5 -5v10M1361.9 446.0h10m-5 -5v10M1362.0 459.4h10m-5 -5v10M1362.1 530.7h10m-5 -5v10M1362.3 472.3h10m-5 -5v10M1362.4 481.1h10m-5 -5v10M1362.5 492.5h10m-5 -5v10M1362.6 523.3h10m-5 -5v10M1362.7 411.7h10m-5 -5v10M1362.8 450.4h10m-5 -5v10M1363.0 511.7h10m-5 -5v10M1363.1 416.3h10m-5 -5v10M1363.2 492.6h10m-5 -5v10M1363.3 447.3h10m-5 -5v10M1363.4 479.8h10m-5 -5v10M1363.5 460.0h10m-5 -5v10M1363.7 445.7h10m-5 -5v10M1363.8 395.0h10m-5 -5v10M1363.9 443.7h10m-5 -5v10M1364.0 405.5h10m-5 -5v10M1364.1 380.4h10m-5 -5v10M1364.2 382.2h10m-5 -5v10M1364.4 503.5h10m-5 -5v10M1364.5 467.5h10m-5 -5v10M1364.6 454.0h10m-5 -5v10M1364.7 510.6h10m-5 -5v10M1364.8 503.3h10m-5 -5v10M1364.9 512.9h10m-5 -5v10M1365.1 522.7h10m-5 -5v10M1365.2 473.5h10m-5 -5v10M1365.3 492.9h10m-5 -5v10M1365.4 416.3h10m-5 -5v10M1365.5 398.7h10m-5 -5v10M1365.6 456.1h10m-5 -5v10M1365.8 412.2h10m-5 -5v10M1365.9 483.4h10m-5 -5v10M1366.0 525.2h10m-5 -5v10M1366.1 492.3h10m-5 -5v10M1366.2 399.6h10m-5 -5v10M1366.3 497.2h10m-5 -5v10M1366.5 486.2h10m-5 -5v10M1366.6 467.9h10m-5 -5v10M1366.7 497.9h10m-5 -5v10M1366.8 390.7h10m-5 -5v10M1366.9 383.3h10m-5 -5v10M1367.0 482.7h10m-5 -5v10M1367.2 419.0h10m-5 -5v10M1367.3 424.5h10m-5 -5v10M1367.4 484.9h10m-5 -5v10M1367.5 487.3h10m-5 -5v10M1367.6 474.3h10m-5 -5v10M1367.7 469.6h10m-5 -5v10M1367.9 495.0h10m-5 -5v10M1368.0 494.4h10m-5 -5v10M1368.1 449.6h10m-5 -5v10M1368.2 448.7h10m-5 -5v10M1368.3 489.8h10m-5 -5v10M1368.4 427.6h10m-5 -5v10M1368.6 490.1h10m-5 -5v10M1368.7 478.9h10m-5 -5v10M1368.8 508.8h10m-5 -5v10M1368.9 475.5h10m-5 -5v10M1369.0 425.7h10m-5 -5v10M1369.1 473.5h10m-5 -5v10M1369.3 464.7h10m-5 -5v10M1369.4 474.3h10m-5 -5v10M1369.5 466.0h10m-5 -5v10M1369.6 454.0h10m-5 -5v10M1369.7 488.1h10m-5 -5v10M1369.8 529.3h10m-5 -5v10M1370.0 420.5h10m-5 -5v10M1370.1 398.1h10m-5 -5v10M1370.2 441.0h10m-5 -5v10M1370.3 505.3h10m-5 -5v10M1370.4 423.9h10m-5 -5v10M1370.5 460.3h10m-5 -5v10M1370.7 438.6h10m-5 -5v10M1370.8 521.3h10m-5 -5v10M1370.9 446.5h10m-5 -5v10M1371.0 407.2h10m-5 -5v10M1371.1 443.5h10m-5 -5v10M1371.2 436.0h10m-5 -5v10M1371.4 404.2h10m-5 -5v10M1371.5 380.5h10m-5 -5v10M1371.6 498.5h10m-5 -5v10M1371.7 420.8h10m-5 -5v10M1371.8 390.2h10m-5 -5v10M1371.9 386.0h10m-5 -5v10M1372.1 434.2h10m-5 -5v10M1372.2 399.1h10m-5 -5v10M1372.3 393.4h10m-5 -5v10M1372.4 491.4h10m-5 -5v10M1372.5 462.6h10m-5 -5v10M1372.6 441.2h10m-5 -5v10M1372.8 487.5h10m-5 -5v10M1372.9 516.9h10m-5 -5v10M1373.0 426.7h10m-5 -5v10M1373.1 525.5h10m-5 -5v10M1373.2 430.2h10m-5 -5v10M1373.3 437.1h10m-5 -5v10M1373.5 411.6h10m-5 -5v10M1373.6 426.4h10m-5 -5v10M1373.7 451.1h10m-5 -5v10M1373.8 494.0h10m-5 -5v10M1373.9 483.9h10m-5 -5v10M1374.0 472.5h10m-5 -5v10M1374.2 498.8h10m-5 -5v10M1374.3 447.8h10m-5 -5v10M1374.4 492.7h10m-5 -5v10M1374.5 379.8h10m-5 -5v10M1374.6 465.6h10m-5 -5v10M1374.7 530.9h10m-5 -5v10M1374.9 401.3h10m-5 -5v10M1375.0 501.4h10m-5 -5v10M1375.1 436.0h10m-5 -5v10M1375.2 534.2h10m-5 -5v10M1375.3 499.4h10m-5 -5v10M1375.4 464.8h10m-5 -5v10M1375.6 439.1h10m-5 -5v10M1375.7 456.2h10m-5 -5v10M1375.8 440.9h10m-5 -5v10M1375.9 412.1h10m-5 -5v10M1376.0 490.9h10m-5 -5v10M1376.1 406.0h10m-5 -5v10M1376.3 399.4h10m-5 -5v10M1376.4 494.3h10m-5 -5v10M1376.5 494.0h10m-5 -5v10M1376.6 405.1h10m-5 -5v10M1376.7 426.2h10m-5 -5v10M1376.8 450.5h10m-5 -5v10M1377.0 411.2h10m-5 -5v10M1377.1 510.6h10m-5 -5v10M1377.2 415.9h10m-5 -5v10M1377.3 415.6h10m-5 -5v10M1377.4 410.9h10m-5 -5v10M1377.5 451.4h10m-5 -5v10M1377.7 493.8h10m-5 -5v10M1377.8 442.6h10m-5 -5v10M1377.9 429.5h10m-5 -5v10M1378.0 473.6h10m-5 -5v10M1378.1 472.9h10m-5 -5v10M1378.2 393.8h10m-5 -5v10M1378.4 380.5h10m-5 -5v10M1378.5 455.3h10m-5 -5v10M1378.6 400.1h10m-5 -5v10M1378.7 449.8h10m-5 -5v10M1378.8 503.6h10m-5 -5v10M1378.9 389.2h10m-5 -5v10M1379.1 462.5h10m-5 -5v10M1379.2 476.9h10m-5 -5v10M1379.3 474.5h10m-5 -5v10M1379.4 521.6h10m-5 -5v10M1379.5 448.7h10m-5 -5v10M1379.6 467.9h10m-5 -5v10M1379.8 509.5h10m-5 -5v10M1379.9 523.9h10m-5 -5v10M1380.0 426.0h10m-5 -5v10M1380.1 434.4h10m-5 -5v10M1380.2 521.0h10m-5 -5v10M1380.3 462.1h10m-5 -5v10M1380.5 379.5h10m-5 -5v10M1380.6 436.5h10m-5 -5v10M1380.7 480.3h10m-5 -5v10M1380.8 455.8h10m-5 -5v10M1380.9 389.5h10m-5 -5v10M1381.0 454.7h10m-5 -5v10M1381.2 527.7h10m-5 -5v10M1381.3 505.2h10m-5 -5v10M1381.4 469.1h10m-5 -5v10M1381.5 498.2h10m-5 -5v10M1381.6 505.3h10m-5 -5v10M1381.7 426.7h10m-5 -5v10M1381.9 496.8h10m-5 -5v10M1382.0 446.4h10m-5 -5v10M1382.1 423.8h10m-5 -5v10M1382.2 443.6h10m-5 -5v10M1382.3 458.4h10m-5 -5v10M1382.4 427.1h10m-5 -5v10M1382.6 467.0h10m-5 -5v10M1382.7 447.0h10m-5 -5v10M1382.8 399.1h10m-5 -5v10M1382.9 477.5h10m-5 -5v10M1383.0 497.2h10m-5 -5v10M1383.1 476.0h10m-5 -5v10M1383.3 438.9h10m-5 -5v10M1383.4 411.8h10m-5 -5v10M1383.5 465.3h10m-5 -5v10M1383.6 451.8h10m-5 -5v10M1383.7 429.7h10m-5 -5v10M1383.8 444.6h10m-5 -5v10M1384.0 427.0h10m-5 -5v10M1384.1 413.8h10m-5 -5v10M1384.2 494.5h10m-5 -5v10M1384.3 424.5h10m-5 -5v10M1384.4 455.2h10m-5 -5v10M1384.5 436.9h10m-5 -5v10M1384.7 465.0h10m-5 -5v10M1384.8 519.9h10m-5 -5v10M1384.9 434.9h10m-5 -5v10M1385.0 520.7h10m-5 -5v10M1385.1 492.9h10m-5 -5v10M1385.2 430.0h10m-5 -5v10M1385.4 412.7h10m-5 -5v10M1385.5 431.1h10m-5 -5v10M1385.6 453.5h10m-5 -5v10M1385.7 475.2h10m-5 -5v10M1385.8 431.6h10m-5 -5v10M1385.9 436.1h10m-5 -5v10M1386.1 507.2h10m-5 -5v10M1386.2 523.6h10m-5 -5v10M1386.3 491.6h10m-5 -5v10M1386.4 489.0h10m-5 -5v10M1386.5 484.6h10m-5 -5v10M1386.6 475.0h10m-5 -5v10M1386.8 437.5h10m-5 -5v10M1386.9 516.8h10m-5 -5v10M1387.0 474.4h10m-5 -5v10M1387.1 432.8h10m-5 -5v10M1387.2 398.9h10m-5 -5v10M1387.3 446.4h10m-5 -5v10M1387.5 431.5h10m-5 -5v10M1387.6 477.9h10m-5 -5v10M1387.7 448.8h10m-5 -5v10M1387.8 406.1h10m-5 -5v10M1387.9 434.7h10m-5 -5v10M1388.0 453.2h10m-5 -5v10M1388.2 453.7h10m-5 -5v10M1388.3 436.2h10m-5 -5v10M1388.4 477.8h10m-5 -5v10M1388.5 488.0h10m-5 -5v10M1388.6 443.9h10m-5 -5v10M1388.7 494.6h10m-5 -5v10M1388.9 442.3h10m-5 -5v10M1389.0 504.3h10m-5 -5v10M1389.1 437.2h10m-5 -5v10M1389.2 423.6h10m-5 -5v10M1389.3 410.5h10m-5 -5v10M1389.4 511.8h10m-5 -5v10M1389.6 519.0h10m-5 -5v10M1389.7 466.2h10m-5 -5v10M1389.8 456.3h10m-5 -5v10M1389.9 420.2h10m-5 -5v10M1390.0 443.9h10m-5 -5v10M1390.1 430.9h10m-5 -5v10M1390.3 390.7h10m-5 -5v10M1390.4 417.0h10m-5 -5v10M1390.5 415.6h10m-5 -5v10M1390.6 398.2h10m-5 -5v10M1390.7 397.9h10m-5 -5v10M1390.8 502.9h10m-5 -5v10M1391.0 473.6h10m-5 -5v10M1391.1 408.0h10m-5 -5v10M1391.2 452.3h10m-5 -5v10M1391.3 398.7h10m-5 -5v10M1391.4 507.1h10m-5 -5v10M1391.5 432.6h10m-5 -5v10M1391.7 488.8h10m-5 -5v10M1391.8 442.7h10m-5 -5v10M1391.9 480.5h10m-5 -5v10M1392.0 390.8h10m-5 -5v10M1392.1 421.4h10m-5 -5v10M1392.2 441.7h10m-5 -5v10M1392.4 392.5h10m-5 -5v10M1392.5 471.1h10m-5 -5v10M1392.6 416.7h10m-5 -5v10M1392.7 462.6h10m-5 -5v10M1392.8 451.4h10m-5 -5v10M1392.9 387.7h10m-5 -5v10M1393.1 411.4h10m-5 -5v10M1393.2 456.7h10m-5 -5v10M1393.3 499.2h10m-5 -5v10M1393.4 489.4h10m-5 -5v10M1393.5 467.3h10m-5 -5v10M1393.6 515.9h10m-5 -5v10M1393.8 486.8h10m-5 -5v10M1393.9 396.7h10m-5 -5v10M1394.0 501.8h10m-5 -5v10M1394.1 450.7h10m-5 -5v10M1394.2 429.6h10m-5 -5v10M1394.3 490.6h10m-5 -5v10M1394.5 425.3h10m-5 -5v10M1394.6 481.0h10m-5 -5v10M1394.7 515.4h10m-5 -5v10M1394.8 396.3h10m-5 -5v10M1394.9 446.3h10m-5 -5v10M1395.0 473.7h10m-5 -5v10M1395.2 540.4h10m-5 -5v10M1395.3 401.0h10m-5 -5v10M1395.4 490.3h10m-5 -5v10M1395.5 458.2h10m-5 -5v10M1395.6 470.3h10m-5 -5v10M1395.7 445.0h10m-5 -5v10M1395.9 435.6h10m-5 -5v10M1396.0 499.3h10m-5 -5v10M1396.1 487.4h10m-5 -5v10M1396.2 508.7h10m-5 -5v10M1396.3 482.9h10m-5 -5v10M1396.4 399.7h10m-5 -5v10M1396.6 477.4h10m-5 -5v10M1396.7 399.1h10m-5 -5v10M1396.8 484.5h10m-5 -5v10M1396.9 473.9h10m-5 -5v10M1397.0 463.4h10m-5 -5v10M1397.1 479.1h10m-5 -5v10M1397.3 490.4h10m-5 -5v10M1397.4 478.9h10m-5 -5v10M1397.5 400.6h10m-5 -5v10M1397.6 450.3h10m-5 -5v10M1397.7 473.5h10m-5 -5v10M1397.8 506.8h10m-5 -5v10M1398.0 424.3h10m-5 -5v10M1398.1 476.8h10m-5 -5v10M1398.2 511.2h10m-5 -5v10M1398.3 433.5h10m-5 -5v10M1398.4 454.0h10m-5 -5v10M1398.5 505.5h10m-5 -5v10M1398.7 494.2h10m-5 -5v10M1398.8 469.4h10m-5 -5v10M1398.9 455.9h10m-5 -5v10M1399.0 426.4h10m-5 -5v10M1399.1 420.8h10m-5 -5v10M1399.2 493.9h10m-5 -5v10M1399.4 523.1h10m-5 -5v10M1399.5 427.0h10m-5 -5v10M1399.6 393.4h10m-5 -5v10M1399.7 474.1h10m-5 -5v10M1399.8 502.7h10m-5 -5v10M1399.9 483.8h10m-5 -5v10M1400.1 494.9h10m-5 -5v10M1400.2 387.0h10m-5 -5v10M1400.3 466.1h10m-5 -5v10M1400.4 425.7h10m-5 -5v10M1400.5 467.6h10m-5 -5v10M1400.6 397.8h10m-5 -5v10M1400.8 453.4h10m-5 -5v10M1400.9 431.1h10m-5 -5v10M1401.0 448.8h10m-5 -5v10M1401.1 411.2h10m-5 -5v10M1401.2 405.7h10m-5 -5v10M1401.3 399.7h10m-5 -5v10M1401.5 430.3h10m-5 -5v10M1401.6 479.9h10m-5 -5v10M1401.7 456.5h10m-5 -5v10M1401.8 463.0h10m-5 -5v10M1401.9 414.7h10m-5 -5v10M1402.0 503.0h10m-5 -5v10M1402.2 462.2h10m-5 -5v10M1402.3 493.3h10m-5 -5v10M1402.4 383.4h10m-5 -5v10M1402.5 492.9h10m-5 -5v10M1402.6 530.9h10m-5 -5v10M1402.7 447.0h10m-5 -5v10M1402.9 466.2h10m-5 -5v10M1403.0 424.3h10m-5 -5v10M1403.1 390.7h10m-5 -5v10M1403.2 452.4h10m-5 -5v10M1403.3 466.6h10m-5 -5v10M1403.4 497.9h10m-5 -5v10M1403.6 400.9h10m-5 -5v10M1403.7 398.3h10m-5 -5v10M1403.8 472.4h10m-5 -5v10M1403.9 409.1h10m-5 -5v10M1404.0 430.2h10m-5 -5v10M1404.1 482.0h10m-5 -5v10M1404.3 437.5h10m-5 -5v10M1404.4 466.5h10m-5 -5v10M1404.5 479.0h10m-5 -5v10M1404.6 456.0h10m-5 -5v10M1404.7 415.3h10m-5 -5v10M1404.8 396.6h10m-5 -5v10M1404.9 475.8h10m-5 -5v10M1405.1 435.5h10m-5 -5v10M1405.2 479.2h10m-5 -5v10M1405.3 380.2h10m-5 -5v10M1405.4 452.4h10m-5 -5v10M1405.5 492.6h10m-5 -5v10M1405.6 407.5h10m-5 -5v10M1405.8 511.9h10m-5 -5v10M1405.9 488.0h10m-5 -5v10M1406.0 479.3h10m-5 -5v10M1406.1 438.4h10m-5 -5v10M1406.2 502.5h10m-5 -5v10M1406.3 505.0h10m-5 -5v10M1406.5 524.7h10m-5 -5v10M1406.6 451.3h10m-5 -5v10M1406.7 456.3h10m-5 -5v10M1406.8 457.5h10m-5 -5v10M1406.9 461.6h10m-5 -5v10M1407.0 413.8h10m-5 -5v10M1407.2 486.5h10m-5 -5v10M1407.3 406.3h10m-5 -5v10M1407.4 463.1h10m-5 -5v10M1407.5 456.1h10m-5 -5v10M1407.6 400.8h10m-5 -5v10M1407.7 465.3h10m-5 -5v10M1407.9 451.5h10m-5 -5v10M1408.0 411.8h10m-5 -5v10M1408.1 425.9h10m-5 -5v10M1408.2 512.9h10m-5 -5v10M1408.3 471.7h10m-5 -5v10M1408.4 459.8h10m-5 -5v10M1408.6 458.4h10m-5 -5v10M1408.7 430.0h10m-5 -5v10M1408.8 438.8h10m-5 -5v10M1408.9 432.6h10m-5 -5v10M1409.0 513.2h10m-5 -5v10M1409.1 447.1h10m-5 -5v10M1409.3 506.0h10m-5 -5v10M1409.4 507.3h10m-5 -5v10M1409.5 483.2h10m-5 -5v10M1409.6 477.1h10m-5 -5v10M1409.7 486.0h10m-5 -5v10M1409.8 452.1h10m-5 -5v10M1410.0 432.4h10m-5 -5v10M1410.1 437.9h10m-5 -5v10M1410.2 515.1h10m-5 -5v10M1410.3 484.9h10m-5 -5v10M1410.4 429.0h10m-5 -5v10M1410.5 479.7h10m-5 -5v10M1410.7 432.8h10m-5 -5v10M1410.8 430.2h10m-5 -5v10M1410.9 454.7h10m-5 -5v10M1411.0 411.8h10m-5 -5v10M1411.1 450.4h10m-5 -5v10M1411.2 420.7h10m-5 -5v10M1411.4 478.6h10m-5 -5v10M1411.5 481.5h10m-5 -5v10M1411.6 520.2h10m-5 -5v10M1411.7 531.4h10m-5 -5v10M1411.8 428.3h10m-5 -5v10M1411.9 446.7h10m-5 -5v10M1412.1 468.2h10m-5 -5v10M1412.2 508.4h10m-5 -5v10M1412.3 419.0h10m-5 -5v10M1412.4 475.7h10m-5 -5v10M1412.5 522.0h10m-5 -5v10M1412.6 435.4h10m-5 -5v10M1412.8 460.7h10m-5 -5v10M1412.9 441.5h10m-5 -5v10M1413.0 420.3h10m-5 -5v10M1413.1 451.2h10m-5 -5v10M1413.2 410.9h10m-5 -5v10M1413.3 453.9h10m-5 -5v10M1413.5 531.8h10m-5 -5v10M1413.6 428.9h10m-5 -5v10M1413.7 443.5h10m-5 -5v10M1413.8 475.1h10m-5 -5v10M1413.9 460.0h10m-5 -5v10M1414.0 493.0h10m-5 -5v10M1414.2 486.7h10m-5 -5v10M1414.3 381.6h10m-5 -5v10M1414.4 408.4h10m-5 -5v10M1414.5 496.8h10m-5 -5v10M1414.6 418.2h10m-5 -5v10M1414.7 451.4h10m-5 -5v10M1414.9 438.4h10m-5 -5v10M1415.0 397.4h10m-5 -5v10M1415.1 394.2h10m-5 -5v10M1415.2 446.2h10m-5 -5v10M1415.3 498.2h10m-5 -5v10M1415.4 428.0h10m-5 -5v10M1415.6 468.7h10m-5 -5v10M1415.7 515.4h10m-5 -5v10M1415.8 431.5h10m-5 -5v10M1415.9 508.5h10m-5 -5v10M1416.0 485.7h10m-5 -5v10M1416.1 503.8h10m-5 -5v10M1416.3 409.1h10m-5 -5v10M1416.4 468.3h10m-5 -5v10M1416.5 519.9h10m-5 -5v10M1416.6 446.8h10m-5 -5v10M1416.7 482.2h10m-5 -5v10M1416.8 405.0h10m-5 -5v10M1417.0 439.3h10m-5 -5v10M1417.1 478.6h10m-5 -5v10M1417.2 493.9h10m-5 -5v10M1417.3 493.6h10m-5 -5v10M1417.4 432.5h10m-5 -5v10M1417.5 393.4h10m-5 -5v10M1417.7 421.8h10m-5 -5v10M1417.8 433.5h10m-5 -5v10M1417.9 482.3h10m-5 -5v10M1418.0 416.8h10m-5 -5v10M1418.1 495.3h10m-5 -5v10M1418.2 428.0h10m-5 -5v10M1418.4 514.9h10m-5 -5v10M1418.5 462.3h10m-5 -5v10M1418.6 418.8h10m-5 -5v10M1418.7 439.0h10m-5 -5v10M1418.8 385.0h10m-5 -5v10M1418.9 422.7h10m-5 -5v10M1419.1 442.6h10m-5 -5v10M1419.2 400.1h10m-5 -5v10M1419.3 400.0h10m-5 -5v10M1419.4 473.3h10m-5 -5v10M1419.5 515.3h10m-5 -5v10M1419.6 411.7h10m-5 -5v10M1419.8 443.7h10m-5 -5v10M1419.9 460.1h10m-5 -5v10M1420.0 421.1h10m-5 -5v10M1420.1 508.1h10m-5 -5v10M1420.2 466.1h10m-5 -5v10M1420.3 410.6h10m-5 -5v10M1420.5 458.1h10m-5 -5v10M1420.6 531.6h10m-5 -5v10M1420.7 514.5h10m-5 -5v10M1420.8 438.2h10m-5 -5v10M1420.9 526.8h10m-5 -5v10M1421.0 416.0h10m-5 -5v10M1421.2 439.8h10m-5 -5v10M1421.3 513.6h10m-5 -5v10M1421.4 387.9h10m-5 -5v10M1421.5 398.0h10m-5 -5v10M1421.6 410.6h10m-5 -5v10M1421.7 475.0h10m-5 -5v10M1421.9 494.0h10m-5 -5v10M1422.0 407.3h10m-5 -5v10M1422.1 407.7h10m-5 -5v10M1422.2 485.4h10m-5 -5v10M1422.3 405.6h10m-5 -5v10M1422.4 433.4h10m-5 -5v10M1422.6 479.1h10m-5 -5v10M1422.7 467.2h10m-5 -5v10M1422.8 450.7h10m-5 -5v10M1422.9 455.7h10m-5 -5v10M1423.0 421.3h10m-5 -5v10M1423.1 421.8h10m-5 -5v10M1423.3 446.0h10m-5 -5v10M1423.4 457.6h10m-5 -5v10M1423.5 492.0h10m-5 -5v10M1423.6 431.6h10m-5 -5v10M1423.7 391.8h10m-5 -5v10M1423.8 456.8h10m-5 -5v10M1424.0 528.7h10m-5 -5v10M1424.1 448.0h10m-5 -5v10M1424.2 423.7h10m-5 -5v10M1424.3 446.1h10m-5 -5v10M1424.4 510.6h10m-5 -5v10M1424.5 517.8h10m-5 -5v10M1424.7 495.7h10m-5 -5v10M1424.8 510.5h10m-5 -5v10M1424.9 431.3h10m-5 -5v10M1425.0 493.1h10m-5 -5v10M1425.1 443.5h10m-5 -5v10M1425.2 463.3h10m-5 -5v10M1425.4 461.3h10m-5 -5v10M1425.5 407.1h10m-5 -5v10M1425.6 405.6h10m-5 -5v10M1425.7 429.0h10m-5 -5v10M1425.8 390.9h10m-5 -5v10M1425.9 470.1h10m-5 -5v10M1426.1 421.5h10m-5 -5v10M1426.2 429.6h10m-5 -5v10M1426.3 473.1h10m-5 -5v10M1426.4 444.1h10m-5 -5v10M1426.5 495.0h10m-5 -5v10M1426.6 498.0h10m-5 -5v10M1426.8 450.9h10m-5 -5v10M1426.9 402.6h10m-5 -5v10M1427.0 485.9h10m-5 -5v10M1427.1 410.6h10m-5 -5v10M1427.2 401.5h10m-5 -5v10M1427.3 484.3h10m-5 -5v10M1427.5 379.5h10m-5 -5v10M1427.6 512.7h10m-5 -5v10M1427.7 403.5h10m-5 -5v10M1427.8 414.6h10m-5 -5v10M1427.9 476.0h10m-5 -5v10M1428.0 463.6h10m-5 -5v10M1428.2 492.9h10m-5 -5v10M1428.3 494.7h10m-5 -5v10M1428.4 466.9h10m-5 -5v10M1428.5 404.4h10m-5 -5v10M1428.6 504.0h10m-5 -5v10M1428.7 504.1h10m-5 -5v10M1428.9 475.2h10m-5 -5v10M1429.0 442.8h10m-5 -5v10M1429.1 526.4h10m-5 -5v10M1429.2 420.9h10m-5 -5v10M1429.3 468.0h10m-5 -5v10M1429.4 501.0h10m-5 -5v10M1429.6 426.2h10m-5 -5v10M1429.7 452.8h10m-5 -5v10M1429.8 424.7h10m-5 -5v10M1429.9 436.7h10m-5 -5v10M1430.0 470.4h10m-5 -5v10M1430.1 487.9h10m-5 -5v10M1430.3 474.2h10m-5 -5v10M1430.4 434.4h10m-5 -5v10M1430.5 475.8h10m-5 -5v10M1430.6 421.1h10m-5 -5v10M1430.7 477.6h10m-5 -5v10M1430.8 500.8h10m-5 -5v10M1431.0 502.7h10m-5 -5v10M1431.1 460.5h10m-5 -5v10M1431.2 473.9h10m-5 -5v10M1431.3 395.7h10m-5 -5v10M1431.4 392.4h10m-5 -5v10M1431.5 466.3h10m-5 -5v10M1431.7 396.9h10m-5 -5v10M1431.8 418.7h10m-5 -5v10M1431.9 509.7h10m-5 -5v10M1432.0 460.5h10m-5 -5v10M1432.1 446.1h10m-5 -5v10M1432.2 469.6h10m-5 -5v10M1432.4 428.0h10m-5 -5v10M1432.5 461.5h10m-5 -5v10M1432.6 428.6h10m-5 -5v10M1432.7 467.2h10m-5 -5v10M1432.8 384.5h10m-5 -5v10M1432.9 440.6h10m-5 -5v10M1433.1 510.4h10m-5 -5v10M1433.2 481.9h10m-5 -5v10M1433.3 494.9h10m-5 -5v10M1433.4 427.1h10m-5 -5v10M1433.5 481.8h10m-5 -5v10M1433.6 422.6h10m-5 -5v10M1433.8 443.1h10m-5 -5v10M1433.9 509.4h10m-5 -5v10M1434.0 410.1h10m-5 -5v10M1434.1 387.5h10m-5 -5v10M1434.2 379.5h10m-5 -5v10M1434.3 468.4h10m-5 -5v10M1434.5 475.6h10m-5 -5v10M1434.6 421.4h10m-5 -5v10M1434.7 497.1h10m-5 -5v10M1434.8 394.0h10m-5 -5v10M1434.9 417.0h10m-5 -5v10M1435.0 450.0h10m-5 -5v10M1435.2 460.1h10m-5 -5v10M1435.3 408.9h10m-5 -5v10M1435.4 506.0h10m-5 -5v10M1435.5 512.9h10m-5 -5v10M1435.6 386.4h10m-5 -5v10M1435.7 401.5h10m-5 -5v10M1435.9 518.0h10m-5 -5v10M1436.0 466.0h10m-5 -5v10M1436.1 440.9h10m-5 -5v10M1436.2 520.0h10m-5 -5v10M1436.3 418.4h10m-5 -5v10M1436.4 431.8h10m-5 -5v10M1436.6 488.7h10m-5 -5v10M1436.7 382.5h10m-5 -5v10M1436.8 522.2h10m-5 -5v10M1436.9 457.0h10m-5 -5v10M1437.0 402.6h10m-5 -5v10M1437.1 422.9h10m-5 -5v10M1437.3 445.8h10m-5 -5v10M1437.4 408.3h10m-5 -5v10M1437.5 423.9h10m-5 -5v10M1437.6 462.5h10m-5 -5v10M1437.7 474.1h10m-5 -5v10M1437.8 445.6h10m-5 -5v10M1438.0 504.9h10m-5 -5v10M1438.1 413.6h10m-5 -5v10M1438.2 482.4h10m-5 -5v10M1438.3 509.8h10m-5 -5v10M1438.4 389.7h10m-5 -5v10M1438.5 500.5h10m-5 -5v10M1438.7 401.4h10m-5 -5v10M1438.8 411.1h10m-5 -5v10M1438.9 415.2h10m-5 -5v10M1439.0 450.8h10m-5 -5v10M1439.1 499.8h10m-5 -5v10M1439.2 391.5h10m-5 -5v10M1439.4 424.9h10m-5 -5v10M1439.5 466.1h10m-5 -5v10M1439.6 493.7h10m-5 -5v10M1439.7 518.7h10m-5 -5v10M1439.8 419.3h10m-5 -5v10M1439.9 466.7h10m-5 -5v10M1440.1 482.3h10m-5 -5v10M1440.2 473.7h10m-5 -5v10M1440.3 432.3h10m-5 -5v10M1440.4 394.3h10m-5 -5v10M1440.5 436.2h10m-5 -5v10M1440.6 446.9h10m-5 -5v10M1440.8 461.0h10m-5 -5v10M1440.9 481.0h10m-5 -5v10M1441.0 456.3h10m-5 -5v10M1441.1 415.4h10m-5 -5v10M1441.2 498.4h10m-5 -5v10M1441.3 476.4h10m-5 -5v10M1441.5 398.1h10m-5 -5v10M1441.6 439.6h10m-5 -5v10M1441.7 482.2h10m-5 -5v10M1441.8 508.4h10m-5 -5v10M1441.9 467.7h10m-5 -5v10M1442.0 505.0h10m-5 -5v10M1442.2 452.4h10m-5 -5v10M1442.3 492.6h10m-5 -5v10M1442.4 468.0h10m-5 -5v10M1442.5 415.6h10m-5 -5v10M1442.6 511.1h10m-5 -5v10M1442.7 449.5h10m-5 -5v10M1442.9 449.8h10m-5 -5v10M1443.0 431.8h10m-5 -5v10M1443.1 424.7h10m-5 -5v10M1443.2 521.1h10m-5 -5v10M1443.3 426.8h10m-5 -5v10M1443.4 467.9h10m-5 -5v10M1443.6 395.3h10m-5 -5v10M1443.7 406.9h10m-5 -5v10M1443.8 507.4h10m-5 -5v10M1443.9 470.3h10m-5 -5v10M1444.0 387.8h10m-5 -5v10M1444.1 469.1h10m-5 -5v10M1444.3 447.4h10m-5 -5v10M1444.4 403.8h10m-5 -5v10M1444.5 481.4h10m-5 -5v10M1444.6 480.9h10m-5 -5v10M1444.7 475.7h10m-5 -5v10M1444.8 416.2h10m-5 -5v10M1445.0 521.4h10m-5 -5v10M1445.1 434.0h10m-5 -5v10M1445.2 428.5h10m-5 -5v10M1445.3 393.3h10m-5 -5v10M1445.4 458.0h10m-5 -5v10M1445.5 503.6h10m-5 -5v10M1445.7 465.0h10m-5 -5v10M1445.8 515.3h10m-5 -5v10M1445.9 484.8h10m-5 -5v10M1446.0 406.2h10m-5 -5v10M1446.1 497.5h10m-5 -5v10M1446.2 505.2h10m-5 -5v10M1446.4 521.3h10m-5 -5v10M1446.5 447.1h10m-5 -5v10M1446.6 472.6h10m-5 -5v10M1446.7 421.7h10m-5 -5v10M1446.8 503.9h10m-5 -5v10M1446.9 428.4h10m-5 -5v10M1447.1 499.8h10m-5 -5v10M1447.2 413.0h10m-5 -5v10M1447.3 494.3h10m-5 -5v10M1447.4 468.2h10m-5 -5v10M1447.5 416.9h10m-5 -5v10M1447.6 492.7h10m-5 -5v10M1447.8 430.2h10m-5 -5v10M1447.9 405.6h10m-5 -5v10M1448.0 486.0h10m-5 -5v10M1448.1 442.0h10m-5 -5v10M1448.2 475.4h10m-5 -5v10M1448.3 468.3h10m-5 -5v10M1448.5 473.6h10m-5 -5v10M1448.6 453.1h10m-5 -5v10M1448.7 412.8h10m-5 -5v10M1448.8 422.2h10m-5 -5v10M1448.9 490.3h10m-5 -5v10M1449.0 438.2h10m-5 -5v10M1449.2 514.3h10m-5 -5v10M1449.3 510.4h10m-5 -5v10M1449.4 475.8h10m-5 -5v10M1449.5 438.9h10m-5 -5v10M1449.6 463.6h10m-5 -5v10M1449.7 533.9h10m-5 -5v10M1449.9 443.1h10m-5 -5v10M1450.0 478.1h10m-5 -5v10M1450.1 464.3h10m-5 -5v10M1450.2 426.8h10m-5 -5v10M1450.3 420.7h10m-5 -5v10M1450.4 423.5h10m-5 -5v10M1450.6 493.1h10m-5 -5v10M1450.7 464.2h10m-5 -5v10M1450.8 514.3h10m-5 -5v10M1450.9 417.7h10m-5 -5v10M1451.0 424.1h10m-5 -5v10M1451.1 428.3h10m-5 -5v10M1451.3 393.3h10m-5 -5v10M1451.4 413.2h10m-5 -5v10M1451.5 417.7h10m-5 -5v10M1451.6 506.6h10m-5 -5v10M1451.7 494.3h10m-5 -5v10M1451.8 484.7h10m-5 -5v10M1452.0 401.5h10m-5 -5v10M1452.1 511.1h10m-5 -5v10M1452.2 469.6h10m-5 -5v10M1452.3 431.1h10m-5 -5v10M1452.5 611.1h10m-5 -5v10M972.4 353.9h10m-5 -5v10M1050.9 355.0h10m-5 -5v10M1041.7 358.7h10m-5 -5v10M1036.9 362.4h10m-5 -5v10M943.8 363.6h10m-5 -5v10M947.9 367.2h10m-5 -5v10M958.7 366.0h10m-5 -5v10M972.9 367.4h10m-5 -5v10M974.2 369.2h10m-5 -5v10M988.4 367.4h10m-5 -5v10M989.8 371.5h10m-5 -5v10M1014.3 369.2h10m-5 -5v10M1023.2 367.9h10m-5 -5v10M1030.8 368.8h10m-5 -5v10M1036.5 368.3h10m-5 -5v10M1055.7 369.2h10m-5 -5v10M1043.5 376.7h10m-5 -5v10M981.1 375.2h10m-5 -5v10M970.1 375.2h10m-5 -5v10M941.3 376.1h10m-5 -5v10M959.1 375.2h10m-5 -5v10M962.3 379.3h10m-5 -5v10M927.5 383.4h10m-5 -5v10M930.7 380.2h10m-5 -5v10M935.8 382.0h10m-5 -5v10M939.0 387.1h10m-5 -5v10M950.0 381.1h10m-5 -5v10M955.5 383.0h10m-5 -5v10M1004.0 377.5h10m-5 -5v10M993.0 378.4h10m-5 -5v10M1019.6 383.9h10m-5 -5v10M1023.7 383.9h10m-5 -5v10M1038.8 385.3h10m-5 -5v10M1027.8 386.6h10m-5 -5v10M971.0 385.7h10m-5 -5v10M932.1 390.3h10m-5 -5v10M1030.5 393.0h10m-5 -5v10M1107.8 353.9h10m-5 -5v10M1138.5 354.4h10m-5 -5v10M1186.6 350.5h10m-5 -5v10M1077.6 364.5h10m-5 -5v10M1089.5 370.3h10m-5 -5v10M1139.9 361.6h10m-5 -5v10M1140.8 366.9h10m-5 -5v10M1142.6 372.2h10m-5 -5v10M1123.4 372.0h10m-5 -5v10M1151.8 367.9h10m-5 -5v10M1159.6 366.8h10m-5 -5v10M1168.7 366.5h10m-5 -5v10M1184.5 369.2h10m-5 -5v10M1194.6 366.9h10m-5 -5v10M1066.6 379.5h10m-5 -5v10M1079.0 377.5h10m-5 -5v10M1079.9 381.4h10m-5 -5v10M1106.4 375.5h10m-5 -5v10M1165.0 376.1h10m-5 -5v10M1179.2 379.3h10m-5 -5v10M1174.2 377.9h10m-5 -5v10M1195.3 380.2h10m-5 -5v10M1057.9 369.2h10m-5 -5v10M1088.1 386.4h10m-5 -5v10M1122.0 379.3h10m-5 -5v10M1133.0 379.3h10m-5 -5v10M1155.4 377.5h10m-5 -5v10M1067.1 384.3h10m-5 -5v10M1107.4 380.2h10m-5 -5v10M1111.9 382.0h10m-5 -5v10M1154.1 388.5h10m-5 -5v10M1126.6 383.9h10m-5 -5v10M1278.3 354.1h10m-5 -5v10M1320.2 356.9h10m-5 -5v10M1330.7 356.6h10m-5 -5v10M1220.6 363.6h10m-5 -5v10M1221.0 369.7h10m-5 -5v10M1248.3 362.5h10m-5 -5v10M1248.1 368.8h10m-5 -5v10M1259.3 366.8h10m-5 -5v10M1290.4 367.9h10m-5 -5v10M1318.3 363.9h10m-5 -5v10M1326.6 371.1h10m-5 -5v10M1333.4 370.6h10m-5 -5v10M1318.8 370.6h10m-5 -5v10M1200.7 366.5h10m-5 -5v10M1205.7 367.4h10m-5 -5v10M1210.7 366.8h10m-5 -5v10M1206.2 372.0h10m-5 -5v10M1274.4 372.0h10m-5 -5v10M1282.6 372.9h10m-5 -5v10M1283.1 376.1h10m-5 -5v10M1290.4 378.4h10m-5 -5v10M1300.5 375.5h10m-5 -5v10M1304.6 376.6h10m-5 -5v10M1319.2 378.2h10m-5 -5v10M1248.7 372.4h10m-5 -5v10M1246.9 374.7h10m-5 -5v10M1260.2 375.2h10m-5 -5v10M1264.8 375.6h10m-5 -5v10M1229.5 377.0h10m-5 -5v10M1234.5 378.4h10m-5 -5v10M1208.4 380.2h10m-5 -5v10M1215.3 379.3h10m-5 -5v10M1308.7 383.9h10m-5 -5v10M1296.8 389.4h10m-5 -5v10M1335.3 380.2h10m-5 -5v10M1254.7 383.0h10m-5 -5v10M1226.3 382.0h10m-5 -5v10M1268.4 377.5h10m-5 -5v10M1367.5 351.3h10m-5 -5v10M1402.0 353.7h10m-5 -5v10M1357.6 359.0h10m-5 -5v10M1412.5 362.4h10m-5 -5v10M1352.6 365.4h10m-5 -5v10M1354.4 371.5h10m-5 -5v10M1368.6 369.2h10m-5 -5v10M1382.8 367.2h10m-5 -5v10M1402.5 365.1h10m-5 -5v10M1408.4 366.9h10m-5 -5v10M1400.2 372.4h10m-5 -5v10M1402.9 376.6h10m-5 -5v10M1407.5 371.5h10m-5 -5v10M1421.2 374.5h10m-5 -5v10M1434.5 375.2h10m-5 -5v10M1440.5 377.0h10m-5 -5v10M1442.8 377.5h10m-5 -5v10M1375.9 372.9h10m-5 -5v10M1361.7 374.9h10m-5 -5v10M1388.7 372.9h10m-5 -5v10M1391.0 375.2h10m-5 -5v10M1370.4 380.2h10m-5 -5v10M1347.5 381.1h10m-5 -5v10M1391.0 383.0h10m-5 -5v10M1383.7 384.8h10m-5 -5v10M1413.9 383.4h10m-5 -5v10M1429.5 387.5h10m-5 -5v10M1448.2 386.4h10m-5 -5v10M1451.5 390.3h10m-5 -5v10M1402.5 388.9h10m-5 -5v10M1392.9 392.6h10m-5 -5v10M1368.1 384.8h10m-5 -5v10M1344.3 386.6h10m-5 -5v10M1452.4 396.2h10m-5 -5v10M935.6 562.2h10m-5 -5v10M975.1 542.0h10m-5 -5v10M975.1 544.5h10m-5 -5v10M983.4 539.5h10m-5 -5v10M965.5 535.3h10m-5 -5v10M932.4 532.2h10m-5 -5v10M943.1 533.8h10m-5 -5v10M942.2 530.6h10m-5 -5v10M1012.7 540.6h10m-5 -5v10M1013.1 543.4h10m-5 -5v10M1025.5 541.4h10m-5 -5v10M1049.3 556.2h10m-5 -5v10M1049.8 554.4h10m-5 -5v10M1045.2 551.2h10m-5 -5v10M1039.7 542.9h10m-5 -5v10M1044.7 543.4h10m-5 -5v10M1048.9 543.4h10m-5 -5v10M1055.3 543.4h10m-5 -5v10M1002.6 536.5h10m-5 -5v10M1015.0 536.5h10m-5 -5v10M1029.6 537.0h10m-5 -5v10M986.1 534.2h10m-5 -5v10M981.1 531.5h10m-5 -5v10M962.3 528.7h10m-5 -5v10M928.0 525.5h10m-5 -5v10M995.7 529.2h10m-5 -5v10M1005.4 526.4h10m-5 -5v10M1043.4 533.3h10m-5 -5v10M1032.4 524.2h10m-5 -5v10M970.1 526.9h10m-5 -5v10M1023.2 526.9h10m-5 -5v10M957.3 518.7h10m-5 -5v10M941.7 525.1h10m-5 -5v10M1072.3 552.4h10m-5 -5v10M1080.6 546.4h10m-5 -5v10M1091.6 545.2h10m-5 -5v10M1098.7 542.9h10m-5 -5v10M1101.0 544.8h10m-5 -5v10M1104.6 545.5h10m-5 -5v10M1063.4 545.2h10m-5 -5v10M1059.7 542.5h10m-5 -5v10M1061.6 538.6h10m-5 -5v10M1075.1 533.6h10m-5 -5v10M1066.2 530.4h10m-5 -5v10M1138.9 551.6h10m-5 -5v10M1139.4 548.4h10m-5 -5v10M1135.7 543.6h10m-5 -5v10M1146.9 543.6h10m-5 -5v10M1124.3 541.1h10m-5 -5v10M1121.1 537.4h10m-5 -5v10M1186.1 547.5h10m-5 -5v10M1180.6 543.4h10m-5 -5v10M1189.3 539.5h10m-5 -5v10M1162.8 537.4h10m-5 -5v10M1101.0 533.3h10m-5 -5v10M1111.0 533.3h10m-5 -5v10M1104.6 528.6h10m-5 -5v10M1095.5 528.3h10m-5 -5v10M1075.3 528.6h10m-5 -5v10M1166.9 531.5h10m-5 -5v10M1157.7 530.6h10m-5 -5v10M1136.7 536.1h10m-5 -5v10M1132.1 534.7h10m-5 -5v10M1144.0 530.6h10m-5 -5v10M1192.5 534.2h10m-5 -5v10M1180.6 532.4h10m-5 -5v10M1075.3 525.1h10m-5 -5v10M1123.8 528.7h10m-5 -5v10M1148.6 526.0h10m-5 -5v10M1213.0 555.3h10m-5 -5v10M1243.0 559.7h10m-5 -5v10M1261.6 556.9h10m-5 -5v10M1308.5 562.4h10m-5 -5v10M1336.6 561.2h10m-5 -5v10M1209.4 540.5h10m-5 -5v10M1221.5 540.6h10m-5 -5v10M1237.7 543.6h10m-5 -5v10M1245.8 548.9h10m-5 -5v10M1255.6 546.6h10m-5 -5v10M1268.0 549.3h10m-5 -5v10M1291.6 542.0h10m-5 -5v10M1291.6 548.9h10m-5 -5v10M1291.6 552.1h10m-5 -5v10M1309.2 553.5h10m-5 -5v10M1324.7 552.4h10m-5 -5v10M1226.3 529.2h10m-5 -5v10M1237.3 531.9h10m-5 -5v10M1249.2 535.1h10m-5 -5v10M1262.5 539.7h10m-5 -5v10M1265.7 543.4h10m-5 -5v10M1270.3 535.1h10m-5 -5v10M1273.5 529.7h10m-5 -5v10M1280.3 529.2h10m-5 -5v10M1300.5 535.6h10m-5 -5v10M1305.5 539.7h10m-5 -5v10M1311.9 541.6h10m-5 -5v10M1319.7 542.5h10m-5 -5v10M1327.5 538.3h10m-5 -5v10M1323.4 547.0h10m-5 -5v10M1316.0 530.6h10m-5 -5v10M1197.9 533.8h10m-5 -5v10M1208.9 528.7h10m-5 -5v10M1259.3 529.7h10m-5 -5v10M1346.6 565.4h10m-5 -5v10M1357.3 555.3h10m-5 -5v10M1363.6 558.5h10m-5 -5v10M1376.6 545.7h10m-5 -5v10M1376.6 550.7h10m-5 -5v10M1387.4 547.5h10m-5 -5v10M1389.6 548.4h10m-5 -5v10M1401.6 551.9h10m-5 -5v10M1415.0 548.9h10m-5 -5v10M1415.0 551.9h10m-5 -5v10M1426.3 551.9h10m-5 -5v10M1450.5 552.4h10m-5 -5v10M1450.5 557.9h10m-5 -5v10M1439.4 542.3h10m-5 -5v10M1445.5 540.2h10m-5 -5v10M1451.9 535.3h10m-5 -5v10M1398.3 544.5h10m-5 -5v10M1379.3 537.4h10m-5 -5v10M1365.8 531.9h10m-5 -5v10M1365.8 537.2h10m-5 -5v10M1365.8 542.0h10m-5 -5v10M1341.6 547.5h10m-5 -5v10M1341.6 549.3h10m-5 -5v10M1343.0 539.7h10m-5 -5v10M1412.1 537.9h10m-5 -5v10M1417.6 534.7h10m-5 -5v10M1424.4 534.7h10m-5 -5v10M1448.2 527.4h10m-5 -5v10M1342.5 531.5h10m-5 -5v10M1365.4 525.5h10m-5 -5v10M1390.1 533.3h10m-5 -5v10M1396.5 536.1h10m-5 -5v10M1437.7 532.4h10m-5 -5v10M1428.6 526.0h10m-5 -5v10M1356.2 522.3h10m-5 -5v10" stroke="#ff0000" stroke-width="1.0" fill="none"/>
<path fill-rule="evenodd" fill="#000" d="M126.07 34.97H762.96V298.7H126.07ZM127.62 36.47V296.9H761.12V36.47Z"/>
<path d="M232.85 297.9v-6.67M232.85 35.95v6.67M338.8 297.9v-6.67M338.8 35.95v6.67M444.75 297.9v-6.67M444.75 35.95v6.67M550.7 297.9v-6.67M550.7 35.95v6.67M656.65 297.9v-6.67M656.65 35.95v6.67" stroke="#000" stroke-width="1.0" fill="none"/>
<path d="M126.9 260.43h6.67M762 260.43h-6.67M126.9 222.96h6.67M762 222.96h-6.67M126.9 185.49h6.67M762 185.49h-6.67M126.9 148.02h6.67M762 148.02h-6.67M126.9 110.55h6.67M762 110.55h-6.67M126.9 73.08h6.67M762 73.08h-6.67" stroke="#000" stroke-width="1.0" fill="none"/>
<text x="119.7" y="305.4" font-size="26.67" text-anchor="end">−0.70</text>
<text x="119.7" y="267.93" font-size="26.67" text-anchor="end">−0.68</text>
<text x="119.7" y="230.46" font-size="26.67" text-anchor="end">−0.66</text>
<text x="119.7" y="192.99" font-size="26.67" text-anchor="end">−0.64</text>
<text x="119.7" y="155.52" font-size="26.67" text-anchor="end">−0.62</text>
<text x="119.7" y="118.05" font-size="26.67" text-anchor="end">−0.60</text>
<text x="119.7" y="80.58" font-size="26.67" text-anchor="end">−0.58</text>
<text x="23.4" y="167.32" font-size="26.67" text-anchor="middle" transform="rotate(-90 23.4 167.32)">desync -1000 (µs)</text>
<text transform="translate(444.45 28.2) scale(1 1.03)" font-size="32" text-anchor="middle" stroke="none">Carrier</text>
<path fill-rule="evenodd" fill="#000" d="M888.2 34.93H1525.79V298.7H888.2ZM890 36.43V296.9H1523.89V36.43Z"/>
<path d="M995.17 297.9v-6.67M995.17 35.95v6.67M1101.04 297.9v-6.67M1101.04 35.95v6.67M1206.91 297.9v-6.67M1206.91 35.95v6.67M1312.78 297.9v-6.67M1312.78 35.95v6.67M1418.65 297.9v-6.67M1418.65 35.95v6.67" stroke="#000" stroke-width="1.0" fill="none"/>
<path d="M889.3 260.43h6.67M1524.7 260.43h-6.67M889.3 222.96h6.67M1524.7 222.96h-6.67M889.3 185.49h6.67M1524.7 185.49h-6.67M889.3 148.02h6.67M1524.7 148.02h-6.67M889.3 110.55h6.67M1524.7 110.55h-6.67M889.3 73.08h6.67M1524.7 73.08h-6.67" stroke="#000" stroke-width="1.0" fill="none"/>
<text x="882.1" y="305.4" font-size="26.67" text-anchor="end">−0.70</text>
<text x="882.1" y="267.93" font-size="26.67" text-anchor="end">−0.68</text>
<text x="882.1" y="230.46" font-size="26.67" text-anchor="end">−0.66</text>
<text x="882.1" y="192.99" font-size="26.67" text-anchor="end">−0.64</text>
<text x="882.1" y="155.52" font-size="26.67" text-anchor="end">−0.62</text>
<text x="882.1" y="118.05" font-size="26.67" text-anchor="end">−0.60</text>
<text x="882.1" y="80.58" font-size="26.67" text-anchor="end">−0.58</text>
<text x="785.8" y="167.32" font-size="26.67" text-anchor="middle" transform="rotate(-90 785.8 167.32)">desync -1000 (µs)</text>
<text transform="translate(1207 28.2) scale(1 1.03)" font-size="32" text-anchor="middle" stroke="none">Code</text>
<path fill-rule="evenodd" fill="#000" d="M126.07 349.18H762.96V613.86H126.07ZM127.62 350.78V612.06H761.12V350.78Z"/>
<path d="M232.85 612.95v-6.67M232.85 350.3v6.67M338.8 612.95v-6.67M338.8 350.3v6.67M444.75 612.95v-6.67M444.75 350.3v6.67M550.7 612.95v-6.67M550.7 350.3v6.67M656.65 612.95v-6.67M656.65 350.3v6.67" stroke="#000" stroke-width="1.0" fill="none"/>
<path d="M126.9 575.43h6.67M762 575.43h-6.67M126.9 537.91h6.67M762 537.91h-6.67M126.9 500.39h6.67M762 500.39h-6.67M126.9 462.86h6.67M762 462.86h-6.67M126.9 425.34h6.67M762 425.34h-6.67M126.9 387.82h6.67M762 387.82h-6.67" stroke="#000" stroke-width="1.0" fill="none"/>
<text x="119.7" y="621.2" font-size="26.67" text-anchor="end">0.4</text>
<text x="119.7" y="583.68" font-size="26.67" text-anchor="end">0.5</text>
<text x="119.7" y="546.16" font-size="26.67" text-anchor="end">0.6</text>
<text x="119.7" y="508.64" font-size="26.67" text-anchor="end">0.7</text>
<text x="119.7" y="471.11" font-size="26.67" text-anchor="end">0.8</text>
<text x="119.7" y="433.59" font-size="26.67" text-anchor="end">0.9</text>
<text x="119.7" y="396.07" font-size="26.67" text-anchor="end">1.0</text>
<text x="119.7" y="358.55" font-size="26.67" text-anchor="end">1.1</text>
<text x="126.9" y="640.8" font-size="26.67" text-anchor="middle">0.022</text>
<text x="232.85" y="640.8" font-size="26.67" text-anchor="middle">0.023</text>
<text x="338.8" y="640.8" font-size="26.67" text-anchor="middle">0.024</text>
<text x="444.75" y="640.8" font-size="26.67" text-anchor="middle">0.025</text>
<text x="550.7" y="640.8" font-size="26.67" text-anchor="middle">0.026</text>
<text x="656.65" y="640.8" font-size="26.67" text-anchor="middle">0.027</text>
<text x="444.45" y="675.1" font-size="26.67" text-anchor="middle">MJD - 53897</text>
<text x="62.5" y="482.12" font-size="26.67" text-anchor="middle" transform="rotate(-90 62.5 482.12)">residuals (ps)</text>
<path fill-rule="evenodd" fill="#000" d="M888.2 349.18H1525.79V613.8H888.2ZM890 350.78V612H1523.89V350.78Z"/>
<path d="M995.17 612.95v-6.67M995.17 350.3v6.67M1101.04 612.95v-6.67M1101.04 350.3v6.67M1206.91 612.95v-6.67M1206.91 350.3v6.67M1312.78 612.95v-6.67M1312.78 350.3v6.67M1418.65 612.95v-6.67M1418.65 350.3v6.67" stroke="#000" stroke-width="1.0" fill="none"/>
<path d="M889.3 547.29h6.67M1524.7 547.29h-6.67M889.3 481.62h6.67M1524.7 481.62h-6.67M889.3 415.96h6.67M1524.7 415.96h-6.67" stroke="#000" stroke-width="1.0" fill="none"/>
<text x="882.5" y="621" font-size="26.67" text-anchor="end">−20</text>
<text x="882.5" y="555.34" font-size="26.67" text-anchor="end">−15</text>
<text x="882.5" y="489.68" font-size="26.67" text-anchor="end">−10</text>
<text x="882.5" y="424.01" font-size="26.67" text-anchor="end">−5</text>
<text x="882.5" y="358.35" font-size="26.67" text-anchor="end">0</text>
<text x="889.3" y="640.8" font-size="26.67" text-anchor="middle">0.022</text>
<text x="995.17" y="640.8" font-size="26.67" text-anchor="middle">0.023</text>
<text x="1101.04" y="640.8" font-size="26.67" text-anchor="middle">0.024</text>
<text x="1206.91" y="640.8" font-size="26.67" text-anchor="middle">0.025</text>
<text x="1312.78" y="640.8" font-size="26.67" text-anchor="middle">0.026</text>
<text x="1418.65" y="640.8" font-size="26.67" text-anchor="middle">0.027</text>
<text x="1207" y="675.1" font-size="26.67" text-anchor="middle">MJD - 53897</text>
<text x="810.7" y="481.73" font-size="26.67" text-anchor="middle" transform="rotate(-90 810.7 481.73)">residuals (ps)</text>
</svg>
</body></html>
